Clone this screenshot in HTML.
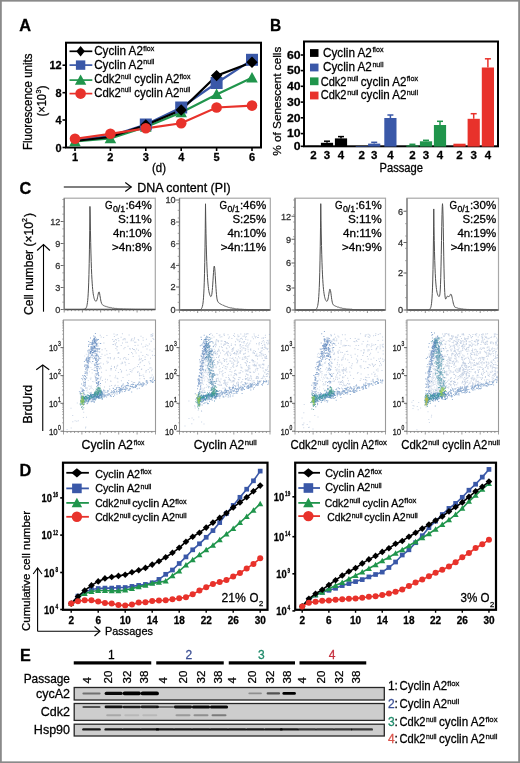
<!DOCTYPE html>
<html><head><meta charset="utf-8"><style>
html,body{margin:0;padding:0;background:#fff;width:520px;height:763px;overflow:hidden}
svg{display:block;filter:blur(0.3px);font-family:"Liberation Sans",sans-serif}
text{stroke-width:0.28px}
</style></head><body>
<svg width="520" height="763" viewBox="0 0 520 763">
<rect x="0" y="0" width="520" height="763" fill="#fff"/>
<text x="19.2" y="31.2" font-size="16.5" font-weight="bold" textLength="11.8" lengthAdjust="spacingAndGlyphs" stroke="#000">A</text>
<rect x="66" y="42.7" width="195" height="104.8" fill="none" stroke="#000" stroke-width="2" />
<line x1="62.5" y1="147.5" x2="66" y2="147.5" stroke="#000" stroke-width="1.6" />
<text x="61.7" y="151.5" font-size="11" font-weight="bold" text-anchor="end" stroke="#000">0</text>
<line x1="62.5" y1="120" x2="66" y2="120" stroke="#000" stroke-width="1.6" />
<text x="61.7" y="124" font-size="11" font-weight="bold" text-anchor="end" stroke="#000">4</text>
<line x1="62.5" y1="92.7" x2="66" y2="92.7" stroke="#000" stroke-width="1.6" />
<text x="61.7" y="96.7" font-size="11" font-weight="bold" text-anchor="end" stroke="#000">8</text>
<line x1="62.5" y1="65.2" x2="66" y2="65.2" stroke="#000" stroke-width="1.6" />
<text x="61.7" y="69.2" font-size="11" font-weight="bold" text-anchor="end" stroke="#000">12</text>
<line x1="75" y1="147.5" x2="75" y2="151" stroke="#000" stroke-width="1.6" />
<text x="75" y="160.8" font-size="11" font-weight="bold" text-anchor="middle" stroke="#000">1</text>
<line x1="110.4" y1="147.5" x2="110.4" y2="151" stroke="#000" stroke-width="1.6" />
<text x="110.4" y="160.8" font-size="11" font-weight="bold" text-anchor="middle" stroke="#000">2</text>
<line x1="145.8" y1="147.5" x2="145.8" y2="151" stroke="#000" stroke-width="1.6" />
<text x="145.8" y="160.8" font-size="11" font-weight="bold" text-anchor="middle" stroke="#000">3</text>
<line x1="181.2" y1="147.5" x2="181.2" y2="151" stroke="#000" stroke-width="1.6" />
<text x="181.2" y="160.8" font-size="11" font-weight="bold" text-anchor="middle" stroke="#000">4</text>
<line x1="216.6" y1="147.5" x2="216.6" y2="151" stroke="#000" stroke-width="1.6" />
<text x="216.6" y="160.8" font-size="11" font-weight="bold" text-anchor="middle" stroke="#000">5</text>
<line x1="252" y1="147.5" x2="252" y2="151" stroke="#000" stroke-width="1.6" />
<text x="252" y="160.8" font-size="11" font-weight="bold" text-anchor="middle" stroke="#000">6</text>
<text x="159" y="172" font-size="12" text-anchor="middle" textLength="14" lengthAdjust="spacingAndGlyphs" stroke="#000">(d)</text>
<text x="31.8" y="150" font-size="12.2" textLength="96.5" lengthAdjust="spacingAndGlyphs" stroke="#000" transform="rotate(-90 31.8 150)">Fluorescence units</text>
<text x="45.8" y="116.5" font-size="12" textLength="22.5" lengthAdjust="spacingAndGlyphs" stroke="#000" transform="rotate(-90 45.8 116.5)">(×10</text>
<text x="40.6" y="93.6" font-size="7.2" stroke="#000" transform="rotate(-90 40.6 93.6)">3</text>
<text x="45.8" y="89.5" font-size="12" stroke="#000" transform="rotate(-90 45.8 89.5)">)</text>
<polyline points="75,140 110.4,136 145.8,124.5 181.2,107.5 216.6,83 252,59.8" stroke="#3a58a8" stroke-width="2.2" fill="none" />
<polyline points="75,141.5 110.4,138.5 145.8,127 181.2,112.5 216.6,94.4 252,77.8" stroke="#20954c" stroke-width="2.2" fill="none" />
<polyline points="75,141 110.4,137 145.8,125 181.2,110 216.6,75.6 252,62.3" stroke="#000000" stroke-width="2.2" fill="none" />
<polyline points="75,138.8 110.4,133.8 145.8,128.3 181.2,123.3 216.6,107.5 252,105.6" stroke="#e8322b" stroke-width="2.2" fill="none" />
<rect x="139.8" y="118.5" width="12" height="12" fill="#3a58a8" />
<rect x="175.2" y="101.5" width="12" height="12" fill="#3a58a8" />
<rect x="210.6" y="77" width="12" height="12" fill="#3a58a8" />
<rect x="246" y="53.8" width="12" height="12" fill="#3a58a8" />
<polygon points="75,135.72 80.78,146.18 69.22,146.18" fill="#20954c" />
<polygon points="110.4,132.72 116.18,143.18 104.62,143.18" fill="#20954c" />
<polygon points="145.8,121.22 151.58,131.68 140.03,131.68" fill="#20954c" />
<polygon points="181.2,106.72 186.97,117.17 175.42,117.17" fill="#20954c" />
<polygon points="216.6,88.62 222.38,99.08 210.82,99.08" fill="#20954c" />
<polygon points="252,72.02 257.77,82.47 246.22,82.47" fill="#20954c" />
<polygon points="145.8,119.3 151.5,125 145.8,130.7 140.1,125" fill="#000000" />
<polygon points="181.2,104.3 186.9,110 181.2,115.7 175.5,110" fill="#000000" />
<polygon points="216.6,69.9 222.3,75.6 216.6,81.3 210.9,75.6" fill="#000000" />
<polygon points="252,56.6 257.7,62.3 252,68 246.3,62.3" fill="#000000" />
<circle cx="75" cy="138.8" r="5.3" fill="#e8322b" />
<circle cx="110.4" cy="133.8" r="5.3" fill="#e8322b" />
<circle cx="145.8" cy="128.3" r="5.3" fill="#e8322b" />
<circle cx="181.2" cy="123.3" r="5.3" fill="#e8322b" />
<circle cx="216.6" cy="107.5" r="5.3" fill="#e8322b" />
<circle cx="252" cy="105.6" r="5.3" fill="#e8322b" />
<line x1="69.5" y1="51.3" x2="92.3" y2="51.3" stroke="#000000" stroke-width="1.7" />
<polygon points="80.6,46 84.9,51.3 80.6,56.6 76.3,51.3" fill="#000000" />
<text x="94.2" y="55.1" font-size="12.4" textLength="48.7" lengthAdjust="spacingAndGlyphs" stroke="#000">Cyclin A2</text>
<text x="143.3" y="50.5" font-size="7.6" textLength="11" lengthAdjust="spacingAndGlyphs" stroke="#000">flox</text>
<line x1="69.5" y1="65.1" x2="92.3" y2="65.1" stroke="#3a58a8" stroke-width="1.7" />
<rect x="75.9" y="60.4" width="9.4" height="9.4" fill="#3a58a8" />
<text x="94.2" y="68.9" font-size="12.4" textLength="48.7" lengthAdjust="spacingAndGlyphs" stroke="#000">Cyclin A2</text>
<text x="143.3" y="64.3" font-size="7.6" textLength="11" lengthAdjust="spacingAndGlyphs" stroke="#000">null</text>
<line x1="69.5" y1="80.1" x2="92.3" y2="80.1" stroke="#20954c" stroke-width="1.7" />
<polygon points="80.6,74.43 86.27,84.69 74.93,84.69" fill="#20954c" />
<text x="94.2" y="83.3" font-size="12.4" textLength="26.6" lengthAdjust="spacingAndGlyphs" stroke="#000">Cdk2</text>
<text x="121.1" y="78.7" font-size="7.6" textLength="10" lengthAdjust="spacingAndGlyphs" stroke="#000">null</text>
<text x="134.2" y="83.3" font-size="12.4" textLength="45.2" lengthAdjust="spacingAndGlyphs" stroke="#000">cyclin A2</text>
<text x="179.6" y="78.7" font-size="7.6" textLength="10.8" lengthAdjust="spacingAndGlyphs" stroke="#000">flox</text>
<line x1="69.5" y1="93.6" x2="92.3" y2="93.6" stroke="#e8322b" stroke-width="1.7" />
<circle cx="80.6" cy="93.6" r="5.3" fill="#e8322b" />
<text x="94.2" y="96.8" font-size="12.4" textLength="26.6" lengthAdjust="spacingAndGlyphs" stroke="#000">Cdk2</text>
<text x="121.1" y="92.2" font-size="7.6" textLength="10" lengthAdjust="spacingAndGlyphs" stroke="#000">null</text>
<text x="134.2" y="96.8" font-size="12.4" textLength="45.2" lengthAdjust="spacingAndGlyphs" stroke="#000">cyclin A2</text>
<text x="179.6" y="92.2" font-size="7.6" textLength="10.8" lengthAdjust="spacingAndGlyphs" stroke="#000">null</text>
<text x="270" y="31.3" font-size="16.5" font-weight="bold" textLength="11.2" lengthAdjust="spacingAndGlyphs" stroke="#000">B</text>
<rect x="304" y="41.5" width="194" height="104.8" fill="none" stroke="#000" stroke-width="2" />
<line x1="300.8" y1="146.3" x2="304" y2="146.3" stroke="#000" stroke-width="1.6" />
<text x="300.6" y="150.1" font-size="11" font-weight="bold" text-anchor="end" textLength="6.8" lengthAdjust="spacingAndGlyphs" stroke="#000">0</text>
<line x1="300.8" y1="133.6" x2="304" y2="133.6" stroke="#000" stroke-width="1.6" />
<text x="300.6" y="137.4" font-size="11" font-weight="bold" text-anchor="end" textLength="13.6" lengthAdjust="spacingAndGlyphs" stroke="#000">10</text>
<line x1="300.8" y1="117.8" x2="304" y2="117.8" stroke="#000" stroke-width="1.6" />
<text x="300.6" y="121.6" font-size="11" font-weight="bold" text-anchor="end" textLength="13.6" lengthAdjust="spacingAndGlyphs" stroke="#000">20</text>
<line x1="300.8" y1="102.1" x2="304" y2="102.1" stroke="#000" stroke-width="1.6" />
<text x="300.6" y="105.9" font-size="11" font-weight="bold" text-anchor="end" textLength="13.6" lengthAdjust="spacingAndGlyphs" stroke="#000">30</text>
<line x1="300.8" y1="86.3" x2="304" y2="86.3" stroke="#000" stroke-width="1.6" />
<text x="300.6" y="90.1" font-size="11" font-weight="bold" text-anchor="end" textLength="13.6" lengthAdjust="spacingAndGlyphs" stroke="#000">40</text>
<line x1="300.8" y1="70.6" x2="304" y2="70.6" stroke="#000" stroke-width="1.6" />
<text x="300.6" y="74.4" font-size="11" font-weight="bold" text-anchor="end" textLength="13.6" lengthAdjust="spacingAndGlyphs" stroke="#000">50</text>
<line x1="300.8" y1="55" x2="304" y2="55" stroke="#000" stroke-width="1.6" />
<text x="300.6" y="58.8" font-size="11" font-weight="bold" text-anchor="end" textLength="13.6" lengthAdjust="spacingAndGlyphs" stroke="#000">60</text>
<text x="281" y="155.7" font-size="11.5" textLength="109" lengthAdjust="spacingAndGlyphs" stroke="#000" transform="rotate(-90 281 155.7)">% of Senescent cells</text>
<rect x="307.4" y="145.8" width="12.2" height="0.8" fill="#000000" />
<rect x="320.9" y="142.8" width="12.2" height="3.8" fill="#000000" />
<line x1="327" y1="141.2" x2="327" y2="142.8" stroke="#000000" stroke-width="1.5" />
<line x1="324" y1="141.2" x2="330" y2="141.2" stroke="#000000" stroke-width="1.5" />
<rect x="334.9" y="138.4" width="12.2" height="8.2" fill="#000000" />
<line x1="341" y1="136.6" x2="341" y2="138.4" stroke="#000000" stroke-width="1.5" />
<line x1="338" y1="136.6" x2="344" y2="136.6" stroke="#000000" stroke-width="1.5" />
<text x="313.5" y="159.4" font-size="11.5" font-weight="bold" text-anchor="middle" stroke="#000">2</text>
<text x="327" y="159.4" font-size="11.5" font-weight="bold" text-anchor="middle" stroke="#000">3</text>
<text x="341" y="159.4" font-size="11.5" font-weight="bold" text-anchor="middle" stroke="#000">4</text>
<rect x="355.7" y="146" width="12.2" height="0.6" fill="#3a58a8" />
<rect x="368.1" y="143.6" width="12.2" height="3" fill="#3a58a8" />
<line x1="374.2" y1="142.3" x2="374.2" y2="143.6" stroke="#3a58a8" stroke-width="1.5" />
<line x1="371.2" y1="142.3" x2="377.2" y2="142.3" stroke="#3a58a8" stroke-width="1.5" />
<rect x="384.3" y="118" width="12.2" height="28.6" fill="#3a58a8" />
<line x1="390.4" y1="115" x2="390.4" y2="118" stroke="#3a58a8" stroke-width="1.5" />
<line x1="387.4" y1="115" x2="393.4" y2="115" stroke="#3a58a8" stroke-width="1.5" />
<text x="361.8" y="159.4" font-size="11.5" font-weight="bold" text-anchor="middle" stroke="#000">2</text>
<text x="374.2" y="159.4" font-size="11.5" font-weight="bold" text-anchor="middle" stroke="#000">3</text>
<text x="390.4" y="159.4" font-size="11.5" font-weight="bold" text-anchor="middle" stroke="#000">4</text>
<rect x="406.3" y="145.3" width="12.2" height="1.3" fill="#20954c" />
<line x1="412.4" y1="144.3" x2="412.4" y2="145.3" stroke="#20954c" stroke-width="1.5" />
<line x1="409.4" y1="144.3" x2="415.4" y2="144.3" stroke="#20954c" stroke-width="1.5" />
<rect x="419.9" y="141.3" width="12.2" height="5.3" fill="#20954c" />
<line x1="426" y1="140.3" x2="426" y2="141.3" stroke="#20954c" stroke-width="1.5" />
<line x1="423" y1="140.3" x2="429" y2="140.3" stroke="#20954c" stroke-width="1.5" />
<rect x="433.9" y="125" width="12.2" height="21.6" fill="#20954c" />
<line x1="440" y1="121.3" x2="440" y2="125" stroke="#20954c" stroke-width="1.5" />
<line x1="437" y1="121.3" x2="443" y2="121.3" stroke="#20954c" stroke-width="1.5" />
<text x="412.4" y="159.4" font-size="11.5" font-weight="bold" text-anchor="middle" stroke="#000">2</text>
<text x="426" y="159.4" font-size="11.5" font-weight="bold" text-anchor="middle" stroke="#000">3</text>
<text x="440" y="159.4" font-size="11.5" font-weight="bold" text-anchor="middle" stroke="#000">4</text>
<rect x="453.4" y="143.7" width="12.2" height="2.9" fill="#e8322b" />
<rect x="467.6" y="118.8" width="12.2" height="27.8" fill="#e8322b" />
<line x1="473.7" y1="113.7" x2="473.7" y2="118.8" stroke="#e8322b" stroke-width="1.5" />
<line x1="470.7" y1="113.7" x2="476.7" y2="113.7" stroke="#e8322b" stroke-width="1.5" />
<rect x="481.8" y="67.5" width="12.2" height="79.1" fill="#e8322b" />
<line x1="487.9" y1="58.8" x2="487.9" y2="67.5" stroke="#e8322b" stroke-width="1.5" />
<line x1="484.9" y1="58.8" x2="490.9" y2="58.8" stroke="#e8322b" stroke-width="1.5" />
<text x="459.5" y="159.4" font-size="11.5" font-weight="bold" text-anchor="middle" stroke="#000">2</text>
<text x="473.7" y="159.4" font-size="11.5" font-weight="bold" text-anchor="middle" stroke="#000">3</text>
<text x="487.9" y="159.4" font-size="11.5" font-weight="bold" text-anchor="middle" stroke="#000">4</text>
<text x="379.5" y="172.2" font-size="12.5" textLength="43.5" lengthAdjust="spacingAndGlyphs" stroke="#000">Passage</text>
<rect x="310" y="49.1" width="8.5" height="7.8" fill="#000000" />
<text x="323" y="56.7" font-size="12" textLength="48.9" lengthAdjust="spacingAndGlyphs" stroke="#000">Cyclin A2</text>
<text x="372.4" y="52.1" font-size="7.6" textLength="11.1" lengthAdjust="spacingAndGlyphs" stroke="#000">flox</text>
<rect x="310" y="63.6" width="8.5" height="7.8" fill="#3a58a8" />
<text x="323" y="71.2" font-size="12" textLength="48.9" lengthAdjust="spacingAndGlyphs" stroke="#000">Cyclin A2</text>
<text x="372.4" y="66.6" font-size="7.6" textLength="11.1" lengthAdjust="spacingAndGlyphs" stroke="#000">null</text>
<rect x="310" y="77.4" width="8.5" height="7.8" fill="#20954c" />
<text x="320.7" y="85.5" font-size="12" textLength="25.8" lengthAdjust="spacingAndGlyphs" stroke="#000">Cdk2</text>
<text x="347.2" y="80.9" font-size="7.6" textLength="11.3" lengthAdjust="spacingAndGlyphs" stroke="#000">null</text>
<text x="360.8" y="85.5" font-size="12" textLength="45.7" lengthAdjust="spacingAndGlyphs" stroke="#000">cyclin A2</text>
<text x="406.8" y="80.9" font-size="7.6" textLength="11.3" lengthAdjust="spacingAndGlyphs" stroke="#000">flox</text>
<rect x="310" y="91.6" width="8.5" height="7.8" fill="#e8322b" />
<text x="320.7" y="99.4" font-size="12" textLength="25.8" lengthAdjust="spacingAndGlyphs" stroke="#000">Cdk2</text>
<text x="347.2" y="94.8" font-size="7.6" textLength="11.3" lengthAdjust="spacingAndGlyphs" stroke="#000">null</text>
<text x="360.8" y="99.4" font-size="12" textLength="45.7" lengthAdjust="spacingAndGlyphs" stroke="#000">cyclin A2</text>
<text x="406.8" y="94.8" font-size="7.6" textLength="11.3" lengthAdjust="spacingAndGlyphs" stroke="#000">null</text>
<text x="19.5" y="193.7" font-size="16.5" font-weight="bold" textLength="11.8" lengthAdjust="spacingAndGlyphs" stroke="#000">C</text>
<line x1="63.8" y1="187" x2="131.3" y2="187" stroke="#000" stroke-width="1.1" />
<polyline points="125.3,182.5 131.3,187 125.3,191.5" stroke="#000" stroke-width="1.1" fill="none" />
<text x="137.2" y="191.6" font-size="12" textLength="93.5" lengthAdjust="spacingAndGlyphs" stroke="#000">DNA content (PI)</text>
<text x="33" y="315" font-size="12" textLength="93" lengthAdjust="spacingAndGlyphs" stroke="#000" transform="rotate(-90 33 315)">Cell number (×10</text>
<text x="27" y="222" font-size="7" stroke="#000" transform="rotate(-90 27 222)">2</text>
<text x="33" y="217" font-size="12" stroke="#000" transform="rotate(-90 33 217)">)</text>
<line x1="43.5" y1="311.7" x2="43.5" y2="244.5" stroke="#000" stroke-width="1.1" />
<polyline points="37.1,250.5 43.5,244.5 49.9,250.5" stroke="#000" stroke-width="1.1" fill="none" />
<text x="32.4" y="423.5" font-size="12.2" textLength="38.5" lengthAdjust="spacingAndGlyphs" stroke="#000" transform="rotate(-90 32.4 423.5)">BrdUrd</text>
<line x1="42.75" y1="431" x2="42.75" y2="365" stroke="#000" stroke-width="1.1" />
<polyline points="36.25,369.8 42.75,365 49.25,369.8" stroke="#000" stroke-width="1.1" fill="none" />
<rect x="64.2" y="198.2" width="91.1" height="111.3" fill="none" stroke="#a8a8a8" stroke-width="1.2" />
<line x1="64.2" y1="198.2" x2="64.2" y2="309.5" stroke="#777" stroke-width="1.2" />
<line x1="64.2" y1="309.5" x2="155.3" y2="309.5" stroke="#555" stroke-width="1.3" />
<line x1="60.7" y1="309.5" x2="64.2" y2="309.5" stroke="#666" stroke-width="1" />
<text x="60.4" y="312.8" font-size="9.2" text-anchor="end" fill="#333" stroke="#333">0</text>
<line x1="60.7" y1="287.5" x2="64.2" y2="287.5" stroke="#666" stroke-width="1" />
<text x="60.4" y="290.8" font-size="9.2" text-anchor="end" fill="#333" stroke="#333">3</text>
<line x1="60.7" y1="265.5" x2="64.2" y2="265.5" stroke="#666" stroke-width="1" />
<text x="60.4" y="268.8" font-size="9.2" text-anchor="end" fill="#333" stroke="#333">6</text>
<line x1="60.7" y1="243.5" x2="64.2" y2="243.5" stroke="#666" stroke-width="1" />
<text x="60.4" y="246.8" font-size="9.2" text-anchor="end" fill="#333" stroke="#333">9</text>
<line x1="60.7" y1="221.5" x2="64.2" y2="221.5" stroke="#666" stroke-width="1" />
<text x="60.4" y="224.8" font-size="9.2" text-anchor="end" fill="#333" stroke="#333">12</text>
<line x1="62.4" y1="309.5" x2="64.2" y2="309.5" stroke="#888" stroke-width="0.8" />
<line x1="62.4" y1="302.17" x2="64.2" y2="302.17" stroke="#888" stroke-width="0.8" />
<line x1="62.4" y1="294.83" x2="64.2" y2="294.83" stroke="#888" stroke-width="0.8" />
<line x1="62.4" y1="287.5" x2="64.2" y2="287.5" stroke="#888" stroke-width="0.8" />
<line x1="62.4" y1="280.17" x2="64.2" y2="280.17" stroke="#888" stroke-width="0.8" />
<line x1="62.4" y1="272.83" x2="64.2" y2="272.83" stroke="#888" stroke-width="0.8" />
<line x1="62.4" y1="265.5" x2="64.2" y2="265.5" stroke="#888" stroke-width="0.8" />
<line x1="62.4" y1="258.17" x2="64.2" y2="258.17" stroke="#888" stroke-width="0.8" />
<line x1="62.4" y1="250.83" x2="64.2" y2="250.83" stroke="#888" stroke-width="0.8" />
<line x1="62.4" y1="243.5" x2="64.2" y2="243.5" stroke="#888" stroke-width="0.8" />
<line x1="62.4" y1="236.17" x2="64.2" y2="236.17" stroke="#888" stroke-width="0.8" />
<line x1="62.4" y1="228.83" x2="64.2" y2="228.83" stroke="#888" stroke-width="0.8" />
<line x1="62.4" y1="221.5" x2="64.2" y2="221.5" stroke="#888" stroke-width="0.8" />
<line x1="62.4" y1="214.17" x2="64.2" y2="214.17" stroke="#888" stroke-width="0.8" />
<line x1="62.4" y1="206.83" x2="64.2" y2="206.83" stroke="#888" stroke-width="0.8" />
<line x1="62.4" y1="199.5" x2="64.2" y2="199.5" stroke="#888" stroke-width="0.8" />
<line x1="64.2" y1="309.5" x2="64.2" y2="312.5" stroke="#777" stroke-width="0.8" />
<line x1="67.84" y1="309.5" x2="67.84" y2="311.1" stroke="#777" stroke-width="0.8" />
<line x1="71.49" y1="309.5" x2="71.49" y2="311.1" stroke="#777" stroke-width="0.8" />
<line x1="75.13" y1="309.5" x2="75.13" y2="311.1" stroke="#777" stroke-width="0.8" />
<line x1="78.78" y1="309.5" x2="78.78" y2="311.1" stroke="#777" stroke-width="0.8" />
<line x1="82.42" y1="309.5" x2="82.42" y2="312.5" stroke="#777" stroke-width="0.8" />
<line x1="86.06" y1="309.5" x2="86.06" y2="311.1" stroke="#777" stroke-width="0.8" />
<line x1="89.71" y1="309.5" x2="89.71" y2="311.1" stroke="#777" stroke-width="0.8" />
<line x1="93.35" y1="309.5" x2="93.35" y2="311.1" stroke="#777" stroke-width="0.8" />
<line x1="97" y1="309.5" x2="97" y2="311.1" stroke="#777" stroke-width="0.8" />
<line x1="100.64" y1="309.5" x2="100.64" y2="312.5" stroke="#777" stroke-width="0.8" />
<line x1="104.28" y1="309.5" x2="104.28" y2="311.1" stroke="#777" stroke-width="0.8" />
<line x1="107.93" y1="309.5" x2="107.93" y2="311.1" stroke="#777" stroke-width="0.8" />
<line x1="111.57" y1="309.5" x2="111.57" y2="311.1" stroke="#777" stroke-width="0.8" />
<line x1="115.22" y1="309.5" x2="115.22" y2="311.1" stroke="#777" stroke-width="0.8" />
<line x1="118.86" y1="309.5" x2="118.86" y2="312.5" stroke="#777" stroke-width="0.8" />
<line x1="122.5" y1="309.5" x2="122.5" y2="311.1" stroke="#777" stroke-width="0.8" />
<line x1="126.15" y1="309.5" x2="126.15" y2="311.1" stroke="#777" stroke-width="0.8" />
<line x1="129.79" y1="309.5" x2="129.79" y2="311.1" stroke="#777" stroke-width="0.8" />
<line x1="133.44" y1="309.5" x2="133.44" y2="311.1" stroke="#777" stroke-width="0.8" />
<line x1="137.08" y1="309.5" x2="137.08" y2="312.5" stroke="#777" stroke-width="0.8" />
<line x1="140.72" y1="309.5" x2="140.72" y2="311.1" stroke="#777" stroke-width="0.8" />
<line x1="144.37" y1="309.5" x2="144.37" y2="311.1" stroke="#777" stroke-width="0.8" />
<line x1="148.01" y1="309.5" x2="148.01" y2="311.1" stroke="#777" stroke-width="0.8" />
<line x1="151.66" y1="309.5" x2="151.66" y2="311.1" stroke="#777" stroke-width="0.8" />
<polyline points="66.2,309.5 66.45,309.5 66.7,309.5 66.95,309.5 67.2,309.5 67.45,309.5 67.7,309.5 67.95,309.5 68.2,309.5 68.45,309.5 68.7,309.5 68.95,309.5 69.2,309.5 69.45,309.5 69.7,309.5 69.95,309.5 70.2,309.5 70.45,309.5 70.7,309.5 70.95,309.5 71.2,309.5 71.45,309.5 71.7,309.5 71.95,309.5 72.2,309.5 72.45,309.5 72.7,309.5 72.95,309.5 73.2,309.5 73.45,309.5 73.7,309.5 73.95,309.5 74.2,309.5 74.45,309.5 74.7,309.5 74.95,309.5 75.2,309.5 75.45,309.5 75.7,309.5 75.95,309.5 76.2,309.5 76.45,309.5 76.7,309.5 76.95,309.5 77.2,309.5 77.45,309.5 77.7,309.5 77.95,309.5 78.2,309.5 78.45,309.5 78.7,309.5 78.95,309.5 79.2,309.5 79.45,309.5 79.7,309.5 79.95,309.5 80.2,309.5 80.45,309.5 80.7,309.5 80.95,309.49 81.2,309.49 81.45,309.49 81.7,309.49 81.95,309.48 82.2,309.48 82.45,309.47 82.7,309.47 82.95,309.45 83.2,309.44 83.45,309.42 83.7,309.4 83.95,309.36 84.2,309.31 84.45,309.24 84.7,309.17 84.95,309.03 85.2,308.96 85.45,308.64 85.7,308.63 85.95,308.11 86.2,307.77 86.45,307.18 86.7,306.58 86.95,305.62 87.2,304.19 87.45,302.5 87.7,300.54 87.95,297.61 88.2,293.85 88.45,288.98 88.7,282.86 88.95,274.54 89.2,263.61 89.45,249.15 89.7,230.79 89.95,206.41 90.2,214.96 90.45,230.21 90.7,242.64 90.95,253.06 91.2,261.47 91.45,268.48 91.7,274.57 91.95,279.21 92.2,283.16 92.45,286.57 92.7,289.49 92.95,291.64 93.2,293.75 93.45,295.23 93.7,296.41 93.95,297.68 94.2,298.59 94.45,299.38 94.7,300.03 94.95,300.32 95.2,300.86 95.45,301.13 95.7,301.24 95.95,301.43 96.2,301.19 96.45,301.06 96.7,300.47 96.95,299.76 97.2,299.03 97.45,297.82 97.7,296.47 97.95,295.23 98.2,294.09 98.45,292.9 98.7,292.14 98.95,291.88 99.2,292 99.45,292.84 99.7,293.86 99.95,295.49 100.2,297.02 100.45,298.36 100.7,299.92 100.95,301.25 101.2,302.06 101.45,303.07 101.7,303.6 101.95,304.09 102.2,304.4 102.45,304.75 102.7,304.93 102.95,305.22 103.2,305.39 103.45,305.33 103.7,305.59 103.95,305.54 104.2,305.74 104.45,305.86 104.7,306.11 104.95,305.95 105.2,306.2 105.45,306.25 105.7,306.39 105.95,306.53 106.2,306.41 106.45,306.59 106.7,306.84 106.95,306.74 107.2,306.9 107.45,306.91 107.7,306.87 107.95,307.1 108.2,307 108.45,307.15 108.7,307.4 108.95,307.19 109.2,307.32 109.45,307.28 109.7,307.59 109.95,307.65 110.2,307.47 110.45,307.59 110.7,307.83 110.95,307.67 111.2,307.72 111.45,307.72 111.7,307.83 111.95,308.05 112.2,308.12 112.45,308.16 112.7,308.2 112.95,308.18 113.2,308.03 113.45,308.16 113.7,308.2 113.95,308.14 114.2,308.39 114.45,308.38 114.7,308.32 114.95,308.24 115.2,308.39 115.45,308.58 115.7,308.38 115.95,308.58 116.2,308.43 116.45,308.58 116.7,308.48 116.95,308.54 117.2,308.61 117.45,308.74 117.7,308.78 117.95,308.79 118.2,308.83 118.45,308.83 118.7,308.82 118.95,308.73 119.2,308.79 119.45,308.92 119.7,308.92 119.95,308.77 120.2,308.86 120.45,308.95 120.7,308.95 120.95,308.88 121.2,308.99 121.45,308.94 121.7,308.9 121.95,308.93 122.2,309.04 122.45,309.01 122.7,309.01 122.95,308.99 123.2,309.1 123.45,309.13 123.7,309.13 123.95,309.09 124.2,309.09 124.45,309.1 124.7,309.14 124.95,309.08 125.2,309.13 125.45,309.16 125.7,309.16 125.95,309.15 126.2,309.16 126.45,309.21 126.7,309.24 126.95,309.22 127.2,309.2 127.45,309.24 127.7,309.21 127.95,309.27 128.2,309.26 128.45,309.23 128.7,309.28 128.95,309.25 129.2,309.27 129.45,309.25 129.7,309.3 129.95,309.32 130.2,309.28 130.45,309.28 130.7,309.28 130.95,309.29 131.2,309.34 131.45,309.33 131.7,309.32 131.95,309.31 132.2,309.31 132.45,309.34 132.7,309.32 132.95,309.34 133.2,309.36 133.45,309.36 133.7,309.36 133.95,309.36 134.2,309.35 134.45,309.36 134.7,309.38 134.95,309.36 135.2,309.39 135.45,309.4 135.7,309.4 135.95,309.39 136.2,309.41 136.45,309.38 136.7,309.39 136.95,309.42 137.2,309.41 137.45,309.41 137.7,309.42 137.95,309.4 138.2,309.42 138.45,309.41 138.7,309.42 138.95,309.41 139.2,309.42 139.45,309.42 139.7,309.43 139.95,309.43 140.2,309.43 140.45,309.44 140.7,309.44 140.95,309.44 141.2,309.45 141.45,309.44 141.7,309.44 141.95,309.44 142.2,309.45 142.45,309.44 142.7,309.45 142.95,309.45 143.2,309.45 143.45,309.45 143.7,309.46 143.95,309.46 144.2,309.45 144.45,309.45 144.7,309.47 144.95,309.45 145.2,309.46 145.45,309.46 145.7,309.46 145.95,309.46 146.2,309.46 146.45,309.46 146.7,309.47 146.95,309.47 147.2,309.47 147.45,309.47 147.7,309.47 147.95,309.47 148.2,309.47 148.45,309.47 148.7,309.47 148.95,309.47 149.2,309.48 149.45,309.48 149.7,309.48 149.95,309.48 150.2,309.48 150.45,309.48 150.7,309.48 150.95,309.48 151.2,309.48 151.45,309.48 151.7,309.48 151.95,309.48 152.2,309.48 152.45,309.48 152.7,309.48 152.95,309.48 153.2,309.48 153.45,309.48 153.7,309.48 153.95,309.49 154.2,309.49" stroke="#505050" stroke-width="1" fill="none" />
<rect x="179.5" y="198.2" width="90.8" height="111.8" fill="none" stroke="#a8a8a8" stroke-width="1.2" />
<line x1="179.5" y1="198.2" x2="179.5" y2="310" stroke="#777" stroke-width="1.2" />
<line x1="179.5" y1="310" x2="270.3" y2="310" stroke="#555" stroke-width="1.3" />
<line x1="176" y1="310" x2="179.5" y2="310" stroke="#666" stroke-width="1" />
<text x="175.7" y="313.3" font-size="9.2" text-anchor="end" fill="#333" stroke="#333">0</text>
<line x1="176" y1="287" x2="179.5" y2="287" stroke="#666" stroke-width="1" />
<text x="175.7" y="290.3" font-size="9.2" text-anchor="end" fill="#333" stroke="#333">2</text>
<line x1="176" y1="265.5" x2="179.5" y2="265.5" stroke="#666" stroke-width="1" />
<text x="175.7" y="268.8" font-size="9.2" text-anchor="end" fill="#333" stroke="#333">4</text>
<line x1="176" y1="243.75" x2="179.5" y2="243.75" stroke="#666" stroke-width="1" />
<text x="175.7" y="247.05" font-size="9.2" text-anchor="end" fill="#333" stroke="#333">6</text>
<line x1="176" y1="222" x2="179.5" y2="222" stroke="#666" stroke-width="1" />
<text x="175.7" y="225.3" font-size="9.2" text-anchor="end" fill="#333" stroke="#333">8</text>
<line x1="176" y1="200" x2="179.5" y2="200" stroke="#666" stroke-width="1" />
<text x="175.7" y="203.3" font-size="9.2" text-anchor="end" fill="#333" stroke="#333">10</text>
<line x1="177.7" y1="310" x2="179.5" y2="310" stroke="#888" stroke-width="0.8" />
<line x1="177.7" y1="302.33" x2="179.5" y2="302.33" stroke="#888" stroke-width="0.8" />
<line x1="177.7" y1="294.67" x2="179.5" y2="294.67" stroke="#888" stroke-width="0.8" />
<line x1="177.7" y1="287" x2="179.5" y2="287" stroke="#888" stroke-width="0.8" />
<line x1="177.7" y1="279.33" x2="179.5" y2="279.33" stroke="#888" stroke-width="0.8" />
<line x1="177.7" y1="271.67" x2="179.5" y2="271.67" stroke="#888" stroke-width="0.8" />
<line x1="177.7" y1="264" x2="179.5" y2="264" stroke="#888" stroke-width="0.8" />
<line x1="177.7" y1="256.33" x2="179.5" y2="256.33" stroke="#888" stroke-width="0.8" />
<line x1="177.7" y1="248.67" x2="179.5" y2="248.67" stroke="#888" stroke-width="0.8" />
<line x1="177.7" y1="241" x2="179.5" y2="241" stroke="#888" stroke-width="0.8" />
<line x1="177.7" y1="233.33" x2="179.5" y2="233.33" stroke="#888" stroke-width="0.8" />
<line x1="177.7" y1="225.67" x2="179.5" y2="225.67" stroke="#888" stroke-width="0.8" />
<line x1="177.7" y1="218" x2="179.5" y2="218" stroke="#888" stroke-width="0.8" />
<line x1="177.7" y1="210.33" x2="179.5" y2="210.33" stroke="#888" stroke-width="0.8" />
<line x1="177.7" y1="202.67" x2="179.5" y2="202.67" stroke="#888" stroke-width="0.8" />
<line x1="179.5" y1="310" x2="179.5" y2="313" stroke="#777" stroke-width="0.8" />
<line x1="183.13" y1="310" x2="183.13" y2="311.6" stroke="#777" stroke-width="0.8" />
<line x1="186.76" y1="310" x2="186.76" y2="311.6" stroke="#777" stroke-width="0.8" />
<line x1="190.4" y1="310" x2="190.4" y2="311.6" stroke="#777" stroke-width="0.8" />
<line x1="194.03" y1="310" x2="194.03" y2="311.6" stroke="#777" stroke-width="0.8" />
<line x1="197.66" y1="310" x2="197.66" y2="313" stroke="#777" stroke-width="0.8" />
<line x1="201.29" y1="310" x2="201.29" y2="311.6" stroke="#777" stroke-width="0.8" />
<line x1="204.92" y1="310" x2="204.92" y2="311.6" stroke="#777" stroke-width="0.8" />
<line x1="208.56" y1="310" x2="208.56" y2="311.6" stroke="#777" stroke-width="0.8" />
<line x1="212.19" y1="310" x2="212.19" y2="311.6" stroke="#777" stroke-width="0.8" />
<line x1="215.82" y1="310" x2="215.82" y2="313" stroke="#777" stroke-width="0.8" />
<line x1="219.45" y1="310" x2="219.45" y2="311.6" stroke="#777" stroke-width="0.8" />
<line x1="223.08" y1="310" x2="223.08" y2="311.6" stroke="#777" stroke-width="0.8" />
<line x1="226.72" y1="310" x2="226.72" y2="311.6" stroke="#777" stroke-width="0.8" />
<line x1="230.35" y1="310" x2="230.35" y2="311.6" stroke="#777" stroke-width="0.8" />
<line x1="233.98" y1="310" x2="233.98" y2="313" stroke="#777" stroke-width="0.8" />
<line x1="237.61" y1="310" x2="237.61" y2="311.6" stroke="#777" stroke-width="0.8" />
<line x1="241.24" y1="310" x2="241.24" y2="311.6" stroke="#777" stroke-width="0.8" />
<line x1="244.88" y1="310" x2="244.88" y2="311.6" stroke="#777" stroke-width="0.8" />
<line x1="248.51" y1="310" x2="248.51" y2="311.6" stroke="#777" stroke-width="0.8" />
<line x1="252.14" y1="310" x2="252.14" y2="313" stroke="#777" stroke-width="0.8" />
<line x1="255.77" y1="310" x2="255.77" y2="311.6" stroke="#777" stroke-width="0.8" />
<line x1="259.4" y1="310" x2="259.4" y2="311.6" stroke="#777" stroke-width="0.8" />
<line x1="263.04" y1="310" x2="263.04" y2="311.6" stroke="#777" stroke-width="0.8" />
<line x1="266.67" y1="310" x2="266.67" y2="311.6" stroke="#777" stroke-width="0.8" />
<polyline points="181.5,310 181.75,310 182,310 182.25,310 182.5,310 182.75,310 183,310 183.25,310 183.5,310 183.75,310 184,310 184.25,310 184.5,310 184.75,310 185,310 185.25,310 185.5,310 185.75,310 186,310 186.25,310 186.5,310 186.75,310 187,310 187.25,310 187.5,310 187.75,310 188,310 188.25,310 188.5,310 188.75,310 189,310 189.25,310 189.5,310 189.75,310 190,310 190.25,310 190.5,310 190.75,310 191,310 191.25,310 191.5,310 191.75,310 192,310 192.25,310 192.5,310 192.75,310 193,310 193.25,310 193.5,310 193.75,310 194,310 194.25,310 194.5,310 194.75,310 195,310 195.25,310 195.5,310 195.75,310 196,310 196.25,310 196.5,309.99 196.75,309.99 197,309.99 197.25,309.99 197.5,309.98 197.75,309.98 198,309.97 198.25,309.96 198.5,309.95 198.75,309.93 199,309.92 199.25,309.89 199.5,309.84 199.75,309.81 200,309.75 200.25,309.64 200.5,309.54 200.75,309.46 201,309.2 201.25,309.05 201.5,308.54 201.75,308.08 202,307.62 202.25,306.76 202.5,306.01 202.75,304.58 203,303.01 203.25,300.66 203.5,297.82 203.75,293.95 204,288.76 204.25,282.26 204.5,273.66 204.75,262.37 205,247.66 205.25,228.54 205.5,203.79 205.75,220.13 206,233.71 206.25,244.84 206.5,254.05 206.75,261.52 207,267.87 207.25,273.22 207.5,277.39 207.75,280.92 208,284.06 208.25,286.44 208.5,288.68 208.75,290.34 209,291.82 209.25,293.01 209.5,293.89 209.75,294.77 210,295.3 210.25,295.93 210.5,296.43 210.75,296.54 211,296.39 211.25,296.24 211.5,295.72 211.75,294.57 212,292.98 212.25,290.44 212.5,287.54 212.75,284.09 213,280.24 213.25,276.13 213.5,272.48 213.75,269.23 214,266.94 214.25,266.04 214.5,266.7 214.75,268.4 215,271.69 215.25,275.61 215.5,280 215.75,284.37 216,288.37 216.25,291.76 216.5,294.69 216.75,297.07 217,298.89 217.25,299.9 217.5,300.94 217.75,301.47 218,302.08 218.25,302.23 218.5,302.58 218.75,302.77 219,302.99 219.25,303.2 219.5,303.31 219.75,303.36 220,303.78 220.25,303.87 220.5,304.11 220.75,304.05 221,304.22 221.25,304.49 221.5,304.57 221.75,304.64 222,304.77 222.25,305.04 222.5,304.95 222.75,305.11 223,305.42 223.25,305.31 223.5,305.46 223.75,305.56 224,305.74 224.25,305.94 224.5,305.84 224.75,306.03 225,306.2 225.25,306.32 225.5,306.22 225.75,306.46 226,306.51 226.25,306.58 226.5,306.6 226.75,306.74 227,306.95 227.25,306.9 227.5,307.01 227.75,307.07 228,307.09 228.25,307.3 228.5,307.39 228.75,307.48 229,307.49 229.25,307.64 229.5,307.51 229.75,307.67 230,307.76 230.25,307.85 230.5,307.85 230.75,307.92 231,307.96 231.25,307.95 231.5,307.98 231.75,307.94 232,307.95 232.25,308.27 232.5,308.27 232.75,308.19 233,308.38 233.25,308.21 233.5,308.44 233.75,308.33 234,308.39 234.25,308.39 234.5,308.65 234.75,308.63 235,308.53 235.25,308.75 235.5,308.8 235.75,308.73 236,308.69 236.25,308.89 236.5,308.91 236.75,308.95 237,308.87 237.25,308.82 237.5,308.99 237.75,308.81 238,308.97 238.25,308.94 238.5,309.07 238.75,309 239,308.92 239.25,309.09 239.5,309.18 239.75,309.14 240,309.16 240.25,309.16 240.5,309.18 240.75,309.31 241,309.3 241.25,309.25 241.5,309.22 241.75,309.22 242,309.24 242.25,309.31 242.5,309.24 242.75,309.38 243,309.37 243.25,309.33 243.5,309.33 243.75,309.43 244,309.37 244.25,309.45 244.5,309.42 244.75,309.55 245,309.55 245.25,309.43 245.5,309.56 245.75,309.49 246,309.56 246.25,309.58 246.5,309.57 246.75,309.51 247,309.57 247.25,309.53 247.5,309.57 247.75,309.6 248,309.61 248.25,309.66 248.5,309.69 248.75,309.65 249,309.64 249.25,309.62 249.5,309.65 249.75,309.64 250,309.64 250.25,309.65 250.5,309.67 250.75,309.74 251,309.73 251.25,309.75 251.5,309.7 251.75,309.71 252,309.75 252.25,309.74 252.5,309.73 252.75,309.74 253,309.79 253.25,309.76 253.5,309.76 253.75,309.81 254,309.81 254.25,309.8 254.5,309.82 254.75,309.78 255,309.8 255.25,309.8 255.5,309.8 255.75,309.83 256,309.84 256.25,309.82 256.5,309.84 256.75,309.82 257,309.84 257.25,309.85 257.5,309.84 257.75,309.86 258,309.87 258.25,309.85 258.5,309.87 258.75,309.88 259,309.86 259.25,309.86 259.5,309.89 259.75,309.87 260,309.87 260.25,309.9 260.5,309.88 260.75,309.89 261,309.91 261.25,309.9 261.5,309.91 261.75,309.91 262,309.92 262.25,309.92 262.5,309.91 262.75,309.91 263,309.92 263.25,309.91 263.5,309.93 263.75,309.93 264,309.92 264.25,309.92 264.5,309.92 264.75,309.92 265,309.93 265.25,309.94 265.5,309.93 265.75,309.94 266,309.94 266.25,309.94 266.5,309.93 266.75,309.94 267,309.93 267.25,309.94 267.5,309.94 267.75,309.94 268,309.94 268.25,309.94 268.5,309.94 268.75,309.95 269,309.95 269.25,309.96" stroke="#505050" stroke-width="1" fill="none" />
<rect x="295" y="198.2" width="90.5" height="111.8" fill="none" stroke="#a8a8a8" stroke-width="1.2" />
<line x1="295" y1="198.2" x2="295" y2="310" stroke="#777" stroke-width="1.2" />
<line x1="295" y1="310" x2="385.5" y2="310" stroke="#555" stroke-width="1.3" />
<line x1="291.5" y1="310" x2="295" y2="310" stroke="#666" stroke-width="1" />
<text x="291.2" y="313.3" font-size="9.2" text-anchor="end" fill="#333" stroke="#333">0</text>
<line x1="291.5" y1="288" x2="295" y2="288" stroke="#666" stroke-width="1" />
<text x="291.2" y="291.3" font-size="9.2" text-anchor="end" fill="#333" stroke="#333">3</text>
<line x1="291.5" y1="263" x2="295" y2="263" stroke="#666" stroke-width="1" />
<text x="291.2" y="266.3" font-size="9.2" text-anchor="end" fill="#333" stroke="#333">6</text>
<line x1="291.5" y1="239.25" x2="295" y2="239.25" stroke="#666" stroke-width="1" />
<text x="291.2" y="242.55" font-size="9.2" text-anchor="end" fill="#333" stroke="#333">9</text>
<line x1="291.5" y1="216.25" x2="295" y2="216.25" stroke="#666" stroke-width="1" />
<text x="291.2" y="219.55" font-size="9.2" text-anchor="end" fill="#333" stroke="#333">12</text>
<line x1="293.2" y1="310" x2="295" y2="310" stroke="#888" stroke-width="0.8" />
<line x1="293.2" y1="302.67" x2="295" y2="302.67" stroke="#888" stroke-width="0.8" />
<line x1="293.2" y1="295.33" x2="295" y2="295.33" stroke="#888" stroke-width="0.8" />
<line x1="293.2" y1="288" x2="295" y2="288" stroke="#888" stroke-width="0.8" />
<line x1="293.2" y1="280.67" x2="295" y2="280.67" stroke="#888" stroke-width="0.8" />
<line x1="293.2" y1="273.33" x2="295" y2="273.33" stroke="#888" stroke-width="0.8" />
<line x1="293.2" y1="266" x2="295" y2="266" stroke="#888" stroke-width="0.8" />
<line x1="293.2" y1="258.67" x2="295" y2="258.67" stroke="#888" stroke-width="0.8" />
<line x1="293.2" y1="251.33" x2="295" y2="251.33" stroke="#888" stroke-width="0.8" />
<line x1="293.2" y1="244" x2="295" y2="244" stroke="#888" stroke-width="0.8" />
<line x1="293.2" y1="236.67" x2="295" y2="236.67" stroke="#888" stroke-width="0.8" />
<line x1="293.2" y1="229.33" x2="295" y2="229.33" stroke="#888" stroke-width="0.8" />
<line x1="293.2" y1="222" x2="295" y2="222" stroke="#888" stroke-width="0.8" />
<line x1="293.2" y1="214.67" x2="295" y2="214.67" stroke="#888" stroke-width="0.8" />
<line x1="293.2" y1="207.33" x2="295" y2="207.33" stroke="#888" stroke-width="0.8" />
<line x1="293.2" y1="200" x2="295" y2="200" stroke="#888" stroke-width="0.8" />
<line x1="295" y1="310" x2="295" y2="313" stroke="#777" stroke-width="0.8" />
<line x1="298.62" y1="310" x2="298.62" y2="311.6" stroke="#777" stroke-width="0.8" />
<line x1="302.24" y1="310" x2="302.24" y2="311.6" stroke="#777" stroke-width="0.8" />
<line x1="305.86" y1="310" x2="305.86" y2="311.6" stroke="#777" stroke-width="0.8" />
<line x1="309.48" y1="310" x2="309.48" y2="311.6" stroke="#777" stroke-width="0.8" />
<line x1="313.1" y1="310" x2="313.1" y2="313" stroke="#777" stroke-width="0.8" />
<line x1="316.72" y1="310" x2="316.72" y2="311.6" stroke="#777" stroke-width="0.8" />
<line x1="320.34" y1="310" x2="320.34" y2="311.6" stroke="#777" stroke-width="0.8" />
<line x1="323.96" y1="310" x2="323.96" y2="311.6" stroke="#777" stroke-width="0.8" />
<line x1="327.58" y1="310" x2="327.58" y2="311.6" stroke="#777" stroke-width="0.8" />
<line x1="331.2" y1="310" x2="331.2" y2="313" stroke="#777" stroke-width="0.8" />
<line x1="334.82" y1="310" x2="334.82" y2="311.6" stroke="#777" stroke-width="0.8" />
<line x1="338.44" y1="310" x2="338.44" y2="311.6" stroke="#777" stroke-width="0.8" />
<line x1="342.06" y1="310" x2="342.06" y2="311.6" stroke="#777" stroke-width="0.8" />
<line x1="345.68" y1="310" x2="345.68" y2="311.6" stroke="#777" stroke-width="0.8" />
<line x1="349.3" y1="310" x2="349.3" y2="313" stroke="#777" stroke-width="0.8" />
<line x1="352.92" y1="310" x2="352.92" y2="311.6" stroke="#777" stroke-width="0.8" />
<line x1="356.54" y1="310" x2="356.54" y2="311.6" stroke="#777" stroke-width="0.8" />
<line x1="360.16" y1="310" x2="360.16" y2="311.6" stroke="#777" stroke-width="0.8" />
<line x1="363.78" y1="310" x2="363.78" y2="311.6" stroke="#777" stroke-width="0.8" />
<line x1="367.4" y1="310" x2="367.4" y2="313" stroke="#777" stroke-width="0.8" />
<line x1="371.02" y1="310" x2="371.02" y2="311.6" stroke="#777" stroke-width="0.8" />
<line x1="374.64" y1="310" x2="374.64" y2="311.6" stroke="#777" stroke-width="0.8" />
<line x1="378.26" y1="310" x2="378.26" y2="311.6" stroke="#777" stroke-width="0.8" />
<line x1="381.88" y1="310" x2="381.88" y2="311.6" stroke="#777" stroke-width="0.8" />
<polyline points="297,310 297.25,310 297.5,310 297.75,310 298,310 298.25,310 298.5,310 298.75,310 299,310 299.25,310 299.5,310 299.75,310 300,310 300.25,310 300.5,310 300.75,310 301,310 301.25,310 301.5,310 301.75,310 302,310 302.25,310 302.5,310 302.75,310 303,310 303.25,310 303.5,310 303.75,310 304,310 304.25,310 304.5,310 304.75,310 305,310 305.25,310 305.5,310 305.75,310 306,310 306.25,310 306.5,310 306.75,310 307,310 307.25,310 307.5,310 307.75,310 308,310 308.25,310 308.5,310 308.75,310 309,310 309.25,310 309.5,310 309.75,310 310,310 310.25,310 310.5,310 310.75,310 311,310 311.25,309.99 311.5,309.99 311.75,309.99 312,309.99 312.25,309.99 312.5,309.98 312.75,309.97 313,309.97 313.25,309.96 313.5,309.95 313.75,309.92 314,309.9 314.25,309.89 314.5,309.86 314.75,309.83 315,309.74 315.25,309.71 315.5,309.56 315.75,309.4 316,309.3 316.25,308.98 316.5,308.71 316.75,308.5 317,307.85 317.25,307.3 317.5,306.43 317.75,305.39 318,303.87 318.25,302.13 318.5,299.85 318.75,296.67 319,292.62 319.25,287.6 319.5,280.94 319.75,272.24 320,260.88 320.25,246.41 320.5,227.84 320.75,203.68 321,220.17 321.25,233.99 321.5,245.45 321.75,254.75 322,262.68 322.25,269.34 322.5,274.89 322.75,279.45 323,283.29 323.25,286.58 323.5,289.28 323.75,291.49 324,293.27 324.25,294.93 324.5,296.35 324.75,297.45 325,298.32 325.25,299.17 325.5,299.81 325.75,300.24 326,300.79 326.25,301 326.5,301.26 326.75,301.26 327,301.22 327.25,301.03 327.5,300.61 327.75,300.03 328,299 328.25,297.87 328.5,296.33 328.75,294.78 329,293.08 329.25,291.65 329.5,290.34 329.75,289.3 330,289.25 330.25,289.54 330.5,290.55 330.75,291.99 331,293.84 331.25,295.71 331.5,297.75 331.75,299.47 332,300.93 332.25,302.18 332.5,303.16 332.75,303.89 333,304.31 333.25,304.82 333.5,304.89 333.75,305.2 334,305.42 334.25,305.53 334.5,305.8 334.75,305.73 335,305.87 335.25,306.02 335.5,306.2 335.75,306.2 336,306.33 336.25,306.45 336.5,306.47 336.75,306.65 337,306.82 337.25,306.86 337.5,307.05 337.75,307.13 338,307.05 338.25,307.12 338.5,307.14 338.75,307.25 339,307.41 339.25,307.62 339.5,307.57 339.75,307.5 340,307.61 340.25,307.76 340.5,307.83 340.75,307.96 341,308.03 341.25,308.12 341.5,307.93 341.75,308.06 342,308.26 342.25,308.23 342.5,308.39 342.75,308.39 343,308.28 343.25,308.35 343.5,308.44 343.75,308.55 344,308.48 344.25,308.43 344.5,308.62 344.75,308.77 345,308.81 345.25,308.84 345.5,308.61 345.75,308.77 346,308.72 346.25,308.95 346.5,308.95 346.75,308.85 347,308.82 347.25,309.02 347.5,309.13 347.75,308.92 348,309.11 348.25,309.01 348.5,309.2 348.75,309.08 349,309.07 349.25,309.12 349.5,309.23 349.75,309.17 350,309.32 350.25,309.3 350.5,309.3 350.75,309.22 351,309.39 351.25,309.26 351.5,309.3 351.75,309.29 352,309.42 352.25,309.46 352.5,309.47 352.75,309.39 353,309.38 353.25,309.44 353.5,309.49 353.75,309.53 354,309.46 354.25,309.47 354.5,309.6 354.75,309.59 355,309.52 355.25,309.53 355.5,309.61 355.75,309.63 356,309.62 356.25,309.62 356.5,309.68 356.75,309.61 357,309.65 357.25,309.63 357.5,309.7 357.75,309.63 358,309.66 358.25,309.71 358.5,309.67 358.75,309.7 359,309.69 359.25,309.77 359.5,309.77 359.75,309.72 360,309.76 360.25,309.76 360.5,309.79 360.75,309.74 361,309.78 361.25,309.76 361.5,309.82 361.75,309.8 362,309.83 362.25,309.78 362.5,309.81 362.75,309.84 363,309.84 363.25,309.82 363.5,309.85 363.75,309.85 364,309.84 364.25,309.84 364.5,309.84 364.75,309.85 365,309.86 365.25,309.86 365.5,309.88 365.75,309.88 366,309.86 366.25,309.89 366.5,309.89 366.75,309.89 367,309.89 367.25,309.91 367.5,309.91 367.75,309.9 368,309.91 368.25,309.89 368.5,309.89 368.75,309.9 369,309.9 369.25,309.91 369.5,309.92 369.75,309.92 370,309.92 370.25,309.92 370.5,309.93 370.75,309.93 371,309.92 371.25,309.93 371.5,309.93 371.75,309.92 372,309.94 372.25,309.94 372.5,309.93 372.75,309.94 373,309.94 373.25,309.95 373.5,309.95 373.75,309.95 374,309.95 374.25,309.95 374.5,309.96 374.75,309.95 375,309.95 375.25,309.95 375.5,309.96 375.75,309.95 376,309.96 376.25,309.96 376.5,309.96 376.75,309.96 377,309.96 377.25,309.97 377.5,309.96 377.75,309.96 378,309.97 378.25,309.97 378.5,309.97 378.75,309.97 379,309.97 379.25,309.97 379.5,309.97 379.75,309.97 380,309.98 380.25,309.98 380.5,309.97 380.75,309.98 381,309.98 381.25,309.97 381.5,309.98 381.75,309.98 382,309.98 382.25,309.98 382.5,309.98 382.75,309.98 383,309.98 383.25,309.98 383.5,309.98 383.75,309.98 384,309.98 384.25,309.98" stroke="#505050" stroke-width="1" fill="none" />
<rect x="407" y="198.2" width="91.5" height="111.8" fill="none" stroke="#a8a8a8" stroke-width="1.2" />
<line x1="407" y1="198.2" x2="407" y2="310" stroke="#777" stroke-width="1.2" />
<line x1="407" y1="310" x2="498.5" y2="310" stroke="#555" stroke-width="1.3" />
<line x1="403.5" y1="310" x2="407" y2="310" stroke="#666" stroke-width="1" />
<text x="403.2" y="313.3" font-size="9.2" text-anchor="end" fill="#333" stroke="#333">0</text>
<line x1="403.5" y1="273" x2="407" y2="273" stroke="#666" stroke-width="1" />
<text x="403.2" y="276.3" font-size="9.2" text-anchor="end" fill="#333" stroke="#333">2</text>
<line x1="403.5" y1="242.5" x2="407" y2="242.5" stroke="#666" stroke-width="1" />
<text x="403.2" y="245.8" font-size="9.2" text-anchor="end" fill="#333" stroke="#333">4</text>
<line x1="403.5" y1="211.25" x2="407" y2="211.25" stroke="#666" stroke-width="1" />
<text x="403.2" y="214.55" font-size="9.2" text-anchor="end" fill="#333" stroke="#333">6</text>
<line x1="405.2" y1="310" x2="407" y2="310" stroke="#888" stroke-width="0.8" />
<line x1="405.2" y1="297.67" x2="407" y2="297.67" stroke="#888" stroke-width="0.8" />
<line x1="405.2" y1="285.33" x2="407" y2="285.33" stroke="#888" stroke-width="0.8" />
<line x1="405.2" y1="273" x2="407" y2="273" stroke="#888" stroke-width="0.8" />
<line x1="405.2" y1="260.67" x2="407" y2="260.67" stroke="#888" stroke-width="0.8" />
<line x1="405.2" y1="248.33" x2="407" y2="248.33" stroke="#888" stroke-width="0.8" />
<line x1="405.2" y1="236" x2="407" y2="236" stroke="#888" stroke-width="0.8" />
<line x1="405.2" y1="223.67" x2="407" y2="223.67" stroke="#888" stroke-width="0.8" />
<line x1="405.2" y1="211.33" x2="407" y2="211.33" stroke="#888" stroke-width="0.8" />
<line x1="407" y1="310" x2="407" y2="313" stroke="#777" stroke-width="0.8" />
<line x1="410.66" y1="310" x2="410.66" y2="311.6" stroke="#777" stroke-width="0.8" />
<line x1="414.32" y1="310" x2="414.32" y2="311.6" stroke="#777" stroke-width="0.8" />
<line x1="417.98" y1="310" x2="417.98" y2="311.6" stroke="#777" stroke-width="0.8" />
<line x1="421.64" y1="310" x2="421.64" y2="311.6" stroke="#777" stroke-width="0.8" />
<line x1="425.3" y1="310" x2="425.3" y2="313" stroke="#777" stroke-width="0.8" />
<line x1="428.96" y1="310" x2="428.96" y2="311.6" stroke="#777" stroke-width="0.8" />
<line x1="432.62" y1="310" x2="432.62" y2="311.6" stroke="#777" stroke-width="0.8" />
<line x1="436.28" y1="310" x2="436.28" y2="311.6" stroke="#777" stroke-width="0.8" />
<line x1="439.94" y1="310" x2="439.94" y2="311.6" stroke="#777" stroke-width="0.8" />
<line x1="443.6" y1="310" x2="443.6" y2="313" stroke="#777" stroke-width="0.8" />
<line x1="447.26" y1="310" x2="447.26" y2="311.6" stroke="#777" stroke-width="0.8" />
<line x1="450.92" y1="310" x2="450.92" y2="311.6" stroke="#777" stroke-width="0.8" />
<line x1="454.58" y1="310" x2="454.58" y2="311.6" stroke="#777" stroke-width="0.8" />
<line x1="458.24" y1="310" x2="458.24" y2="311.6" stroke="#777" stroke-width="0.8" />
<line x1="461.9" y1="310" x2="461.9" y2="313" stroke="#777" stroke-width="0.8" />
<line x1="465.56" y1="310" x2="465.56" y2="311.6" stroke="#777" stroke-width="0.8" />
<line x1="469.22" y1="310" x2="469.22" y2="311.6" stroke="#777" stroke-width="0.8" />
<line x1="472.88" y1="310" x2="472.88" y2="311.6" stroke="#777" stroke-width="0.8" />
<line x1="476.54" y1="310" x2="476.54" y2="311.6" stroke="#777" stroke-width="0.8" />
<line x1="480.2" y1="310" x2="480.2" y2="313" stroke="#777" stroke-width="0.8" />
<line x1="483.86" y1="310" x2="483.86" y2="311.6" stroke="#777" stroke-width="0.8" />
<line x1="487.52" y1="310" x2="487.52" y2="311.6" stroke="#777" stroke-width="0.8" />
<line x1="491.18" y1="310" x2="491.18" y2="311.6" stroke="#777" stroke-width="0.8" />
<line x1="494.84" y1="310" x2="494.84" y2="311.6" stroke="#777" stroke-width="0.8" />
<polyline points="409,310 409.25,310 409.5,310 409.75,310 410,310 410.25,310 410.5,310 410.75,310 411,310 411.25,310 411.5,310 411.75,310 412,310 412.25,310 412.5,310 412.75,310 413,310 413.25,310 413.5,310 413.75,310 414,310 414.25,310 414.5,310 414.75,310 415,310 415.25,310 415.5,310 415.75,310 416,310 416.25,310 416.5,310 416.75,310 417,310 417.25,310 417.5,310 417.75,310 418,310 418.25,310 418.5,310 418.75,310 419,310 419.25,310 419.5,310 419.75,310 420,310 420.25,310 420.5,310 420.75,310 421,310 421.25,310 421.5,310 421.75,310 422,310 422.25,310 422.5,310 422.75,310 423,310 423.25,310 423.5,310 423.75,310 424,310 424.25,310 424.5,310 424.75,310 425,310 425.25,310 425.5,310 425.75,310 426,309.99 426.25,309.99 426.5,309.99 426.75,309.98 427,309.97 427.25,309.97 427.5,309.95 427.75,309.94 428,309.91 428.25,309.9 428.5,309.83 428.75,309.82 429,309.74 429.25,309.62 429.5,309.43 429.75,309.34 430,308.91 430.25,308.51 430.5,308.26 430.75,307.45 431,306.71 431.25,305.34 431.5,303.73 431.75,301.13 432,298.12 432.25,293.66 432.5,287.87 432.75,279.93 433,269.43 433.25,254.99 433.5,235.27 433.75,208.95 434,226.39 434.25,240.51 434.5,251.67 434.75,260.49 435,267.79 435.25,273.67 435.5,278.3 435.75,281.93 436,284.96 436.25,287.37 436.5,289.42 436.75,290.94 437,292.31 437.25,293.29 437.5,294.09 437.75,294.95 438,295.43 438.25,295.83 438.5,296.12 438.75,296.49 439,296.51 439.25,296.4 439.5,295.91 439.75,295.09 440,293.12 440.25,289.98 440.5,284.71 440.75,277.25 441,266.88 441.25,254.55 441.5,240.48 441.75,226.68 442,214.55 442.25,206.56 442.5,203.7 442.75,206.75 443,215.09 443.25,227.39 443.5,241.74 443.75,256.19 444,268.87 444.25,279.44 444.5,287.12 444.75,292.46 445,295.97 445.25,297.85 445.5,298.89 445.75,298.95 446,298.85 446.25,298.24 446.5,297.74 446.75,297.03 447,296.74 447.25,296.36 447.5,296.01 447.75,296.07 448,296.2 448.25,296.34 448.5,296.67 448.75,296.71 449,296.79 449.25,296.48 449.5,296.2 449.75,295.86 450,295.25 450.25,294.58 450.5,294.34 450.75,294.18 451,294.15 451.25,294.51 451.5,295.05 451.75,295.97 452,297.09 452.25,298.25 452.5,299.51 452.75,300.63 453,301.81 453.25,303.02 453.5,304.14 453.75,304.77 454,305.47 454.25,305.97 454.5,306.54 454.75,306.97 455,307.06 455.25,307.41 455.5,307.37 455.75,307.49 456,307.71 456.25,307.64 456.5,307.95 456.75,307.79 457,308 457.25,307.97 457.5,308.04 457.75,308.03 458,308.09 458.25,308.42 458.5,308.48 458.75,308.37 459,308.58 459.25,308.44 459.5,308.52 459.75,308.53 460,308.64 460.25,308.73 460.5,308.57 460.75,308.67 461,308.93 461.25,308.94 461.5,308.82 461.75,308.95 462,308.95 462.25,308.87 462.5,309.03 462.75,308.9 463,308.99 463.25,309.07 463.5,309.19 463.75,309.16 464,309.1 464.25,309.07 464.5,309.31 464.75,309.32 465,309.21 465.25,309.21 465.5,309.39 465.75,309.26 466,309.29 466.25,309.33 466.5,309.42 466.75,309.42 467,309.45 467.25,309.39 467.5,309.49 467.75,309.5 468,309.43 468.25,309.45 468.5,309.46 468.75,309.5 469,309.61 469.25,309.62 469.5,309.57 469.75,309.55 470,309.56 470.25,309.6 470.5,309.58 470.75,309.68 471,309.68 471.25,309.68 471.5,309.7 471.75,309.7 472,309.73 472.25,309.71 472.5,309.75 472.75,309.72 473,309.69 473.25,309.74 473.5,309.74 473.75,309.74 474,309.73 474.25,309.75 474.5,309.75 474.75,309.79 475,309.76 475.25,309.81 475.5,309.81 475.75,309.79 476,309.82 476.25,309.8 476.5,309.81 476.75,309.85 477,309.85 477.25,309.86 477.5,309.83 477.75,309.86 478,309.86 478.25,309.87 478.5,309.88 478.75,309.87 479,309.88 479.25,309.87 479.5,309.89 479.75,309.88 480,309.87 480.25,309.89 480.5,309.88 480.75,309.91 481,309.9 481.25,309.9 481.5,309.89 481.75,309.9 482,309.91 482.25,309.91 482.5,309.91 482.75,309.91 483,309.91 483.25,309.91 483.5,309.93 483.75,309.93 484,309.94 484.25,309.93 484.5,309.93 484.75,309.94 485,309.94 485.25,309.95 485.5,309.95 485.75,309.95 486,309.95 486.25,309.95 486.5,309.96 486.75,309.95 487,309.95 487.25,309.95 487.5,309.95 487.75,309.96 488,309.96 488.25,309.96 488.5,309.96 488.75,309.97 489,309.96 489.25,309.96 489.5,309.96 489.75,309.97 490,309.96 490.25,309.97 490.5,309.97 490.75,309.97 491,309.97 491.25,309.98 491.5,309.97 491.75,309.97 492,309.98 492.25,309.98 492.5,309.98 492.75,309.98 493,309.98 493.25,309.98 493.5,309.98 493.75,309.98 494,309.98 494.25,309.98 494.5,309.98 494.75,309.98 495,309.98 495.25,309.98 495.5,309.98 495.75,309.98 496,309.98 496.25,309.99 496.5,309.99 496.75,309.99 497,309.99 497.25,309.99" stroke="#505050" stroke-width="1" fill="none" />
<text x="151.7" y="209" font-size="10.6" text-anchor="end" textLength="26.3" lengthAdjust="spacingAndGlyphs" stroke="#000">:64%</text>
<text x="125.1" y="211.6" font-size="8.2" text-anchor="end" textLength="12.2" lengthAdjust="spacingAndGlyphs" stroke="#000">0/1</text>
<text x="112.7" y="209" font-size="10.6" text-anchor="end" textLength="7.6" lengthAdjust="spacingAndGlyphs" stroke="#000">G</text>
<text x="151.7" y="222.8" font-size="10.6" text-anchor="end" textLength="33.8" lengthAdjust="spacingAndGlyphs" stroke="#000">S:11%</text>
<text x="151.7" y="236.7" font-size="10.6" text-anchor="end" textLength="38.8" lengthAdjust="spacingAndGlyphs" stroke="#000">4n:10%</text>
<text x="151.7" y="250.5" font-size="10.6" text-anchor="end" textLength="39.6" lengthAdjust="spacingAndGlyphs" stroke="#000">>4n:8%</text>
<text x="266.2" y="209" font-size="10.6" text-anchor="end" textLength="26.3" lengthAdjust="spacingAndGlyphs" stroke="#000">:46%</text>
<text x="239.6" y="211.6" font-size="8.2" text-anchor="end" textLength="12.2" lengthAdjust="spacingAndGlyphs" stroke="#000">0/1</text>
<text x="227.2" y="209" font-size="10.6" text-anchor="end" textLength="7.6" lengthAdjust="spacingAndGlyphs" stroke="#000">G</text>
<text x="266.2" y="222.8" font-size="10.6" text-anchor="end" textLength="33.8" lengthAdjust="spacingAndGlyphs" stroke="#000">S:25%</text>
<text x="266.2" y="236.7" font-size="10.6" text-anchor="end" textLength="38.8" lengthAdjust="spacingAndGlyphs" stroke="#000">4n:10%</text>
<text x="266.2" y="250.5" font-size="10.6" text-anchor="end" textLength="45.5" lengthAdjust="spacingAndGlyphs" stroke="#000">>4n:11%</text>
<text x="381.7" y="209" font-size="10.6" text-anchor="end" textLength="26.3" lengthAdjust="spacingAndGlyphs" stroke="#000">:61%</text>
<text x="355.1" y="211.6" font-size="8.2" text-anchor="end" textLength="12.2" lengthAdjust="spacingAndGlyphs" stroke="#000">0/1</text>
<text x="342.7" y="209" font-size="10.6" text-anchor="end" textLength="7.6" lengthAdjust="spacingAndGlyphs" stroke="#000">G</text>
<text x="381.7" y="222.8" font-size="10.6" text-anchor="end" textLength="33.8" lengthAdjust="spacingAndGlyphs" stroke="#000">S:11%</text>
<text x="381.7" y="236.7" font-size="10.6" text-anchor="end" textLength="38.8" lengthAdjust="spacingAndGlyphs" stroke="#000">4n:11%</text>
<text x="381.7" y="250.5" font-size="10.6" text-anchor="end" textLength="39.6" lengthAdjust="spacingAndGlyphs" stroke="#000">>4n:9%</text>
<text x="496.2" y="209" font-size="10.6" text-anchor="end" textLength="26.3" lengthAdjust="spacingAndGlyphs" stroke="#000">:30%</text>
<text x="469.6" y="211.6" font-size="8.2" text-anchor="end" textLength="12.2" lengthAdjust="spacingAndGlyphs" stroke="#000">0/1</text>
<text x="457.2" y="209" font-size="10.6" text-anchor="end" textLength="7.6" lengthAdjust="spacingAndGlyphs" stroke="#000">G</text>
<text x="496.2" y="222.8" font-size="10.6" text-anchor="end" textLength="33.8" lengthAdjust="spacingAndGlyphs" stroke="#000">S:25%</text>
<text x="496.2" y="236.7" font-size="10.6" text-anchor="end" textLength="38.8" lengthAdjust="spacingAndGlyphs" stroke="#000">4n:19%</text>
<text x="496.2" y="250.5" font-size="10.6" text-anchor="end" textLength="45.5" lengthAdjust="spacingAndGlyphs" stroke="#000">>4n:19%</text>
<rect x="63.5" y="320" width="92" height="111.5" fill="none" stroke="#9a9a9a" stroke-width="1.1" />
<line x1="60.5" y1="431.2" x2="63.5" y2="431.2" stroke="#555" stroke-width="0.9" />
<text x="57.7" y="434.6" font-size="9.8" text-anchor="end" textLength="8.8" lengthAdjust="spacingAndGlyphs" fill="#222" stroke="#222">10</text>
<text x="58" y="429.8" font-size="6.4" textLength="2.8" lengthAdjust="spacingAndGlyphs" fill="#222" stroke="#222">0</text>
<line x1="60.5" y1="403.3" x2="63.5" y2="403.3" stroke="#555" stroke-width="0.9" />
<text x="57.7" y="406.7" font-size="9.8" text-anchor="end" textLength="8.8" lengthAdjust="spacingAndGlyphs" fill="#222" stroke="#222">10</text>
<text x="58" y="401.9" font-size="6.4" textLength="2.8" lengthAdjust="spacingAndGlyphs" fill="#222" stroke="#222">1</text>
<line x1="60.5" y1="375.6" x2="63.5" y2="375.6" stroke="#555" stroke-width="0.9" />
<text x="57.7" y="379" font-size="9.8" text-anchor="end" textLength="8.8" lengthAdjust="spacingAndGlyphs" fill="#222" stroke="#222">10</text>
<text x="58" y="374.2" font-size="6.4" textLength="2.8" lengthAdjust="spacingAndGlyphs" fill="#222" stroke="#222">2</text>
<line x1="60.5" y1="347.6" x2="63.5" y2="347.6" stroke="#555" stroke-width="0.9" />
<text x="57.7" y="351" font-size="9.8" text-anchor="end" textLength="8.8" lengthAdjust="spacingAndGlyphs" fill="#222" stroke="#222">10</text>
<text x="58" y="346.2" font-size="6.4" textLength="2.8" lengthAdjust="spacingAndGlyphs" fill="#222" stroke="#222">3</text>
<line x1="62" y1="422.8" x2="63.5" y2="422.8" stroke="#888" stroke-width="0.6" />
<line x1="62" y1="417.89" x2="63.5" y2="417.89" stroke="#888" stroke-width="0.6" />
<line x1="62" y1="414.4" x2="63.5" y2="414.4" stroke="#888" stroke-width="0.6" />
<line x1="62" y1="411.7" x2="63.5" y2="411.7" stroke="#888" stroke-width="0.6" />
<line x1="62" y1="409.49" x2="63.5" y2="409.49" stroke="#888" stroke-width="0.6" />
<line x1="62" y1="407.62" x2="63.5" y2="407.62" stroke="#888" stroke-width="0.6" />
<line x1="62" y1="406" x2="63.5" y2="406" stroke="#888" stroke-width="0.6" />
<line x1="62" y1="404.58" x2="63.5" y2="404.58" stroke="#888" stroke-width="0.6" />
<line x1="62" y1="394.9" x2="63.5" y2="394.9" stroke="#888" stroke-width="0.6" />
<line x1="62" y1="389.99" x2="63.5" y2="389.99" stroke="#888" stroke-width="0.6" />
<line x1="62" y1="386.5" x2="63.5" y2="386.5" stroke="#888" stroke-width="0.6" />
<line x1="62" y1="383.8" x2="63.5" y2="383.8" stroke="#888" stroke-width="0.6" />
<line x1="62" y1="381.59" x2="63.5" y2="381.59" stroke="#888" stroke-width="0.6" />
<line x1="62" y1="379.72" x2="63.5" y2="379.72" stroke="#888" stroke-width="0.6" />
<line x1="62" y1="378.1" x2="63.5" y2="378.1" stroke="#888" stroke-width="0.6" />
<line x1="62" y1="376.68" x2="63.5" y2="376.68" stroke="#888" stroke-width="0.6" />
<line x1="62" y1="367" x2="63.5" y2="367" stroke="#888" stroke-width="0.6" />
<line x1="62" y1="362.09" x2="63.5" y2="362.09" stroke="#888" stroke-width="0.6" />
<line x1="62" y1="358.6" x2="63.5" y2="358.6" stroke="#888" stroke-width="0.6" />
<line x1="62" y1="355.9" x2="63.5" y2="355.9" stroke="#888" stroke-width="0.6" />
<line x1="62" y1="353.69" x2="63.5" y2="353.69" stroke="#888" stroke-width="0.6" />
<line x1="62" y1="351.82" x2="63.5" y2="351.82" stroke="#888" stroke-width="0.6" />
<line x1="62" y1="350.2" x2="63.5" y2="350.2" stroke="#888" stroke-width="0.6" />
<line x1="62" y1="348.78" x2="63.5" y2="348.78" stroke="#888" stroke-width="0.6" />
<line x1="62" y1="339.1" x2="63.5" y2="339.1" stroke="#888" stroke-width="0.6" />
<line x1="62" y1="334.19" x2="63.5" y2="334.19" stroke="#888" stroke-width="0.6" />
<line x1="62" y1="330.7" x2="63.5" y2="330.7" stroke="#888" stroke-width="0.6" />
<line x1="62" y1="328" x2="63.5" y2="328" stroke="#888" stroke-width="0.6" />
<line x1="62" y1="325.79" x2="63.5" y2="325.79" stroke="#888" stroke-width="0.6" />
<line x1="62" y1="323.92" x2="63.5" y2="323.92" stroke="#888" stroke-width="0.6" />
<line x1="62" y1="322.3" x2="63.5" y2="322.3" stroke="#888" stroke-width="0.6" />
<line x1="62" y1="320.88" x2="63.5" y2="320.88" stroke="#888" stroke-width="0.6" />
<line x1="63.5" y1="431.5" x2="63.5" y2="434.5" stroke="#777" stroke-width="0.7" />
<line x1="67.18" y1="431.5" x2="67.18" y2="433" stroke="#777" stroke-width="0.7" />
<line x1="70.86" y1="431.5" x2="70.86" y2="433" stroke="#777" stroke-width="0.7" />
<line x1="74.54" y1="431.5" x2="74.54" y2="433" stroke="#777" stroke-width="0.7" />
<line x1="78.22" y1="431.5" x2="78.22" y2="433" stroke="#777" stroke-width="0.7" />
<line x1="81.9" y1="431.5" x2="81.9" y2="434.5" stroke="#777" stroke-width="0.7" />
<line x1="85.58" y1="431.5" x2="85.58" y2="433" stroke="#777" stroke-width="0.7" />
<line x1="89.26" y1="431.5" x2="89.26" y2="433" stroke="#777" stroke-width="0.7" />
<line x1="92.94" y1="431.5" x2="92.94" y2="433" stroke="#777" stroke-width="0.7" />
<line x1="96.62" y1="431.5" x2="96.62" y2="433" stroke="#777" stroke-width="0.7" />
<line x1="100.3" y1="431.5" x2="100.3" y2="434.5" stroke="#777" stroke-width="0.7" />
<line x1="103.98" y1="431.5" x2="103.98" y2="433" stroke="#777" stroke-width="0.7" />
<line x1="107.66" y1="431.5" x2="107.66" y2="433" stroke="#777" stroke-width="0.7" />
<line x1="111.34" y1="431.5" x2="111.34" y2="433" stroke="#777" stroke-width="0.7" />
<line x1="115.02" y1="431.5" x2="115.02" y2="433" stroke="#777" stroke-width="0.7" />
<line x1="118.7" y1="431.5" x2="118.7" y2="434.5" stroke="#777" stroke-width="0.7" />
<line x1="122.38" y1="431.5" x2="122.38" y2="433" stroke="#777" stroke-width="0.7" />
<line x1="126.06" y1="431.5" x2="126.06" y2="433" stroke="#777" stroke-width="0.7" />
<line x1="129.74" y1="431.5" x2="129.74" y2="433" stroke="#777" stroke-width="0.7" />
<line x1="133.42" y1="431.5" x2="133.42" y2="433" stroke="#777" stroke-width="0.7" />
<line x1="137.1" y1="431.5" x2="137.1" y2="434.5" stroke="#777" stroke-width="0.7" />
<line x1="140.78" y1="431.5" x2="140.78" y2="433" stroke="#777" stroke-width="0.7" />
<line x1="144.46" y1="431.5" x2="144.46" y2="433" stroke="#777" stroke-width="0.7" />
<line x1="148.14" y1="431.5" x2="148.14" y2="433" stroke="#777" stroke-width="0.7" />
<line x1="151.82" y1="431.5" x2="151.82" y2="433" stroke="#777" stroke-width="0.7" />
<line x1="155.5" y1="431.5" x2="155.5" y2="434.5" stroke="#777" stroke-width="0.7" />
<path fill="#8aa2c8" fill-opacity="0.5" d="M107.0 379.2h1v1h-1zM97.7 342.5h1v1h-1zM123.4 348.3h1v1h-1zM138.6 359.6h1v1h-1zM120.9 380.3h1v1h-1zM124.7 339.3h1v1h-1zM97.3 351.6h1v1h-1zM124.8 362.3h1v1h-1zM151.1 370.3h1v1h-1zM145.9 338.8h1v1h-1zM138.9 374.5h1v1h-1zM102.9 363.6h1v1h-1zM148.4 361.4h1v1h-1zM146.2 353.9h1v1h-1zM106.2 350.3h1v1h-1zM133.2 382.0h1v1h-1zM97.8 387.7h1v1h-1zM103.4 342.6h1v1h-1zM114.9 344.6h1v1h-1zM105.7 369.7h1v1h-1zM140.5 375.1h1v1h-1zM144.0 378.3h1v1h-1zM116.6 349.6h1v1h-1zM115.1 344.5h1v1h-1zM103.1 337.0h1v1h-1zM101.5 353.7h1v1h-1zM137.9 363.9h1v1h-1zM131.3 381.0h1v1h-1zM99.8 334.8h1v1h-1zM124.4 337.9h1v1h-1zM119.9 368.9h1v1h-1zM145.7 369.9h1v1h-1zM138.2 339.8h1v1h-1zM131.5 338.3h1v1h-1zM128.6 334.5h1v1h-1zM151.6 368.7h1v1h-1zM153.7 348.4h1v1h-1zM116.2 346.3h1v1h-1zM110.5 369.6h1v1h-1zM142.7 339.7h1v1h-1zM100.3 362.5h1v1h-1zM117.7 338.0h1v1h-1zM100.7 336.6h1v1h-1zM115.1 369.8h1v1h-1zM100.7 376.5h1v1h-1zM113.4 358.4h1v1h-1zM142.3 355.1h1v1h-1zM149.0 371.6h1v1h-1zM142.5 337.2h1v1h-1zM129.1 348.3h1v1h-1zM132.3 382.8h1v1h-1zM117.5 385.2h1v1h-1zM106.4 335.1h1v1h-1zM121.9 333.2h1v1h-1zM139.0 375.2h1v1h-1zM100.2 357.9h1v1h-1zM97.8 374.9h1v1h-1zM141.2 368.4h1v1h-1zM114.0 357.6h1v1h-1zM137.2 372.0h1v1h-1zM139.1 366.2h1v1h-1zM150.6 333.9h1v1h-1zM119.8 358.6h1v1h-1zM117.4 381.5h1v1h-1zM143.3 375.9h1v1h-1zM140.9 369.0h1v1h-1zM134.4 367.2h1v1h-1zM143.6 377.9h1v1h-1zM133.8 349.0h1v1h-1zM152.0 354.7h1v1h-1zM115.9 367.7h1v1h-1zM139.3 378.2h1v1h-1zM151.6 350.7h1v1h-1zM116.0 342.3h1v1h-1zM132.0 348.0h1v1h-1zM117.8 357.1h1v1h-1zM123.3 338.4h1v1h-1zM100.9 367.6h1v1h-1zM97.7 382.3h1v1h-1zM140.6 351.8h1v1h-1zM122.8 385.6h1v1h-1zM132.7 356.1h1v1h-1zM139.4 362.5h1v1h-1zM120.8 386.7h1v1h-1zM117.9 372.1h1v1h-1zM106.4 360.8h1v1h-1zM142.6 374.5h1v1h-1zM144.8 359.0h1v1h-1zM139.1 372.7h1v1h-1zM147.3 345.2h1v1h-1zM134.1 337.2h1v1h-1zM136.9 366.0h1v1h-1zM107.8 361.8h1v1h-1zM141.0 358.3h1v1h-1zM115.9 339.5h1v1h-1zM122.0 384.4h1v1h-1zM115.1 339.1h1v1h-1zM129.5 386.2h1v1h-1zM134.7 350.5h1v1h-1zM129.9 348.5h1v1h-1zM115.0 384.7h1v1h-1zM109.2 385.8h1v1h-1zM145.5 371.5h1v1h-1zM114.1 385.5h1v1h-1zM122.0 342.6h1v1h-1zM101.9 380.1h1v1h-1zM114.0 367.0h1v1h-1zM101.6 349.3h1v1h-1zM116.5 365.8h1v1h-1zM137.7 339.0h1v1h-1zM153.0 376.6h1v1h-1zM132.8 368.3h1v1h-1zM112.2 338.9h1v1h-1zM134.6 345.1h1v1h-1zM132.9 349.0h1v1h-1zM144.4 359.1h1v1h-1zM127.5 345.7h1v1h-1zM149.4 349.4h1v1h-1zM120.7 363.3h1v1h-1zM113.2 341.1h1v1h-1zM126.7 374.4h1v1h-1zM150.0 357.8h1v1h-1zM138.5 355.4h1v1h-1zM125.2 364.5h1v1h-1zM125.4 341.7h1v1h-1zM134.2 382.0h1v1h-1zM122.5 339.3h1v1h-1zM128.5 363.1h1v1h-1zM150.6 340.7h1v1h-1zM145.3 371.4h1v1h-1zM104.0 386.6h1v1h-1zM117.8 352.1h1v1h-1zM149.4 367.4h1v1h-1zM114.8 384.8h1v1h-1zM150.5 367.3h1v1h-1zM110.4 381.0h1v1h-1zM120.9 371.4h1v1h-1zM152.2 335.0h1v1h-1zM131.1 352.0h1v1h-1zM127.8 358.8h1v1h-1zM109.8 356.9h1v1h-1zM137.9 349.8h1v1h-1zM126.8 341.8h1v1h-1zM125.9 369.8h1v1h-1zM104.5 354.7h1v1h-1zM105.0 381.5h1v1h-1zM150.4 335.4h1v1h-1zM152.5 338.1h1v1h-1zM117.3 378.3h1v1h-1zM99.3 358.2h1v1h-1zM128.7 373.7h1v1h-1zM139.2 357.8h1v1h-1zM134.1 341.7h1v1h-1zM99.7 385.2h1v1h-1zM110.1 368.3h1v1h-1zM137.5 344.8h1v1h-1zM99.8 365.8h1v1h-1zM145.6 344.5h1v1h-1zM153.9 355.1h1v1h-1zM110.9 365.7h1v1h-1zM99.7 366.6h1v1h-1zM153.3 338.9h1v1h-1zM141.0 343.6h1v1h-1zM122.9 358.2h1v1h-1zM124.3 361.4h1v1h-1zM149.6 380.1h1v1h-1zM117.2 364.7h1v1h-1zM99.7 377.6h1v1h-1zM132.1 353.3h1v1h-1zM114.7 343.3h1v1h-1zM136.1 348.4h1v1h-1zM151.5 334.4h1v1h-1zM117.5 353.0h1v1h-1zM110.9 368.0h1v1h-1zM99.7 379.3h1v1h-1zM144.8 345.9h1v1h-1zM101.1 371.8h1v1h-1zM151.7 374.4h1v1h-1zM137.5 371.0h1v1h-1zM143.8 364.9h1v1h-1zM107.6 357.4h1v1h-1zM106.8 362.5h1v1h-1zM152.3 333.3h1v1h-1zM113.5 333.4h1v1h-1zM142.4 360.1h1v1h-1zM106.5 353.7h1v1h-1zM113.9 340.4h1v1h-1zM135.6 352.5h1v1h-1zM111.0 368.3h1v1h-1zM140.1 361.8h1v1h-1zM147.5 354.8h1v1h-1zM115.1 375.4h1v1h-1zM113.9 335.9h1v1h-1zM98.2 381.7h1v1h-1zM121.1 370.4h1v1h-1zM100.4 356.1h1v1h-1zM129.9 371.0h1v1h-1zM129.5 369.0h1v1h-1zM131.6 369.8h1v1h-1zM131.3 371.6h1v1h-1zM127.3 381.9h1v1h-1zM146.5 348.4h1v1h-1zM117.0 334.2h1v1h-1zM104.7 348.3h1v1h-1zM109.4 353.0h1v1h-1zM142.5 346.6h1v1h-1zM109.9 358.2h1v1h-1zM148.9 343.4h1v1h-1zM128.1 354.0h1v1h-1zM104.9 378.8h1v1h-1zM132.7 340.2h1v1h-1zM118.6 352.4h1v1h-1zM149.2 363.3h1v1h-1zM109.5 375.3h1v1h-1zM110.2 380.4h1v1h-1zM124.5 347.1h1v1h-1zM125.2 385.4h1v1h-1zM107.5 356.9h1v1h-1zM118.3 340.2h1v1h-1zM135.3 341.7h1v1h-1zM123.8 357.1h1v1h-1zM100.1 377.7h1v1h-1zM120.6 336.8h1v1h-1zM120.7 345.0h1v1h-1zM122.5 377.1h1v1h-1zM98.0 378.3h1v1h-1zM112.5 344.0h1v1h-1zM151.6 336.1h1v1h-1zM147.7 369.0h1v1h-1zM151.1 376.7h1v1h-1zM140.5 335.7h1v1h-1zM121.7 361.7h1v1h-1zM150.9 340.8h1v1h-1zM114.0 366.0h1v1h-1zM130.9 339.2h1v1h-1zM130.6 340.2h1v1h-1zM122.1 362.7h1v1h-1zM111.1 385.1h1v1h-1zM115.7 334.6h1v1h-1zM133.8 338.5h1v1h-1zM113.0 344.1h1v1h-1zM116.6 377.8h1v1h-1zM117.1 346.2h1v1h-1zM115.4 348.0h1v1h-1zM144.6 356.6h1v1h-1zM128.2 380.1h1v1h-1zM97.7 348.4h1v1h-1zM139.5 358.9h1v1h-1zM125.7 359.1h1v1h-1zM141.7 360.5h1v1h-1zM125.2 357.5h1v1h-1zM114.6 377.3h1v1h-1z"/>
<path fill="#9ab0d0" fill-opacity="0.4" d="M86.8 389.6h1v1h-1zM91.1 392.2h1v1h-1zM85.8 353.8h1v1h-1zM96.2 362.6h1v1h-1zM89.9 358.2h1v1h-1zM98.0 393.0h1v1h-1zM93.3 381.3h1v1h-1zM86.9 391.7h1v1h-1zM96.9 394.3h1v1h-1zM88.1 385.6h1v1h-1zM92.9 389.3h1v1h-1zM94.7 392.3h1v1h-1zM85.4 377.4h1v1h-1zM86.6 386.9h1v1h-1zM90.0 393.9h1v1h-1zM89.0 371.2h1v1h-1zM88.4 359.8h1v1h-1zM87.8 379.9h1v1h-1zM89.0 352.5h1v1h-1zM97.7 363.9h1v1h-1zM90.4 367.0h1v1h-1zM90.4 386.2h1v1h-1zM87.5 351.1h1v1h-1zM86.7 364.5h1v1h-1zM87.6 363.8h1v1h-1zM96.4 379.8h1v1h-1zM96.4 389.4h1v1h-1zM86.4 371.6h1v1h-1zM89.6 388.0h1v1h-1zM92.1 369.0h1v1h-1zM91.7 372.6h1v1h-1zM86.8 364.4h1v1h-1zM84.9 358.8h1v1h-1zM95.2 390.1h1v1h-1zM85.8 377.1h1v1h-1zM89.6 362.1h1v1h-1zM94.7 374.2h1v1h-1zM93.6 368.2h1v1h-1zM89.7 351.7h1v1h-1zM95.2 381.4h1v1h-1zM97.9 389.1h1v1h-1zM90.7 377.4h1v1h-1zM96.4 356.6h1v1h-1zM91.3 368.9h1v1h-1zM89.4 359.2h1v1h-1zM97.9 357.7h1v1h-1zM94.8 363.2h1v1h-1zM85.9 390.3h1v1h-1zM91.6 387.9h1v1h-1zM89.3 385.7h1v1h-1zM90.9 391.8h1v1h-1zM94.6 354.9h1v1h-1zM88.7 359.9h1v1h-1zM92.4 352.0h1v1h-1zM87.3 350.2h1v1h-1zM90.2 378.9h1v1h-1zM96.4 368.4h1v1h-1zM94.3 375.4h1v1h-1zM89.1 389.1h1v1h-1zM87.9 362.9h1v1h-1zM92.4 361.0h1v1h-1zM90.7 387.0h1v1h-1zM97.8 351.1h1v1h-1zM88.1 391.7h1v1h-1zM96.9 365.6h1v1h-1zM87.3 351.5h1v1h-1zM95.2 359.8h1v1h-1zM96.1 353.6h1v1h-1zM86.6 388.0h1v1h-1zM90.2 352.5h1v1h-1zM94.0 352.4h1v1h-1zM89.8 377.7h1v1h-1zM85.5 359.4h1v1h-1zM94.7 365.1h1v1h-1zM90.8 385.4h1v1h-1zM86.6 369.1h1v1h-1zM84.7 382.8h1v1h-1zM91.3 362.7h1v1h-1zM88.1 355.9h1v1h-1zM95.4 353.1h1v1h-1zM86.2 387.7h1v1h-1zM84.2 355.5h1v1h-1zM96.7 353.5h1v1h-1zM89.8 357.1h1v1h-1zM96.0 373.5h1v1h-1zM92.0 381.0h1v1h-1z"/>
<path fill="#4a76b4" fill-opacity="0.6" d="M91.1 348.3h1v1h-1zM91.6 347.9h1v1h-1zM89.2 349.8h1v1h-1zM90.0 352.0h1v1h-1zM84.6 371.3h1v1h-1zM86.3 370.6h1v1h-1zM83.8 378.0h1v1h-1zM91.0 347.5h1v1h-1zM92.2 339.8h1v1h-1zM91.1 349.1h1v1h-1zM90.3 349.3h1v1h-1zM80.9 393.1h1v1h-1zM86.3 364.4h1v1h-1zM84.7 384.7h1v1h-1zM92.5 340.3h1v1h-1zM86.1 358.6h1v1h-1zM86.1 367.2h1v1h-1zM89.0 357.1h1v1h-1zM86.6 374.4h1v1h-1zM87.2 359.5h1v1h-1zM86.6 361.6h1v1h-1zM83.4 393.3h1v1h-1zM95.0 336.7h1v1h-1zM81.7 389.7h1v1h-1zM79.9 394.3h1v1h-1zM87.8 354.6h1v1h-1zM84.6 364.2h1v1h-1zM90.3 346.4h1v1h-1zM89.3 361.0h1v1h-1zM84.0 374.9h1v1h-1zM84.6 375.5h1v1h-1zM86.5 366.9h1v1h-1zM86.4 366.8h1v1h-1zM84.4 385.2h1v1h-1zM87.2 357.7h1v1h-1zM91.5 342.5h1v1h-1zM86.3 360.4h1v1h-1zM91.6 349.5h1v1h-1zM84.3 394.0h1v1h-1zM85.0 381.6h1v1h-1zM88.0 367.2h1v1h-1zM93.6 338.8h1v1h-1zM83.9 361.1h1v1h-1zM83.2 383.4h1v1h-1zM80.0 391.8h1v1h-1zM81.1 394.7h1v1h-1zM86.2 377.5h1v1h-1zM83.0 389.2h1v1h-1zM87.7 366.8h1v1h-1zM81.4 378.1h1v1h-1zM92.6 348.1h1v1h-1zM92.4 352.0h1v1h-1zM83.1 381.5h1v1h-1zM91.1 348.2h1v1h-1zM91.1 346.4h1v1h-1zM82.2 379.3h1v1h-1zM87.6 365.9h1v1h-1zM93.2 338.9h1v1h-1zM81.3 401.0h1v1h-1zM91.0 350.5h1v1h-1zM90.2 347.8h1v1h-1zM93.1 345.5h1v1h-1zM91.8 343.9h1v1h-1zM82.8 385.0h1v1h-1zM87.5 359.6h1v1h-1zM90.8 349.1h1v1h-1zM92.9 343.0h1v1h-1zM88.1 356.8h1v1h-1zM92.7 342.0h1v1h-1zM84.3 386.1h1v1h-1zM91.9 350.0h1v1h-1zM89.0 358.4h1v1h-1zM88.2 360.3h1v1h-1zM85.1 367.4h1v1h-1zM83.2 390.0h1v1h-1zM84.6 373.0h1v1h-1zM81.0 397.6h1v1h-1zM84.2 366.0h1v1h-1zM87.3 365.1h1v1h-1zM88.5 349.2h1v1h-1zM85.2 372.4h1v1h-1zM85.5 360.1h1v1h-1zM86.6 373.1h1v1h-1zM83.8 382.0h1v1h-1zM94.0 346.0h1v1h-1zM84.5 379.4h1v1h-1zM81.8 388.5h1v1h-1zM96.7 339.3h1v1h-1zM88.1 352.6h1v1h-1zM86.3 367.5h1v1h-1zM90.6 345.9h1v1h-1zM92.4 344.0h1v1h-1zM90.9 350.6h1v1h-1zM87.1 369.6h1v1h-1zM87.6 364.7h1v1h-1zM86.5 372.1h1v1h-1zM87.7 362.7h1v1h-1zM81.4 390.9h1v1h-1zM78.9 391.2h1v1h-1zM88.5 352.6h1v1h-1zM92.3 349.8h1v1h-1zM93.9 341.3h1v1h-1zM82.3 390.4h1v1h-1zM88.2 366.5h1v1h-1zM86.1 359.3h1v1h-1zM93.8 337.7h1v1h-1zM87.4 366.5h1v1h-1zM82.7 385.3h1v1h-1zM90.1 353.1h1v1h-1zM88.3 358.3h1v1h-1zM93.9 340.6h1v1h-1zM92.9 342.7h1v1h-1zM95.3 338.8h1v1h-1zM86.7 362.0h1v1h-1zM90.9 350.2h1v1h-1zM87.5 361.5h1v1h-1zM89.8 352.9h1v1h-1zM87.2 356.6h1v1h-1zM83.2 393.5h1v1h-1zM86.5 368.1h1v1h-1zM91.8 354.6h1v1h-1zM90.1 351.1h1v1h-1zM90.2 356.6h1v1h-1zM92.5 342.1h1v1h-1zM91.8 345.5h1v1h-1zM87.8 359.5h1v1h-1zM83.7 390.1h1v1h-1zM91.5 342.7h1v1h-1zM87.4 357.7h1v1h-1zM80.5 387.5h1v1h-1zM87.3 365.0h1v1h-1zM86.7 366.0h1v1h-1zM83.0 393.2h1v1h-1zM82.3 375.1h1v1h-1zM94.1 343.2h1v1h-1zM87.8 362.4h1v1h-1zM83.3 390.2h1v1h-1zM85.2 387.6h1v1h-1zM82.2 391.3h1v1h-1zM82.1 389.7h1v1h-1zM91.2 354.8h1v1h-1zM81.1 383.4h1v1h-1zM85.0 375.9h1v1h-1zM86.0 357.5h1v1h-1zM87.8 361.3h1v1h-1zM87.9 359.6h1v1h-1zM93.1 342.7h1v1h-1zM92.9 348.5h1v1h-1zM84.6 384.0h1v1h-1zM85.9 359.1h1v1h-1zM88.3 354.4h1v1h-1zM85.0 378.9h1v1h-1zM85.2 369.0h1v1h-1zM84.7 382.4h1v1h-1zM84.3 365.3h1v1h-1zM87.3 359.4h1v1h-1zM82.9 376.5h1v1h-1zM85.7 364.8h1v1h-1zM84.5 378.2h1v1h-1zM87.4 360.4h1v1h-1z"/>
<path fill="#3f70b0" fill-opacity="0.6" d="M95.2 348.3h1v1h-1zM93.7 346.2h1v1h-1zM93.9 340.8h1v1h-1zM93.6 339.5h1v1h-1zM89.7 341.9h1v1h-1zM94.3 351.0h1v1h-1zM96.0 343.6h1v1h-1zM91.9 347.2h1v1h-1zM95.7 350.8h1v1h-1zM96.7 349.3h1v1h-1zM93.5 346.2h1v1h-1zM88.1 344.5h1v1h-1zM95.5 345.6h1v1h-1zM92.7 352.3h1v1h-1zM99.2 348.0h1v1h-1zM94.9 332.9h1v1h-1zM92.0 342.6h1v1h-1zM96.9 339.5h1v1h-1zM95.6 357.5h1v1h-1zM94.2 336.5h1v1h-1zM91.8 352.1h1v1h-1zM94.8 348.6h1v1h-1zM91.9 340.7h1v1h-1zM92.4 352.5h1v1h-1zM91.6 352.5h1v1h-1zM95.0 342.4h1v1h-1zM97.5 347.9h1v1h-1zM88.2 341.0h1v1h-1zM93.3 351.6h1v1h-1zM92.1 346.7h1v1h-1zM90.7 343.9h1v1h-1zM89.3 343.7h1v1h-1zM90.7 354.6h1v1h-1zM91.7 356.8h1v1h-1zM95.4 342.6h1v1h-1zM93.9 363.7h1v1h-1zM88.4 358.2h1v1h-1zM88.0 345.9h1v1h-1zM87.6 350.3h1v1h-1zM93.5 340.8h1v1h-1zM91.8 349.2h1v1h-1zM91.7 343.3h1v1h-1zM97.1 354.6h1v1h-1zM89.6 351.2h1v1h-1zM97.9 356.3h1v1h-1zM95.5 355.7h1v1h-1zM93.5 347.2h1v1h-1zM99.8 343.1h1v1h-1zM94.0 346.8h1v1h-1zM100.2 342.9h1v1h-1zM91.8 354.4h1v1h-1zM92.2 360.9h1v1h-1zM93.8 345.4h1v1h-1zM96.0 354.6h1v1h-1zM90.7 350.9h1v1h-1zM98.0 339.0h1v1h-1zM93.9 349.7h1v1h-1zM96.5 343.6h1v1h-1zM98.7 349.1h1v1h-1zM97.4 345.4h1v1h-1zM95.1 355.2h1v1h-1zM91.4 352.2h1v1h-1zM96.2 345.5h1v1h-1zM91.4 342.2h1v1h-1zM95.7 338.6h1v1h-1zM94.1 342.1h1v1h-1zM90.0 337.5h1v1h-1zM93.8 338.6h1v1h-1zM96.5 344.1h1v1h-1zM99.2 351.4h1v1h-1z"/>
<path fill="#4a76b4" fill-opacity="0.65" d="M94.9 376.6h1v1h-1zM97.4 374.1h1v1h-1zM93.8 370.1h1v1h-1zM97.7 373.7h1v1h-1zM97.5 372.1h1v1h-1zM97.6 383.8h1v1h-1zM96.9 370.5h1v1h-1zM98.7 392.7h1v1h-1zM98.0 372.3h1v1h-1zM96.9 378.4h1v1h-1zM94.3 339.5h1v1h-1zM97.5 381.6h1v1h-1zM97.1 377.8h1v1h-1zM97.3 363.8h1v1h-1zM93.5 346.7h1v1h-1zM96.5 348.6h1v1h-1zM96.8 350.5h1v1h-1zM98.3 375.0h1v1h-1zM98.6 363.3h1v1h-1zM97.2 366.0h1v1h-1zM100.0 382.9h1v1h-1zM95.4 378.3h1v1h-1zM94.4 365.1h1v1h-1zM94.9 340.1h1v1h-1zM94.6 340.2h1v1h-1zM95.3 370.2h1v1h-1zM94.3 346.0h1v1h-1zM99.2 368.2h1v1h-1zM94.6 366.8h1v1h-1zM98.3 375.2h1v1h-1zM97.1 383.2h1v1h-1zM97.6 359.1h1v1h-1zM96.3 354.9h1v1h-1zM99.4 390.3h1v1h-1zM95.2 359.7h1v1h-1zM96.1 358.4h1v1h-1zM95.5 364.3h1v1h-1zM95.9 374.4h1v1h-1zM93.6 338.0h1v1h-1zM95.1 358.7h1v1h-1zM95.0 342.6h1v1h-1zM95.5 373.0h1v1h-1zM96.6 388.9h1v1h-1zM98.5 387.6h1v1h-1zM97.3 373.1h1v1h-1zM98.6 357.7h1v1h-1zM98.3 384.1h1v1h-1zM94.2 356.8h1v1h-1zM95.1 351.3h1v1h-1zM94.9 347.2h1v1h-1zM96.3 343.1h1v1h-1zM95.6 345.0h1v1h-1zM97.6 385.6h1v1h-1zM96.7 363.9h1v1h-1zM95.4 341.0h1v1h-1zM96.9 360.9h1v1h-1zM93.2 355.4h1v1h-1zM94.5 340.5h1v1h-1zM95.7 344.0h1v1h-1zM96.1 382.1h1v1h-1zM92.7 358.3h1v1h-1zM98.0 381.7h1v1h-1zM93.6 348.1h1v1h-1zM97.7 360.0h1v1h-1zM97.6 390.4h1v1h-1zM96.7 369.5h1v1h-1zM96.2 388.9h1v1h-1zM96.1 382.9h1v1h-1zM97.2 367.7h1v1h-1zM95.7 378.4h1v1h-1zM96.2 386.3h1v1h-1zM96.1 353.6h1v1h-1zM97.6 383.5h1v1h-1zM98.5 380.9h1v1h-1zM95.1 342.1h1v1h-1zM97.6 355.4h1v1h-1zM96.0 366.3h1v1h-1zM96.0 379.7h1v1h-1zM96.1 362.6h1v1h-1zM97.9 366.3h1v1h-1zM96.1 340.3h1v1h-1zM93.9 346.7h1v1h-1zM94.2 357.3h1v1h-1zM95.9 362.5h1v1h-1zM97.1 385.1h1v1h-1zM94.5 351.3h1v1h-1zM95.6 376.9h1v1h-1zM93.2 335.4h1v1h-1zM96.7 364.2h1v1h-1zM97.5 377.8h1v1h-1zM94.4 358.1h1v1h-1zM93.5 350.8h1v1h-1zM94.6 353.3h1v1h-1zM96.4 361.4h1v1h-1zM96.8 370.8h1v1h-1zM99.1 387.8h1v1h-1zM98.7 357.6h1v1h-1zM97.1 369.6h1v1h-1zM94.9 350.1h1v1h-1zM95.5 358.3h1v1h-1zM93.1 350.6h1v1h-1zM98.1 382.5h1v1h-1zM96.2 360.2h1v1h-1zM97.2 377.7h1v1h-1zM96.3 367.8h1v1h-1zM95.4 362.1h1v1h-1zM97.6 373.7h1v1h-1zM96.3 348.1h1v1h-1zM97.3 385.1h1v1h-1zM95.6 379.8h1v1h-1z"/>
<path fill="#4a7ab6" fill-opacity="0.6" d="M130.0 388.2h1v1h-1zM121.1 388.6h1v1h-1zM93.7 402.1h1v1h-1zM130.8 384.0h1v1h-1zM91.4 398.5h1v1h-1zM109.8 395.3h1v1h-1zM99.0 395.1h1v1h-1zM104.7 395.8h1v1h-1zM97.3 395.6h1v1h-1zM103.5 396.7h1v1h-1zM119.6 389.7h1v1h-1zM110.7 396.0h1v1h-1zM94.9 392.6h1v1h-1zM86.3 400.7h1v1h-1zM120.5 388.6h1v1h-1zM102.5 393.4h1v1h-1zM81.9 401.4h1v1h-1zM91.7 395.7h1v1h-1zM86.7 396.9h1v1h-1zM109.2 393.9h1v1h-1zM114.4 388.9h1v1h-1zM136.2 384.9h1v1h-1zM92.3 399.6h1v1h-1zM101.9 392.7h1v1h-1zM90.6 400.6h1v1h-1zM91.9 394.6h1v1h-1zM103.9 394.6h1v1h-1zM93.4 397.0h1v1h-1zM145.6 380.6h1v1h-1zM97.6 397.5h1v1h-1zM152.4 378.9h1v1h-1zM119.0 392.7h1v1h-1zM90.8 401.2h1v1h-1zM92.9 395.3h1v1h-1zM89.2 398.0h1v1h-1zM113.9 390.8h1v1h-1zM124.3 385.7h1v1h-1zM90.7 395.3h1v1h-1zM139.4 384.3h1v1h-1zM135.2 385.5h1v1h-1zM129.0 389.5h1v1h-1zM100.0 393.8h1v1h-1zM99.2 393.8h1v1h-1zM114.6 392.4h1v1h-1zM107.4 394.7h1v1h-1zM131.2 386.2h1v1h-1zM132.6 386.6h1v1h-1zM118.5 388.8h1v1h-1zM120.3 389.2h1v1h-1zM152.7 377.8h1v1h-1zM96.2 391.7h1v1h-1zM97.7 397.6h1v1h-1zM96.6 394.3h1v1h-1zM108.1 390.4h1v1h-1zM94.0 397.8h1v1h-1zM113.0 395.9h1v1h-1zM125.1 390.3h1v1h-1zM135.8 386.1h1v1h-1zM140.6 384.2h1v1h-1zM101.8 398.8h1v1h-1zM93.7 401.0h1v1h-1zM98.1 396.1h1v1h-1zM141.2 383.5h1v1h-1zM124.3 388.8h1v1h-1zM129.1 388.3h1v1h-1zM98.9 395.0h1v1h-1zM96.0 394.9h1v1h-1zM86.2 397.2h1v1h-1zM146.4 380.3h1v1h-1zM122.4 388.5h1v1h-1zM88.1 398.9h1v1h-1zM102.0 391.4h1v1h-1zM120.0 387.9h1v1h-1zM127.8 389.4h1v1h-1zM125.3 386.6h1v1h-1zM134.5 386.4h1v1h-1zM119.2 387.5h1v1h-1zM94.6 391.6h1v1h-1zM118.8 390.6h1v1h-1zM107.4 394.2h1v1h-1zM112.6 392.0h1v1h-1zM150.4 381.3h1v1h-1zM127.8 390.1h1v1h-1zM135.6 384.8h1v1h-1zM115.4 389.0h1v1h-1zM124.6 388.7h1v1h-1zM119.2 391.8h1v1h-1zM83.0 400.1h1v1h-1zM93.0 399.1h1v1h-1zM92.8 400.5h1v1h-1zM122.9 387.2h1v1h-1zM96.6 395.3h1v1h-1zM135.1 385.0h1v1h-1zM87.6 399.5h1v1h-1zM112.9 387.9h1v1h-1zM88.6 400.2h1v1h-1zM118.8 386.9h1v1h-1zM83.1 400.2h1v1h-1zM82.2 398.6h1v1h-1zM91.6 395.8h1v1h-1zM92.6 398.0h1v1h-1zM95.5 392.9h1v1h-1zM86.0 399.9h1v1h-1zM130.2 386.1h1v1h-1zM97.9 392.0h1v1h-1zM145.6 384.2h1v1h-1zM101.3 391.6h1v1h-1zM87.8 399.4h1v1h-1zM82.5 398.3h1v1h-1zM91.4 396.1h1v1h-1zM142.1 385.8h1v1h-1zM121.3 389.6h1v1h-1zM112.4 390.9h1v1h-1zM82.8 401.5h1v1h-1zM146.6 381.6h1v1h-1zM83.5 403.1h1v1h-1zM137.5 383.7h1v1h-1zM89.0 398.9h1v1h-1zM100.2 393.3h1v1h-1zM106.9 394.4h1v1h-1zM122.6 387.0h1v1h-1zM88.6 397.5h1v1h-1zM94.2 397.9h1v1h-1zM93.9 393.1h1v1h-1zM154.0 380.1h1v1h-1zM89.8 398.3h1v1h-1zM140.1 383.2h1v1h-1zM92.5 395.7h1v1h-1zM152.8 381.6h1v1h-1zM151.9 382.1h1v1h-1zM103.3 390.2h1v1h-1zM100.6 392.4h1v1h-1zM122.8 383.5h1v1h-1zM112.4 391.2h1v1h-1zM97.3 396.7h1v1h-1zM142.5 381.9h1v1h-1zM116.0 387.8h1v1h-1zM103.8 394.5h1v1h-1zM86.4 396.8h1v1h-1zM86.4 403.3h1v1h-1zM110.2 394.9h1v1h-1zM103.2 389.5h1v1h-1zM87.7 399.4h1v1h-1zM143.2 384.2h1v1h-1zM105.5 394.6h1v1h-1zM131.7 386.1h1v1h-1zM115.9 387.3h1v1h-1zM134.9 385.5h1v1h-1zM136.9 383.9h1v1h-1zM114.1 394.5h1v1h-1zM83.1 400.4h1v1h-1zM141.4 385.6h1v1h-1zM138.1 382.7h1v1h-1zM87.8 397.7h1v1h-1zM118.8 389.1h1v1h-1zM97.0 393.2h1v1h-1zM89.0 396.2h1v1h-1zM100.6 390.7h1v1h-1zM143.7 383.1h1v1h-1zM149.9 379.9h1v1h-1zM141.1 383.8h1v1h-1zM114.0 391.4h1v1h-1zM135.2 384.6h1v1h-1zM89.8 395.2h1v1h-1zM132.5 387.2h1v1h-1zM84.4 400.4h1v1h-1zM93.5 394.8h1v1h-1zM98.6 397.1h1v1h-1zM126.9 382.3h1v1h-1zM112.4 391.4h1v1h-1zM126.3 388.3h1v1h-1zM119.8 389.0h1v1h-1zM138.6 381.4h1v1h-1zM102.1 393.8h1v1h-1zM95.6 397.7h1v1h-1zM122.3 389.0h1v1h-1zM139.3 381.8h1v1h-1zM119.2 389.5h1v1h-1zM91.8 400.8h1v1h-1zM121.7 391.2h1v1h-1zM124.2 390.9h1v1h-1zM94.4 395.8h1v1h-1zM94.9 397.6h1v1h-1zM126.3 387.5h1v1h-1zM83.6 398.6h1v1h-1zM128.1 385.2h1v1h-1zM138.5 384.4h1v1h-1zM142.5 385.0h1v1h-1zM99.3 395.1h1v1h-1zM121.4 385.3h1v1h-1zM125.3 389.0h1v1h-1zM133.2 383.9h1v1h-1zM95.7 397.0h1v1h-1zM101.2 392.4h1v1h-1zM116.5 393.4h1v1h-1zM147.2 381.8h1v1h-1zM111.6 393.7h1v1h-1zM126.5 384.9h1v1h-1zM99.6 394.3h1v1h-1zM122.1 389.0h1v1h-1zM125.9 385.1h1v1h-1zM113.2 389.9h1v1h-1zM103.7 392.4h1v1h-1zM103.4 393.9h1v1h-1zM141.6 383.7h1v1h-1zM112.7 387.8h1v1h-1zM93.5 399.1h1v1h-1zM102.7 395.3h1v1h-1zM129.8 385.6h1v1h-1zM99.0 397.1h1v1h-1zM132.0 385.7h1v1h-1zM111.0 390.4h1v1h-1zM104.4 390.4h1v1h-1zM149.7 377.5h1v1h-1zM126.7 388.1h1v1h-1zM119.7 391.6h1v1h-1zM95.0 397.4h1v1h-1zM133.0 387.0h1v1h-1zM136.7 388.2h1v1h-1zM127.4 384.6h1v1h-1zM104.2 395.1h1v1h-1zM138.8 387.7h1v1h-1zM80.1 399.6h1v1h-1zM87.1 403.0h1v1h-1zM121.5 388.4h1v1h-1zM105.4 392.1h1v1h-1zM89.4 392.8h1v1h-1zM85.2 400.2h1v1h-1zM99.6 396.8h1v1h-1zM89.1 399.2h1v1h-1zM123.7 388.9h1v1h-1zM102.2 395.9h1v1h-1zM142.6 383.2h1v1h-1zM146.3 379.9h1v1h-1zM85.9 399.3h1v1h-1zM104.7 394.8h1v1h-1zM131.2 391.5h1v1h-1zM118.6 389.0h1v1h-1zM84.7 399.3h1v1h-1zM109.2 388.6h1v1h-1zM121.0 385.8h1v1h-1zM102.3 391.6h1v1h-1zM106.1 396.5h1v1h-1zM110.4 392.3h1v1h-1zM110.9 392.1h1v1h-1zM91.6 395.8h1v1h-1zM90.5 397.9h1v1h-1zM107.8 394.6h1v1h-1zM101.0 395.9h1v1h-1zM99.2 394.8h1v1h-1zM115.8 391.0h1v1h-1zM101.6 395.3h1v1h-1zM83.0 401.1h1v1h-1zM120.0 390.2h1v1h-1zM99.0 394.4h1v1h-1zM81.9 396.0h1v1h-1zM143.6 383.4h1v1h-1zM95.8 395.9h1v1h-1zM86.5 398.1h1v1h-1zM87.8 396.9h1v1h-1zM107.1 390.3h1v1h-1zM84.3 401.6h1v1h-1zM106.9 391.4h1v1h-1zM93.6 396.2h1v1h-1zM91.0 395.9h1v1h-1zM98.3 392.1h1v1h-1zM113.1 392.6h1v1h-1zM117.5 386.9h1v1h-1zM87.1 398.0h1v1h-1zM145.8 381.8h1v1h-1zM116.4 390.3h1v1h-1zM98.7 392.6h1v1h-1zM135.1 387.1h1v1h-1zM141.5 385.7h1v1h-1zM116.5 391.7h1v1h-1zM120.7 388.2h1v1h-1zM97.4 392.1h1v1h-1zM86.6 403.2h1v1h-1zM98.0 390.6h1v1h-1zM132.2 383.9h1v1h-1zM108.6 393.1h1v1h-1zM117.8 390.9h1v1h-1zM127.4 385.2h1v1h-1zM107.6 393.6h1v1h-1zM83.4 395.4h1v1h-1zM134.1 386.8h1v1h-1zM146.8 382.9h1v1h-1zM97.9 395.2h1v1h-1zM93.5 399.0h1v1h-1zM135.9 385.7h1v1h-1zM127.8 383.0h1v1h-1zM106.6 394.6h1v1h-1zM90.7 397.8h1v1h-1zM119.1 391.5h1v1h-1zM152.1 380.6h1v1h-1zM94.0 398.1h1v1h-1zM124.8 387.5h1v1h-1zM120.5 390.2h1v1h-1zM103.8 395.8h1v1h-1zM151.0 380.4h1v1h-1z"/>
<path fill="#2f78a8" fill-opacity="0.7" d="M93.2 397.4h1v1h-1zM83.0 398.4h1v1h-1zM95.6 392.7h1v1h-1zM99.3 395.5h1v1h-1zM100.4 394.0h1v1h-1zM94.3 392.2h1v1h-1zM85.1 395.9h1v1h-1zM94.9 394.7h1v1h-1zM85.2 398.9h1v1h-1zM100.5 389.6h1v1h-1zM82.1 398.1h1v1h-1zM94.9 395.2h1v1h-1zM94.8 399.4h1v1h-1zM94.9 395.5h1v1h-1zM88.9 397.0h1v1h-1zM94.1 395.1h1v1h-1zM88.8 397.2h1v1h-1zM95.9 395.9h1v1h-1zM82.4 397.8h1v1h-1zM94.5 396.0h1v1h-1zM98.1 397.8h1v1h-1zM83.3 397.5h1v1h-1zM94.0 396.4h1v1h-1zM95.3 398.6h1v1h-1zM101.4 391.7h1v1h-1zM92.5 395.5h1v1h-1zM85.8 396.1h1v1h-1zM88.6 398.3h1v1h-1zM97.7 396.4h1v1h-1zM96.9 395.3h1v1h-1zM97.2 394.3h1v1h-1zM92.3 395.5h1v1h-1zM91.2 396.3h1v1h-1zM96.0 396.9h1v1h-1zM101.2 394.1h1v1h-1zM87.9 399.9h1v1h-1zM99.7 397.7h1v1h-1zM96.5 394.0h1v1h-1zM93.7 398.7h1v1h-1zM89.5 399.1h1v1h-1zM94.9 395.0h1v1h-1zM98.4 389.5h1v1h-1zM82.6 396.4h1v1h-1zM94.8 396.6h1v1h-1zM90.3 392.6h1v1h-1zM97.1 397.1h1v1h-1zM92.6 393.9h1v1h-1zM101.3 393.8h1v1h-1zM94.4 393.8h1v1h-1zM94.2 394.4h1v1h-1zM97.2 394.8h1v1h-1zM100.8 391.0h1v1h-1zM96.4 394.1h1v1h-1zM100.8 392.3h1v1h-1zM101.2 394.8h1v1h-1zM87.7 394.9h1v1h-1zM88.1 400.9h1v1h-1zM87.5 400.4h1v1h-1zM98.7 391.5h1v1h-1zM97.8 391.7h1v1h-1zM84.7 396.6h1v1h-1zM92.8 396.2h1v1h-1zM90.9 397.2h1v1h-1zM91.7 397.1h1v1h-1zM100.1 395.3h1v1h-1zM98.4 393.9h1v1h-1zM90.0 394.0h1v1h-1zM91.9 393.9h1v1h-1zM90.6 395.3h1v1h-1zM89.4 394.9h1v1h-1zM87.5 401.7h1v1h-1zM95.1 394.1h1v1h-1zM96.0 397.2h1v1h-1zM93.1 397.0h1v1h-1zM86.8 395.5h1v1h-1zM100.8 390.8h1v1h-1zM86.1 396.7h1v1h-1zM83.5 398.7h1v1h-1zM82.9 397.5h1v1h-1zM100.7 395.6h1v1h-1zM98.5 392.8h1v1h-1zM100.1 392.4h1v1h-1zM99.8 394.3h1v1h-1zM101.6 397.2h1v1h-1zM97.3 396.0h1v1h-1zM98.9 397.7h1v1h-1zM90.0 395.5h1v1h-1zM86.2 399.6h1v1h-1zM100.8 394.5h1v1h-1zM101.6 398.3h1v1h-1zM82.6 397.7h1v1h-1zM83.2 398.8h1v1h-1zM93.1 394.0h1v1h-1zM88.0 394.8h1v1h-1zM98.1 395.9h1v1h-1zM93.9 396.6h1v1h-1zM101.3 391.7h1v1h-1zM88.6 398.9h1v1h-1zM94.3 395.3h1v1h-1zM84.7 398.1h1v1h-1zM94.4 399.3h1v1h-1zM98.7 396.0h1v1h-1zM92.1 398.4h1v1h-1zM100.8 397.0h1v1h-1zM93.4 396.6h1v1h-1zM101.5 393.2h1v1h-1zM82.5 401.8h1v1h-1zM86.4 401.2h1v1h-1zM90.9 393.7h1v1h-1zM84.0 396.7h1v1h-1zM95.4 393.8h1v1h-1zM100.0 392.6h1v1h-1zM82.0 401.6h1v1h-1zM88.8 396.6h1v1h-1zM84.0 398.0h1v1h-1zM90.6 397.2h1v1h-1zM89.5 398.2h1v1h-1zM101.7 393.8h1v1h-1zM85.4 398.9h1v1h-1zM97.7 392.1h1v1h-1zM100.4 394.3h1v1h-1zM88.7 395.6h1v1h-1zM88.5 397.2h1v1h-1zM98.1 397.3h1v1h-1zM99.2 395.1h1v1h-1zM87.7 397.3h1v1h-1zM83.8 401.1h1v1h-1zM84.7 401.8h1v1h-1zM96.7 396.2h1v1h-1zM91.1 395.1h1v1h-1z"/>
<path fill="#2a9a90" fill-opacity="0.7" d="M90.6 396.8h1v1h-1zM93.8 393.5h1v1h-1zM94.4 393.5h1v1h-1zM85.5 395.2h1v1h-1zM85.2 396.4h1v1h-1zM84.7 397.5h1v1h-1zM86.8 394.3h1v1h-1zM86.4 397.1h1v1h-1zM82.8 396.4h1v1h-1zM83.3 400.1h1v1h-1zM88.5 395.6h1v1h-1zM90.4 396.0h1v1h-1zM95.1 392.3h1v1h-1zM93.6 395.9h1v1h-1zM89.2 396.0h1v1h-1zM97.1 393.4h1v1h-1zM89.6 397.6h1v1h-1zM84.5 397.1h1v1h-1zM94.4 394.1h1v1h-1zM92.0 397.0h1v1h-1zM83.7 396.9h1v1h-1zM84.1 398.1h1v1h-1zM85.1 396.3h1v1h-1zM97.7 392.4h1v1h-1zM87.0 398.4h1v1h-1zM90.1 396.2h1v1h-1zM86.0 398.1h1v1h-1zM87.2 397.7h1v1h-1zM97.3 394.0h1v1h-1zM95.3 395.0h1v1h-1zM93.3 394.4h1v1h-1zM96.5 393.5h1v1h-1zM84.1 397.8h1v1h-1zM97.7 391.3h1v1h-1zM94.3 394.6h1v1h-1zM83.1 396.4h1v1h-1zM82.2 397.8h1v1h-1zM90.5 394.4h1v1h-1zM89.4 397.5h1v1h-1zM87.1 397.4h1v1h-1z"/>
<path fill="#3a8f8a" fill-opacity="0.7" d="M81.2 396.8h1v1h-1zM82.7 404.5h1v1h-1zM79.8 393.0h1v1h-1zM80.3 399.9h1v1h-1zM82.6 395.7h1v1h-1zM83.8 402.2h1v1h-1zM81.9 403.2h1v1h-1zM82.8 399.1h1v1h-1zM82.2 398.8h1v1h-1zM83.8 397.8h1v1h-1zM81.4 403.7h1v1h-1zM80.2 401.0h1v1h-1zM81.1 407.0h1v1h-1zM82.1 401.3h1v1h-1zM82.6 400.8h1v1h-1zM81.3 396.6h1v1h-1zM83.2 396.5h1v1h-1zM80.3 402.6h1v1h-1zM82.2 399.2h1v1h-1zM80.8 403.8h1v1h-1zM81.5 402.4h1v1h-1zM81.3 398.2h1v1h-1zM83.2 398.8h1v1h-1zM83.7 404.0h1v1h-1zM79.6 403.4h1v1h-1zM81.6 403.4h1v1h-1zM82.3 397.2h1v1h-1zM81.0 401.0h1v1h-1zM81.8 397.5h1v1h-1zM81.9 408.4h1v1h-1zM82.8 399.2h1v1h-1zM81.1 400.3h1v1h-1zM82.8 399.4h1v1h-1zM81.8 397.3h1v1h-1zM82.0 402.2h1v1h-1zM81.3 398.3h1v1h-1zM81.9 400.7h1v1h-1zM82.1 402.1h1v1h-1zM84.8 400.4h1v1h-1zM83.1 399.0h1v1h-1zM82.5 402.6h1v1h-1zM82.2 400.3h1v1h-1zM81.2 396.0h1v1h-1zM83.2 392.3h1v1h-1zM80.7 395.7h1v1h-1zM81.2 400.3h1v1h-1zM83.0 404.4h1v1h-1zM81.4 397.6h1v1h-1zM81.0 400.3h1v1h-1zM85.0 396.1h1v1h-1zM80.9 402.6h1v1h-1zM81.6 406.0h1v1h-1zM80.5 396.7h1v1h-1zM82.2 400.0h1v1h-1zM83.2 407.2h1v1h-1zM84.9 398.3h1v1h-1zM83.5 396.9h1v1h-1zM82.7 400.0h1v1h-1zM82.0 401.1h1v1h-1zM83.3 399.1h1v1h-1zM82.0 399.8h1v1h-1zM82.8 403.9h1v1h-1zM80.5 396.8h1v1h-1zM82.7 404.0h1v1h-1zM80.6 397.8h1v1h-1zM81.7 403.3h1v1h-1zM80.1 404.4h1v1h-1zM80.7 400.4h1v1h-1zM83.7 398.4h1v1h-1zM82.4 396.1h1v1h-1z"/>
<path fill="#8cc850" fill-opacity="0.85" d="M80.9 399.7h1v1h-1zM82.6 400.4h1v1h-1zM80.6 401.9h1v1h-1zM82.0 400.4h1v1h-1zM81.7 398.6h1v1h-1zM82.8 399.6h1v1h-1zM81.5 399.2h1v1h-1zM83.0 404.1h1v1h-1zM81.9 397.2h1v1h-1zM83.6 400.4h1v1h-1zM81.7 397.5h1v1h-1zM81.7 401.1h1v1h-1zM81.2 398.7h1v1h-1zM82.9 400.0h1v1h-1zM81.6 398.7h1v1h-1zM82.8 401.8h1v1h-1zM81.7 402.7h1v1h-1zM80.9 401.3h1v1h-1zM83.1 401.8h1v1h-1zM82.9 400.8h1v1h-1zM81.7 393.3h1v1h-1zM82.7 397.6h1v1h-1zM80.5 400.6h1v1h-1zM82.6 399.0h1v1h-1zM81.7 396.7h1v1h-1zM82.2 395.5h1v1h-1zM81.8 398.3h1v1h-1zM82.1 403.5h1v1h-1zM81.8 397.9h1v1h-1zM81.6 402.5h1v1h-1z"/>
<path fill="#3a9a80" fill-opacity="0.75" d="M96.9 389.3h1v1h-1zM99.1 391.1h1v1h-1zM98.6 389.0h1v1h-1zM96.7 392.2h1v1h-1zM96.9 390.7h1v1h-1zM97.0 387.8h1v1h-1zM98.7 390.8h1v1h-1zM95.7 388.6h1v1h-1zM97.8 388.0h1v1h-1zM97.0 390.3h1v1h-1zM100.3 390.1h1v1h-1zM96.2 392.4h1v1h-1zM98.4 387.5h1v1h-1zM98.2 387.1h1v1h-1zM99.9 392.2h1v1h-1zM99.3 390.2h1v1h-1zM95.8 390.5h1v1h-1zM100.3 390.3h1v1h-1zM97.4 387.3h1v1h-1zM98.6 388.1h1v1h-1zM94.6 391.5h1v1h-1zM100.0 391.1h1v1h-1zM98.1 390.4h1v1h-1zM98.1 392.6h1v1h-1zM97.3 394.2h1v1h-1zM99.6 390.6h1v1h-1zM93.9 392.4h1v1h-1zM97.7 393.2h1v1h-1zM96.6 390.7h1v1h-1zM97.7 390.5h1v1h-1zM99.9 388.4h1v1h-1zM96.5 393.3h1v1h-1zM97.6 391.9h1v1h-1zM96.1 391.2h1v1h-1zM98.9 389.5h1v1h-1zM97.7 393.2h1v1h-1zM99.5 387.4h1v1h-1zM100.4 392.5h1v1h-1zM94.7 393.4h1v1h-1zM95.2 390.8h1v1h-1z"/>
<path fill="#9ab0d0" fill-opacity="0.5" d="M72.2 414.9h1v1h-1zM72.3 421.2h1v1h-1zM74.6 420.3h1v1h-1zM86.0 416.7h1v1h-1zM70.5 407.8h1v1h-1zM82.6 409.0h1v1h-1zM83.2 411.8h1v1h-1zM66.6 428.9h1v1h-1zM77.8 420.2h1v1h-1zM76.3 420.8h1v1h-1zM81.5 406.6h1v1h-1zM70.7 427.4h1v1h-1zM76.8 402.5h1v1h-1zM85.0 427.5h1v1h-1zM85.3 426.4h1v1h-1zM82.9 417.0h1v1h-1z"/>
<rect x="179.5" y="320" width="90.5" height="111.5" fill="none" stroke="#9a9a9a" stroke-width="1.1" />
<line x1="176.5" y1="431.2" x2="179.5" y2="431.2" stroke="#555" stroke-width="0.9" />
<text x="173.7" y="434.6" font-size="9.8" text-anchor="end" textLength="8.8" lengthAdjust="spacingAndGlyphs" fill="#222" stroke="#222">10</text>
<text x="174" y="429.8" font-size="6.4" textLength="2.8" lengthAdjust="spacingAndGlyphs" fill="#222" stroke="#222">0</text>
<line x1="176.5" y1="403.3" x2="179.5" y2="403.3" stroke="#555" stroke-width="0.9" />
<text x="173.7" y="406.7" font-size="9.8" text-anchor="end" textLength="8.8" lengthAdjust="spacingAndGlyphs" fill="#222" stroke="#222">10</text>
<text x="174" y="401.9" font-size="6.4" textLength="2.8" lengthAdjust="spacingAndGlyphs" fill="#222" stroke="#222">1</text>
<line x1="176.5" y1="375.6" x2="179.5" y2="375.6" stroke="#555" stroke-width="0.9" />
<text x="173.7" y="379" font-size="9.8" text-anchor="end" textLength="8.8" lengthAdjust="spacingAndGlyphs" fill="#222" stroke="#222">10</text>
<text x="174" y="374.2" font-size="6.4" textLength="2.8" lengthAdjust="spacingAndGlyphs" fill="#222" stroke="#222">2</text>
<line x1="176.5" y1="347.6" x2="179.5" y2="347.6" stroke="#555" stroke-width="0.9" />
<text x="173.7" y="351" font-size="9.8" text-anchor="end" textLength="8.8" lengthAdjust="spacingAndGlyphs" fill="#222" stroke="#222">10</text>
<text x="174" y="346.2" font-size="6.4" textLength="2.8" lengthAdjust="spacingAndGlyphs" fill="#222" stroke="#222">3</text>
<line x1="178" y1="422.8" x2="179.5" y2="422.8" stroke="#888" stroke-width="0.6" />
<line x1="178" y1="417.89" x2="179.5" y2="417.89" stroke="#888" stroke-width="0.6" />
<line x1="178" y1="414.4" x2="179.5" y2="414.4" stroke="#888" stroke-width="0.6" />
<line x1="178" y1="411.7" x2="179.5" y2="411.7" stroke="#888" stroke-width="0.6" />
<line x1="178" y1="409.49" x2="179.5" y2="409.49" stroke="#888" stroke-width="0.6" />
<line x1="178" y1="407.62" x2="179.5" y2="407.62" stroke="#888" stroke-width="0.6" />
<line x1="178" y1="406" x2="179.5" y2="406" stroke="#888" stroke-width="0.6" />
<line x1="178" y1="404.58" x2="179.5" y2="404.58" stroke="#888" stroke-width="0.6" />
<line x1="178" y1="394.9" x2="179.5" y2="394.9" stroke="#888" stroke-width="0.6" />
<line x1="178" y1="389.99" x2="179.5" y2="389.99" stroke="#888" stroke-width="0.6" />
<line x1="178" y1="386.5" x2="179.5" y2="386.5" stroke="#888" stroke-width="0.6" />
<line x1="178" y1="383.8" x2="179.5" y2="383.8" stroke="#888" stroke-width="0.6" />
<line x1="178" y1="381.59" x2="179.5" y2="381.59" stroke="#888" stroke-width="0.6" />
<line x1="178" y1="379.72" x2="179.5" y2="379.72" stroke="#888" stroke-width="0.6" />
<line x1="178" y1="378.1" x2="179.5" y2="378.1" stroke="#888" stroke-width="0.6" />
<line x1="178" y1="376.68" x2="179.5" y2="376.68" stroke="#888" stroke-width="0.6" />
<line x1="178" y1="367" x2="179.5" y2="367" stroke="#888" stroke-width="0.6" />
<line x1="178" y1="362.09" x2="179.5" y2="362.09" stroke="#888" stroke-width="0.6" />
<line x1="178" y1="358.6" x2="179.5" y2="358.6" stroke="#888" stroke-width="0.6" />
<line x1="178" y1="355.9" x2="179.5" y2="355.9" stroke="#888" stroke-width="0.6" />
<line x1="178" y1="353.69" x2="179.5" y2="353.69" stroke="#888" stroke-width="0.6" />
<line x1="178" y1="351.82" x2="179.5" y2="351.82" stroke="#888" stroke-width="0.6" />
<line x1="178" y1="350.2" x2="179.5" y2="350.2" stroke="#888" stroke-width="0.6" />
<line x1="178" y1="348.78" x2="179.5" y2="348.78" stroke="#888" stroke-width="0.6" />
<line x1="178" y1="339.1" x2="179.5" y2="339.1" stroke="#888" stroke-width="0.6" />
<line x1="178" y1="334.19" x2="179.5" y2="334.19" stroke="#888" stroke-width="0.6" />
<line x1="178" y1="330.7" x2="179.5" y2="330.7" stroke="#888" stroke-width="0.6" />
<line x1="178" y1="328" x2="179.5" y2="328" stroke="#888" stroke-width="0.6" />
<line x1="178" y1="325.79" x2="179.5" y2="325.79" stroke="#888" stroke-width="0.6" />
<line x1="178" y1="323.92" x2="179.5" y2="323.92" stroke="#888" stroke-width="0.6" />
<line x1="178" y1="322.3" x2="179.5" y2="322.3" stroke="#888" stroke-width="0.6" />
<line x1="178" y1="320.88" x2="179.5" y2="320.88" stroke="#888" stroke-width="0.6" />
<line x1="179.5" y1="431.5" x2="179.5" y2="434.5" stroke="#777" stroke-width="0.7" />
<line x1="183.12" y1="431.5" x2="183.12" y2="433" stroke="#777" stroke-width="0.7" />
<line x1="186.74" y1="431.5" x2="186.74" y2="433" stroke="#777" stroke-width="0.7" />
<line x1="190.36" y1="431.5" x2="190.36" y2="433" stroke="#777" stroke-width="0.7" />
<line x1="193.98" y1="431.5" x2="193.98" y2="433" stroke="#777" stroke-width="0.7" />
<line x1="197.6" y1="431.5" x2="197.6" y2="434.5" stroke="#777" stroke-width="0.7" />
<line x1="201.22" y1="431.5" x2="201.22" y2="433" stroke="#777" stroke-width="0.7" />
<line x1="204.84" y1="431.5" x2="204.84" y2="433" stroke="#777" stroke-width="0.7" />
<line x1="208.46" y1="431.5" x2="208.46" y2="433" stroke="#777" stroke-width="0.7" />
<line x1="212.08" y1="431.5" x2="212.08" y2="433" stroke="#777" stroke-width="0.7" />
<line x1="215.7" y1="431.5" x2="215.7" y2="434.5" stroke="#777" stroke-width="0.7" />
<line x1="219.32" y1="431.5" x2="219.32" y2="433" stroke="#777" stroke-width="0.7" />
<line x1="222.94" y1="431.5" x2="222.94" y2="433" stroke="#777" stroke-width="0.7" />
<line x1="226.56" y1="431.5" x2="226.56" y2="433" stroke="#777" stroke-width="0.7" />
<line x1="230.18" y1="431.5" x2="230.18" y2="433" stroke="#777" stroke-width="0.7" />
<line x1="233.8" y1="431.5" x2="233.8" y2="434.5" stroke="#777" stroke-width="0.7" />
<line x1="237.42" y1="431.5" x2="237.42" y2="433" stroke="#777" stroke-width="0.7" />
<line x1="241.04" y1="431.5" x2="241.04" y2="433" stroke="#777" stroke-width="0.7" />
<line x1="244.66" y1="431.5" x2="244.66" y2="433" stroke="#777" stroke-width="0.7" />
<line x1="248.28" y1="431.5" x2="248.28" y2="433" stroke="#777" stroke-width="0.7" />
<line x1="251.9" y1="431.5" x2="251.9" y2="434.5" stroke="#777" stroke-width="0.7" />
<line x1="255.52" y1="431.5" x2="255.52" y2="433" stroke="#777" stroke-width="0.7" />
<line x1="259.14" y1="431.5" x2="259.14" y2="433" stroke="#777" stroke-width="0.7" />
<line x1="262.76" y1="431.5" x2="262.76" y2="433" stroke="#777" stroke-width="0.7" />
<line x1="266.38" y1="431.5" x2="266.38" y2="433" stroke="#777" stroke-width="0.7" />
<line x1="270" y1="431.5" x2="270" y2="434.5" stroke="#777" stroke-width="0.7" />
<path fill="#8aa2c8" fill-opacity="0.5" d="M218.1 379.4h1v1h-1zM253.4 379.9h1v1h-1zM224.7 380.3h1v1h-1zM240.9 337.7h1v1h-1zM209.7 352.6h1v1h-1zM264.1 344.5h1v1h-1zM210.8 370.0h1v1h-1zM217.1 363.6h1v1h-1zM225.9 347.6h1v1h-1zM245.3 339.0h1v1h-1zM265.6 358.0h1v1h-1zM260.1 366.7h1v1h-1zM208.9 371.2h1v1h-1zM240.2 386.8h1v1h-1zM242.0 338.8h1v1h-1zM238.0 356.2h1v1h-1zM255.0 383.3h1v1h-1zM218.5 361.7h1v1h-1zM254.8 370.5h1v1h-1zM210.1 379.7h1v1h-1zM216.9 361.0h1v1h-1zM215.8 378.4h1v1h-1zM227.5 344.9h1v1h-1zM249.2 371.8h1v1h-1zM237.2 351.3h1v1h-1zM257.9 377.2h1v1h-1zM226.2 352.2h1v1h-1zM252.9 371.4h1v1h-1zM251.1 378.4h1v1h-1zM228.5 379.3h1v1h-1zM228.9 346.6h1v1h-1zM246.4 333.2h1v1h-1zM266.0 355.4h1v1h-1zM255.0 351.1h1v1h-1zM233.3 364.1h1v1h-1zM236.0 373.9h1v1h-1zM232.9 352.9h1v1h-1zM268.7 343.2h1v1h-1zM219.5 334.5h1v1h-1zM266.7 340.1h1v1h-1zM234.0 351.9h1v1h-1zM234.3 373.0h1v1h-1zM236.7 358.4h1v1h-1zM231.3 371.6h1v1h-1zM236.8 364.9h1v1h-1zM210.9 351.8h1v1h-1zM213.9 359.8h1v1h-1zM252.9 360.3h1v1h-1zM247.1 342.4h1v1h-1zM210.5 360.9h1v1h-1zM226.9 383.8h1v1h-1zM222.1 366.9h1v1h-1zM212.1 378.7h1v1h-1zM240.3 385.3h1v1h-1zM233.9 333.3h1v1h-1zM211.7 369.4h1v1h-1zM243.3 354.1h1v1h-1zM257.2 382.7h1v1h-1zM215.6 366.5h1v1h-1zM225.5 353.1h1v1h-1zM247.4 339.5h1v1h-1zM238.5 335.7h1v1h-1zM239.3 372.5h1v1h-1zM236.6 385.2h1v1h-1zM262.7 355.0h1v1h-1zM245.3 348.5h1v1h-1zM245.1 337.2h1v1h-1zM235.5 374.1h1v1h-1zM237.7 339.6h1v1h-1zM262.3 363.5h1v1h-1zM221.4 362.7h1v1h-1zM265.7 348.0h1v1h-1zM213.2 380.7h1v1h-1zM244.6 357.3h1v1h-1zM210.7 358.3h1v1h-1zM248.8 377.8h1v1h-1zM247.2 377.3h1v1h-1zM260.7 355.6h1v1h-1zM265.5 347.6h1v1h-1zM235.6 373.5h1v1h-1zM249.1 362.1h1v1h-1zM264.4 371.7h1v1h-1zM228.2 374.8h1v1h-1zM228.0 343.0h1v1h-1zM226.3 358.4h1v1h-1zM233.2 347.2h1v1h-1zM265.8 376.0h1v1h-1zM260.4 364.5h1v1h-1zM250.3 348.5h1v1h-1zM209.0 372.6h1v1h-1zM263.0 337.8h1v1h-1zM264.2 347.1h1v1h-1zM209.2 345.6h1v1h-1zM247.5 345.6h1v1h-1zM232.0 348.1h1v1h-1zM244.7 348.3h1v1h-1zM245.6 386.0h1v1h-1zM244.9 352.7h1v1h-1zM227.6 351.4h1v1h-1zM213.0 373.4h1v1h-1zM257.0 358.4h1v1h-1zM263.7 360.1h1v1h-1zM220.5 378.6h1v1h-1zM221.5 340.5h1v1h-1zM231.5 361.5h1v1h-1zM233.1 335.1h1v1h-1zM262.1 346.9h1v1h-1zM221.0 346.2h1v1h-1zM234.0 353.3h1v1h-1zM247.8 351.2h1v1h-1zM239.6 350.3h1v1h-1zM228.9 387.9h1v1h-1zM255.7 364.7h1v1h-1zM217.0 353.6h1v1h-1zM220.3 361.8h1v1h-1zM233.0 383.8h1v1h-1zM256.2 376.1h1v1h-1zM224.1 358.9h1v1h-1zM215.4 341.2h1v1h-1zM264.8 337.0h1v1h-1zM216.4 333.1h1v1h-1zM245.2 382.8h1v1h-1zM226.3 342.2h1v1h-1zM246.5 373.9h1v1h-1zM212.9 365.1h1v1h-1zM230.2 380.0h1v1h-1zM229.0 378.2h1v1h-1zM219.5 384.8h1v1h-1zM209.3 373.6h1v1h-1zM209.4 355.5h1v1h-1zM244.8 349.9h1v1h-1zM213.9 362.0h1v1h-1zM227.8 350.8h1v1h-1zM261.4 337.8h1v1h-1zM263.7 343.8h1v1h-1zM219.0 355.2h1v1h-1zM227.9 363.2h1v1h-1zM223.4 365.2h1v1h-1zM238.4 379.3h1v1h-1zM241.5 349.5h1v1h-1zM233.2 377.3h1v1h-1zM253.5 349.9h1v1h-1zM247.6 349.3h1v1h-1zM248.5 379.4h1v1h-1zM217.8 340.7h1v1h-1zM247.4 370.8h1v1h-1zM226.8 363.9h1v1h-1zM231.4 349.3h1v1h-1zM268.3 370.8h1v1h-1zM229.5 379.4h1v1h-1zM229.5 371.1h1v1h-1zM245.7 378.5h1v1h-1zM246.0 365.1h1v1h-1zM209.6 353.5h1v1h-1zM243.4 358.7h1v1h-1zM255.6 354.8h1v1h-1zM266.0 369.7h1v1h-1zM215.8 379.5h1v1h-1zM223.6 344.1h1v1h-1zM234.0 360.5h1v1h-1zM246.8 383.0h1v1h-1zM214.5 388.0h1v1h-1zM232.3 385.5h1v1h-1zM228.2 337.7h1v1h-1zM267.3 348.1h1v1h-1zM267.1 372.9h1v1h-1zM253.6 333.4h1v1h-1zM240.0 372.3h1v1h-1zM218.7 334.7h1v1h-1zM266.0 342.2h1v1h-1zM264.3 372.2h1v1h-1zM211.9 334.8h1v1h-1zM255.5 336.1h1v1h-1zM215.2 364.6h1v1h-1zM263.3 363.7h1v1h-1zM244.2 381.9h1v1h-1zM234.6 373.2h1v1h-1zM246.7 370.3h1v1h-1zM255.5 377.8h1v1h-1zM224.4 379.6h1v1h-1zM247.3 374.5h1v1h-1zM258.6 344.3h1v1h-1zM240.2 364.3h1v1h-1zM234.4 352.8h1v1h-1zM240.8 367.2h1v1h-1zM269.0 377.0h1v1h-1zM249.2 384.0h1v1h-1zM256.3 353.6h1v1h-1zM267.9 365.2h1v1h-1zM217.3 340.2h1v1h-1zM210.4 333.0h1v1h-1zM253.7 371.9h1v1h-1zM245.9 343.6h1v1h-1zM214.8 382.7h1v1h-1zM240.2 350.6h1v1h-1zM239.3 341.1h1v1h-1zM226.0 384.8h1v1h-1zM223.8 343.5h1v1h-1zM219.7 382.3h1v1h-1zM243.9 340.9h1v1h-1zM218.1 357.1h1v1h-1zM251.6 380.4h1v1h-1zM260.5 380.0h1v1h-1zM250.1 372.1h1v1h-1zM224.8 383.4h1v1h-1zM232.7 376.7h1v1h-1zM239.7 377.3h1v1h-1zM229.5 357.4h1v1h-1zM241.6 367.4h1v1h-1zM250.1 384.3h1v1h-1zM226.8 342.0h1v1h-1zM221.8 374.2h1v1h-1zM256.3 355.3h1v1h-1zM255.5 364.5h1v1h-1zM211.3 337.7h1v1h-1zM247.7 367.1h1v1h-1zM216.5 378.1h1v1h-1zM241.8 359.1h1v1h-1zM226.3 386.1h1v1h-1zM258.5 364.7h1v1h-1zM214.7 350.6h1v1h-1zM262.8 370.4h1v1h-1zM229.4 379.4h1v1h-1zM216.8 374.5h1v1h-1zM236.3 338.6h1v1h-1zM213.9 351.1h1v1h-1zM253.4 381.6h1v1h-1zM230.7 381.5h1v1h-1zM228.9 336.4h1v1h-1zM215.2 342.6h1v1h-1zM220.0 352.5h1v1h-1zM240.1 343.9h1v1h-1zM215.6 367.2h1v1h-1zM237.9 379.0h1v1h-1zM264.9 334.8h1v1h-1zM232.8 380.4h1v1h-1zM219.7 336.5h1v1h-1zM257.3 375.9h1v1h-1zM248.6 355.4h1v1h-1zM245.7 357.5h1v1h-1zM216.3 352.6h1v1h-1zM230.0 354.9h1v1h-1zM237.3 381.5h1v1h-1zM231.6 351.1h1v1h-1zM222.2 370.2h1v1h-1zM222.5 373.1h1v1h-1zM217.4 350.6h1v1h-1zM252.7 361.6h1v1h-1zM216.2 339.0h1v1h-1zM228.1 376.9h1v1h-1zM232.4 357.5h1v1h-1zM211.1 362.4h1v1h-1zM218.1 340.3h1v1h-1zM219.1 372.6h1v1h-1zM255.2 368.7h1v1h-1zM223.2 382.7h1v1h-1zM253.8 365.4h1v1h-1zM229.7 387.1h1v1h-1zM248.2 369.3h1v1h-1zM222.8 357.9h1v1h-1zM234.1 378.1h1v1h-1zM249.5 371.6h1v1h-1zM245.2 362.6h1v1h-1zM245.4 370.8h1v1h-1zM211.2 382.8h1v1h-1zM263.3 364.5h1v1h-1zM262.3 353.6h1v1h-1zM219.6 368.3h1v1h-1zM232.2 365.8h1v1h-1zM263.4 349.0h1v1h-1zM236.0 382.6h1v1h-1zM234.9 344.4h1v1h-1zM251.5 360.1h1v1h-1zM218.5 369.3h1v1h-1zM260.8 378.1h1v1h-1zM209.6 360.4h1v1h-1zM213.3 367.4h1v1h-1zM231.4 338.0h1v1h-1zM223.8 335.1h1v1h-1zM239.7 345.5h1v1h-1zM217.4 384.0h1v1h-1zM247.4 347.3h1v1h-1zM241.3 341.7h1v1h-1zM258.8 365.3h1v1h-1zM225.0 341.0h1v1h-1zM219.1 346.2h1v1h-1zM240.5 370.1h1v1h-1zM223.4 333.8h1v1h-1zM236.3 365.7h1v1h-1zM215.8 344.4h1v1h-1zM244.9 345.2h1v1h-1zM259.2 352.0h1v1h-1zM263.7 341.6h1v1h-1zM243.8 356.5h1v1h-1zM239.8 347.8h1v1h-1zM255.6 365.8h1v1h-1zM249.3 342.8h1v1h-1zM218.7 350.4h1v1h-1zM234.5 378.6h1v1h-1zM218.1 348.8h1v1h-1zM242.9 341.4h1v1h-1zM239.4 344.4h1v1h-1zM236.1 374.5h1v1h-1zM268.5 342.7h1v1h-1zM263.0 374.8h1v1h-1zM217.9 362.3h1v1h-1zM245.4 357.8h1v1h-1zM237.6 336.2h1v1h-1zM258.7 381.2h1v1h-1zM264.8 354.1h1v1h-1zM258.7 382.4h1v1h-1zM210.4 381.8h1v1h-1zM262.4 377.4h1v1h-1zM218.7 381.1h1v1h-1zM228.9 386.4h1v1h-1zM231.5 357.9h1v1h-1zM258.1 373.6h1v1h-1zM220.7 343.4h1v1h-1zM219.4 380.8h1v1h-1zM268.5 339.8h1v1h-1zM211.5 380.2h1v1h-1zM227.5 334.3h1v1h-1zM233.6 380.1h1v1h-1zM222.4 375.6h1v1h-1zM225.1 342.2h1v1h-1zM215.3 343.5h1v1h-1zM257.6 377.9h1v1h-1zM223.6 359.9h1v1h-1zM247.0 361.1h1v1h-1zM230.5 353.8h1v1h-1zM209.1 369.6h1v1h-1zM223.7 333.6h1v1h-1zM258.8 380.8h1v1h-1zM233.6 374.9h1v1h-1zM214.2 344.8h1v1h-1zM267.5 371.1h1v1h-1zM248.1 367.8h1v1h-1zM248.3 365.0h1v1h-1zM264.6 357.7h1v1h-1zM265.0 369.2h1v1h-1zM261.7 341.3h1v1h-1zM233.0 362.4h1v1h-1zM225.6 376.9h1v1h-1zM237.8 382.2h1v1h-1zM254.4 361.3h1v1h-1zM239.4 339.6h1v1h-1zM231.4 363.1h1v1h-1zM244.8 369.4h1v1h-1zM247.5 369.3h1v1h-1zM267.7 373.6h1v1h-1zM246.2 378.0h1v1h-1zM232.5 386.7h1v1h-1zM252.9 338.2h1v1h-1zM234.7 344.0h1v1h-1zM236.5 383.6h1v1h-1zM268.9 334.0h1v1h-1zM266.8 368.7h1v1h-1zM209.2 369.6h1v1h-1zM259.7 366.4h1v1h-1zM230.6 374.4h1v1h-1zM232.7 365.3h1v1h-1zM226.5 351.4h1v1h-1zM245.8 373.6h1v1h-1zM219.4 370.9h1v1h-1zM221.3 336.2h1v1h-1zM221.8 347.1h1v1h-1zM242.6 335.8h1v1h-1zM215.0 346.3h1v1h-1zM227.5 355.3h1v1h-1zM257.4 368.0h1v1h-1zM238.1 361.6h1v1h-1zM266.3 358.0h1v1h-1zM251.8 336.4h1v1h-1zM215.7 339.7h1v1h-1zM235.8 365.7h1v1h-1zM240.5 382.2h1v1h-1zM262.8 367.5h1v1h-1zM264.2 356.6h1v1h-1zM212.0 367.7h1v1h-1zM263.6 359.9h1v1h-1zM243.4 347.5h1v1h-1zM264.1 376.2h1v1h-1zM233.2 366.7h1v1h-1zM249.3 361.9h1v1h-1zM258.5 355.6h1v1h-1zM257.9 334.8h1v1h-1zM242.5 347.5h1v1h-1zM242.5 345.1h1v1h-1zM260.5 352.7h1v1h-1zM221.2 363.5h1v1h-1zM251.9 360.3h1v1h-1zM257.9 348.5h1v1h-1zM216.0 357.0h1v1h-1zM259.9 352.1h1v1h-1zM216.3 373.7h1v1h-1zM212.0 372.9h1v1h-1zM237.1 360.5h1v1h-1zM265.3 369.8h1v1h-1zM265.8 374.1h1v1h-1zM244.1 333.4h1v1h-1zM257.8 337.1h1v1h-1zM223.9 361.0h1v1h-1zM247.4 379.2h1v1h-1zM218.8 359.7h1v1h-1zM224.1 341.1h1v1h-1zM264.9 378.4h1v1h-1zM262.8 337.3h1v1h-1zM253.5 365.1h1v1h-1zM237.3 334.5h1v1h-1zM219.1 359.4h1v1h-1zM239.4 351.7h1v1h-1zM244.9 377.9h1v1h-1zM211.0 349.8h1v1h-1zM225.8 382.5h1v1h-1zM264.5 346.3h1v1h-1zM265.0 356.4h1v1h-1zM256.2 377.9h1v1h-1zM258.6 364.2h1v1h-1zM227.0 353.4h1v1h-1zM218.3 355.7h1v1h-1zM230.9 343.5h1v1h-1zM232.5 379.9h1v1h-1zM265.1 347.4h1v1h-1zM258.8 365.2h1v1h-1zM259.4 354.6h1v1h-1zM250.5 377.6h1v1h-1zM256.8 355.9h1v1h-1zM236.8 363.2h1v1h-1zM263.0 360.3h1v1h-1zM267.2 343.6h1v1h-1zM233.6 381.2h1v1h-1zM263.3 354.6h1v1h-1zM251.7 359.0h1v1h-1zM247.4 356.1h1v1h-1zM240.5 366.5h1v1h-1zM265.6 380.4h1v1h-1zM230.6 367.3h1v1h-1zM217.2 362.3h1v1h-1zM212.4 383.2h1v1h-1zM257.4 377.4h1v1h-1zM241.2 346.5h1v1h-1zM223.2 345.1h1v1h-1zM229.4 360.6h1v1h-1zM248.4 344.3h1v1h-1zM253.9 335.4h1v1h-1zM213.9 372.8h1v1h-1zM246.3 345.4h1v1h-1zM245.2 356.0h1v1h-1zM256.7 362.4h1v1h-1zM222.3 349.8h1v1h-1zM218.5 384.5h1v1h-1zM254.0 363.8h1v1h-1zM232.2 381.2h1v1h-1zM216.1 381.0h1v1h-1zM235.1 357.3h1v1h-1zM256.9 369.5h1v1h-1zM229.6 369.1h1v1h-1zM220.8 384.9h1v1h-1zM254.9 365.0h1v1h-1zM212.8 346.3h1v1h-1zM214.6 385.2h1v1h-1zM210.5 381.8h1v1h-1zM257.1 337.0h1v1h-1zM230.1 360.6h1v1h-1zM221.2 371.3h1v1h-1zM209.0 376.0h1v1h-1zM224.9 343.8h1v1h-1zM217.4 374.2h1v1h-1zM261.5 350.2h1v1h-1zM215.5 354.3h1v1h-1zM254.9 337.3h1v1h-1zM239.9 352.6h1v1h-1zM211.2 373.6h1v1h-1zM220.8 384.3h1v1h-1zM229.4 352.4h1v1h-1zM230.8 344.9h1v1h-1zM226.7 366.6h1v1h-1zM247.5 333.2h1v1h-1zM214.3 382.9h1v1h-1zM213.8 359.9h1v1h-1zM241.3 380.9h1v1h-1zM227.4 381.7h1v1h-1zM249.2 367.5h1v1h-1zM225.8 368.4h1v1h-1zM249.7 379.9h1v1h-1zM261.8 367.4h1v1h-1zM229.7 379.6h1v1h-1zM224.3 387.6h1v1h-1zM253.7 352.5h1v1h-1zM217.0 350.9h1v1h-1zM240.3 351.1h1v1h-1zM264.5 346.4h1v1h-1zM226.4 348.2h1v1h-1zM254.0 353.1h1v1h-1zM233.3 359.6h1v1h-1zM253.7 364.4h1v1h-1zM210.4 361.9h1v1h-1zM218.9 365.8h1v1h-1zM261.8 357.8h1v1h-1zM232.6 348.3h1v1h-1zM212.0 341.3h1v1h-1zM261.9 345.0h1v1h-1zM246.9 361.2h1v1h-1zM226.2 361.2h1v1h-1zM261.0 343.1h1v1h-1zM224.4 354.3h1v1h-1zM228.6 378.8h1v1h-1zM242.2 378.9h1v1h-1zM245.0 375.7h1v1h-1zM237.1 339.6h1v1h-1zM256.4 367.7h1v1h-1zM241.4 381.2h1v1h-1zM248.7 382.8h1v1h-1zM213.5 357.2h1v1h-1zM263.3 380.4h1v1h-1zM213.7 348.7h1v1h-1zM250.3 349.7h1v1h-1zM246.0 363.4h1v1h-1zM224.2 381.2h1v1h-1zM269.0 376.3h1v1h-1zM260.5 350.8h1v1h-1zM237.4 362.1h1v1h-1zM233.1 359.2h1v1h-1zM235.0 341.3h1v1h-1zM250.2 340.5h1v1h-1zM224.7 367.7h1v1h-1zM235.4 360.4h1v1h-1zM249.2 365.5h1v1h-1zM223.4 351.1h1v1h-1zM235.7 354.3h1v1h-1zM214.6 359.0h1v1h-1zM266.0 380.3h1v1h-1zM245.7 336.1h1v1h-1zM217.2 361.0h1v1h-1zM242.3 371.2h1v1h-1zM213.3 381.1h1v1h-1zM235.8 353.1h1v1h-1zM259.1 342.2h1v1h-1zM247.7 374.6h1v1h-1zM232.7 384.6h1v1h-1zM247.6 366.2h1v1h-1zM264.6 344.5h1v1h-1zM222.5 387.7h1v1h-1zM262.8 375.9h1v1h-1zM224.2 382.4h1v1h-1zM246.2 360.3h1v1h-1zM217.7 377.7h1v1h-1zM238.5 372.6h1v1h-1zM265.9 356.5h1v1h-1zM235.9 350.5h1v1h-1zM252.7 351.4h1v1h-1zM237.6 353.4h1v1h-1zM212.2 374.1h1v1h-1zM237.7 349.6h1v1h-1zM224.7 372.0h1v1h-1zM267.3 366.8h1v1h-1zM256.2 376.8h1v1h-1zM262.0 377.5h1v1h-1zM243.6 342.4h1v1h-1zM267.7 341.6h1v1h-1zM262.8 339.9h1v1h-1zM236.6 351.7h1v1h-1zM244.6 362.1h1v1h-1zM226.6 343.0h1v1h-1zM234.1 336.0h1v1h-1zM211.6 377.5h1v1h-1zM252.5 352.4h1v1h-1zM229.5 371.0h1v1h-1zM235.2 369.7h1v1h-1zM232.7 349.5h1v1h-1zM260.7 347.4h1v1h-1zM225.5 359.3h1v1h-1zM245.6 333.7h1v1h-1zM222.0 349.8h1v1h-1zM227.2 354.3h1v1h-1zM253.0 359.9h1v1h-1zM240.3 338.0h1v1h-1zM234.0 373.3h1v1h-1zM224.7 382.2h1v1h-1zM212.7 387.5h1v1h-1zM210.7 362.6h1v1h-1zM258.4 342.7h1v1h-1zM250.2 375.3h1v1h-1zM254.9 355.2h1v1h-1zM246.0 373.4h1v1h-1zM212.2 341.5h1v1h-1zM249.5 368.2h1v1h-1zM217.9 341.3h1v1h-1zM266.9 375.8h1v1h-1zM266.1 373.5h1v1h-1zM266.8 349.1h1v1h-1zM235.0 369.8h1v1h-1zM247.6 380.1h1v1h-1zM213.5 336.6h1v1h-1zM262.2 364.1h1v1h-1zM252.5 364.4h1v1h-1zM228.2 387.3h1v1h-1zM239.3 357.6h1v1h-1zM220.6 340.4h1v1h-1zM246.7 382.4h1v1h-1zM268.3 351.3h1v1h-1zM225.2 366.0h1v1h-1zM212.2 384.5h1v1h-1zM214.5 350.9h1v1h-1zM238.5 377.0h1v1h-1zM262.1 377.7h1v1h-1zM211.8 383.5h1v1h-1zM238.8 341.2h1v1h-1zM234.0 370.5h1v1h-1zM249.9 348.7h1v1h-1zM246.1 369.7h1v1h-1zM245.0 379.1h1v1h-1zM239.5 352.7h1v1h-1zM240.3 333.4h1v1h-1zM214.6 344.1h1v1h-1zM236.8 351.1h1v1h-1zM224.9 384.4h1v1h-1zM232.1 349.6h1v1h-1zM243.5 353.1h1v1h-1zM256.0 343.3h1v1h-1zM250.5 376.0h1v1h-1zM223.4 379.9h1v1h-1zM261.0 353.5h1v1h-1zM241.9 357.4h1v1h-1zM218.4 349.4h1v1h-1zM247.1 358.5h1v1h-1zM261.8 348.1h1v1h-1zM244.1 335.4h1v1h-1z"/>
<path fill="#9ab0d0" fill-opacity="0.4" d="M208.0 382.0h1v1h-1zM203.9 380.2h1v1h-1zM202.4 365.5h1v1h-1zM207.6 378.8h1v1h-1zM204.6 356.9h1v1h-1zM200.7 371.4h1v1h-1zM211.5 350.1h1v1h-1zM208.4 373.2h1v1h-1zM205.2 364.3h1v1h-1zM207.0 365.3h1v1h-1zM201.8 367.9h1v1h-1zM210.7 354.4h1v1h-1zM203.8 387.7h1v1h-1zM200.9 375.5h1v1h-1zM201.5 387.7h1v1h-1zM203.6 351.3h1v1h-1zM200.3 368.5h1v1h-1zM210.8 379.1h1v1h-1zM201.3 388.4h1v1h-1zM202.1 353.3h1v1h-1zM209.8 351.6h1v1h-1zM209.6 378.8h1v1h-1zM208.6 360.5h1v1h-1zM209.6 370.3h1v1h-1zM209.3 382.3h1v1h-1zM211.7 391.7h1v1h-1zM209.0 390.4h1v1h-1zM204.2 353.3h1v1h-1zM204.3 372.1h1v1h-1zM200.8 353.7h1v1h-1zM205.6 370.6h1v1h-1zM203.5 371.8h1v1h-1zM206.7 364.8h1v1h-1zM207.4 358.4h1v1h-1zM200.4 371.1h1v1h-1zM204.3 357.9h1v1h-1zM210.1 372.0h1v1h-1zM209.1 383.0h1v1h-1zM202.6 393.7h1v1h-1zM210.9 360.6h1v1h-1zM212.9 360.1h1v1h-1zM205.2 369.3h1v1h-1zM202.7 357.4h1v1h-1zM205.6 356.9h1v1h-1zM201.4 363.1h1v1h-1zM213.4 385.4h1v1h-1zM209.1 362.4h1v1h-1zM205.3 361.2h1v1h-1zM210.4 394.9h1v1h-1zM210.4 389.1h1v1h-1zM208.4 378.9h1v1h-1zM211.7 380.4h1v1h-1zM208.1 374.7h1v1h-1zM206.3 372.1h1v1h-1zM211.5 363.5h1v1h-1zM202.5 362.3h1v1h-1zM210.9 394.4h1v1h-1zM207.5 390.3h1v1h-1zM210.7 394.0h1v1h-1zM200.9 358.0h1v1h-1zM202.8 384.1h1v1h-1zM206.5 350.4h1v1h-1zM205.1 360.4h1v1h-1zM204.1 387.2h1v1h-1zM209.6 364.4h1v1h-1zM208.7 366.1h1v1h-1zM200.7 355.5h1v1h-1zM204.7 359.3h1v1h-1zM208.2 387.5h1v1h-1zM212.3 392.0h1v1h-1zM202.7 393.8h1v1h-1zM204.2 390.3h1v1h-1zM211.5 358.9h1v1h-1zM207.7 369.2h1v1h-1zM209.1 361.7h1v1h-1zM210.0 381.2h1v1h-1zM210.8 383.2h1v1h-1zM205.4 375.9h1v1h-1zM207.1 367.7h1v1h-1zM204.4 362.2h1v1h-1zM200.4 386.8h1v1h-1zM209.3 355.8h1v1h-1zM203.3 354.9h1v1h-1zM210.1 355.9h1v1h-1zM208.6 359.3h1v1h-1zM205.4 369.2h1v1h-1zM202.8 353.4h1v1h-1zM201.6 381.5h1v1h-1zM202.6 362.5h1v1h-1zM200.7 384.4h1v1h-1zM208.1 365.6h1v1h-1zM209.9 364.5h1v1h-1zM212.3 375.1h1v1h-1zM213.0 353.4h1v1h-1zM208.1 361.1h1v1h-1zM202.0 377.0h1v1h-1zM211.5 360.7h1v1h-1zM207.0 373.5h1v1h-1zM205.3 372.5h1v1h-1zM208.2 375.1h1v1h-1zM209.6 353.5h1v1h-1zM205.8 367.7h1v1h-1zM212.8 383.3h1v1h-1zM200.9 378.5h1v1h-1zM210.7 372.5h1v1h-1zM212.2 351.1h1v1h-1zM210.9 393.8h1v1h-1zM203.0 370.1h1v1h-1zM202.1 378.3h1v1h-1zM213.1 355.3h1v1h-1zM208.7 383.4h1v1h-1zM200.9 370.6h1v1h-1zM200.7 394.2h1v1h-1zM208.0 380.6h1v1h-1zM204.9 370.9h1v1h-1zM205.1 357.3h1v1h-1zM203.2 388.4h1v1h-1zM202.6 378.1h1v1h-1zM207.7 362.8h1v1h-1zM213.1 390.3h1v1h-1zM201.6 394.7h1v1h-1zM207.7 356.9h1v1h-1zM204.0 390.6h1v1h-1zM212.9 375.6h1v1h-1zM213.0 360.0h1v1h-1zM213.3 352.8h1v1h-1zM202.2 382.7h1v1h-1zM203.5 350.6h1v1h-1zM204.5 391.2h1v1h-1zM204.7 354.9h1v1h-1zM206.9 377.5h1v1h-1zM209.6 363.9h1v1h-1zM207.5 385.6h1v1h-1zM212.0 363.8h1v1h-1zM209.5 353.6h1v1h-1zM204.9 356.8h1v1h-1zM205.7 394.3h1v1h-1zM213.0 393.8h1v1h-1zM213.0 369.9h1v1h-1zM210.8 380.7h1v1h-1zM206.8 380.7h1v1h-1zM202.1 352.5h1v1h-1zM210.3 387.1h1v1h-1zM209.2 369.5h1v1h-1zM201.6 364.3h1v1h-1zM210.7 381.1h1v1h-1zM211.2 389.8h1v1h-1zM202.4 391.9h1v1h-1zM213.2 370.9h1v1h-1zM210.5 357.1h1v1h-1zM206.7 385.6h1v1h-1zM201.4 360.8h1v1h-1zM207.5 370.0h1v1h-1zM205.8 386.9h1v1h-1zM205.1 365.3h1v1h-1zM212.0 360.2h1v1h-1zM210.4 350.5h1v1h-1zM202.5 363.4h1v1h-1zM201.3 377.4h1v1h-1zM204.7 394.0h1v1h-1zM210.8 353.2h1v1h-1zM200.9 364.2h1v1h-1zM202.9 370.4h1v1h-1zM202.4 391.5h1v1h-1zM209.0 386.0h1v1h-1zM203.6 376.8h1v1h-1zM206.8 374.3h1v1h-1zM204.3 359.8h1v1h-1zM204.1 356.1h1v1h-1zM206.4 361.0h1v1h-1zM201.9 394.9h1v1h-1zM212.5 361.5h1v1h-1zM204.8 354.8h1v1h-1zM207.2 377.7h1v1h-1zM203.4 375.1h1v1h-1zM204.0 371.7h1v1h-1zM202.2 361.3h1v1h-1zM203.1 351.0h1v1h-1zM205.6 376.3h1v1h-1zM212.1 379.4h1v1h-1zM203.7 364.5h1v1h-1zM201.0 359.0h1v1h-1zM201.2 366.6h1v1h-1zM207.8 356.4h1v1h-1zM207.6 393.0h1v1h-1zM213.0 376.2h1v1h-1zM204.3 378.4h1v1h-1zM212.8 363.4h1v1h-1zM202.0 390.4h1v1h-1zM212.8 374.7h1v1h-1zM202.7 391.9h1v1h-1zM201.5 367.0h1v1h-1zM212.2 376.1h1v1h-1zM210.9 361.9h1v1h-1zM207.6 361.5h1v1h-1zM201.1 360.6h1v1h-1zM203.7 351.4h1v1h-1zM210.9 367.5h1v1h-1zM202.1 380.6h1v1h-1zM212.7 351.3h1v1h-1zM203.1 373.5h1v1h-1zM200.4 370.5h1v1h-1zM200.1 365.5h1v1h-1zM211.8 354.2h1v1h-1zM212.8 354.7h1v1h-1zM205.7 364.8h1v1h-1zM201.7 389.7h1v1h-1zM203.2 389.8h1v1h-1zM212.5 373.0h1v1h-1zM210.2 350.6h1v1h-1zM207.0 359.8h1v1h-1zM210.8 368.3h1v1h-1zM201.6 358.1h1v1h-1zM200.7 392.2h1v1h-1zM206.0 384.1h1v1h-1zM212.3 364.3h1v1h-1z"/>
<path fill="#4a76b4" fill-opacity="0.6" d="M200.0 376.8h1v1h-1zM200.2 376.6h1v1h-1zM200.6 355.2h1v1h-1zM198.2 383.9h1v1h-1zM204.6 343.8h1v1h-1zM198.7 382.2h1v1h-1zM205.6 349.0h1v1h-1zM200.4 368.1h1v1h-1zM198.2 375.4h1v1h-1zM197.7 380.6h1v1h-1zM205.8 337.6h1v1h-1zM203.0 355.7h1v1h-1zM200.1 376.8h1v1h-1zM199.7 366.0h1v1h-1zM206.7 344.3h1v1h-1zM195.3 398.8h1v1h-1zM204.6 338.9h1v1h-1zM202.4 356.5h1v1h-1zM204.4 349.9h1v1h-1zM201.3 382.6h1v1h-1zM197.3 378.8h1v1h-1zM199.1 359.3h1v1h-1zM197.9 392.2h1v1h-1zM198.4 392.1h1v1h-1zM202.4 362.3h1v1h-1zM202.3 369.3h1v1h-1zM198.8 376.3h1v1h-1zM202.7 351.4h1v1h-1zM200.3 366.4h1v1h-1zM203.5 346.1h1v1h-1zM199.7 372.7h1v1h-1zM205.2 345.4h1v1h-1zM202.9 350.5h1v1h-1zM202.4 354.1h1v1h-1zM201.8 359.9h1v1h-1zM201.9 351.5h1v1h-1zM204.6 340.7h1v1h-1zM197.1 396.3h1v1h-1zM204.8 351.4h1v1h-1zM204.7 350.0h1v1h-1zM194.8 393.2h1v1h-1zM198.9 383.5h1v1h-1zM200.2 376.7h1v1h-1zM203.2 357.6h1v1h-1zM203.2 369.3h1v1h-1zM202.0 352.9h1v1h-1zM201.6 356.4h1v1h-1zM201.6 372.0h1v1h-1zM199.2 380.1h1v1h-1zM199.0 374.9h1v1h-1zM208.9 339.2h1v1h-1zM204.3 345.8h1v1h-1zM204.1 345.9h1v1h-1zM198.1 381.9h1v1h-1zM202.6 357.6h1v1h-1zM199.8 388.9h1v1h-1zM204.9 337.6h1v1h-1zM199.4 379.5h1v1h-1zM199.9 387.7h1v1h-1zM205.7 339.6h1v1h-1zM205.1 356.9h1v1h-1zM206.3 339.0h1v1h-1zM204.1 348.5h1v1h-1zM198.9 376.3h1v1h-1zM200.3 370.1h1v1h-1zM203.4 347.2h1v1h-1zM201.2 374.3h1v1h-1zM198.0 394.0h1v1h-1zM205.7 343.4h1v1h-1zM201.4 373.2h1v1h-1zM198.2 384.1h1v1h-1zM202.8 360.0h1v1h-1zM208.2 343.0h1v1h-1zM198.3 379.2h1v1h-1zM200.8 373.0h1v1h-1zM201.5 365.7h1v1h-1zM197.4 385.0h1v1h-1zM201.8 369.1h1v1h-1zM200.2 365.4h1v1h-1zM202.1 368.6h1v1h-1zM203.3 362.6h1v1h-1zM201.8 365.4h1v1h-1zM205.4 344.6h1v1h-1zM198.5 393.3h1v1h-1zM198.0 379.8h1v1h-1zM204.7 348.1h1v1h-1zM198.3 397.7h1v1h-1zM204.1 353.2h1v1h-1zM201.7 353.1h1v1h-1zM201.2 362.7h1v1h-1zM199.0 380.5h1v1h-1zM199.0 379.9h1v1h-1zM205.1 340.4h1v1h-1zM202.2 366.4h1v1h-1zM202.5 375.5h1v1h-1zM204.6 347.5h1v1h-1zM202.1 348.1h1v1h-1zM204.3 343.1h1v1h-1zM203.8 345.7h1v1h-1zM201.9 366.4h1v1h-1zM200.1 382.3h1v1h-1zM201.3 359.7h1v1h-1zM204.6 347.1h1v1h-1zM199.3 382.5h1v1h-1zM201.6 362.2h1v1h-1zM198.0 378.2h1v1h-1zM203.1 346.3h1v1h-1zM202.8 361.4h1v1h-1zM200.9 373.9h1v1h-1zM203.7 349.4h1v1h-1zM205.9 342.3h1v1h-1zM201.6 360.3h1v1h-1zM199.1 382.5h1v1h-1zM202.3 368.3h1v1h-1zM200.2 385.2h1v1h-1zM200.0 369.9h1v1h-1zM204.3 357.7h1v1h-1zM206.5 344.6h1v1h-1zM199.8 360.9h1v1h-1zM198.9 375.3h1v1h-1zM202.9 365.7h1v1h-1zM197.6 386.0h1v1h-1zM200.3 365.6h1v1h-1zM203.3 357.6h1v1h-1zM196.3 397.4h1v1h-1zM201.2 369.6h1v1h-1zM200.9 356.1h1v1h-1zM197.0 388.3h1v1h-1zM196.5 398.0h1v1h-1zM203.3 354.0h1v1h-1zM199.2 390.9h1v1h-1zM205.4 348.0h1v1h-1zM206.1 341.0h1v1h-1zM201.0 391.4h1v1h-1zM201.7 363.5h1v1h-1zM204.5 341.6h1v1h-1zM199.6 398.2h1v1h-1zM199.9 386.3h1v1h-1zM207.5 338.8h1v1h-1zM201.4 379.8h1v1h-1zM197.6 385.7h1v1h-1zM201.8 365.5h1v1h-1zM199.4 372.1h1v1h-1zM205.8 342.1h1v1h-1zM202.8 354.2h1v1h-1zM207.2 336.8h1v1h-1zM204.6 348.2h1v1h-1zM201.2 377.1h1v1h-1zM199.5 383.4h1v1h-1zM203.2 355.5h1v1h-1zM203.0 357.6h1v1h-1zM197.2 398.5h1v1h-1zM198.9 369.0h1v1h-1zM198.6 378.5h1v1h-1zM200.8 364.7h1v1h-1zM199.3 369.2h1v1h-1zM199.3 389.5h1v1h-1zM200.1 397.4h1v1h-1zM206.0 338.8h1v1h-1zM205.8 343.3h1v1h-1zM199.8 368.5h1v1h-1zM198.9 381.0h1v1h-1zM207.6 336.8h1v1h-1zM203.4 349.0h1v1h-1zM201.9 365.9h1v1h-1zM204.6 348.6h1v1h-1zM202.2 358.2h1v1h-1zM199.7 365.4h1v1h-1zM204.6 344.6h1v1h-1zM198.0 383.0h1v1h-1z"/>
<path fill="#3f70b0" fill-opacity="0.6" d="M204.4 354.0h1v1h-1zM209.2 334.0h1v1h-1zM205.8 346.3h1v1h-1zM206.4 352.7h1v1h-1zM207.9 345.3h1v1h-1zM205.3 352.3h1v1h-1zM204.2 346.0h1v1h-1zM199.8 345.2h1v1h-1zM211.1 350.9h1v1h-1zM203.1 341.7h1v1h-1zM208.4 349.6h1v1h-1zM208.4 350.6h1v1h-1zM206.9 346.9h1v1h-1zM205.3 358.2h1v1h-1zM214.9 352.7h1v1h-1zM206.9 344.8h1v1h-1zM209.0 351.4h1v1h-1zM208.7 342.0h1v1h-1zM200.9 344.6h1v1h-1zM205.7 345.8h1v1h-1zM205.5 343.3h1v1h-1zM203.7 358.9h1v1h-1zM212.9 345.7h1v1h-1zM211.8 349.9h1v1h-1zM208.7 347.8h1v1h-1zM209.7 350.9h1v1h-1zM206.8 345.2h1v1h-1zM206.3 352.0h1v1h-1zM204.6 338.9h1v1h-1zM211.2 341.0h1v1h-1zM206.0 355.7h1v1h-1zM208.7 345.2h1v1h-1zM202.3 344.4h1v1h-1zM203.8 342.8h1v1h-1zM207.8 354.0h1v1h-1zM208.7 345.8h1v1h-1zM210.2 356.7h1v1h-1zM201.0 339.1h1v1h-1zM203.2 340.6h1v1h-1zM204.3 350.8h1v1h-1zM210.6 350.7h1v1h-1zM208.0 356.4h1v1h-1zM203.5 353.2h1v1h-1zM208.6 347.4h1v1h-1zM205.0 348.0h1v1h-1zM201.8 350.1h1v1h-1zM203.7 334.8h1v1h-1zM202.9 346.3h1v1h-1zM205.3 350.8h1v1h-1zM206.0 351.3h1v1h-1zM202.4 342.7h1v1h-1zM206.2 335.7h1v1h-1zM211.9 354.6h1v1h-1zM204.3 345.5h1v1h-1zM208.7 353.2h1v1h-1zM203.0 353.4h1v1h-1zM209.4 341.2h1v1h-1zM207.5 345.6h1v1h-1zM200.6 336.8h1v1h-1zM199.7 362.2h1v1h-1zM207.0 350.3h1v1h-1zM204.6 347.1h1v1h-1zM204.1 348.7h1v1h-1zM206.6 352.8h1v1h-1zM202.4 351.4h1v1h-1zM207.9 344.1h1v1h-1zM207.0 347.3h1v1h-1zM210.0 341.6h1v1h-1zM205.6 349.8h1v1h-1zM211.5 348.8h1v1h-1z"/>
<path fill="#3f7fa8" fill-opacity="0.65" d="M205.4 345.0h1v1h-1zM211.6 388.9h1v1h-1zM208.6 347.0h1v1h-1zM209.2 360.3h1v1h-1zM208.3 355.8h1v1h-1zM206.8 357.0h1v1h-1zM208.2 342.5h1v1h-1zM211.7 389.5h1v1h-1zM209.8 366.0h1v1h-1zM205.2 349.9h1v1h-1zM216.2 380.4h1v1h-1zM205.4 352.7h1v1h-1zM211.2 381.2h1v1h-1zM212.8 390.5h1v1h-1zM203.8 339.2h1v1h-1zM208.8 353.7h1v1h-1zM207.1 346.7h1v1h-1zM209.9 372.1h1v1h-1zM208.8 355.1h1v1h-1zM210.4 364.6h1v1h-1zM213.0 390.8h1v1h-1zM204.9 369.8h1v1h-1zM210.6 369.6h1v1h-1zM207.3 356.5h1v1h-1zM206.2 347.1h1v1h-1zM206.6 348.3h1v1h-1zM209.6 371.5h1v1h-1zM206.0 346.2h1v1h-1zM209.1 375.5h1v1h-1zM212.7 385.2h1v1h-1zM212.8 360.5h1v1h-1zM208.6 353.0h1v1h-1zM209.0 374.0h1v1h-1zM212.6 374.2h1v1h-1zM212.6 366.1h1v1h-1zM211.4 392.5h1v1h-1zM206.6 341.1h1v1h-1zM213.0 388.7h1v1h-1zM210.0 379.1h1v1h-1zM208.0 339.8h1v1h-1zM210.8 354.3h1v1h-1zM212.9 383.8h1v1h-1zM214.0 373.7h1v1h-1zM209.2 373.8h1v1h-1zM208.2 354.6h1v1h-1zM211.4 377.1h1v1h-1zM211.8 386.4h1v1h-1zM206.2 354.0h1v1h-1zM207.7 347.3h1v1h-1zM210.4 372.9h1v1h-1zM205.8 356.7h1v1h-1zM209.8 359.1h1v1h-1zM210.5 364.3h1v1h-1zM207.4 355.0h1v1h-1zM213.4 352.2h1v1h-1zM211.5 350.8h1v1h-1zM210.0 359.7h1v1h-1zM208.2 364.3h1v1h-1zM213.8 393.1h1v1h-1zM207.9 342.7h1v1h-1zM214.8 374.4h1v1h-1zM207.8 354.6h1v1h-1zM212.4 374.8h1v1h-1zM210.2 361.5h1v1h-1zM209.7 363.6h1v1h-1zM208.3 369.2h1v1h-1zM211.8 363.2h1v1h-1zM207.4 358.3h1v1h-1zM209.5 356.7h1v1h-1zM209.6 358.9h1v1h-1zM206.9 365.6h1v1h-1zM207.0 354.2h1v1h-1zM211.5 377.8h1v1h-1zM205.2 345.0h1v1h-1zM209.4 352.8h1v1h-1zM208.9 365.7h1v1h-1zM209.2 337.0h1v1h-1zM214.6 385.4h1v1h-1zM211.7 376.2h1v1h-1zM207.1 343.2h1v1h-1zM209.2 351.2h1v1h-1zM205.1 338.8h1v1h-1zM211.0 359.7h1v1h-1zM212.0 361.8h1v1h-1zM208.0 367.9h1v1h-1zM210.5 376.1h1v1h-1zM214.2 387.1h1v1h-1zM212.9 372.9h1v1h-1zM206.4 344.5h1v1h-1zM207.3 360.5h1v1h-1zM209.6 371.7h1v1h-1zM207.4 343.2h1v1h-1zM212.2 374.1h1v1h-1zM212.0 381.4h1v1h-1zM205.2 356.9h1v1h-1zM210.5 352.5h1v1h-1zM207.4 367.2h1v1h-1zM210.3 350.5h1v1h-1zM209.5 369.4h1v1h-1zM211.3 382.2h1v1h-1zM212.6 342.5h1v1h-1zM211.9 383.8h1v1h-1zM212.4 366.8h1v1h-1zM208.7 379.4h1v1h-1zM210.8 358.6h1v1h-1zM206.4 343.2h1v1h-1zM205.8 357.4h1v1h-1zM209.0 346.6h1v1h-1zM208.0 346.4h1v1h-1zM208.8 356.2h1v1h-1zM210.2 380.8h1v1h-1zM211.8 362.9h1v1h-1zM212.1 386.3h1v1h-1zM207.8 358.4h1v1h-1zM206.4 336.4h1v1h-1zM207.6 346.3h1v1h-1zM214.5 380.9h1v1h-1zM213.8 364.3h1v1h-1zM209.6 345.5h1v1h-1zM212.0 365.5h1v1h-1zM211.0 384.2h1v1h-1zM207.9 351.8h1v1h-1zM210.8 375.2h1v1h-1zM209.5 370.0h1v1h-1zM214.7 389.5h1v1h-1zM208.4 346.5h1v1h-1zM209.9 373.3h1v1h-1zM210.9 366.8h1v1h-1zM216.0 390.0h1v1h-1zM209.9 338.4h1v1h-1zM210.6 373.3h1v1h-1zM211.8 357.3h1v1h-1zM211.8 353.8h1v1h-1zM207.7 364.4h1v1h-1zM209.7 363.5h1v1h-1zM209.5 350.6h1v1h-1zM208.6 346.2h1v1h-1zM208.2 386.6h1v1h-1zM209.2 361.6h1v1h-1zM210.0 371.9h1v1h-1zM205.4 349.1h1v1h-1zM210.9 387.2h1v1h-1zM207.8 371.7h1v1h-1zM212.4 375.4h1v1h-1zM206.9 356.2h1v1h-1zM212.0 375.4h1v1h-1zM208.9 367.9h1v1h-1zM206.0 356.1h1v1h-1zM212.5 376.8h1v1h-1zM211.1 381.0h1v1h-1zM212.7 361.5h1v1h-1zM208.4 344.5h1v1h-1zM207.9 363.3h1v1h-1zM211.5 383.2h1v1h-1zM210.0 383.1h1v1h-1zM208.9 381.8h1v1h-1zM212.2 373.4h1v1h-1zM208.0 359.5h1v1h-1zM208.7 349.0h1v1h-1zM215.2 382.8h1v1h-1zM210.4 366.9h1v1h-1zM210.5 357.3h1v1h-1zM212.1 387.2h1v1h-1zM206.5 351.1h1v1h-1zM209.3 377.2h1v1h-1zM205.9 342.7h1v1h-1zM209.1 355.3h1v1h-1zM208.1 352.3h1v1h-1zM211.3 370.3h1v1h-1zM212.0 362.6h1v1h-1zM209.9 371.7h1v1h-1zM210.5 358.8h1v1h-1zM213.3 381.7h1v1h-1zM210.5 381.9h1v1h-1zM205.4 345.1h1v1h-1zM214.4 385.2h1v1h-1zM208.3 357.5h1v1h-1zM212.8 370.4h1v1h-1zM213.9 375.1h1v1h-1zM210.2 372.1h1v1h-1zM207.0 346.9h1v1h-1zM208.3 362.5h1v1h-1zM210.7 388.3h1v1h-1zM212.4 370.5h1v1h-1zM213.0 385.2h1v1h-1zM212.9 376.3h1v1h-1zM208.6 368.8h1v1h-1zM210.2 361.1h1v1h-1zM212.2 378.7h1v1h-1zM213.6 380.9h1v1h-1zM209.6 356.9h1v1h-1zM209.5 356.9h1v1h-1zM208.4 358.0h1v1h-1zM211.3 389.7h1v1h-1zM214.8 386.3h1v1h-1zM214.7 389.1h1v1h-1zM207.9 352.0h1v1h-1zM212.0 363.8h1v1h-1zM205.8 359.3h1v1h-1zM210.4 348.2h1v1h-1z"/>
<path fill="#4a7ab6" fill-opacity="0.6" d="M211.9 397.1h1v1h-1zM225.8 393.9h1v1h-1zM258.0 383.3h1v1h-1zM217.3 394.7h1v1h-1zM267.4 383.9h1v1h-1zM208.1 394.9h1v1h-1zM230.9 391.2h1v1h-1zM227.1 393.6h1v1h-1zM256.0 384.4h1v1h-1zM242.4 387.8h1v1h-1zM211.7 395.1h1v1h-1zM221.7 393.4h1v1h-1zM233.8 390.0h1v1h-1zM199.8 398.1h1v1h-1zM216.2 390.8h1v1h-1zM209.0 400.7h1v1h-1zM229.6 391.8h1v1h-1zM203.6 397.4h1v1h-1zM200.4 398.9h1v1h-1zM206.3 395.6h1v1h-1zM263.0 382.6h1v1h-1zM219.1 395.2h1v1h-1zM237.8 388.6h1v1h-1zM217.5 396.1h1v1h-1zM232.3 390.3h1v1h-1zM258.8 380.7h1v1h-1zM209.0 395.9h1v1h-1zM234.4 384.9h1v1h-1zM232.0 388.2h1v1h-1zM206.3 397.5h1v1h-1zM233.0 387.4h1v1h-1zM211.4 392.5h1v1h-1zM225.0 392.1h1v1h-1zM203.4 399.5h1v1h-1zM210.8 395.4h1v1h-1zM238.2 389.0h1v1h-1zM211.6 395.9h1v1h-1zM245.0 382.4h1v1h-1zM211.4 398.3h1v1h-1zM217.7 395.1h1v1h-1zM251.2 385.5h1v1h-1zM244.2 385.4h1v1h-1zM201.6 404.6h1v1h-1zM225.0 388.4h1v1h-1zM229.8 389.0h1v1h-1zM219.8 392.3h1v1h-1zM265.8 380.7h1v1h-1zM233.9 388.6h1v1h-1zM212.4 394.3h1v1h-1zM246.1 387.2h1v1h-1zM233.1 386.5h1v1h-1zM208.2 395.6h1v1h-1zM222.9 392.2h1v1h-1zM225.3 395.4h1v1h-1zM199.4 404.1h1v1h-1zM251.3 386.6h1v1h-1zM237.9 385.2h1v1h-1zM264.1 380.9h1v1h-1zM231.1 392.6h1v1h-1zM201.8 398.6h1v1h-1zM199.1 399.6h1v1h-1zM221.4 391.3h1v1h-1zM232.4 395.4h1v1h-1zM253.7 382.3h1v1h-1zM207.5 399.3h1v1h-1zM242.8 384.5h1v1h-1zM207.0 399.2h1v1h-1zM218.3 394.0h1v1h-1zM225.1 390.3h1v1h-1zM202.9 396.5h1v1h-1zM254.2 384.1h1v1h-1zM211.8 395.7h1v1h-1zM236.3 389.5h1v1h-1zM266.2 380.7h1v1h-1zM210.5 395.4h1v1h-1zM216.1 393.1h1v1h-1zM231.1 389.3h1v1h-1zM243.9 386.0h1v1h-1zM217.4 390.6h1v1h-1zM252.7 384.3h1v1h-1zM218.2 391.1h1v1h-1zM225.7 391.0h1v1h-1zM228.8 393.3h1v1h-1zM219.6 392.7h1v1h-1zM232.7 393.3h1v1h-1zM201.9 400.5h1v1h-1zM253.7 386.9h1v1h-1zM219.3 389.9h1v1h-1zM203.2 395.2h1v1h-1zM262.1 383.3h1v1h-1zM224.4 393.2h1v1h-1zM203.4 396.6h1v1h-1zM248.6 387.1h1v1h-1zM231.8 387.3h1v1h-1zM219.3 395.9h1v1h-1zM238.2 386.5h1v1h-1zM261.3 383.9h1v1h-1zM214.8 394.3h1v1h-1zM264.3 381.1h1v1h-1zM249.7 387.3h1v1h-1zM247.0 386.6h1v1h-1zM209.2 398.4h1v1h-1zM241.2 388.3h1v1h-1zM231.1 389.4h1v1h-1zM235.1 386.3h1v1h-1zM251.0 385.2h1v1h-1zM204.5 394.9h1v1h-1zM236.3 391.7h1v1h-1zM236.2 389.2h1v1h-1zM235.7 391.7h1v1h-1zM240.5 389.2h1v1h-1zM209.5 395.5h1v1h-1zM204.2 398.1h1v1h-1zM232.3 386.9h1v1h-1zM216.9 395.9h1v1h-1zM228.6 392.5h1v1h-1zM228.5 391.5h1v1h-1zM213.1 394.4h1v1h-1zM205.3 395.7h1v1h-1zM257.2 385.0h1v1h-1zM248.2 384.7h1v1h-1zM213.7 393.9h1v1h-1zM251.1 384.3h1v1h-1zM222.6 395.7h1v1h-1zM242.4 387.4h1v1h-1zM224.8 389.5h1v1h-1zM245.8 383.5h1v1h-1zM229.3 388.4h1v1h-1zM244.5 383.8h1v1h-1zM265.7 381.2h1v1h-1zM229.7 396.3h1v1h-1zM242.5 387.1h1v1h-1zM241.7 387.3h1v1h-1zM207.9 393.3h1v1h-1zM263.2 381.4h1v1h-1zM205.1 395.0h1v1h-1zM213.7 395.4h1v1h-1zM247.3 388.0h1v1h-1zM248.0 387.2h1v1h-1zM257.0 380.5h1v1h-1zM250.9 384.1h1v1h-1zM210.2 390.0h1v1h-1zM209.2 398.3h1v1h-1zM234.9 387.9h1v1h-1zM265.4 381.6h1v1h-1zM209.2 396.2h1v1h-1zM215.2 397.3h1v1h-1zM199.7 401.3h1v1h-1zM255.1 385.2h1v1h-1zM241.5 390.0h1v1h-1zM211.0 393.1h1v1h-1zM267.8 380.6h1v1h-1zM207.7 393.9h1v1h-1zM233.4 391.1h1v1h-1zM215.3 398.6h1v1h-1zM222.7 396.5h1v1h-1zM265.9 380.6h1v1h-1zM209.6 396.6h1v1h-1zM218.8 393.3h1v1h-1zM215.5 396.5h1v1h-1zM205.1 399.1h1v1h-1zM205.2 394.7h1v1h-1zM204.0 396.7h1v1h-1zM207.4 403.3h1v1h-1zM257.7 384.4h1v1h-1zM225.5 391.5h1v1h-1zM223.4 396.4h1v1h-1zM250.2 385.4h1v1h-1zM256.0 384.0h1v1h-1zM210.8 393.7h1v1h-1zM227.7 396.4h1v1h-1zM222.4 392.3h1v1h-1zM208.6 397.8h1v1h-1zM202.4 392.3h1v1h-1zM219.2 397.6h1v1h-1zM267.9 382.4h1v1h-1zM211.7 399.8h1v1h-1zM237.9 383.8h1v1h-1zM238.0 389.7h1v1h-1zM242.9 388.4h1v1h-1zM258.3 381.6h1v1h-1zM226.0 391.7h1v1h-1zM209.2 394.1h1v1h-1zM263.2 381.5h1v1h-1zM202.8 397.7h1v1h-1zM260.1 381.3h1v1h-1zM226.8 393.7h1v1h-1zM252.5 384.8h1v1h-1zM252.3 383.7h1v1h-1zM208.9 398.7h1v1h-1zM236.4 393.1h1v1h-1zM222.0 393.2h1v1h-1zM216.5 396.0h1v1h-1zM203.3 397.2h1v1h-1zM250.2 384.9h1v1h-1zM233.4 390.2h1v1h-1zM203.9 396.1h1v1h-1zM240.0 386.8h1v1h-1zM210.3 393.1h1v1h-1zM237.6 389.3h1v1h-1zM206.5 401.7h1v1h-1zM199.2 398.7h1v1h-1zM223.7 392.0h1v1h-1zM250.1 384.6h1v1h-1zM221.9 392.3h1v1h-1zM206.7 395.4h1v1h-1zM210.5 395.5h1v1h-1zM213.8 398.1h1v1h-1zM215.6 390.8h1v1h-1zM223.8 392.8h1v1h-1zM212.3 394.2h1v1h-1zM229.6 391.7h1v1h-1zM202.3 401.0h1v1h-1zM236.5 390.9h1v1h-1zM246.8 385.8h1v1h-1zM223.6 391.3h1v1h-1zM250.3 389.6h1v1h-1zM229.2 387.2h1v1h-1zM198.7 400.3h1v1h-1zM214.4 396.9h1v1h-1zM227.2 390.1h1v1h-1zM248.3 385.2h1v1h-1zM216.2 395.0h1v1h-1zM263.0 380.6h1v1h-1zM201.8 401.5h1v1h-1zM257.1 382.5h1v1h-1zM249.8 386.0h1v1h-1zM241.6 389.3h1v1h-1zM250.2 383.1h1v1h-1zM226.4 392.1h1v1h-1zM248.1 388.0h1v1h-1zM220.9 391.8h1v1h-1zM235.5 388.1h1v1h-1zM234.6 388.5h1v1h-1zM239.3 388.1h1v1h-1zM208.7 398.5h1v1h-1zM226.3 391.2h1v1h-1zM224.0 389.7h1v1h-1zM238.8 387.3h1v1h-1zM211.2 398.0h1v1h-1zM234.4 393.1h1v1h-1zM244.0 389.1h1v1h-1zM220.9 390.4h1v1h-1zM226.2 392.0h1v1h-1zM214.6 395.9h1v1h-1zM241.4 386.3h1v1h-1zM253.0 388.5h1v1h-1zM237.0 391.0h1v1h-1zM221.6 394.2h1v1h-1zM225.9 390.3h1v1h-1zM242.7 387.4h1v1h-1zM199.5 400.9h1v1h-1zM227.9 394.7h1v1h-1zM206.7 395.2h1v1h-1zM228.1 390.2h1v1h-1zM242.4 383.9h1v1h-1zM204.0 397.5h1v1h-1zM237.4 390.9h1v1h-1zM208.4 397.3h1v1h-1zM198.6 404.1h1v1h-1zM250.6 386.3h1v1h-1zM229.9 394.5h1v1h-1zM247.9 387.3h1v1h-1zM261.9 384.8h1v1h-1zM237.2 387.9h1v1h-1zM235.4 390.9h1v1h-1zM203.9 397.6h1v1h-1zM251.7 386.2h1v1h-1zM241.6 393.1h1v1h-1zM242.7 388.6h1v1h-1zM202.4 398.4h1v1h-1zM236.0 388.9h1v1h-1zM251.7 382.7h1v1h-1zM214.3 393.6h1v1h-1zM232.5 390.5h1v1h-1zM196.7 398.1h1v1h-1zM209.1 391.9h1v1h-1zM212.0 393.3h1v1h-1zM263.2 381.5h1v1h-1zM221.0 393.6h1v1h-1zM225.2 392.2h1v1h-1zM217.6 393.1h1v1h-1zM215.9 390.1h1v1h-1zM207.6 395.6h1v1h-1zM256.9 383.5h1v1h-1zM248.0 386.6h1v1h-1zM201.2 400.7h1v1h-1zM203.4 403.0h1v1h-1zM214.6 397.5h1v1h-1zM203.9 399.0h1v1h-1zM198.9 399.7h1v1h-1zM220.1 394.8h1v1h-1zM219.2 393.4h1v1h-1zM248.4 386.3h1v1h-1zM247.4 385.2h1v1h-1zM230.0 390.5h1v1h-1zM219.5 395.9h1v1h-1zM230.5 391.9h1v1h-1zM226.3 389.7h1v1h-1z"/>
<path fill="#2f78a8" fill-opacity="0.7" d="M202.6 396.2h1v1h-1zM214.0 400.5h1v1h-1zM203.1 397.6h1v1h-1zM199.1 399.8h1v1h-1zM206.9 395.4h1v1h-1zM212.4 393.7h1v1h-1zM199.7 395.8h1v1h-1zM205.4 395.1h1v1h-1zM199.9 400.7h1v1h-1zM202.1 397.9h1v1h-1zM198.8 396.1h1v1h-1zM208.1 396.4h1v1h-1zM205.0 398.5h1v1h-1zM214.0 395.0h1v1h-1zM215.5 397.4h1v1h-1zM200.0 396.8h1v1h-1zM200.2 398.6h1v1h-1zM199.7 399.9h1v1h-1zM217.0 393.4h1v1h-1zM215.4 390.9h1v1h-1zM207.7 396.3h1v1h-1zM199.1 400.7h1v1h-1zM215.1 396.2h1v1h-1zM202.8 399.8h1v1h-1zM201.9 396.4h1v1h-1zM207.4 395.2h1v1h-1zM214.7 396.3h1v1h-1zM207.5 403.0h1v1h-1zM198.5 398.2h1v1h-1zM198.2 397.9h1v1h-1zM210.2 394.5h1v1h-1zM202.0 395.7h1v1h-1zM206.3 395.3h1v1h-1zM204.4 392.0h1v1h-1zM214.8 396.2h1v1h-1zM199.9 399.2h1v1h-1zM215.7 390.7h1v1h-1zM217.2 393.1h1v1h-1zM210.3 399.0h1v1h-1zM200.8 397.9h1v1h-1zM214.7 393.2h1v1h-1zM203.2 396.6h1v1h-1zM203.6 397.8h1v1h-1zM202.3 395.8h1v1h-1zM202.3 397.5h1v1h-1zM213.8 396.7h1v1h-1zM215.9 393.8h1v1h-1zM216.9 390.8h1v1h-1zM215.2 392.1h1v1h-1zM216.3 393.2h1v1h-1zM200.5 396.5h1v1h-1zM215.7 392.5h1v1h-1zM203.7 395.0h1v1h-1zM207.1 394.5h1v1h-1zM216.0 394.8h1v1h-1zM210.4 393.8h1v1h-1zM213.6 397.0h1v1h-1zM214.6 395.3h1v1h-1zM216.9 393.9h1v1h-1zM206.3 397.0h1v1h-1zM212.1 395.0h1v1h-1zM200.9 401.4h1v1h-1zM212.6 390.9h1v1h-1zM204.9 396.0h1v1h-1zM202.0 397.8h1v1h-1zM209.4 393.8h1v1h-1zM212.4 395.4h1v1h-1zM200.3 397.5h1v1h-1zM204.5 402.2h1v1h-1zM211.2 394.9h1v1h-1zM202.2 399.3h1v1h-1zM198.6 396.1h1v1h-1zM200.7 395.5h1v1h-1zM213.9 396.8h1v1h-1zM206.9 394.9h1v1h-1zM210.4 395.2h1v1h-1zM205.2 400.0h1v1h-1zM203.3 395.3h1v1h-1zM205.8 397.0h1v1h-1zM198.6 397.4h1v1h-1zM199.8 397.5h1v1h-1zM201.4 397.2h1v1h-1zM211.4 392.3h1v1h-1zM203.1 399.4h1v1h-1zM208.3 394.8h1v1h-1zM208.3 398.3h1v1h-1zM211.3 394.2h1v1h-1zM210.9 395.9h1v1h-1zM200.4 395.5h1v1h-1zM212.8 393.6h1v1h-1zM208.7 396.4h1v1h-1zM199.8 399.8h1v1h-1zM198.2 399.0h1v1h-1zM208.5 393.1h1v1h-1zM206.1 393.8h1v1h-1zM205.2 399.2h1v1h-1zM212.6 395.9h1v1h-1zM208.0 394.0h1v1h-1zM211.6 396.2h1v1h-1zM201.0 394.7h1v1h-1zM213.9 396.8h1v1h-1zM207.5 397.1h1v1h-1zM203.2 396.7h1v1h-1zM204.0 399.2h1v1h-1zM207.4 395.7h1v1h-1zM205.1 394.9h1v1h-1zM210.7 398.5h1v1h-1zM204.9 398.2h1v1h-1zM206.4 398.0h1v1h-1zM199.7 399.9h1v1h-1zM215.9 395.9h1v1h-1zM214.0 394.5h1v1h-1zM202.9 394.8h1v1h-1zM200.7 396.7h1v1h-1zM198.3 398.5h1v1h-1zM207.1 395.7h1v1h-1zM199.3 396.9h1v1h-1zM211.4 396.1h1v1h-1zM216.5 393.4h1v1h-1zM206.2 398.5h1v1h-1zM203.0 400.2h1v1h-1zM206.1 395.8h1v1h-1zM212.2 395.4h1v1h-1zM205.3 395.7h1v1h-1zM198.3 395.9h1v1h-1zM198.3 398.3h1v1h-1zM198.3 394.9h1v1h-1zM208.9 395.1h1v1h-1zM199.0 400.4h1v1h-1zM214.5 393.0h1v1h-1z"/>
<path fill="#2a9a90" fill-opacity="0.7" d="M203.1 397.2h1v1h-1zM202.1 396.3h1v1h-1zM206.1 397.8h1v1h-1zM206.1 397.0h1v1h-1zM203.3 397.1h1v1h-1zM198.4 399.3h1v1h-1zM211.7 393.8h1v1h-1zM202.3 397.1h1v1h-1zM202.3 397.0h1v1h-1zM206.2 396.5h1v1h-1zM200.4 397.5h1v1h-1zM200.5 394.8h1v1h-1zM209.3 394.8h1v1h-1zM213.0 392.7h1v1h-1zM209.9 394.6h1v1h-1zM211.7 393.1h1v1h-1zM211.6 394.1h1v1h-1zM206.3 395.5h1v1h-1zM207.0 392.2h1v1h-1zM208.0 393.7h1v1h-1zM211.6 394.8h1v1h-1zM211.0 395.5h1v1h-1zM201.0 397.1h1v1h-1zM199.5 396.7h1v1h-1zM201.9 396.7h1v1h-1zM201.9 397.0h1v1h-1zM211.4 397.1h1v1h-1zM200.4 396.7h1v1h-1zM206.4 398.0h1v1h-1zM203.5 395.5h1v1h-1zM201.0 397.6h1v1h-1zM207.4 393.8h1v1h-1zM207.4 394.1h1v1h-1zM213.2 393.6h1v1h-1zM211.2 393.7h1v1h-1zM213.0 394.8h1v1h-1zM201.0 399.4h1v1h-1zM202.1 396.4h1v1h-1zM209.9 396.2h1v1h-1zM203.6 396.8h1v1h-1z"/>
<path fill="#3a8f8a" fill-opacity="0.7" d="M197.9 398.0h1v1h-1zM197.5 394.8h1v1h-1zM198.1 393.6h1v1h-1zM197.9 402.5h1v1h-1zM198.3 400.1h1v1h-1zM199.4 403.8h1v1h-1zM198.2 394.3h1v1h-1zM197.7 396.3h1v1h-1zM199.4 405.2h1v1h-1zM198.1 408.2h1v1h-1zM197.0 399.5h1v1h-1zM199.1 400.1h1v1h-1zM199.0 393.4h1v1h-1zM199.3 392.8h1v1h-1zM198.2 402.0h1v1h-1zM196.8 397.2h1v1h-1zM197.2 402.1h1v1h-1zM198.0 400.1h1v1h-1zM197.3 396.8h1v1h-1zM198.4 398.9h1v1h-1zM199.9 399.9h1v1h-1zM198.9 402.6h1v1h-1zM196.9 401.1h1v1h-1zM197.7 405.0h1v1h-1zM198.4 405.1h1v1h-1zM196.7 400.3h1v1h-1zM198.4 398.7h1v1h-1zM198.5 400.4h1v1h-1zM197.7 396.2h1v1h-1zM196.5 400.3h1v1h-1zM199.4 391.4h1v1h-1zM197.3 406.4h1v1h-1zM200.0 397.1h1v1h-1zM196.9 398.3h1v1h-1zM198.2 398.7h1v1h-1zM198.7 399.6h1v1h-1zM197.7 398.1h1v1h-1zM197.6 403.7h1v1h-1zM197.6 404.0h1v1h-1zM197.3 396.9h1v1h-1zM198.1 404.5h1v1h-1zM198.7 401.0h1v1h-1zM199.4 393.0h1v1h-1zM197.4 400.7h1v1h-1zM198.9 403.4h1v1h-1zM195.2 401.3h1v1h-1zM196.6 402.3h1v1h-1zM198.2 398.5h1v1h-1zM198.0 401.9h1v1h-1zM198.3 394.0h1v1h-1zM197.6 403.4h1v1h-1zM197.8 403.6h1v1h-1zM196.8 398.6h1v1h-1zM197.9 394.6h1v1h-1zM197.9 394.5h1v1h-1zM196.9 400.7h1v1h-1zM199.9 400.5h1v1h-1zM197.7 403.1h1v1h-1zM196.3 401.9h1v1h-1zM198.9 398.9h1v1h-1zM198.8 405.8h1v1h-1zM199.9 397.8h1v1h-1zM198.9 401.7h1v1h-1zM198.5 396.6h1v1h-1zM197.9 400.8h1v1h-1zM197.6 398.2h1v1h-1zM197.4 405.4h1v1h-1zM197.3 403.3h1v1h-1zM196.8 397.0h1v1h-1zM197.7 401.9h1v1h-1z"/>
<path fill="#8cc850" fill-opacity="0.85" d="M198.1 401.4h1v1h-1zM197.8 401.5h1v1h-1zM197.4 399.3h1v1h-1zM198.8 397.2h1v1h-1zM197.3 400.2h1v1h-1zM198.9 402.8h1v1h-1zM198.7 395.7h1v1h-1zM197.4 399.5h1v1h-1zM196.5 397.0h1v1h-1zM198.0 401.4h1v1h-1zM199.3 398.6h1v1h-1zM199.7 400.0h1v1h-1zM198.7 402.9h1v1h-1zM198.2 401.4h1v1h-1zM197.3 398.4h1v1h-1zM198.7 401.0h1v1h-1zM199.8 396.8h1v1h-1zM198.3 402.2h1v1h-1zM198.3 402.6h1v1h-1zM198.3 398.0h1v1h-1zM198.3 400.0h1v1h-1zM198.6 405.1h1v1h-1zM197.6 398.3h1v1h-1zM198.5 398.4h1v1h-1zM197.5 397.9h1v1h-1zM199.2 397.4h1v1h-1zM198.4 399.7h1v1h-1zM196.4 394.6h1v1h-1zM198.9 399.9h1v1h-1zM198.1 400.6h1v1h-1z"/>
<path fill="#3a9a80" fill-opacity="0.75" d="M215.7 394.3h1v1h-1zM212.2 388.6h1v1h-1zM214.0 394.8h1v1h-1zM214.4 392.5h1v1h-1zM212.7 387.7h1v1h-1zM213.7 389.7h1v1h-1zM214.3 391.7h1v1h-1zM213.9 388.2h1v1h-1zM215.6 390.4h1v1h-1zM214.4 385.8h1v1h-1zM212.8 394.4h1v1h-1zM212.0 391.9h1v1h-1zM211.4 391.8h1v1h-1zM214.0 392.9h1v1h-1zM215.2 389.1h1v1h-1zM211.8 393.2h1v1h-1zM213.5 387.4h1v1h-1zM213.9 389.0h1v1h-1zM213.7 390.2h1v1h-1zM213.2 392.3h1v1h-1zM216.6 390.5h1v1h-1zM213.9 389.1h1v1h-1zM216.1 386.7h1v1h-1zM213.0 390.2h1v1h-1zM213.9 387.9h1v1h-1zM211.3 389.4h1v1h-1zM211.6 393.1h1v1h-1zM212.1 391.2h1v1h-1zM212.4 392.0h1v1h-1zM215.2 392.8h1v1h-1zM213.3 393.4h1v1h-1zM213.8 391.2h1v1h-1zM214.0 389.5h1v1h-1zM213.5 387.9h1v1h-1zM213.5 392.4h1v1h-1zM213.3 391.5h1v1h-1zM211.1 388.5h1v1h-1zM212.8 392.7h1v1h-1zM212.8 392.4h1v1h-1zM213.9 390.6h1v1h-1z"/>
<path fill="#9ab0d0" fill-opacity="0.5" d="M198.3 416.5h1v1h-1zM203.5 423.5h1v1h-1zM194.7 407.4h1v1h-1zM201.1 421.6h1v1h-1zM193.2 419.2h1v1h-1zM191.3 423.2h1v1h-1zM194.5 405.7h1v1h-1zM197.7 409.8h1v1h-1zM188.4 400.6h1v1h-1zM201.1 411.1h1v1h-1zM199.9 403.1h1v1h-1zM194.0 405.2h1v1h-1zM188.5 418.1h1v1h-1zM201.0 410.2h1v1h-1zM184.5 425.5h1v1h-1zM191.6 417.4h1v1h-1z"/>
<rect x="295" y="320" width="90.5" height="111.5" fill="none" stroke="#9a9a9a" stroke-width="1.1" />
<line x1="292" y1="431.2" x2="295" y2="431.2" stroke="#555" stroke-width="0.9" />
<text x="289.2" y="434.6" font-size="9.8" text-anchor="end" textLength="8.8" lengthAdjust="spacingAndGlyphs" fill="#222" stroke="#222">10</text>
<text x="289.5" y="429.8" font-size="6.4" textLength="2.8" lengthAdjust="spacingAndGlyphs" fill="#222" stroke="#222">0</text>
<line x1="292" y1="403.3" x2="295" y2="403.3" stroke="#555" stroke-width="0.9" />
<text x="289.2" y="406.7" font-size="9.8" text-anchor="end" textLength="8.8" lengthAdjust="spacingAndGlyphs" fill="#222" stroke="#222">10</text>
<text x="289.5" y="401.9" font-size="6.4" textLength="2.8" lengthAdjust="spacingAndGlyphs" fill="#222" stroke="#222">1</text>
<line x1="292" y1="375.6" x2="295" y2="375.6" stroke="#555" stroke-width="0.9" />
<text x="289.2" y="379" font-size="9.8" text-anchor="end" textLength="8.8" lengthAdjust="spacingAndGlyphs" fill="#222" stroke="#222">10</text>
<text x="289.5" y="374.2" font-size="6.4" textLength="2.8" lengthAdjust="spacingAndGlyphs" fill="#222" stroke="#222">2</text>
<line x1="292" y1="347.6" x2="295" y2="347.6" stroke="#555" stroke-width="0.9" />
<text x="289.2" y="351" font-size="9.8" text-anchor="end" textLength="8.8" lengthAdjust="spacingAndGlyphs" fill="#222" stroke="#222">10</text>
<text x="289.5" y="346.2" font-size="6.4" textLength="2.8" lengthAdjust="spacingAndGlyphs" fill="#222" stroke="#222">3</text>
<line x1="293.5" y1="422.8" x2="295" y2="422.8" stroke="#888" stroke-width="0.6" />
<line x1="293.5" y1="417.89" x2="295" y2="417.89" stroke="#888" stroke-width="0.6" />
<line x1="293.5" y1="414.4" x2="295" y2="414.4" stroke="#888" stroke-width="0.6" />
<line x1="293.5" y1="411.7" x2="295" y2="411.7" stroke="#888" stroke-width="0.6" />
<line x1="293.5" y1="409.49" x2="295" y2="409.49" stroke="#888" stroke-width="0.6" />
<line x1="293.5" y1="407.62" x2="295" y2="407.62" stroke="#888" stroke-width="0.6" />
<line x1="293.5" y1="406" x2="295" y2="406" stroke="#888" stroke-width="0.6" />
<line x1="293.5" y1="404.58" x2="295" y2="404.58" stroke="#888" stroke-width="0.6" />
<line x1="293.5" y1="394.9" x2="295" y2="394.9" stroke="#888" stroke-width="0.6" />
<line x1="293.5" y1="389.99" x2="295" y2="389.99" stroke="#888" stroke-width="0.6" />
<line x1="293.5" y1="386.5" x2="295" y2="386.5" stroke="#888" stroke-width="0.6" />
<line x1="293.5" y1="383.8" x2="295" y2="383.8" stroke="#888" stroke-width="0.6" />
<line x1="293.5" y1="381.59" x2="295" y2="381.59" stroke="#888" stroke-width="0.6" />
<line x1="293.5" y1="379.72" x2="295" y2="379.72" stroke="#888" stroke-width="0.6" />
<line x1="293.5" y1="378.1" x2="295" y2="378.1" stroke="#888" stroke-width="0.6" />
<line x1="293.5" y1="376.68" x2="295" y2="376.68" stroke="#888" stroke-width="0.6" />
<line x1="293.5" y1="367" x2="295" y2="367" stroke="#888" stroke-width="0.6" />
<line x1="293.5" y1="362.09" x2="295" y2="362.09" stroke="#888" stroke-width="0.6" />
<line x1="293.5" y1="358.6" x2="295" y2="358.6" stroke="#888" stroke-width="0.6" />
<line x1="293.5" y1="355.9" x2="295" y2="355.9" stroke="#888" stroke-width="0.6" />
<line x1="293.5" y1="353.69" x2="295" y2="353.69" stroke="#888" stroke-width="0.6" />
<line x1="293.5" y1="351.82" x2="295" y2="351.82" stroke="#888" stroke-width="0.6" />
<line x1="293.5" y1="350.2" x2="295" y2="350.2" stroke="#888" stroke-width="0.6" />
<line x1="293.5" y1="348.78" x2="295" y2="348.78" stroke="#888" stroke-width="0.6" />
<line x1="293.5" y1="339.1" x2="295" y2="339.1" stroke="#888" stroke-width="0.6" />
<line x1="293.5" y1="334.19" x2="295" y2="334.19" stroke="#888" stroke-width="0.6" />
<line x1="293.5" y1="330.7" x2="295" y2="330.7" stroke="#888" stroke-width="0.6" />
<line x1="293.5" y1="328" x2="295" y2="328" stroke="#888" stroke-width="0.6" />
<line x1="293.5" y1="325.79" x2="295" y2="325.79" stroke="#888" stroke-width="0.6" />
<line x1="293.5" y1="323.92" x2="295" y2="323.92" stroke="#888" stroke-width="0.6" />
<line x1="293.5" y1="322.3" x2="295" y2="322.3" stroke="#888" stroke-width="0.6" />
<line x1="293.5" y1="320.88" x2="295" y2="320.88" stroke="#888" stroke-width="0.6" />
<line x1="295" y1="431.5" x2="295" y2="434.5" stroke="#777" stroke-width="0.7" />
<line x1="298.62" y1="431.5" x2="298.62" y2="433" stroke="#777" stroke-width="0.7" />
<line x1="302.24" y1="431.5" x2="302.24" y2="433" stroke="#777" stroke-width="0.7" />
<line x1="305.86" y1="431.5" x2="305.86" y2="433" stroke="#777" stroke-width="0.7" />
<line x1="309.48" y1="431.5" x2="309.48" y2="433" stroke="#777" stroke-width="0.7" />
<line x1="313.1" y1="431.5" x2="313.1" y2="434.5" stroke="#777" stroke-width="0.7" />
<line x1="316.72" y1="431.5" x2="316.72" y2="433" stroke="#777" stroke-width="0.7" />
<line x1="320.34" y1="431.5" x2="320.34" y2="433" stroke="#777" stroke-width="0.7" />
<line x1="323.96" y1="431.5" x2="323.96" y2="433" stroke="#777" stroke-width="0.7" />
<line x1="327.58" y1="431.5" x2="327.58" y2="433" stroke="#777" stroke-width="0.7" />
<line x1="331.2" y1="431.5" x2="331.2" y2="434.5" stroke="#777" stroke-width="0.7" />
<line x1="334.82" y1="431.5" x2="334.82" y2="433" stroke="#777" stroke-width="0.7" />
<line x1="338.44" y1="431.5" x2="338.44" y2="433" stroke="#777" stroke-width="0.7" />
<line x1="342.06" y1="431.5" x2="342.06" y2="433" stroke="#777" stroke-width="0.7" />
<line x1="345.68" y1="431.5" x2="345.68" y2="433" stroke="#777" stroke-width="0.7" />
<line x1="349.3" y1="431.5" x2="349.3" y2="434.5" stroke="#777" stroke-width="0.7" />
<line x1="352.92" y1="431.5" x2="352.92" y2="433" stroke="#777" stroke-width="0.7" />
<line x1="356.54" y1="431.5" x2="356.54" y2="433" stroke="#777" stroke-width="0.7" />
<line x1="360.16" y1="431.5" x2="360.16" y2="433" stroke="#777" stroke-width="0.7" />
<line x1="363.78" y1="431.5" x2="363.78" y2="433" stroke="#777" stroke-width="0.7" />
<line x1="367.4" y1="431.5" x2="367.4" y2="434.5" stroke="#777" stroke-width="0.7" />
<line x1="371.02" y1="431.5" x2="371.02" y2="433" stroke="#777" stroke-width="0.7" />
<line x1="374.64" y1="431.5" x2="374.64" y2="433" stroke="#777" stroke-width="0.7" />
<line x1="378.26" y1="431.5" x2="378.26" y2="433" stroke="#777" stroke-width="0.7" />
<line x1="381.88" y1="431.5" x2="381.88" y2="433" stroke="#777" stroke-width="0.7" />
<line x1="385.5" y1="431.5" x2="385.5" y2="434.5" stroke="#777" stroke-width="0.7" />
<path fill="#8aa2c8" fill-opacity="0.5" d="M372.3 380.6h1v1h-1zM342.6 358.4h1v1h-1zM374.8 363.9h1v1h-1zM382.6 350.2h1v1h-1zM383.0 346.4h1v1h-1zM354.4 348.2h1v1h-1zM363.0 352.8h1v1h-1zM372.2 364.3h1v1h-1zM364.8 334.7h1v1h-1zM369.2 354.2h1v1h-1zM331.4 351.8h1v1h-1zM345.9 367.6h1v1h-1zM332.7 380.8h1v1h-1zM376.6 375.5h1v1h-1zM350.0 387.5h1v1h-1zM366.9 355.9h1v1h-1zM343.6 344.8h1v1h-1zM348.6 383.7h1v1h-1zM330.0 377.8h1v1h-1zM349.2 383.3h1v1h-1zM381.7 344.6h1v1h-1zM341.5 358.8h1v1h-1zM347.1 350.8h1v1h-1zM380.0 357.8h1v1h-1zM331.3 373.0h1v1h-1zM333.1 372.9h1v1h-1zM364.1 368.0h1v1h-1zM377.6 351.7h1v1h-1zM330.0 345.3h1v1h-1zM370.6 358.7h1v1h-1zM374.2 374.2h1v1h-1zM333.7 343.1h1v1h-1zM365.6 334.3h1v1h-1zM357.5 338.8h1v1h-1zM355.9 340.1h1v1h-1zM382.1 358.5h1v1h-1zM329.5 352.6h1v1h-1zM343.1 383.6h1v1h-1zM368.7 344.4h1v1h-1zM347.4 353.9h1v1h-1zM344.7 334.2h1v1h-1zM367.7 336.3h1v1h-1zM380.0 379.1h1v1h-1zM342.9 371.6h1v1h-1zM354.7 338.1h1v1h-1zM343.4 376.5h1v1h-1zM350.4 354.8h1v1h-1zM362.7 341.0h1v1h-1zM333.2 339.5h1v1h-1zM367.2 340.8h1v1h-1zM359.7 380.0h1v1h-1zM337.1 373.0h1v1h-1zM334.9 336.8h1v1h-1zM343.0 367.2h1v1h-1zM337.8 356.8h1v1h-1zM366.9 367.0h1v1h-1zM342.6 369.3h1v1h-1zM360.8 359.1h1v1h-1zM360.1 333.3h1v1h-1zM333.5 354.1h1v1h-1zM375.7 349.3h1v1h-1zM351.8 363.2h1v1h-1zM337.5 359.4h1v1h-1zM340.0 381.9h1v1h-1zM356.5 341.1h1v1h-1zM368.7 336.9h1v1h-1zM383.7 359.4h1v1h-1zM377.6 339.9h1v1h-1zM356.9 372.7h1v1h-1zM335.4 344.9h1v1h-1zM379.7 346.4h1v1h-1zM349.6 366.7h1v1h-1zM342.0 376.4h1v1h-1zM377.5 370.5h1v1h-1zM337.0 362.3h1v1h-1zM342.5 357.1h1v1h-1zM360.5 367.3h1v1h-1zM354.4 341.2h1v1h-1zM336.6 376.7h1v1h-1zM371.3 373.5h1v1h-1zM340.6 341.5h1v1h-1zM339.2 383.8h1v1h-1zM353.5 387.7h1v1h-1zM348.2 344.9h1v1h-1zM382.7 343.7h1v1h-1zM337.4 335.6h1v1h-1zM376.0 359.9h1v1h-1zM366.3 377.0h1v1h-1zM335.5 369.2h1v1h-1zM334.4 340.3h1v1h-1zM340.2 351.7h1v1h-1zM334.0 359.3h1v1h-1zM344.3 353.8h1v1h-1zM365.3 361.2h1v1h-1zM359.6 365.4h1v1h-1zM367.8 367.2h1v1h-1zM382.5 380.2h1v1h-1zM344.8 385.3h1v1h-1zM342.3 377.3h1v1h-1zM376.0 381.1h1v1h-1zM341.8 352.0h1v1h-1zM367.4 350.5h1v1h-1zM337.9 381.5h1v1h-1zM340.7 383.9h1v1h-1zM333.2 353.9h1v1h-1zM370.7 346.3h1v1h-1zM339.4 347.0h1v1h-1zM336.3 370.3h1v1h-1zM341.9 370.5h1v1h-1zM344.9 375.1h1v1h-1zM331.4 358.7h1v1h-1zM343.5 370.0h1v1h-1zM366.3 380.3h1v1h-1zM371.3 343.5h1v1h-1zM341.9 334.3h1v1h-1zM363.2 379.0h1v1h-1zM379.7 348.3h1v1h-1zM350.1 374.7h1v1h-1zM330.2 357.1h1v1h-1zM375.1 335.1h1v1h-1zM374.4 375.9h1v1h-1zM333.9 352.6h1v1h-1zM338.9 364.3h1v1h-1zM360.5 365.5h1v1h-1zM348.7 361.9h1v1h-1zM337.5 351.0h1v1h-1zM334.9 367.0h1v1h-1zM368.6 364.0h1v1h-1zM381.8 380.5h1v1h-1zM370.6 380.7h1v1h-1zM350.0 387.2h1v1h-1zM371.2 349.0h1v1h-1zM333.4 343.0h1v1h-1zM363.7 350.3h1v1h-1zM369.1 334.4h1v1h-1zM331.8 345.0h1v1h-1zM351.2 365.2h1v1h-1zM338.4 370.8h1v1h-1zM344.7 368.6h1v1h-1zM342.0 380.0h1v1h-1zM346.3 371.6h1v1h-1zM337.0 378.7h1v1h-1zM367.7 333.8h1v1h-1zM332.4 339.3h1v1h-1zM361.5 343.4h1v1h-1zM339.4 381.4h1v1h-1zM357.4 349.1h1v1h-1zM345.0 344.9h1v1h-1zM349.9 337.9h1v1h-1zM357.2 359.7h1v1h-1zM336.2 340.2h1v1h-1zM336.7 368.6h1v1h-1zM375.9 347.9h1v1h-1zM351.1 367.7h1v1h-1zM338.8 377.7h1v1h-1zM373.6 364.9h1v1h-1zM379.6 333.3h1v1h-1zM375.1 344.1h1v1h-1zM368.8 349.5h1v1h-1zM335.0 378.8h1v1h-1zM379.7 344.5h1v1h-1zM379.0 361.0h1v1h-1zM360.5 378.3h1v1h-1zM330.0 357.2h1v1h-1zM336.8 364.2h1v1h-1zM367.6 349.2h1v1h-1zM347.9 380.2h1v1h-1zM339.4 371.8h1v1h-1zM337.2 372.3h1v1h-1zM366.3 346.3h1v1h-1zM346.2 345.1h1v1h-1zM363.3 352.0h1v1h-1zM381.0 364.6h1v1h-1zM340.7 340.0h1v1h-1zM336.1 374.6h1v1h-1zM351.1 356.8h1v1h-1zM367.7 374.3h1v1h-1zM381.5 370.1h1v1h-1zM338.5 387.9h1v1h-1zM354.7 353.7h1v1h-1zM344.8 338.5h1v1h-1zM340.8 381.0h1v1h-1zM346.5 340.3h1v1h-1zM373.3 357.4h1v1h-1zM334.6 358.5h1v1h-1zM377.3 346.3h1v1h-1zM367.0 383.2h1v1h-1zM345.8 369.2h1v1h-1zM338.6 369.3h1v1h-1zM380.0 362.8h1v1h-1zM333.4 347.0h1v1h-1zM355.6 345.0h1v1h-1zM349.3 371.6h1v1h-1zM338.3 336.4h1v1h-1zM382.7 361.1h1v1h-1zM341.5 382.0h1v1h-1zM368.6 376.9h1v1h-1zM377.8 334.0h1v1h-1zM366.3 344.7h1v1h-1zM337.4 351.8h1v1h-1zM373.1 335.2h1v1h-1zM341.4 364.4h1v1h-1zM382.1 336.4h1v1h-1zM334.1 333.8h1v1h-1zM364.8 336.1h1v1h-1zM363.2 360.8h1v1h-1zM355.9 358.5h1v1h-1zM338.6 349.8h1v1h-1zM343.4 368.9h1v1h-1zM369.7 335.6h1v1h-1zM382.2 339.7h1v1h-1zM370.1 352.7h1v1h-1zM342.4 345.5h1v1h-1zM371.5 345.0h1v1h-1zM345.9 384.4h1v1h-1zM345.0 358.4h1v1h-1zM371.7 363.3h1v1h-1zM367.2 343.9h1v1h-1zM344.5 345.6h1v1h-1zM338.5 366.3h1v1h-1zM335.2 376.6h1v1h-1zM356.4 362.2h1v1h-1zM375.3 333.2h1v1h-1zM347.3 359.6h1v1h-1zM362.3 354.9h1v1h-1zM339.5 374.5h1v1h-1zM347.2 377.8h1v1h-1zM367.7 358.4h1v1h-1zM357.1 355.6h1v1h-1zM377.4 368.6h1v1h-1zM345.9 351.0h1v1h-1zM331.1 366.4h1v1h-1zM364.9 376.8h1v1h-1zM377.3 377.7h1v1h-1zM376.3 347.6h1v1h-1zM330.3 361.0h1v1h-1zM337.8 352.7h1v1h-1zM339.5 375.1h1v1h-1zM345.0 370.3h1v1h-1zM347.0 383.1h1v1h-1zM334.0 380.5h1v1h-1zM349.6 345.5h1v1h-1zM379.2 365.2h1v1h-1zM336.2 338.6h1v1h-1zM372.5 378.8h1v1h-1zM332.6 350.4h1v1h-1zM333.0 378.3h1v1h-1zM353.1 377.9h1v1h-1zM382.7 353.6h1v1h-1zM341.4 369.4h1v1h-1zM331.9 362.7h1v1h-1zM378.3 358.5h1v1h-1zM360.6 373.5h1v1h-1zM374.7 373.6h1v1h-1zM356.0 384.1h1v1h-1zM343.3 355.4h1v1h-1zM375.9 369.5h1v1h-1zM348.3 383.5h1v1h-1zM369.7 364.7h1v1h-1zM382.0 346.3h1v1h-1zM379.8 333.3h1v1h-1zM357.5 371.9h1v1h-1zM342.7 381.4h1v1h-1zM373.0 366.1h1v1h-1zM332.0 374.5h1v1h-1zM360.6 350.3h1v1h-1zM330.4 333.9h1v1h-1zM358.1 344.9h1v1h-1zM356.7 362.3h1v1h-1zM341.2 359.8h1v1h-1zM363.5 348.9h1v1h-1zM329.6 386.0h1v1h-1zM342.4 385.2h1v1h-1zM358.5 338.8h1v1h-1zM340.5 343.5h1v1h-1zM342.9 373.0h1v1h-1zM353.5 341.1h1v1h-1zM332.6 380.8h1v1h-1zM341.0 387.6h1v1h-1zM333.6 353.2h1v1h-1zM373.4 344.6h1v1h-1zM357.1 360.7h1v1h-1zM343.9 384.8h1v1h-1zM373.3 371.8h1v1h-1zM338.0 342.8h1v1h-1z"/>
<path fill="#9ab0d0" fill-opacity="0.4" d="M329.0 362.0h1v1h-1zM317.5 365.8h1v1h-1zM317.0 353.7h1v1h-1zM323.9 377.7h1v1h-1zM324.5 384.3h1v1h-1zM316.1 385.5h1v1h-1zM316.6 383.0h1v1h-1zM318.2 352.8h1v1h-1zM321.4 374.6h1v1h-1zM322.3 351.7h1v1h-1zM326.2 390.0h1v1h-1zM328.3 371.9h1v1h-1zM319.2 386.5h1v1h-1zM322.2 363.7h1v1h-1zM322.0 381.0h1v1h-1zM315.3 391.3h1v1h-1zM319.2 365.2h1v1h-1zM315.9 364.1h1v1h-1zM323.0 376.7h1v1h-1zM320.6 350.5h1v1h-1zM327.3 378.3h1v1h-1zM326.6 367.7h1v1h-1zM323.2 394.8h1v1h-1zM327.5 351.8h1v1h-1zM320.1 351.4h1v1h-1zM315.1 379.6h1v1h-1zM320.2 356.7h1v1h-1zM324.9 380.9h1v1h-1zM319.9 371.9h1v1h-1zM328.6 365.5h1v1h-1zM320.9 371.3h1v1h-1zM326.6 353.3h1v1h-1zM317.8 361.0h1v1h-1zM318.6 373.3h1v1h-1zM317.2 383.7h1v1h-1zM325.3 361.2h1v1h-1zM326.2 371.4h1v1h-1zM326.8 386.3h1v1h-1zM330.0 393.5h1v1h-1zM322.4 378.8h1v1h-1zM325.2 376.5h1v1h-1zM321.5 372.9h1v1h-1zM318.7 369.0h1v1h-1zM324.9 382.0h1v1h-1zM319.1 357.0h1v1h-1zM325.2 390.3h1v1h-1zM328.8 387.7h1v1h-1zM325.2 368.7h1v1h-1zM317.0 388.0h1v1h-1zM319.1 353.7h1v1h-1zM328.6 386.3h1v1h-1zM325.9 381.0h1v1h-1zM329.3 359.6h1v1h-1zM325.2 383.5h1v1h-1zM322.1 365.4h1v1h-1zM318.2 366.5h1v1h-1zM322.5 356.3h1v1h-1zM316.9 388.6h1v1h-1zM328.9 383.2h1v1h-1zM316.8 356.6h1v1h-1zM319.8 379.7h1v1h-1zM319.1 370.7h1v1h-1zM320.0 370.7h1v1h-1zM317.9 360.6h1v1h-1zM318.7 378.5h1v1h-1zM316.6 375.9h1v1h-1zM328.5 378.3h1v1h-1zM317.2 355.7h1v1h-1zM317.6 365.3h1v1h-1zM324.3 375.1h1v1h-1zM321.0 376.7h1v1h-1zM326.4 390.9h1v1h-1zM323.1 388.3h1v1h-1zM316.6 366.2h1v1h-1zM318.0 353.0h1v1h-1zM318.4 375.0h1v1h-1zM318.1 367.2h1v1h-1zM322.5 384.2h1v1h-1zM319.4 369.3h1v1h-1zM324.1 374.3h1v1h-1zM326.1 367.1h1v1h-1zM318.8 389.5h1v1h-1zM323.4 384.5h1v1h-1zM328.5 390.7h1v1h-1zM315.9 363.5h1v1h-1zM315.5 383.9h1v1h-1zM321.3 353.4h1v1h-1zM319.1 361.9h1v1h-1zM318.6 373.2h1v1h-1zM318.8 393.6h1v1h-1zM324.6 389.3h1v1h-1zM315.9 385.4h1v1h-1zM322.9 384.5h1v1h-1zM329.2 352.6h1v1h-1zM321.6 371.1h1v1h-1zM316.9 361.3h1v1h-1zM329.2 391.8h1v1h-1zM323.0 383.1h1v1h-1zM318.9 373.8h1v1h-1zM318.1 376.2h1v1h-1z"/>
<path fill="#4a76b4" fill-opacity="0.6" d="M321.4 352.5h1v1h-1zM323.1 356.6h1v1h-1zM311.8 397.1h1v1h-1zM315.7 390.8h1v1h-1zM315.2 388.8h1v1h-1zM318.4 365.1h1v1h-1zM313.6 384.3h1v1h-1zM323.6 344.6h1v1h-1zM322.6 345.6h1v1h-1zM319.2 362.9h1v1h-1zM315.3 378.1h1v1h-1zM316.4 369.6h1v1h-1zM318.7 363.4h1v1h-1zM329.4 339.7h1v1h-1zM313.8 384.6h1v1h-1zM316.8 366.0h1v1h-1zM321.9 355.6h1v1h-1zM316.6 373.8h1v1h-1zM313.9 382.0h1v1h-1zM324.4 341.1h1v1h-1zM328.8 338.1h1v1h-1zM317.8 366.2h1v1h-1zM316.7 382.9h1v1h-1zM314.5 391.2h1v1h-1zM316.9 372.1h1v1h-1zM314.9 398.1h1v1h-1zM321.9 358.2h1v1h-1zM323.5 350.1h1v1h-1zM326.8 339.4h1v1h-1zM323.1 345.5h1v1h-1zM314.2 382.9h1v1h-1zM313.3 387.9h1v1h-1zM322.6 348.4h1v1h-1zM325.3 339.2h1v1h-1zM326.4 337.4h1v1h-1zM322.4 358.6h1v1h-1zM316.6 381.2h1v1h-1zM318.3 365.6h1v1h-1zM323.4 351.9h1v1h-1zM320.7 356.0h1v1h-1zM313.6 382.6h1v1h-1zM315.5 384.6h1v1h-1zM322.3 353.0h1v1h-1zM318.5 365.3h1v1h-1zM317.7 366.3h1v1h-1zM322.4 346.1h1v1h-1zM316.6 368.6h1v1h-1zM317.9 369.2h1v1h-1zM321.9 353.3h1v1h-1zM316.1 372.3h1v1h-1zM316.5 361.9h1v1h-1zM320.9 361.0h1v1h-1zM320.6 349.0h1v1h-1zM322.4 354.4h1v1h-1zM322.9 345.1h1v1h-1zM318.3 365.4h1v1h-1zM314.3 386.7h1v1h-1zM329.9 342.1h1v1h-1zM322.2 355.5h1v1h-1zM327.6 337.4h1v1h-1zM312.6 395.1h1v1h-1zM320.0 357.8h1v1h-1zM314.2 394.4h1v1h-1zM326.7 341.8h1v1h-1zM315.1 377.0h1v1h-1zM312.6 382.4h1v1h-1zM317.7 366.6h1v1h-1zM321.3 352.6h1v1h-1zM313.8 398.5h1v1h-1zM321.4 359.1h1v1h-1zM313.8 382.2h1v1h-1zM311.6 391.9h1v1h-1zM323.9 348.9h1v1h-1zM314.9 394.9h1v1h-1zM325.2 343.9h1v1h-1zM323.3 346.1h1v1h-1zM317.8 373.7h1v1h-1zM314.9 367.3h1v1h-1zM318.1 373.3h1v1h-1zM325.1 343.1h1v1h-1zM324.4 343.5h1v1h-1zM318.9 361.3h1v1h-1zM317.7 361.8h1v1h-1zM328.3 340.0h1v1h-1zM314.1 379.6h1v1h-1zM323.9 354.9h1v1h-1zM324.9 347.3h1v1h-1zM315.5 382.5h1v1h-1zM320.7 364.7h1v1h-1zM323.8 348.4h1v1h-1zM318.4 369.6h1v1h-1zM311.6 394.5h1v1h-1zM314.8 378.3h1v1h-1zM327.1 340.6h1v1h-1zM318.9 361.2h1v1h-1zM325.4 349.4h1v1h-1zM320.1 367.9h1v1h-1zM315.3 383.7h1v1h-1zM322.1 357.0h1v1h-1zM324.3 338.6h1v1h-1zM324.4 341.6h1v1h-1zM323.6 356.2h1v1h-1zM314.1 387.0h1v1h-1zM318.5 363.9h1v1h-1zM319.2 360.2h1v1h-1zM314.5 391.2h1v1h-1zM315.3 380.0h1v1h-1zM319.8 363.6h1v1h-1zM314.3 394.9h1v1h-1zM324.8 346.4h1v1h-1zM315.9 371.9h1v1h-1zM326.7 342.7h1v1h-1zM315.5 378.3h1v1h-1zM317.4 380.2h1v1h-1zM319.5 361.6h1v1h-1zM315.1 387.1h1v1h-1zM322.2 354.7h1v1h-1zM312.5 397.2h1v1h-1zM323.2 346.4h1v1h-1zM312.5 391.0h1v1h-1zM326.5 340.9h1v1h-1zM318.5 369.7h1v1h-1zM318.2 361.4h1v1h-1zM320.6 360.1h1v1h-1zM311.5 390.3h1v1h-1zM315.1 382.3h1v1h-1zM324.8 348.1h1v1h-1zM312.5 392.9h1v1h-1zM317.9 369.0h1v1h-1zM317.3 367.7h1v1h-1zM313.5 388.7h1v1h-1zM313.1 386.6h1v1h-1zM323.3 347.6h1v1h-1zM321.1 354.2h1v1h-1zM316.2 373.9h1v1h-1zM314.2 387.7h1v1h-1zM325.8 344.5h1v1h-1zM323.0 356.4h1v1h-1zM314.0 391.4h1v1h-1zM323.4 343.5h1v1h-1zM318.5 357.1h1v1h-1zM314.9 385.0h1v1h-1zM314.9 379.3h1v1h-1zM313.8 394.9h1v1h-1zM323.2 348.0h1v1h-1zM312.6 399.5h1v1h-1zM319.2 364.2h1v1h-1zM327.6 338.7h1v1h-1zM311.3 384.7h1v1h-1zM314.5 376.9h1v1h-1zM315.6 393.2h1v1h-1zM327.2 342.0h1v1h-1zM324.2 344.2h1v1h-1zM313.6 393.6h1v1h-1zM324.7 347.5h1v1h-1zM313.3 374.9h1v1h-1zM321.1 350.9h1v1h-1zM315.0 374.0h1v1h-1zM316.9 373.8h1v1h-1zM319.5 364.1h1v1h-1zM326.3 340.1h1v1h-1zM321.4 355.5h1v1h-1zM321.2 353.1h1v1h-1zM319.5 363.6h1v1h-1zM323.4 343.3h1v1h-1zM319.8 364.8h1v1h-1zM326.3 344.2h1v1h-1zM322.0 351.1h1v1h-1zM319.9 355.8h1v1h-1zM314.5 375.7h1v1h-1z"/>
<path fill="#3f70b0" fill-opacity="0.6" d="M334.3 343.4h1v1h-1zM327.7 347.1h1v1h-1zM327.7 353.7h1v1h-1zM323.2 353.5h1v1h-1zM323.9 330.9h1v1h-1zM331.8 347.6h1v1h-1zM329.6 351.3h1v1h-1zM323.8 348.0h1v1h-1zM324.5 352.7h1v1h-1zM320.4 353.0h1v1h-1zM326.3 348.1h1v1h-1zM328.3 352.9h1v1h-1zM324.5 347.9h1v1h-1zM327.5 340.7h1v1h-1zM331.3 340.7h1v1h-1zM325.9 341.2h1v1h-1zM329.3 353.9h1v1h-1zM330.7 335.2h1v1h-1zM328.5 349.2h1v1h-1zM323.6 339.5h1v1h-1zM330.5 342.5h1v1h-1zM332.9 342.8h1v1h-1zM327.7 355.9h1v1h-1zM329.4 340.7h1v1h-1zM323.9 351.3h1v1h-1zM327.5 353.4h1v1h-1zM323.5 344.6h1v1h-1zM329.8 350.4h1v1h-1zM325.9 347.6h1v1h-1zM326.5 343.7h1v1h-1zM325.6 345.9h1v1h-1zM324.4 362.6h1v1h-1zM323.4 335.9h1v1h-1zM329.3 348.4h1v1h-1zM324.8 352.9h1v1h-1zM331.8 343.5h1v1h-1zM329.2 348.0h1v1h-1zM326.6 355.1h1v1h-1zM324.4 356.5h1v1h-1zM322.1 345.1h1v1h-1zM325.1 349.7h1v1h-1zM325.6 344.8h1v1h-1zM325.1 344.5h1v1h-1zM324.5 344.9h1v1h-1zM323.9 346.2h1v1h-1zM332.3 349.6h1v1h-1zM324.5 346.3h1v1h-1zM325.8 350.0h1v1h-1zM324.9 358.7h1v1h-1zM325.1 344.6h1v1h-1zM323.7 338.6h1v1h-1zM328.1 341.4h1v1h-1zM326.4 348.8h1v1h-1zM325.8 352.5h1v1h-1zM326.4 357.9h1v1h-1zM321.2 333.3h1v1h-1zM321.6 347.9h1v1h-1zM324.2 340.5h1v1h-1zM321.4 352.3h1v1h-1zM329.0 344.0h1v1h-1zM320.7 342.5h1v1h-1zM319.7 348.5h1v1h-1zM326.7 352.4h1v1h-1zM325.2 346.2h1v1h-1zM324.1 340.1h1v1h-1zM333.5 338.5h1v1h-1zM324.1 338.7h1v1h-1zM332.9 346.9h1v1h-1zM324.4 346.1h1v1h-1zM326.1 344.6h1v1h-1z"/>
<path fill="#4a76b4" fill-opacity="0.65" d="M329.0 359.3h1v1h-1zM330.0 355.8h1v1h-1zM327.8 356.1h1v1h-1zM327.1 341.6h1v1h-1zM326.1 347.8h1v1h-1zM326.5 355.0h1v1h-1zM327.6 355.8h1v1h-1zM326.5 344.3h1v1h-1zM329.2 351.2h1v1h-1zM328.2 362.9h1v1h-1zM328.9 359.6h1v1h-1zM325.6 374.2h1v1h-1zM327.9 347.8h1v1h-1zM329.1 380.7h1v1h-1zM331.2 375.9h1v1h-1zM330.5 375.2h1v1h-1zM330.0 374.0h1v1h-1zM330.3 389.9h1v1h-1zM329.5 382.3h1v1h-1zM328.8 345.2h1v1h-1zM329.4 396.8h1v1h-1zM328.3 381.1h1v1h-1zM330.2 356.5h1v1h-1zM329.5 368.6h1v1h-1zM330.8 375.2h1v1h-1zM328.6 358.9h1v1h-1zM327.9 348.2h1v1h-1zM326.0 345.1h1v1h-1zM330.3 369.1h1v1h-1zM331.5 376.0h1v1h-1zM329.3 356.4h1v1h-1zM327.5 343.3h1v1h-1zM328.2 350.6h1v1h-1zM327.7 349.3h1v1h-1zM327.2 382.0h1v1h-1zM330.9 362.5h1v1h-1zM328.1 368.4h1v1h-1zM326.3 356.0h1v1h-1zM329.5 369.9h1v1h-1zM327.3 385.1h1v1h-1zM328.5 354.8h1v1h-1zM327.9 348.5h1v1h-1zM327.7 388.0h1v1h-1zM330.0 386.2h1v1h-1zM327.9 350.2h1v1h-1zM327.5 369.8h1v1h-1zM329.2 364.4h1v1h-1zM328.9 373.5h1v1h-1zM329.2 373.6h1v1h-1zM328.8 391.0h1v1h-1zM328.8 367.6h1v1h-1zM328.6 364.2h1v1h-1zM328.1 354.8h1v1h-1zM327.1 388.1h1v1h-1zM330.2 380.9h1v1h-1zM328.1 347.2h1v1h-1zM330.2 382.2h1v1h-1zM330.4 365.5h1v1h-1zM326.6 377.4h1v1h-1zM326.3 355.1h1v1h-1z"/>
<path fill="#4a7ab6" fill-opacity="0.6" d="M356.3 391.0h1v1h-1zM316.1 398.0h1v1h-1zM367.7 383.8h1v1h-1zM355.2 390.3h1v1h-1zM324.7 393.9h1v1h-1zM347.2 390.7h1v1h-1zM316.6 397.5h1v1h-1zM348.6 390.7h1v1h-1zM368.9 383.8h1v1h-1zM371.1 382.9h1v1h-1zM338.7 392.2h1v1h-1zM321.1 393.0h1v1h-1zM323.4 399.6h1v1h-1zM364.6 385.3h1v1h-1zM321.2 400.6h1v1h-1zM346.4 389.5h1v1h-1zM325.7 395.4h1v1h-1zM356.4 389.8h1v1h-1zM350.3 391.1h1v1h-1zM340.3 393.3h1v1h-1zM327.3 400.2h1v1h-1zM358.8 387.1h1v1h-1zM340.3 393.5h1v1h-1zM321.6 396.9h1v1h-1zM382.1 379.4h1v1h-1zM381.5 382.6h1v1h-1zM353.9 388.2h1v1h-1zM314.1 401.0h1v1h-1zM352.9 388.8h1v1h-1zM345.5 392.0h1v1h-1zM314.9 399.1h1v1h-1zM325.0 397.2h1v1h-1zM333.8 394.0h1v1h-1zM365.2 385.5h1v1h-1zM314.9 400.9h1v1h-1zM327.6 394.7h1v1h-1zM361.2 387.2h1v1h-1zM318.1 396.5h1v1h-1zM326.3 395.3h1v1h-1zM365.5 382.6h1v1h-1zM363.8 384.7h1v1h-1zM345.4 389.2h1v1h-1zM357.0 387.7h1v1h-1zM345.1 393.1h1v1h-1zM339.8 394.7h1v1h-1zM378.0 383.1h1v1h-1zM352.9 389.5h1v1h-1zM349.8 394.0h1v1h-1zM333.8 394.0h1v1h-1zM320.1 396.6h1v1h-1zM336.7 394.1h1v1h-1zM336.4 392.2h1v1h-1zM375.3 384.0h1v1h-1zM376.7 381.1h1v1h-1zM355.6 385.0h1v1h-1zM322.4 399.6h1v1h-1zM318.8 394.5h1v1h-1zM356.2 385.5h1v1h-1zM336.7 395.4h1v1h-1zM334.3 393.7h1v1h-1zM354.3 392.1h1v1h-1zM358.3 387.7h1v1h-1zM356.8 387.1h1v1h-1zM328.1 394.2h1v1h-1zM325.7 394.5h1v1h-1zM332.7 397.8h1v1h-1zM362.3 386.7h1v1h-1zM314.1 399.3h1v1h-1zM380.2 381.8h1v1h-1zM354.5 386.6h1v1h-1zM341.4 391.3h1v1h-1zM317.5 400.8h1v1h-1zM353.1 391.3h1v1h-1zM333.7 395.0h1v1h-1zM339.6 394.3h1v1h-1zM365.4 388.1h1v1h-1zM368.6 383.6h1v1h-1zM315.8 396.8h1v1h-1zM338.6 391.1h1v1h-1zM326.6 394.5h1v1h-1zM340.4 397.1h1v1h-1zM325.1 396.3h1v1h-1zM336.7 390.9h1v1h-1zM327.6 394.6h1v1h-1zM353.7 392.0h1v1h-1zM338.8 391.0h1v1h-1zM340.9 392.4h1v1h-1zM337.5 392.8h1v1h-1zM317.9 397.1h1v1h-1zM313.0 401.1h1v1h-1zM340.8 393.7h1v1h-1zM313.0 400.9h1v1h-1zM320.3 397.9h1v1h-1zM314.3 396.0h1v1h-1zM343.2 390.2h1v1h-1zM319.0 398.2h1v1h-1zM326.7 394.5h1v1h-1zM323.8 395.4h1v1h-1zM377.0 381.8h1v1h-1zM323.2 394.5h1v1h-1zM365.0 386.4h1v1h-1zM346.7 393.6h1v1h-1zM331.2 397.9h1v1h-1zM333.7 394.7h1v1h-1zM349.3 390.8h1v1h-1zM343.2 390.4h1v1h-1zM336.1 388.4h1v1h-1zM326.0 397.0h1v1h-1zM334.7 395.1h1v1h-1zM359.3 389.9h1v1h-1zM337.0 392.5h1v1h-1zM337.5 393.4h1v1h-1zM353.6 389.4h1v1h-1zM315.9 398.5h1v1h-1zM318.7 396.5h1v1h-1zM316.0 400.1h1v1h-1zM353.3 386.3h1v1h-1zM332.0 393.4h1v1h-1zM333.2 393.2h1v1h-1zM368.5 383.0h1v1h-1zM327.5 391.8h1v1h-1zM349.2 387.8h1v1h-1zM372.8 381.2h1v1h-1zM344.5 392.2h1v1h-1zM330.0 396.8h1v1h-1zM361.5 387.2h1v1h-1zM342.3 391.7h1v1h-1zM325.6 392.3h1v1h-1zM320.8 393.6h1v1h-1zM336.8 392.9h1v1h-1zM351.4 388.1h1v1h-1zM372.5 379.5h1v1h-1zM325.3 396.9h1v1h-1zM377.8 379.5h1v1h-1zM330.2 391.0h1v1h-1zM319.9 392.2h1v1h-1zM335.7 399.7h1v1h-1zM345.4 388.8h1v1h-1zM330.7 396.2h1v1h-1zM345.5 387.7h1v1h-1zM326.8 401.6h1v1h-1zM350.0 390.6h1v1h-1zM363.1 387.5h1v1h-1zM332.5 395.5h1v1h-1zM314.8 399.1h1v1h-1zM343.7 390.1h1v1h-1zM365.2 379.3h1v1h-1zM318.9 398.7h1v1h-1zM353.1 392.1h1v1h-1zM333.9 392.8h1v1h-1zM320.2 393.8h1v1h-1zM346.1 389.0h1v1h-1zM319.6 397.6h1v1h-1zM357.2 387.1h1v1h-1zM350.6 387.2h1v1h-1zM366.1 384.9h1v1h-1zM352.8 390.1h1v1h-1zM314.5 394.5h1v1h-1zM319.8 397.2h1v1h-1zM330.2 392.4h1v1h-1zM342.3 390.7h1v1h-1zM352.8 389.8h1v1h-1zM312.8 402.1h1v1h-1zM364.9 382.4h1v1h-1zM322.4 397.7h1v1h-1zM330.8 393.2h1v1h-1zM364.9 385.8h1v1h-1zM366.1 387.8h1v1h-1zM335.5 388.9h1v1h-1zM317.6 392.3h1v1h-1zM328.7 396.3h1v1h-1zM333.7 392.4h1v1h-1zM351.2 388.5h1v1h-1zM319.4 398.9h1v1h-1zM344.3 390.3h1v1h-1zM327.5 393.7h1v1h-1zM317.1 404.2h1v1h-1zM351.1 387.7h1v1h-1zM373.6 382.0h1v1h-1zM323.8 396.4h1v1h-1zM321.5 396.5h1v1h-1zM380.1 380.1h1v1h-1zM330.0 397.6h1v1h-1zM372.5 384.7h1v1h-1zM356.2 388.4h1v1h-1zM336.6 390.6h1v1h-1zM361.7 386.0h1v1h-1zM365.1 384.5h1v1h-1zM349.8 386.3h1v1h-1zM357.8 386.5h1v1h-1zM318.6 400.6h1v1h-1zM356.5 388.0h1v1h-1zM344.2 388.1h1v1h-1zM342.2 388.6h1v1h-1zM345.9 392.2h1v1h-1zM375.4 381.0h1v1h-1zM336.5 393.2h1v1h-1zM358.2 386.4h1v1h-1zM318.2 400.5h1v1h-1zM351.9 390.8h1v1h-1zM321.7 397.8h1v1h-1zM377.1 382.9h1v1h-1zM373.7 382.6h1v1h-1zM344.1 391.2h1v1h-1zM338.8 393.4h1v1h-1zM330.3 395.0h1v1h-1zM368.3 386.3h1v1h-1zM377.5 383.1h1v1h-1zM343.3 391.3h1v1h-1zM337.0 393.4h1v1h-1zM347.3 392.3h1v1h-1zM317.1 402.8h1v1h-1zM320.0 397.3h1v1h-1zM334.9 395.1h1v1h-1zM347.6 389.5h1v1h-1zM337.6 391.8h1v1h-1zM330.0 395.2h1v1h-1zM339.2 391.3h1v1h-1zM332.9 392.3h1v1h-1zM371.3 383.8h1v1h-1zM349.9 390.2h1v1h-1zM316.6 399.7h1v1h-1zM368.5 385.1h1v1h-1zM337.7 390.8h1v1h-1zM337.7 387.2h1v1h-1zM334.3 395.0h1v1h-1zM362.9 388.6h1v1h-1zM339.3 392.0h1v1h-1zM328.5 395.2h1v1h-1zM353.4 390.9h1v1h-1zM342.5 390.0h1v1h-1zM324.2 396.5h1v1h-1zM324.5 398.8h1v1h-1zM320.8 402.0h1v1h-1zM319.2 397.0h1v1h-1zM363.2 383.7h1v1h-1zM372.3 384.8h1v1h-1zM325.9 400.1h1v1h-1zM352.3 390.3h1v1h-1zM363.0 385.5h1v1h-1zM322.2 398.9h1v1h-1zM331.6 392.0h1v1h-1zM369.8 383.6h1v1h-1zM333.8 397.8h1v1h-1zM348.6 389.5h1v1h-1zM354.6 389.9h1v1h-1zM335.0 396.9h1v1h-1zM315.1 392.5h1v1h-1zM381.5 380.6h1v1h-1zM314.0 395.3h1v1h-1zM339.6 392.5h1v1h-1zM358.6 386.5h1v1h-1zM317.1 403.8h1v1h-1zM378.1 382.0h1v1h-1zM378.0 383.1h1v1h-1zM331.8 392.5h1v1h-1zM339.1 388.2h1v1h-1zM327.3 393.9h1v1h-1zM332.3 396.7h1v1h-1zM321.9 394.7h1v1h-1zM357.3 387.1h1v1h-1zM354.4 391.6h1v1h-1zM326.4 397.0h1v1h-1zM327.0 396.2h1v1h-1zM345.2 388.2h1v1h-1zM316.2 398.1h1v1h-1zM347.3 386.8h1v1h-1zM320.3 399.6h1v1h-1zM342.2 392.9h1v1h-1zM375.0 382.2h1v1h-1zM324.4 400.6h1v1h-1zM313.2 398.6h1v1h-1zM333.8 392.8h1v1h-1zM344.4 390.6h1v1h-1zM329.2 396.5h1v1h-1zM346.6 391.9h1v1h-1zM341.0 392.4h1v1h-1zM345.8 388.1h1v1h-1zM334.2 392.5h1v1h-1zM334.7 391.3h1v1h-1zM347.6 386.9h1v1h-1zM325.9 396.1h1v1h-1zM323.8 398.0h1v1h-1zM314.5 401.7h1v1h-1zM358.8 386.8h1v1h-1zM365.2 387.6h1v1h-1zM346.7 387.4h1v1h-1zM337.0 394.2h1v1h-1zM359.2 387.7h1v1h-1zM318.4 400.4h1v1h-1zM327.2 394.6h1v1h-1zM329.3 391.3h1v1h-1zM323.2 398.8h1v1h-1zM330.6 396.1h1v1h-1zM376.7 378.4h1v1h-1zM362.3 388.7h1v1h-1zM343.3 393.9h1v1h-1zM313.7 400.8h1v1h-1zM350.5 390.9h1v1h-1z"/>
<path fill="#2f78a8" fill-opacity="0.7" d="M333.6 394.1h1v1h-1zM325.0 393.7h1v1h-1zM329.8 395.5h1v1h-1zM324.5 393.2h1v1h-1zM334.0 391.2h1v1h-1zM321.5 394.4h1v1h-1zM327.5 393.8h1v1h-1zM325.3 393.7h1v1h-1zM325.3 393.1h1v1h-1zM313.6 399.8h1v1h-1zM333.4 394.7h1v1h-1zM331.3 390.4h1v1h-1zM319.0 396.0h1v1h-1zM330.5 394.7h1v1h-1zM331.9 395.2h1v1h-1zM314.5 403.4h1v1h-1zM321.9 399.9h1v1h-1zM326.1 395.1h1v1h-1zM332.8 392.8h1v1h-1zM331.5 395.2h1v1h-1zM313.1 400.1h1v1h-1zM315.6 395.4h1v1h-1zM315.5 399.2h1v1h-1zM329.4 397.3h1v1h-1zM317.3 397.7h1v1h-1zM317.1 395.8h1v1h-1zM316.7 394.7h1v1h-1zM321.3 395.7h1v1h-1zM329.4 396.9h1v1h-1zM324.5 394.2h1v1h-1zM319.7 395.4h1v1h-1zM326.1 395.7h1v1h-1zM324.5 397.3h1v1h-1zM314.8 396.4h1v1h-1zM327.5 392.5h1v1h-1zM329.3 392.2h1v1h-1zM326.8 392.7h1v1h-1zM323.3 395.3h1v1h-1zM326.8 392.6h1v1h-1zM328.6 396.0h1v1h-1zM328.4 392.1h1v1h-1zM331.7 392.7h1v1h-1zM316.9 396.2h1v1h-1zM325.3 394.8h1v1h-1zM315.8 400.4h1v1h-1zM332.6 389.8h1v1h-1zM314.5 401.2h1v1h-1zM328.4 392.1h1v1h-1zM324.6 397.8h1v1h-1zM314.1 394.4h1v1h-1zM330.7 395.2h1v1h-1zM324.3 390.2h1v1h-1zM321.2 394.7h1v1h-1zM328.2 394.3h1v1h-1zM319.7 394.8h1v1h-1zM322.3 394.2h1v1h-1zM315.2 400.1h1v1h-1zM329.8 394.2h1v1h-1zM321.2 394.8h1v1h-1zM322.2 395.0h1v1h-1zM324.1 395.0h1v1h-1zM325.7 393.9h1v1h-1zM317.8 397.2h1v1h-1zM326.0 391.5h1v1h-1zM319.3 394.2h1v1h-1zM316.8 399.0h1v1h-1zM330.6 391.9h1v1h-1zM328.3 393.3h1v1h-1zM318.1 394.4h1v1h-1zM314.1 394.7h1v1h-1zM325.2 397.7h1v1h-1zM323.1 395.6h1v1h-1zM320.5 396.7h1v1h-1zM313.1 401.4h1v1h-1zM321.6 394.7h1v1h-1zM327.2 393.2h1v1h-1zM314.6 396.2h1v1h-1zM313.4 400.0h1v1h-1zM319.6 397.5h1v1h-1zM330.3 391.3h1v1h-1zM318.7 395.9h1v1h-1zM331.9 394.7h1v1h-1zM327.4 389.3h1v1h-1zM313.7 396.9h1v1h-1zM332.7 396.0h1v1h-1zM321.9 397.6h1v1h-1zM326.7 395.3h1v1h-1zM313.7 396.5h1v1h-1zM330.4 394.3h1v1h-1zM322.6 395.8h1v1h-1zM319.9 393.7h1v1h-1zM328.7 395.0h1v1h-1zM313.1 399.1h1v1h-1zM313.4 398.8h1v1h-1zM331.0 393.1h1v1h-1zM330.6 396.5h1v1h-1zM323.6 396.2h1v1h-1zM320.7 395.6h1v1h-1zM322.9 394.7h1v1h-1zM328.1 396.9h1v1h-1zM330.8 391.4h1v1h-1zM317.3 400.8h1v1h-1zM325.4 394.6h1v1h-1zM331.3 394.9h1v1h-1zM319.4 397.6h1v1h-1zM316.5 395.7h1v1h-1zM326.4 392.5h1v1h-1zM322.2 396.0h1v1h-1zM315.4 399.0h1v1h-1zM320.2 399.8h1v1h-1zM328.6 395.0h1v1h-1zM322.5 395.5h1v1h-1zM315.8 401.5h1v1h-1zM317.4 397.7h1v1h-1zM332.8 393.7h1v1h-1zM327.1 396.4h1v1h-1zM317.0 399.7h1v1h-1zM316.7 399.0h1v1h-1zM319.4 396.6h1v1h-1zM317.3 398.2h1v1h-1zM321.5 396.2h1v1h-1zM326.6 394.3h1v1h-1zM330.7 394.0h1v1h-1zM319.7 395.9h1v1h-1zM323.2 393.5h1v1h-1zM317.3 400.7h1v1h-1zM328.7 395.3h1v1h-1zM326.5 395.0h1v1h-1zM321.0 398.1h1v1h-1zM325.0 395.4h1v1h-1z"/>
<path fill="#2a9a90" fill-opacity="0.7" d="M319.4 395.7h1v1h-1zM315.4 395.6h1v1h-1zM329.2 394.9h1v1h-1zM317.6 398.0h1v1h-1zM323.0 395.2h1v1h-1zM325.3 394.0h1v1h-1zM319.3 394.9h1v1h-1zM314.5 398.4h1v1h-1zM321.5 396.6h1v1h-1zM315.6 393.9h1v1h-1zM316.4 395.3h1v1h-1zM320.6 396.1h1v1h-1zM322.3 397.4h1v1h-1zM314.4 396.0h1v1h-1zM324.7 396.2h1v1h-1zM321.2 397.8h1v1h-1zM319.1 399.1h1v1h-1zM313.0 398.0h1v1h-1zM323.7 396.9h1v1h-1zM316.6 395.5h1v1h-1zM316.3 397.6h1v1h-1zM322.9 394.3h1v1h-1zM316.0 396.9h1v1h-1zM315.6 397.8h1v1h-1zM324.6 394.1h1v1h-1zM317.6 398.0h1v1h-1zM329.5 393.8h1v1h-1zM318.8 397.2h1v1h-1zM319.3 396.3h1v1h-1zM327.7 394.5h1v1h-1zM318.3 398.4h1v1h-1zM324.9 394.9h1v1h-1zM324.4 394.1h1v1h-1zM313.6 399.4h1v1h-1zM329.2 392.6h1v1h-1zM325.9 394.9h1v1h-1zM317.7 397.7h1v1h-1zM317.8 397.4h1v1h-1zM315.9 397.8h1v1h-1zM322.1 395.3h1v1h-1z"/>
<path fill="#3a8f8a" fill-opacity="0.7" d="M313.3 396.0h1v1h-1zM312.7 405.2h1v1h-1zM312.7 403.9h1v1h-1zM314.2 395.1h1v1h-1zM311.9 397.4h1v1h-1zM314.5 400.8h1v1h-1zM313.1 400.1h1v1h-1zM314.9 404.1h1v1h-1zM311.1 401.1h1v1h-1zM311.4 408.4h1v1h-1zM312.9 399.5h1v1h-1zM313.6 398.6h1v1h-1zM312.3 399.9h1v1h-1zM312.4 400.2h1v1h-1zM312.2 398.9h1v1h-1zM314.3 395.9h1v1h-1zM312.0 394.4h1v1h-1zM310.2 402.0h1v1h-1zM312.4 400.8h1v1h-1zM312.8 395.4h1v1h-1zM313.6 400.6h1v1h-1zM313.1 409.0h1v1h-1zM312.9 406.1h1v1h-1zM312.4 398.3h1v1h-1zM313.3 401.8h1v1h-1zM312.6 400.1h1v1h-1zM311.7 400.3h1v1h-1zM312.7 396.3h1v1h-1zM312.8 398.6h1v1h-1zM315.2 406.2h1v1h-1zM314.0 404.3h1v1h-1zM313.5 395.4h1v1h-1zM312.6 404.3h1v1h-1zM313.9 400.1h1v1h-1zM313.6 400.8h1v1h-1zM312.1 399.9h1v1h-1zM312.7 393.1h1v1h-1zM314.0 401.0h1v1h-1zM311.6 402.3h1v1h-1zM311.4 401.9h1v1h-1zM311.1 393.6h1v1h-1zM314.5 403.8h1v1h-1zM312.2 396.8h1v1h-1zM312.8 400.1h1v1h-1zM312.7 396.9h1v1h-1zM314.2 397.7h1v1h-1zM312.7 397.0h1v1h-1zM313.4 401.9h1v1h-1zM314.9 401.5h1v1h-1zM313.3 395.9h1v1h-1zM315.3 397.0h1v1h-1zM314.0 402.1h1v1h-1zM312.2 395.1h1v1h-1zM312.4 397.5h1v1h-1zM313.3 400.1h1v1h-1zM311.4 401.1h1v1h-1zM311.5 397.7h1v1h-1zM313.9 400.5h1v1h-1zM312.7 399.9h1v1h-1zM312.9 404.4h1v1h-1zM313.9 403.7h1v1h-1zM313.3 400.7h1v1h-1zM313.7 398.1h1v1h-1zM315.3 399.2h1v1h-1zM312.3 398.6h1v1h-1zM315.4 398.4h1v1h-1zM313.4 404.7h1v1h-1zM313.1 401.1h1v1h-1zM312.8 401.8h1v1h-1zM313.9 404.9h1v1h-1z"/>
<path fill="#8cc850" fill-opacity="0.85" d="M312.6 399.2h1v1h-1zM313.1 401.0h1v1h-1zM312.3 401.3h1v1h-1zM313.8 400.8h1v1h-1zM312.3 400.8h1v1h-1zM313.3 399.4h1v1h-1zM312.5 398.2h1v1h-1zM312.5 398.4h1v1h-1zM313.2 397.1h1v1h-1zM313.8 397.1h1v1h-1zM314.0 403.2h1v1h-1zM313.0 402.4h1v1h-1zM313.6 399.0h1v1h-1zM311.7 400.7h1v1h-1zM313.6 398.2h1v1h-1zM313.0 401.7h1v1h-1zM312.9 399.5h1v1h-1zM313.3 396.1h1v1h-1zM312.0 398.2h1v1h-1zM313.0 400.6h1v1h-1zM311.4 396.8h1v1h-1zM312.8 399.9h1v1h-1zM311.8 400.4h1v1h-1zM313.3 400.3h1v1h-1zM312.9 400.1h1v1h-1zM311.6 396.9h1v1h-1zM312.5 399.6h1v1h-1zM312.7 398.8h1v1h-1zM312.9 402.7h1v1h-1zM313.1 404.1h1v1h-1z"/>
<path fill="#3a9a80" fill-opacity="0.75" d="M330.8 392.5h1v1h-1zM329.4 390.0h1v1h-1zM330.5 387.1h1v1h-1zM330.6 390.2h1v1h-1zM329.6 387.0h1v1h-1zM330.9 389.4h1v1h-1zM332.6 390.4h1v1h-1zM331.0 388.9h1v1h-1zM331.9 392.8h1v1h-1zM331.1 387.6h1v1h-1zM329.7 390.5h1v1h-1zM333.3 391.1h1v1h-1zM328.6 391.7h1v1h-1zM331.0 390.6h1v1h-1zM329.8 394.8h1v1h-1zM328.9 389.8h1v1h-1zM328.3 393.2h1v1h-1zM327.5 389.1h1v1h-1zM330.6 392.3h1v1h-1zM330.2 391.6h1v1h-1zM328.5 392.9h1v1h-1zM331.7 391.1h1v1h-1zM329.6 389.7h1v1h-1zM330.3 391.3h1v1h-1zM330.5 390.2h1v1h-1zM329.7 390.9h1v1h-1zM329.2 390.8h1v1h-1zM330.9 391.1h1v1h-1zM332.8 392.7h1v1h-1zM330.1 390.1h1v1h-1zM331.3 388.7h1v1h-1zM330.0 390.0h1v1h-1zM328.7 393.9h1v1h-1zM331.5 391.1h1v1h-1zM330.4 388.6h1v1h-1zM330.4 390.0h1v1h-1zM331.3 391.4h1v1h-1zM329.2 393.3h1v1h-1zM329.8 391.5h1v1h-1zM329.5 393.0h1v1h-1z"/>
<path fill="#9ab0d0" fill-opacity="0.5" d="M303.2 427.3h1v1h-1zM314.3 415.1h1v1h-1zM303.7 404.0h1v1h-1zM309.4 421.2h1v1h-1zM303.3 412.2h1v1h-1zM301.6 417.5h1v1h-1zM317.5 416.6h1v1h-1zM303.4 422.4h1v1h-1zM308.0 427.0h1v1h-1zM308.8 426.7h1v1h-1zM312.5 428.4h1v1h-1zM301.9 424.3h1v1h-1zM315.3 406.3h1v1h-1zM306.7 424.1h1v1h-1zM316.3 400.5h1v1h-1zM302.8 424.2h1v1h-1z"/>
<rect x="407" y="320" width="91.5" height="111.5" fill="none" stroke="#9a9a9a" stroke-width="1.1" />
<line x1="404" y1="431.2" x2="407" y2="431.2" stroke="#555" stroke-width="0.9" />
<text x="401.2" y="434.6" font-size="9.8" text-anchor="end" textLength="8.8" lengthAdjust="spacingAndGlyphs" fill="#222" stroke="#222">10</text>
<text x="401.5" y="429.8" font-size="6.4" textLength="2.8" lengthAdjust="spacingAndGlyphs" fill="#222" stroke="#222">0</text>
<line x1="404" y1="403.3" x2="407" y2="403.3" stroke="#555" stroke-width="0.9" />
<text x="401.2" y="406.7" font-size="9.8" text-anchor="end" textLength="8.8" lengthAdjust="spacingAndGlyphs" fill="#222" stroke="#222">10</text>
<text x="401.5" y="401.9" font-size="6.4" textLength="2.8" lengthAdjust="spacingAndGlyphs" fill="#222" stroke="#222">1</text>
<line x1="404" y1="375.6" x2="407" y2="375.6" stroke="#555" stroke-width="0.9" />
<text x="401.2" y="379" font-size="9.8" text-anchor="end" textLength="8.8" lengthAdjust="spacingAndGlyphs" fill="#222" stroke="#222">10</text>
<text x="401.5" y="374.2" font-size="6.4" textLength="2.8" lengthAdjust="spacingAndGlyphs" fill="#222" stroke="#222">2</text>
<line x1="404" y1="347.6" x2="407" y2="347.6" stroke="#555" stroke-width="0.9" />
<text x="401.2" y="351" font-size="9.8" text-anchor="end" textLength="8.8" lengthAdjust="spacingAndGlyphs" fill="#222" stroke="#222">10</text>
<text x="401.5" y="346.2" font-size="6.4" textLength="2.8" lengthAdjust="spacingAndGlyphs" fill="#222" stroke="#222">3</text>
<line x1="405.5" y1="422.8" x2="407" y2="422.8" stroke="#888" stroke-width="0.6" />
<line x1="405.5" y1="417.89" x2="407" y2="417.89" stroke="#888" stroke-width="0.6" />
<line x1="405.5" y1="414.4" x2="407" y2="414.4" stroke="#888" stroke-width="0.6" />
<line x1="405.5" y1="411.7" x2="407" y2="411.7" stroke="#888" stroke-width="0.6" />
<line x1="405.5" y1="409.49" x2="407" y2="409.49" stroke="#888" stroke-width="0.6" />
<line x1="405.5" y1="407.62" x2="407" y2="407.62" stroke="#888" stroke-width="0.6" />
<line x1="405.5" y1="406" x2="407" y2="406" stroke="#888" stroke-width="0.6" />
<line x1="405.5" y1="404.58" x2="407" y2="404.58" stroke="#888" stroke-width="0.6" />
<line x1="405.5" y1="394.9" x2="407" y2="394.9" stroke="#888" stroke-width="0.6" />
<line x1="405.5" y1="389.99" x2="407" y2="389.99" stroke="#888" stroke-width="0.6" />
<line x1="405.5" y1="386.5" x2="407" y2="386.5" stroke="#888" stroke-width="0.6" />
<line x1="405.5" y1="383.8" x2="407" y2="383.8" stroke="#888" stroke-width="0.6" />
<line x1="405.5" y1="381.59" x2="407" y2="381.59" stroke="#888" stroke-width="0.6" />
<line x1="405.5" y1="379.72" x2="407" y2="379.72" stroke="#888" stroke-width="0.6" />
<line x1="405.5" y1="378.1" x2="407" y2="378.1" stroke="#888" stroke-width="0.6" />
<line x1="405.5" y1="376.68" x2="407" y2="376.68" stroke="#888" stroke-width="0.6" />
<line x1="405.5" y1="367" x2="407" y2="367" stroke="#888" stroke-width="0.6" />
<line x1="405.5" y1="362.09" x2="407" y2="362.09" stroke="#888" stroke-width="0.6" />
<line x1="405.5" y1="358.6" x2="407" y2="358.6" stroke="#888" stroke-width="0.6" />
<line x1="405.5" y1="355.9" x2="407" y2="355.9" stroke="#888" stroke-width="0.6" />
<line x1="405.5" y1="353.69" x2="407" y2="353.69" stroke="#888" stroke-width="0.6" />
<line x1="405.5" y1="351.82" x2="407" y2="351.82" stroke="#888" stroke-width="0.6" />
<line x1="405.5" y1="350.2" x2="407" y2="350.2" stroke="#888" stroke-width="0.6" />
<line x1="405.5" y1="348.78" x2="407" y2="348.78" stroke="#888" stroke-width="0.6" />
<line x1="405.5" y1="339.1" x2="407" y2="339.1" stroke="#888" stroke-width="0.6" />
<line x1="405.5" y1="334.19" x2="407" y2="334.19" stroke="#888" stroke-width="0.6" />
<line x1="405.5" y1="330.7" x2="407" y2="330.7" stroke="#888" stroke-width="0.6" />
<line x1="405.5" y1="328" x2="407" y2="328" stroke="#888" stroke-width="0.6" />
<line x1="405.5" y1="325.79" x2="407" y2="325.79" stroke="#888" stroke-width="0.6" />
<line x1="405.5" y1="323.92" x2="407" y2="323.92" stroke="#888" stroke-width="0.6" />
<line x1="405.5" y1="322.3" x2="407" y2="322.3" stroke="#888" stroke-width="0.6" />
<line x1="405.5" y1="320.88" x2="407" y2="320.88" stroke="#888" stroke-width="0.6" />
<line x1="407" y1="431.5" x2="407" y2="434.5" stroke="#777" stroke-width="0.7" />
<line x1="410.66" y1="431.5" x2="410.66" y2="433" stroke="#777" stroke-width="0.7" />
<line x1="414.32" y1="431.5" x2="414.32" y2="433" stroke="#777" stroke-width="0.7" />
<line x1="417.98" y1="431.5" x2="417.98" y2="433" stroke="#777" stroke-width="0.7" />
<line x1="421.64" y1="431.5" x2="421.64" y2="433" stroke="#777" stroke-width="0.7" />
<line x1="425.3" y1="431.5" x2="425.3" y2="434.5" stroke="#777" stroke-width="0.7" />
<line x1="428.96" y1="431.5" x2="428.96" y2="433" stroke="#777" stroke-width="0.7" />
<line x1="432.62" y1="431.5" x2="432.62" y2="433" stroke="#777" stroke-width="0.7" />
<line x1="436.28" y1="431.5" x2="436.28" y2="433" stroke="#777" stroke-width="0.7" />
<line x1="439.94" y1="431.5" x2="439.94" y2="433" stroke="#777" stroke-width="0.7" />
<line x1="443.6" y1="431.5" x2="443.6" y2="434.5" stroke="#777" stroke-width="0.7" />
<line x1="447.26" y1="431.5" x2="447.26" y2="433" stroke="#777" stroke-width="0.7" />
<line x1="450.92" y1="431.5" x2="450.92" y2="433" stroke="#777" stroke-width="0.7" />
<line x1="454.58" y1="431.5" x2="454.58" y2="433" stroke="#777" stroke-width="0.7" />
<line x1="458.24" y1="431.5" x2="458.24" y2="433" stroke="#777" stroke-width="0.7" />
<line x1="461.9" y1="431.5" x2="461.9" y2="434.5" stroke="#777" stroke-width="0.7" />
<line x1="465.56" y1="431.5" x2="465.56" y2="433" stroke="#777" stroke-width="0.7" />
<line x1="469.22" y1="431.5" x2="469.22" y2="433" stroke="#777" stroke-width="0.7" />
<line x1="472.88" y1="431.5" x2="472.88" y2="433" stroke="#777" stroke-width="0.7" />
<line x1="476.54" y1="431.5" x2="476.54" y2="433" stroke="#777" stroke-width="0.7" />
<line x1="480.2" y1="431.5" x2="480.2" y2="434.5" stroke="#777" stroke-width="0.7" />
<line x1="483.86" y1="431.5" x2="483.86" y2="433" stroke="#777" stroke-width="0.7" />
<line x1="487.52" y1="431.5" x2="487.52" y2="433" stroke="#777" stroke-width="0.7" />
<line x1="491.18" y1="431.5" x2="491.18" y2="433" stroke="#777" stroke-width="0.7" />
<line x1="494.84" y1="431.5" x2="494.84" y2="433" stroke="#777" stroke-width="0.7" />
<line x1="498.5" y1="431.5" x2="498.5" y2="434.5" stroke="#777" stroke-width="0.7" />
<path fill="#8aa2c8" fill-opacity="0.5" d="M468.4 350.4h1v1h-1zM483.9 362.5h1v1h-1zM489.8 371.5h1v1h-1zM438.2 360.9h1v1h-1zM456.2 371.4h1v1h-1zM495.0 342.2h1v1h-1zM468.4 375.1h1v1h-1zM456.7 354.1h1v1h-1zM450.9 381.1h1v1h-1zM485.9 370.5h1v1h-1zM458.2 356.1h1v1h-1zM469.9 344.5h1v1h-1zM438.1 362.8h1v1h-1zM478.0 340.3h1v1h-1zM450.3 359.9h1v1h-1zM493.5 336.6h1v1h-1zM460.1 343.1h1v1h-1zM482.7 347.5h1v1h-1zM483.3 342.2h1v1h-1zM489.8 365.1h1v1h-1zM444.3 377.1h1v1h-1zM455.6 360.9h1v1h-1zM466.1 373.8h1v1h-1zM477.9 358.2h1v1h-1zM453.1 360.7h1v1h-1zM479.6 352.8h1v1h-1zM477.0 340.7h1v1h-1zM448.6 370.2h1v1h-1zM457.0 342.1h1v1h-1zM490.8 381.3h1v1h-1zM442.7 340.0h1v1h-1zM482.3 358.5h1v1h-1zM441.4 350.4h1v1h-1zM481.4 336.3h1v1h-1zM482.1 377.2h1v1h-1zM462.1 345.3h1v1h-1zM497.0 354.5h1v1h-1zM464.7 383.4h1v1h-1zM449.1 340.7h1v1h-1zM458.7 347.4h1v1h-1zM480.4 343.9h1v1h-1zM459.1 374.9h1v1h-1zM440.8 381.0h1v1h-1zM456.6 369.6h1v1h-1zM454.9 354.1h1v1h-1zM465.3 349.5h1v1h-1zM481.7 361.3h1v1h-1zM494.1 349.8h1v1h-1zM448.2 357.6h1v1h-1zM450.4 377.4h1v1h-1zM445.6 386.0h1v1h-1zM450.2 370.3h1v1h-1zM497.2 372.2h1v1h-1zM452.4 345.5h1v1h-1zM444.3 343.5h1v1h-1zM467.7 336.1h1v1h-1zM465.0 363.1h1v1h-1zM481.6 337.4h1v1h-1zM474.8 344.8h1v1h-1zM474.8 334.0h1v1h-1zM446.7 365.3h1v1h-1zM469.9 354.7h1v1h-1zM444.9 346.4h1v1h-1zM446.9 380.8h1v1h-1zM464.6 382.4h1v1h-1zM463.4 355.5h1v1h-1zM481.6 364.5h1v1h-1zM442.1 344.3h1v1h-1zM454.4 387.9h1v1h-1zM447.6 333.8h1v1h-1zM468.1 358.0h1v1h-1zM472.3 382.9h1v1h-1zM475.9 362.7h1v1h-1zM450.5 383.9h1v1h-1zM462.7 374.5h1v1h-1zM465.6 357.4h1v1h-1zM442.7 382.2h1v1h-1zM471.8 362.5h1v1h-1zM451.4 336.3h1v1h-1zM439.8 371.8h1v1h-1zM495.4 342.1h1v1h-1zM442.2 369.9h1v1h-1zM481.4 356.7h1v1h-1zM467.8 337.4h1v1h-1zM443.2 377.2h1v1h-1zM469.0 375.8h1v1h-1zM463.7 355.5h1v1h-1zM470.5 367.2h1v1h-1zM493.6 374.0h1v1h-1zM497.2 357.1h1v1h-1zM477.3 374.9h1v1h-1zM458.9 353.0h1v1h-1zM464.0 338.7h1v1h-1zM484.1 371.9h1v1h-1zM475.3 333.7h1v1h-1zM443.6 367.9h1v1h-1zM476.7 344.5h1v1h-1zM495.6 367.6h1v1h-1zM451.9 361.5h1v1h-1zM461.2 364.8h1v1h-1zM442.6 339.6h1v1h-1zM486.9 358.4h1v1h-1zM455.0 382.1h1v1h-1zM447.5 360.9h1v1h-1zM447.5 374.6h1v1h-1zM454.3 357.9h1v1h-1zM438.1 345.9h1v1h-1zM482.5 339.8h1v1h-1zM488.8 352.7h1v1h-1zM493.1 355.2h1v1h-1zM455.8 357.5h1v1h-1zM466.1 373.2h1v1h-1zM482.0 369.0h1v1h-1zM476.6 355.0h1v1h-1zM453.7 367.1h1v1h-1zM461.0 345.8h1v1h-1zM491.8 371.3h1v1h-1zM481.4 366.9h1v1h-1zM442.3 358.6h1v1h-1zM450.0 380.9h1v1h-1zM462.4 340.1h1v1h-1zM449.9 357.4h1v1h-1zM458.4 368.6h1v1h-1zM462.3 354.6h1v1h-1zM482.9 357.1h1v1h-1zM445.7 373.7h1v1h-1zM488.8 375.7h1v1h-1zM460.4 352.5h1v1h-1zM466.2 375.1h1v1h-1zM445.5 355.9h1v1h-1zM454.0 350.2h1v1h-1zM494.3 367.1h1v1h-1zM466.1 366.2h1v1h-1zM446.8 362.7h1v1h-1zM470.7 357.0h1v1h-1zM474.8 364.9h1v1h-1zM488.5 379.4h1v1h-1zM463.3 334.6h1v1h-1zM495.0 355.8h1v1h-1zM449.4 347.2h1v1h-1zM468.6 341.3h1v1h-1zM461.7 375.2h1v1h-1zM454.4 351.1h1v1h-1zM473.8 352.6h1v1h-1zM442.5 384.5h1v1h-1zM467.3 385.5h1v1h-1zM466.0 340.3h1v1h-1zM481.7 377.7h1v1h-1zM455.2 376.4h1v1h-1zM450.7 349.9h1v1h-1zM450.0 378.3h1v1h-1zM496.4 377.2h1v1h-1zM464.8 386.9h1v1h-1zM495.0 370.5h1v1h-1zM464.1 377.0h1v1h-1zM462.2 348.6h1v1h-1zM477.2 369.6h1v1h-1zM493.6 348.0h1v1h-1zM485.8 365.8h1v1h-1zM466.1 347.7h1v1h-1zM467.2 338.6h1v1h-1zM453.0 381.0h1v1h-1zM474.0 364.6h1v1h-1zM441.5 368.6h1v1h-1zM471.9 349.7h1v1h-1zM443.2 385.4h1v1h-1zM468.8 333.9h1v1h-1zM473.4 383.5h1v1h-1zM483.9 350.7h1v1h-1zM469.1 365.9h1v1h-1zM475.9 339.1h1v1h-1zM470.0 335.2h1v1h-1zM453.6 344.4h1v1h-1zM456.3 341.3h1v1h-1zM464.2 345.7h1v1h-1zM460.2 341.5h1v1h-1zM462.4 362.7h1v1h-1zM494.7 373.5h1v1h-1zM473.4 343.8h1v1h-1zM466.1 381.4h1v1h-1zM497.2 357.3h1v1h-1zM451.2 339.0h1v1h-1zM464.9 366.5h1v1h-1zM463.7 363.1h1v1h-1zM483.2 359.6h1v1h-1zM471.9 350.8h1v1h-1zM478.8 361.3h1v1h-1zM462.3 361.9h1v1h-1zM450.7 350.6h1v1h-1zM446.5 365.9h1v1h-1zM452.9 340.5h1v1h-1zM461.4 365.2h1v1h-1zM441.8 341.1h1v1h-1zM485.5 343.4h1v1h-1zM441.8 362.6h1v1h-1zM439.9 344.3h1v1h-1zM449.6 340.4h1v1h-1zM451.0 353.4h1v1h-1zM453.5 364.7h1v1h-1zM438.6 345.9h1v1h-1zM460.7 350.4h1v1h-1zM478.5 376.8h1v1h-1zM443.6 358.5h1v1h-1zM479.2 357.4h1v1h-1zM443.2 360.7h1v1h-1zM464.5 362.4h1v1h-1zM471.4 350.1h1v1h-1zM462.9 333.3h1v1h-1zM485.7 352.2h1v1h-1zM457.8 353.3h1v1h-1zM457.2 343.1h1v1h-1zM444.6 371.4h1v1h-1zM486.6 355.5h1v1h-1zM443.7 336.1h1v1h-1zM443.4 367.2h1v1h-1zM479.4 348.6h1v1h-1zM493.8 375.8h1v1h-1zM443.6 339.7h1v1h-1zM455.2 375.1h1v1h-1zM445.5 348.1h1v1h-1zM461.5 377.3h1v1h-1zM471.7 376.7h1v1h-1zM487.3 346.4h1v1h-1zM463.3 368.0h1v1h-1zM484.1 379.6h1v1h-1zM461.5 382.4h1v1h-1zM465.8 342.7h1v1h-1zM464.8 349.0h1v1h-1zM451.7 361.2h1v1h-1zM456.8 379.0h1v1h-1zM495.8 350.9h1v1h-1zM442.9 335.4h1v1h-1zM475.5 357.8h1v1h-1zM446.2 385.3h1v1h-1zM468.2 383.7h1v1h-1zM449.2 372.6h1v1h-1zM439.2 353.6h1v1h-1zM468.3 347.1h1v1h-1zM464.3 341.3h1v1h-1zM477.9 362.6h1v1h-1zM452.4 335.2h1v1h-1zM495.5 348.6h1v1h-1zM463.4 384.0h1v1h-1zM476.7 340.3h1v1h-1zM479.0 369.0h1v1h-1zM494.5 363.9h1v1h-1zM477.8 369.7h1v1h-1zM448.6 335.3h1v1h-1zM476.6 377.3h1v1h-1zM486.3 341.0h1v1h-1zM488.0 374.9h1v1h-1zM465.5 377.8h1v1h-1zM477.7 336.6h1v1h-1zM492.8 343.3h1v1h-1zM467.3 347.1h1v1h-1zM465.2 381.4h1v1h-1zM495.1 373.0h1v1h-1zM496.8 376.2h1v1h-1zM494.2 333.7h1v1h-1zM495.1 373.4h1v1h-1zM453.0 371.4h1v1h-1zM474.5 372.0h1v1h-1zM467.2 353.3h1v1h-1zM466.4 338.1h1v1h-1zM457.7 377.8h1v1h-1zM465.2 363.3h1v1h-1zM467.6 369.3h1v1h-1zM441.9 387.4h1v1h-1zM458.5 370.6h1v1h-1zM454.8 358.5h1v1h-1zM459.7 376.1h1v1h-1zM487.4 374.6h1v1h-1zM469.4 361.1h1v1h-1zM450.2 370.4h1v1h-1zM454.1 385.3h1v1h-1zM493.0 363.9h1v1h-1zM446.3 351.2h1v1h-1zM460.3 387.0h1v1h-1zM466.0 343.7h1v1h-1zM471.2 385.9h1v1h-1zM496.0 337.4h1v1h-1zM463.0 373.8h1v1h-1zM457.6 334.3h1v1h-1zM487.4 372.5h1v1h-1zM495.3 344.3h1v1h-1zM441.4 359.8h1v1h-1zM497.1 377.6h1v1h-1zM481.5 335.4h1v1h-1zM448.7 359.2h1v1h-1zM444.4 366.2h1v1h-1zM442.2 356.9h1v1h-1zM474.6 340.4h1v1h-1zM456.7 336.8h1v1h-1zM469.2 361.9h1v1h-1zM448.5 333.5h1v1h-1zM495.5 341.5h1v1h-1zM472.1 348.4h1v1h-1zM487.8 355.8h1v1h-1zM457.7 375.9h1v1h-1zM492.0 362.8h1v1h-1zM464.6 371.0h1v1h-1zM461.7 372.6h1v1h-1zM485.1 381.6h1v1h-1zM461.9 344.7h1v1h-1zM490.5 366.2h1v1h-1zM462.2 364.5h1v1h-1zM443.4 383.0h1v1h-1zM466.6 350.8h1v1h-1zM483.8 362.3h1v1h-1zM446.3 370.8h1v1h-1zM448.9 365.6h1v1h-1zM478.9 334.4h1v1h-1zM496.6 344.8h1v1h-1zM447.4 359.2h1v1h-1zM497.3 338.7h1v1h-1zM464.5 358.0h1v1h-1zM484.0 347.8h1v1h-1zM476.4 354.8h1v1h-1zM495.5 350.9h1v1h-1zM488.5 346.6h1v1h-1zM459.7 342.0h1v1h-1zM455.5 352.1h1v1h-1zM470.9 366.8h1v1h-1zM463.7 370.7h1v1h-1zM452.6 361.0h1v1h-1zM467.8 366.2h1v1h-1zM466.1 365.1h1v1h-1zM477.5 374.8h1v1h-1zM497.1 344.6h1v1h-1zM469.4 345.0h1v1h-1zM496.5 340.6h1v1h-1zM487.5 368.2h1v1h-1zM458.8 344.7h1v1h-1zM470.5 362.4h1v1h-1zM492.1 351.2h1v1h-1zM459.3 369.1h1v1h-1zM450.9 377.3h1v1h-1zM495.4 371.6h1v1h-1zM452.9 383.5h1v1h-1zM492.5 365.6h1v1h-1zM442.4 358.9h1v1h-1zM448.3 365.4h1v1h-1zM482.1 368.9h1v1h-1zM495.1 351.7h1v1h-1zM454.9 369.6h1v1h-1zM462.4 381.7h1v1h-1zM467.1 385.4h1v1h-1zM466.8 385.2h1v1h-1zM476.1 362.5h1v1h-1zM497.1 379.7h1v1h-1zM494.7 368.6h1v1h-1zM471.5 358.7h1v1h-1zM441.2 378.1h1v1h-1zM467.7 348.8h1v1h-1zM480.1 351.4h1v1h-1zM470.4 371.3h1v1h-1zM467.2 379.9h1v1h-1zM442.1 333.4h1v1h-1zM477.1 342.5h1v1h-1zM461.3 341.1h1v1h-1zM482.2 338.6h1v1h-1zM494.2 335.8h1v1h-1zM477.3 383.3h1v1h-1zM462.9 334.0h1v1h-1zM481.0 379.0h1v1h-1zM454.9 350.7h1v1h-1zM476.5 375.6h1v1h-1zM496.6 334.1h1v1h-1zM472.1 368.9h1v1h-1zM474.8 348.8h1v1h-1zM469.2 368.9h1v1h-1zM465.7 375.4h1v1h-1zM497.4 370.9h1v1h-1zM448.2 334.3h1v1h-1zM445.5 377.5h1v1h-1zM480.3 377.2h1v1h-1zM490.2 354.3h1v1h-1zM463.7 372.7h1v1h-1zM485.8 381.7h1v1h-1zM480.9 341.8h1v1h-1zM484.8 351.7h1v1h-1zM491.4 360.6h1v1h-1zM480.0 366.6h1v1h-1zM464.1 337.4h1v1h-1zM450.3 384.9h1v1h-1zM467.2 381.8h1v1h-1zM465.1 368.9h1v1h-1zM445.2 343.5h1v1h-1zM496.8 354.9h1v1h-1zM441.6 357.6h1v1h-1zM486.2 371.0h1v1h-1zM486.3 337.6h1v1h-1zM444.2 384.1h1v1h-1zM460.3 340.0h1v1h-1zM451.1 386.7h1v1h-1zM477.1 384.4h1v1h-1zM450.6 371.5h1v1h-1zM465.2 379.3h1v1h-1zM490.7 364.4h1v1h-1zM497.3 346.8h1v1h-1zM460.1 368.6h1v1h-1zM466.4 351.0h1v1h-1zM451.4 380.2h1v1h-1zM449.5 357.4h1v1h-1zM467.8 347.0h1v1h-1zM466.3 372.5h1v1h-1zM496.1 357.5h1v1h-1zM441.1 340.7h1v1h-1zM446.6 373.8h1v1h-1zM454.5 349.8h1v1h-1zM486.0 380.6h1v1h-1zM486.5 379.0h1v1h-1zM438.3 345.0h1v1h-1zM461.0 375.4h1v1h-1zM438.5 387.2h1v1h-1zM438.8 382.5h1v1h-1zM486.0 362.3h1v1h-1zM454.2 381.1h1v1h-1zM480.3 347.5h1v1h-1zM467.7 367.1h1v1h-1zM446.5 362.6h1v1h-1zM464.1 379.6h1v1h-1zM477.4 366.4h1v1h-1zM482.7 362.6h1v1h-1zM440.2 339.8h1v1h-1zM492.7 374.8h1v1h-1zM492.3 375.0h1v1h-1zM444.4 354.7h1v1h-1zM467.4 371.9h1v1h-1zM454.2 380.7h1v1h-1zM465.5 372.8h1v1h-1zM452.1 353.0h1v1h-1zM482.0 374.7h1v1h-1zM485.7 361.3h1v1h-1zM458.7 339.3h1v1h-1zM456.5 360.3h1v1h-1zM452.2 353.1h1v1h-1zM441.2 378.6h1v1h-1zM471.6 345.1h1v1h-1zM484.9 344.0h1v1h-1zM453.3 353.6h1v1h-1zM438.5 352.0h1v1h-1zM470.5 364.6h1v1h-1zM439.0 351.4h1v1h-1zM460.4 374.1h1v1h-1zM463.1 341.6h1v1h-1zM469.9 385.8h1v1h-1zM452.7 336.2h1v1h-1zM476.8 374.7h1v1h-1zM448.7 368.4h1v1h-1zM472.5 334.0h1v1h-1zM492.7 353.0h1v1h-1zM454.8 370.4h1v1h-1zM450.2 359.6h1v1h-1zM468.8 374.7h1v1h-1zM443.0 386.9h1v1h-1zM470.6 358.6h1v1h-1zM489.0 350.4h1v1h-1zM469.7 341.2h1v1h-1zM479.1 366.5h1v1h-1zM453.4 364.2h1v1h-1zM462.1 373.4h1v1h-1zM456.0 352.9h1v1h-1zM460.3 350.7h1v1h-1zM492.5 379.8h1v1h-1zM457.8 370.6h1v1h-1zM471.5 340.1h1v1h-1zM478.3 383.2h1v1h-1zM451.1 357.5h1v1h-1zM481.1 372.8h1v1h-1zM447.9 387.6h1v1h-1zM442.6 363.9h1v1h-1zM471.5 353.9h1v1h-1zM478.1 371.2h1v1h-1zM442.0 385.6h1v1h-1zM496.5 375.7h1v1h-1zM439.8 384.3h1v1h-1zM493.0 377.8h1v1h-1zM440.7 348.4h1v1h-1zM480.0 359.8h1v1h-1zM489.8 350.2h1v1h-1zM449.3 338.6h1v1h-1zM445.5 364.8h1v1h-1zM471.5 377.8h1v1h-1zM494.1 372.9h1v1h-1zM444.9 387.9h1v1h-1zM491.4 349.2h1v1h-1zM459.9 370.5h1v1h-1zM454.3 384.0h1v1h-1zM473.0 359.7h1v1h-1zM454.8 336.5h1v1h-1zM485.0 375.9h1v1h-1zM473.5 377.4h1v1h-1zM464.8 370.9h1v1h-1zM448.1 379.4h1v1h-1zM487.7 354.4h1v1h-1zM493.8 333.6h1v1h-1zM475.9 379.4h1v1h-1zM494.3 379.9h1v1h-1zM454.3 348.0h1v1h-1zM462.6 368.7h1v1h-1zM486.9 343.8h1v1h-1zM447.8 340.3h1v1h-1zM441.4 337.6h1v1h-1zM443.7 356.1h1v1h-1zM474.4 354.5h1v1h-1zM440.2 365.0h1v1h-1zM470.9 337.3h1v1h-1zM461.0 357.2h1v1h-1zM482.3 357.2h1v1h-1zM491.4 341.4h1v1h-1zM467.5 386.4h1v1h-1zM478.5 363.7h1v1h-1zM442.7 357.5h1v1h-1zM453.7 363.8h1v1h-1zM451.0 335.3h1v1h-1zM491.6 376.8h1v1h-1zM439.2 371.4h1v1h-1zM451.7 342.0h1v1h-1zM449.9 338.3h1v1h-1zM484.2 357.2h1v1h-1zM461.6 334.3h1v1h-1zM467.1 353.5h1v1h-1zM438.2 353.6h1v1h-1zM472.0 335.9h1v1h-1zM453.0 342.3h1v1h-1zM456.8 387.1h1v1h-1zM441.1 337.1h1v1h-1zM457.6 361.6h1v1h-1zM470.7 336.7h1v1h-1zM473.9 340.9h1v1h-1zM440.6 343.7h1v1h-1zM464.1 380.9h1v1h-1zM451.7 362.9h1v1h-1zM469.5 381.8h1v1h-1zM495.2 367.6h1v1h-1zM455.6 344.0h1v1h-1zM473.1 379.7h1v1h-1zM450.5 345.6h1v1h-1zM465.3 339.4h1v1h-1zM458.8 369.7h1v1h-1zM463.5 371.4h1v1h-1zM445.6 341.2h1v1h-1zM441.5 354.2h1v1h-1zM477.2 362.9h1v1h-1zM462.1 367.1h1v1h-1zM470.1 356.3h1v1h-1zM490.3 343.0h1v1h-1zM497.4 378.9h1v1h-1zM455.6 336.6h1v1h-1zM472.8 365.3h1v1h-1zM472.5 375.2h1v1h-1zM462.3 370.3h1v1h-1zM467.8 366.9h1v1h-1zM460.0 367.7h1v1h-1zM444.3 334.7h1v1h-1zM474.4 378.6h1v1h-1zM461.1 342.4h1v1h-1zM455.9 359.4h1v1h-1zM455.3 355.4h1v1h-1zM482.7 367.9h1v1h-1zM439.3 382.2h1v1h-1zM438.2 347.3h1v1h-1zM487.5 366.2h1v1h-1zM462.9 360.8h1v1h-1zM458.9 352.5h1v1h-1zM457.9 339.3h1v1h-1zM448.8 344.6h1v1h-1zM467.9 363.1h1v1h-1zM494.3 358.0h1v1h-1zM469.4 383.1h1v1h-1zM449.8 338.0h1v1h-1zM487.7 352.5h1v1h-1zM475.0 383.6h1v1h-1zM442.6 386.2h1v1h-1zM480.9 374.0h1v1h-1zM441.2 368.5h1v1h-1zM461.8 346.3h1v1h-1zM472.5 352.1h1v1h-1zM455.3 361.5h1v1h-1zM484.1 338.7h1v1h-1zM439.3 358.6h1v1h-1zM446.3 360.1h1v1h-1zM462.2 357.3h1v1h-1zM492.9 359.0h1v1h-1zM448.3 383.4h1v1h-1zM446.2 374.8h1v1h-1zM448.3 356.5h1v1h-1zM493.4 359.9h1v1h-1zM475.4 364.4h1v1h-1zM485.9 355.9h1v1h-1zM457.4 335.3h1v1h-1zM476.7 339.6h1v1h-1zM494.7 361.8h1v1h-1zM486.0 364.7h1v1h-1zM450.1 346.1h1v1h-1zM453.9 378.1h1v1h-1zM488.5 382.0h1v1h-1zM457.0 354.8h1v1h-1zM456.2 384.3h1v1h-1zM486.8 350.1h1v1h-1zM465.3 367.0h1v1h-1zM457.9 340.7h1v1h-1zM459.6 368.0h1v1h-1zM454.6 356.2h1v1h-1zM489.1 350.1h1v1h-1zM485.1 333.4h1v1h-1zM463.2 344.2h1v1h-1zM475.2 341.6h1v1h-1zM463.6 369.1h1v1h-1zM464.4 386.2h1v1h-1zM459.9 386.0h1v1h-1zM474.8 371.1h1v1h-1zM457.5 350.3h1v1h-1zM439.2 370.0h1v1h-1zM487.6 363.8h1v1h-1zM467.2 369.8h1v1h-1zM473.4 368.5h1v1h-1zM448.4 386.2h1v1h-1zM476.1 349.4h1v1h-1zM453.2 360.5h1v1h-1zM440.1 372.2h1v1h-1zM438.1 356.7h1v1h-1zM462.5 374.2h1v1h-1zM456.4 368.3h1v1h-1zM450.9 365.9h1v1h-1zM494.4 336.1h1v1h-1zM455.3 365.7h1v1h-1zM446.2 333.1h1v1h-1zM482.5 333.2h1v1h-1zM480.5 362.0h1v1h-1zM478.1 381.7h1v1h-1zM477.8 353.3h1v1h-1zM492.0 366.8h1v1h-1zM490.6 353.3h1v1h-1zM467.5 377.2h1v1h-1zM453.4 345.3h1v1h-1zM473.9 364.6h1v1h-1zM474.2 349.3h1v1h-1zM462.5 372.2h1v1h-1zM489.2 373.8h1v1h-1zM497.1 364.9h1v1h-1zM438.5 362.0h1v1h-1zM462.9 343.6h1v1h-1zM491.0 362.0h1v1h-1zM482.5 341.6h1v1h-1zM454.0 373.9h1v1h-1zM438.1 367.6h1v1h-1zM472.5 375.1h1v1h-1zM486.6 340.5h1v1h-1zM482.8 371.2h1v1h-1zM490.4 336.9h1v1h-1zM439.6 376.2h1v1h-1zM450.4 381.6h1v1h-1zM460.9 365.8h1v1h-1zM446.7 364.9h1v1h-1zM454.2 345.7h1v1h-1zM495.4 342.8h1v1h-1zM481.2 334.0h1v1h-1zM495.1 353.6h1v1h-1zM466.1 368.4h1v1h-1zM444.6 333.0h1v1h-1zM450.2 349.2h1v1h-1zM472.2 381.9h1v1h-1zM449.3 358.5h1v1h-1zM492.7 342.3h1v1h-1zM459.8 336.0h1v1h-1zM494.9 374.8h1v1h-1zM440.3 345.3h1v1h-1zM491.8 378.5h1v1h-1zM476.2 333.3h1v1h-1zM485.5 333.6h1v1h-1zM459.1 370.8h1v1h-1zM463.2 362.8h1v1h-1zM437.7 367.0h1v1h-1zM484.5 335.8h1v1h-1zM494.1 335.4h1v1h-1zM497.5 360.6h1v1h-1zM485.8 336.5h1v1h-1zM485.4 351.5h1v1h-1zM475.4 380.2h1v1h-1zM494.8 357.9h1v1h-1zM456.6 349.1h1v1h-1zM447.5 364.5h1v1h-1zM495.2 333.5h1v1h-1zM454.2 340.1h1v1h-1zM453.6 362.3h1v1h-1zM479.4 351.5h1v1h-1zM449.4 383.8h1v1h-1zM456.3 343.7h1v1h-1zM483.3 347.6h1v1h-1zM477.2 374.4h1v1h-1zM457.4 346.2h1v1h-1zM451.5 348.6h1v1h-1zM496.8 367.5h1v1h-1zM485.5 342.2h1v1h-1zM468.6 373.1h1v1h-1zM464.6 344.3h1v1h-1zM475.6 335.2h1v1h-1zM483.2 358.9h1v1h-1zM476.7 363.9h1v1h-1zM449.1 383.2h1v1h-1zM464.4 387.6h1v1h-1zM473.8 353.9h1v1h-1zM483.3 358.6h1v1h-1zM459.6 377.2h1v1h-1zM487.1 333.3h1v1h-1zM457.4 372.1h1v1h-1zM458.7 367.8h1v1h-1zM442.6 355.7h1v1h-1zM463.2 378.4h1v1h-1zM454.8 341.0h1v1h-1zM484.8 367.1h1v1h-1zM490.5 372.0h1v1h-1zM476.5 381.3h1v1h-1zM480.7 362.7h1v1h-1zM486.2 364.5h1v1h-1zM465.7 366.9h1v1h-1zM468.5 375.9h1v1h-1zM485.1 336.9h1v1h-1zM440.6 354.1h1v1h-1zM444.6 333.9h1v1h-1zM486.6 347.3h1v1h-1zM479.5 356.9h1v1h-1zM446.9 354.1h1v1h-1zM486.1 353.6h1v1h-1zM484.9 341.7h1v1h-1zM487.3 367.6h1v1h-1zM482.9 373.2h1v1h-1zM441.0 386.7h1v1h-1zM473.6 360.1h1v1h-1zM444.9 364.3h1v1h-1zM464.0 365.5h1v1h-1zM471.2 346.1h1v1h-1zM465.6 373.9h1v1h-1zM439.0 361.5h1v1h-1zM471.5 378.8h1v1h-1zM471.5 369.1h1v1h-1zM465.9 341.1h1v1h-1zM468.9 359.4h1v1h-1zM465.1 382.5h1v1h-1zM463.9 372.6h1v1h-1zM475.1 372.6h1v1h-1zM470.2 352.9h1v1h-1zM461.7 387.9h1v1h-1zM475.2 385.5h1v1h-1zM440.5 372.9h1v1h-1zM491.3 381.1h1v1h-1zM477.8 380.8h1v1h-1zM438.2 378.6h1v1h-1zM472.1 383.4h1v1h-1zM481.4 340.5h1v1h-1zM460.4 375.4h1v1h-1zM461.2 373.6h1v1h-1zM443.5 349.5h1v1h-1zM446.7 350.0h1v1h-1zM482.2 337.1h1v1h-1zM473.3 378.8h1v1h-1zM457.2 382.5h1v1h-1zM445.1 344.1h1v1h-1zM488.5 362.7h1v1h-1zM456.6 339.6h1v1h-1zM441.6 347.8h1v1h-1zM462.7 370.0h1v1h-1zM453.9 346.9h1v1h-1zM455.5 387.9h1v1h-1zM489.9 342.3h1v1h-1zM459.4 354.5h1v1h-1zM441.2 361.6h1v1h-1zM470.6 377.7h1v1h-1zM454.2 355.0h1v1h-1zM488.7 353.8h1v1h-1zM461.3 356.4h1v1h-1zM471.0 353.9h1v1h-1zM462.1 359.5h1v1h-1zM466.0 348.8h1v1h-1zM438.0 375.3h1v1h-1zM443.6 384.7h1v1h-1zM474.1 364.8h1v1h-1zM485.6 382.0h1v1h-1zM488.8 348.5h1v1h-1zM455.6 338.5h1v1h-1zM442.7 380.8h1v1h-1zM472.3 384.0h1v1h-1zM446.7 387.1h1v1h-1zM449.4 360.2h1v1h-1zM473.7 385.5h1v1h-1zM468.7 344.2h1v1h-1zM487.1 341.3h1v1h-1zM464.7 363.5h1v1h-1zM463.3 361.9h1v1h-1zM462.0 381.2h1v1h-1zM462.2 380.8h1v1h-1zM447.1 354.3h1v1h-1zM487.2 382.2h1v1h-1zM460.3 386.6h1v1h-1zM448.5 379.4h1v1h-1zM446.2 372.5h1v1h-1zM491.8 368.2h1v1h-1zM452.9 382.8h1v1h-1zM476.9 380.9h1v1h-1zM491.1 336.4h1v1h-1zM463.8 358.9h1v1h-1zM441.6 378.8h1v1h-1zM491.3 348.2h1v1h-1zM492.9 350.5h1v1h-1zM477.9 372.1h1v1h-1zM465.0 364.8h1v1h-1zM469.9 362.5h1v1h-1zM493.8 370.5h1v1h-1zM490.3 341.6h1v1h-1zM477.1 350.9h1v1h-1zM495.3 357.1h1v1h-1zM488.2 349.5h1v1h-1zM468.9 370.9h1v1h-1zM462.2 350.0h1v1h-1zM477.9 343.0h1v1h-1zM461.7 357.4h1v1h-1zM468.6 345.8h1v1h-1zM451.3 338.1h1v1h-1zM471.2 342.4h1v1h-1zM469.7 344.9h1v1h-1zM490.3 361.6h1v1h-1zM482.6 334.2h1v1h-1zM447.7 350.3h1v1h-1zM484.9 376.9h1v1h-1zM449.7 362.7h1v1h-1zM456.4 344.8h1v1h-1zM492.0 347.5h1v1h-1zM473.9 362.0h1v1h-1zM479.5 381.9h1v1h-1zM444.3 372.6h1v1h-1zM496.0 342.5h1v1h-1zM444.7 379.9h1v1h-1zM477.2 343.6h1v1h-1zM437.9 365.1h1v1h-1zM454.0 382.1h1v1h-1zM467.5 356.8h1v1h-1zM448.3 366.7h1v1h-1zM475.6 351.2h1v1h-1zM484.1 343.4h1v1h-1zM467.9 337.5h1v1h-1zM453.2 373.8h1v1h-1zM461.7 333.4h1v1h-1zM451.9 352.7h1v1h-1zM482.8 341.6h1v1h-1zM439.2 341.9h1v1h-1zM491.6 370.4h1v1h-1zM475.8 353.4h1v1h-1zM480.3 358.3h1v1h-1zM464.1 385.2h1v1h-1zM463.9 347.8h1v1h-1zM441.8 364.4h1v1h-1zM475.4 381.4h1v1h-1zM456.9 337.2h1v1h-1zM458.4 356.5h1v1h-1zM452.4 371.7h1v1h-1zM449.2 359.9h1v1h-1zM461.5 359.0h1v1h-1zM454.0 363.0h1v1h-1zM495.6 364.5h1v1h-1zM487.6 338.2h1v1h-1zM460.2 366.9h1v1h-1zM448.2 368.0h1v1h-1zM444.9 383.1h1v1h-1zM443.6 385.1h1v1h-1zM476.8 351.4h1v1h-1zM453.3 350.8h1v1h-1zM448.8 362.3h1v1h-1zM464.8 338.4h1v1h-1zM473.8 359.4h1v1h-1zM452.0 337.4h1v1h-1zM471.9 343.8h1v1h-1zM490.0 366.2h1v1h-1zM497.4 377.4h1v1h-1zM482.4 357.0h1v1h-1zM462.9 346.4h1v1h-1zM455.2 343.7h1v1h-1zM445.8 382.1h1v1h-1zM463.7 364.5h1v1h-1zM497.3 340.5h1v1h-1zM461.0 338.1h1v1h-1zM493.2 367.1h1v1h-1zM480.9 348.9h1v1h-1zM470.7 352.4h1v1h-1zM442.9 376.4h1v1h-1zM457.9 348.7h1v1h-1zM473.4 363.7h1v1h-1zM451.2 355.2h1v1h-1zM470.7 380.6h1v1h-1zM463.9 387.9h1v1h-1zM478.2 339.6h1v1h-1zM487.7 361.7h1v1h-1zM462.2 347.8h1v1h-1zM445.2 371.3h1v1h-1zM458.7 351.0h1v1h-1zM455.2 336.9h1v1h-1zM443.5 381.8h1v1h-1zM466.6 377.6h1v1h-1zM497.3 348.2h1v1h-1zM454.2 349.6h1v1h-1zM497.5 361.0h1v1h-1zM482.2 347.7h1v1h-1zM439.4 370.6h1v1h-1zM462.4 368.9h1v1h-1zM448.6 362.7h1v1h-1zM456.3 342.6h1v1h-1zM447.6 374.1h1v1h-1zM444.3 381.8h1v1h-1zM466.4 371.0h1v1h-1zM488.7 337.8h1v1h-1zM464.9 338.2h1v1h-1zM466.3 378.1h1v1h-1zM483.1 369.6h1v1h-1zM451.7 353.7h1v1h-1z"/>
<path fill="#9ab0d0" fill-opacity="0.4" d="M433.1 364.7h1v1h-1zM436.0 394.1h1v1h-1zM434.6 368.3h1v1h-1zM433.1 358.5h1v1h-1zM436.6 386.1h1v1h-1zM432.8 383.3h1v1h-1zM438.1 392.8h1v1h-1zM430.9 384.4h1v1h-1zM435.0 362.8h1v1h-1zM434.8 357.1h1v1h-1zM436.2 362.6h1v1h-1zM433.8 379.9h1v1h-1zM432.9 390.9h1v1h-1zM433.5 350.7h1v1h-1zM440.9 365.4h1v1h-1zM437.4 381.4h1v1h-1zM439.6 389.3h1v1h-1zM437.7 377.1h1v1h-1zM431.1 364.3h1v1h-1zM439.5 389.6h1v1h-1zM439.6 387.6h1v1h-1zM432.9 384.5h1v1h-1zM440.6 363.0h1v1h-1zM435.7 381.2h1v1h-1zM433.9 386.8h1v1h-1zM436.6 356.1h1v1h-1zM428.5 371.4h1v1h-1zM430.4 354.6h1v1h-1zM437.4 381.8h1v1h-1zM428.8 355.2h1v1h-1zM440.5 373.1h1v1h-1zM440.3 375.6h1v1h-1zM434.8 392.9h1v1h-1zM430.9 359.4h1v1h-1zM432.7 352.8h1v1h-1zM439.2 360.4h1v1h-1zM434.5 369.0h1v1h-1zM438.6 389.3h1v1h-1zM428.4 353.6h1v1h-1zM434.6 365.8h1v1h-1zM439.9 369.8h1v1h-1zM436.6 372.1h1v1h-1zM441.0 384.4h1v1h-1zM436.5 394.0h1v1h-1zM432.5 373.1h1v1h-1zM435.4 362.6h1v1h-1zM432.2 351.9h1v1h-1zM432.8 358.2h1v1h-1zM438.3 381.6h1v1h-1zM430.0 350.3h1v1h-1zM429.2 355.9h1v1h-1zM438.7 371.1h1v1h-1zM433.7 365.4h1v1h-1zM430.4 389.9h1v1h-1zM429.7 382.5h1v1h-1zM436.8 388.5h1v1h-1zM433.1 384.5h1v1h-1zM430.0 372.2h1v1h-1zM433.7 377.1h1v1h-1zM436.5 372.9h1v1h-1zM434.6 356.7h1v1h-1zM435.6 357.7h1v1h-1zM433.0 389.9h1v1h-1zM434.3 392.6h1v1h-1zM436.7 362.6h1v1h-1zM432.5 351.1h1v1h-1zM440.4 371.7h1v1h-1zM435.1 389.0h1v1h-1zM430.2 380.1h1v1h-1zM435.3 371.3h1v1h-1zM432.5 361.2h1v1h-1zM428.8 360.3h1v1h-1zM428.7 360.9h1v1h-1zM438.9 353.8h1v1h-1zM432.5 372.4h1v1h-1zM429.2 394.6h1v1h-1zM438.1 358.2h1v1h-1zM436.9 391.4h1v1h-1zM437.5 359.7h1v1h-1zM436.8 389.8h1v1h-1zM430.9 393.2h1v1h-1zM438.4 356.9h1v1h-1zM430.5 382.6h1v1h-1zM432.6 352.1h1v1h-1zM437.1 381.5h1v1h-1zM435.9 358.8h1v1h-1zM429.0 355.7h1v1h-1zM435.9 377.6h1v1h-1zM436.6 370.0h1v1h-1zM441.4 391.2h1v1h-1zM429.8 385.2h1v1h-1zM440.8 382.0h1v1h-1zM438.0 388.6h1v1h-1zM434.4 384.1h1v1h-1zM438.9 382.8h1v1h-1zM436.5 390.2h1v1h-1zM435.8 367.1h1v1h-1zM436.5 352.6h1v1h-1zM428.7 388.6h1v1h-1zM433.7 374.6h1v1h-1zM435.7 358.5h1v1h-1zM433.6 384.1h1v1h-1zM438.2 374.7h1v1h-1zM434.2 354.1h1v1h-1zM429.4 389.1h1v1h-1zM439.8 355.5h1v1h-1zM436.2 367.6h1v1h-1zM436.6 372.1h1v1h-1zM431.3 353.3h1v1h-1zM437.6 359.8h1v1h-1zM432.7 391.0h1v1h-1zM436.2 350.7h1v1h-1zM431.4 354.9h1v1h-1zM438.9 393.5h1v1h-1zM433.7 383.9h1v1h-1zM430.0 372.7h1v1h-1zM436.4 364.1h1v1h-1zM433.6 358.4h1v1h-1zM439.3 376.2h1v1h-1zM431.5 388.8h1v1h-1zM430.9 385.7h1v1h-1zM437.2 388.6h1v1h-1zM431.2 355.7h1v1h-1zM431.5 354.1h1v1h-1zM435.3 352.2h1v1h-1zM428.6 365.6h1v1h-1zM437.5 367.5h1v1h-1zM429.8 391.9h1v1h-1zM432.0 377.0h1v1h-1zM436.8 353.6h1v1h-1zM440.0 360.9h1v1h-1zM429.4 389.3h1v1h-1zM434.7 359.7h1v1h-1zM428.6 381.0h1v1h-1zM439.8 387.3h1v1h-1zM430.2 366.7h1v1h-1zM439.5 361.3h1v1h-1zM440.5 389.2h1v1h-1zM436.9 352.7h1v1h-1zM441.0 350.4h1v1h-1zM435.0 350.2h1v1h-1zM432.1 383.3h1v1h-1zM434.7 393.8h1v1h-1zM429.6 352.7h1v1h-1zM430.6 356.8h1v1h-1zM435.0 378.5h1v1h-1zM430.3 352.8h1v1h-1zM437.0 356.5h1v1h-1zM428.4 378.4h1v1h-1zM431.2 365.2h1v1h-1zM435.0 370.2h1v1h-1zM440.4 383.9h1v1h-1zM439.6 362.6h1v1h-1zM432.5 352.6h1v1h-1zM439.7 364.0h1v1h-1zM440.2 353.1h1v1h-1zM440.1 351.5h1v1h-1zM433.9 369.8h1v1h-1zM437.3 361.3h1v1h-1zM430.6 391.0h1v1h-1zM428.6 356.5h1v1h-1zM429.4 390.0h1v1h-1zM435.4 390.5h1v1h-1zM432.8 392.0h1v1h-1zM435.2 365.9h1v1h-1zM437.0 381.4h1v1h-1zM436.6 367.9h1v1h-1zM439.5 373.9h1v1h-1zM430.0 358.3h1v1h-1zM439.3 368.7h1v1h-1zM429.9 390.5h1v1h-1zM430.0 385.9h1v1h-1zM440.1 354.0h1v1h-1zM439.5 383.5h1v1h-1zM439.5 356.4h1v1h-1zM428.6 370.9h1v1h-1zM430.8 377.1h1v1h-1zM432.3 355.5h1v1h-1zM438.4 391.5h1v1h-1zM428.8 375.3h1v1h-1zM437.3 364.8h1v1h-1zM430.1 385.9h1v1h-1zM433.7 368.4h1v1h-1zM440.3 384.5h1v1h-1zM432.8 388.8h1v1h-1zM437.6 357.1h1v1h-1zM436.4 388.5h1v1h-1zM436.2 384.9h1v1h-1zM429.5 359.5h1v1h-1zM433.6 354.7h1v1h-1zM428.7 354.6h1v1h-1zM437.2 391.2h1v1h-1zM432.9 368.9h1v1h-1zM437.6 377.2h1v1h-1zM441.3 372.5h1v1h-1zM432.9 375.6h1v1h-1zM433.2 381.9h1v1h-1zM430.5 372.2h1v1h-1zM433.3 373.2h1v1h-1zM433.7 394.1h1v1h-1zM430.3 387.3h1v1h-1zM430.7 364.0h1v1h-1zM435.8 387.5h1v1h-1zM433.7 367.8h1v1h-1zM433.0 392.2h1v1h-1zM431.6 379.7h1v1h-1zM440.0 370.1h1v1h-1zM431.1 387.8h1v1h-1zM434.2 388.7h1v1h-1zM429.8 370.8h1v1h-1zM435.0 381.4h1v1h-1zM432.0 394.7h1v1h-1zM436.3 360.0h1v1h-1zM440.1 369.2h1v1h-1zM431.3 378.3h1v1h-1zM432.1 385.2h1v1h-1zM428.6 361.5h1v1h-1zM440.0 378.1h1v1h-1zM431.1 381.3h1v1h-1zM431.3 350.5h1v1h-1zM438.0 381.2h1v1h-1zM430.8 360.2h1v1h-1zM436.1 350.3h1v1h-1zM430.6 358.3h1v1h-1zM438.0 381.7h1v1h-1zM439.4 371.4h1v1h-1zM436.6 372.1h1v1h-1zM429.1 376.7h1v1h-1zM435.0 389.9h1v1h-1zM429.4 370.4h1v1h-1zM430.0 372.7h1v1h-1zM429.1 363.4h1v1h-1zM440.5 390.4h1v1h-1zM431.2 389.7h1v1h-1zM437.8 366.5h1v1h-1zM431.5 364.3h1v1h-1zM433.2 354.4h1v1h-1zM432.1 376.4h1v1h-1zM436.9 383.8h1v1h-1zM439.4 360.0h1v1h-1zM430.7 394.8h1v1h-1zM433.5 391.2h1v1h-1zM435.1 379.2h1v1h-1zM435.1 371.8h1v1h-1zM435.7 351.8h1v1h-1zM437.6 367.9h1v1h-1zM434.7 390.8h1v1h-1zM432.0 394.8h1v1h-1zM436.2 360.9h1v1h-1zM435.2 372.8h1v1h-1zM428.8 355.6h1v1h-1zM429.2 350.0h1v1h-1zM432.6 380.4h1v1h-1zM432.3 382.0h1v1h-1zM436.9 366.2h1v1h-1zM436.0 350.6h1v1h-1zM436.2 354.7h1v1h-1zM437.3 378.3h1v1h-1zM432.3 388.8h1v1h-1zM438.1 362.2h1v1h-1zM438.8 381.2h1v1h-1zM438.5 365.7h1v1h-1zM429.7 370.8h1v1h-1zM439.7 365.4h1v1h-1zM435.3 374.9h1v1h-1zM432.3 367.9h1v1h-1zM435.2 355.1h1v1h-1zM428.2 377.3h1v1h-1zM441.5 382.3h1v1h-1zM434.6 368.0h1v1h-1zM435.2 392.0h1v1h-1zM436.1 392.9h1v1h-1zM438.2 389.7h1v1h-1zM439.1 393.4h1v1h-1zM433.3 377.2h1v1h-1zM438.0 353.0h1v1h-1zM429.3 388.5h1v1h-1zM434.6 372.1h1v1h-1zM433.8 380.6h1v1h-1zM432.3 363.1h1v1h-1zM432.8 354.6h1v1h-1zM437.0 388.2h1v1h-1zM440.8 373.6h1v1h-1zM436.4 391.8h1v1h-1zM437.3 388.8h1v1h-1zM429.5 371.0h1v1h-1zM440.1 381.9h1v1h-1zM435.6 355.5h1v1h-1zM432.6 381.9h1v1h-1zM435.8 361.8h1v1h-1zM436.5 363.6h1v1h-1zM429.7 391.1h1v1h-1zM432.0 374.6h1v1h-1zM435.7 350.2h1v1h-1zM437.0 391.9h1v1h-1zM437.8 374.8h1v1h-1zM437.9 376.3h1v1h-1zM431.9 378.8h1v1h-1zM432.0 361.6h1v1h-1zM438.8 353.8h1v1h-1zM433.8 358.4h1v1h-1zM435.6 377.7h1v1h-1zM432.3 392.7h1v1h-1zM433.0 351.6h1v1h-1zM428.4 366.3h1v1h-1zM439.2 363.7h1v1h-1zM431.6 353.0h1v1h-1zM432.9 378.1h1v1h-1zM439.4 354.7h1v1h-1zM435.4 383.3h1v1h-1zM429.3 381.8h1v1h-1zM430.6 356.7h1v1h-1zM430.7 389.7h1v1h-1zM432.4 375.8h1v1h-1zM430.6 382.0h1v1h-1zM435.9 394.2h1v1h-1z"/>
<path fill="#4a76b4" fill-opacity="0.6" d="M427.9 377.1h1v1h-1zM433.4 343.3h1v1h-1zM436.7 337.8h1v1h-1zM428.4 386.1h1v1h-1zM432.9 356.1h1v1h-1zM432.6 352.7h1v1h-1zM429.8 368.9h1v1h-1zM431.3 356.0h1v1h-1zM431.2 363.2h1v1h-1zM431.1 350.7h1v1h-1zM433.4 344.6h1v1h-1zM433.6 344.9h1v1h-1zM426.2 395.4h1v1h-1zM429.7 376.1h1v1h-1zM433.7 351.8h1v1h-1zM432.7 357.9h1v1h-1zM428.9 366.3h1v1h-1zM425.1 394.9h1v1h-1zM433.9 357.5h1v1h-1zM428.7 375.2h1v1h-1zM425.3 378.2h1v1h-1zM429.1 369.3h1v1h-1zM434.0 344.8h1v1h-1zM432.4 353.8h1v1h-1zM430.6 358.7h1v1h-1zM429.1 381.0h1v1h-1zM431.7 351.2h1v1h-1zM435.0 341.3h1v1h-1zM433.3 345.9h1v1h-1zM436.2 346.9h1v1h-1zM434.5 346.7h1v1h-1zM432.6 352.8h1v1h-1zM429.8 367.6h1v1h-1zM429.3 368.1h1v1h-1zM428.6 391.0h1v1h-1zM433.6 349.2h1v1h-1zM435.5 336.8h1v1h-1zM429.3 368.0h1v1h-1zM428.3 390.0h1v1h-1zM431.3 356.4h1v1h-1zM433.2 345.0h1v1h-1zM428.1 374.6h1v1h-1zM431.8 357.3h1v1h-1zM425.6 378.7h1v1h-1zM435.8 340.4h1v1h-1zM429.2 373.9h1v1h-1zM425.7 395.6h1v1h-1zM432.8 346.1h1v1h-1zM430.6 364.5h1v1h-1zM434.9 342.7h1v1h-1zM427.6 376.1h1v1h-1zM430.2 366.9h1v1h-1zM431.1 371.1h1v1h-1zM430.6 360.9h1v1h-1zM433.3 343.2h1v1h-1zM428.6 371.6h1v1h-1zM431.7 348.2h1v1h-1zM433.6 349.1h1v1h-1zM429.3 369.8h1v1h-1zM431.4 359.7h1v1h-1zM431.2 358.0h1v1h-1zM428.5 385.4h1v1h-1zM435.1 349.6h1v1h-1zM430.7 355.0h1v1h-1zM430.3 362.9h1v1h-1zM428.1 369.8h1v1h-1zM425.3 392.8h1v1h-1zM431.6 359.9h1v1h-1zM433.4 355.5h1v1h-1zM427.5 383.6h1v1h-1zM434.4 347.3h1v1h-1zM435.0 341.9h1v1h-1zM433.3 348.2h1v1h-1zM427.1 383.6h1v1h-1zM426.1 384.3h1v1h-1zM429.6 367.3h1v1h-1zM429.0 369.1h1v1h-1zM428.4 368.5h1v1h-1zM435.6 339.9h1v1h-1zM435.8 342.5h1v1h-1zM432.5 354.3h1v1h-1zM431.1 356.4h1v1h-1zM428.7 382.6h1v1h-1zM430.9 356.1h1v1h-1zM432.1 354.3h1v1h-1zM426.1 386.2h1v1h-1zM429.5 371.0h1v1h-1zM428.2 370.9h1v1h-1zM430.4 357.2h1v1h-1zM427.1 378.3h1v1h-1zM431.2 360.1h1v1h-1zM434.0 342.0h1v1h-1zM434.8 346.1h1v1h-1zM428.8 386.1h1v1h-1zM431.4 342.4h1v1h-1zM430.8 361.5h1v1h-1zM427.5 385.6h1v1h-1zM435.1 346.1h1v1h-1zM425.2 372.6h1v1h-1zM434.4 348.5h1v1h-1zM431.2 381.1h1v1h-1zM431.2 350.3h1v1h-1zM428.6 362.8h1v1h-1zM430.0 359.1h1v1h-1zM426.6 366.3h1v1h-1zM431.9 345.7h1v1h-1zM434.1 345.2h1v1h-1zM430.7 360.1h1v1h-1zM428.5 370.4h1v1h-1zM429.3 368.9h1v1h-1zM431.1 357.1h1v1h-1zM429.2 380.7h1v1h-1zM432.5 359.9h1v1h-1zM434.5 338.1h1v1h-1zM436.3 341.8h1v1h-1zM433.1 348.9h1v1h-1zM434.4 347.5h1v1h-1zM430.7 351.4h1v1h-1zM434.0 343.1h1v1h-1zM431.4 352.8h1v1h-1zM432.3 356.7h1v1h-1zM427.3 381.7h1v1h-1zM431.3 361.3h1v1h-1zM427.4 372.6h1v1h-1zM430.2 354.7h1v1h-1zM429.9 368.4h1v1h-1zM431.0 353.8h1v1h-1zM430.8 359.4h1v1h-1zM425.1 394.6h1v1h-1zM425.2 396.8h1v1h-1zM431.9 337.6h1v1h-1zM427.2 377.0h1v1h-1zM427.4 371.3h1v1h-1zM432.3 353.3h1v1h-1zM432.5 348.4h1v1h-1zM427.5 387.3h1v1h-1zM431.1 362.3h1v1h-1zM430.3 353.7h1v1h-1zM434.5 341.8h1v1h-1zM435.5 345.6h1v1h-1zM433.4 351.2h1v1h-1zM428.2 387.1h1v1h-1zM425.4 386.9h1v1h-1zM429.2 366.8h1v1h-1zM432.9 346.2h1v1h-1zM437.1 337.3h1v1h-1zM432.5 356.3h1v1h-1zM432.6 365.4h1v1h-1zM433.6 344.2h1v1h-1zM431.6 363.7h1v1h-1zM432.2 355.7h1v1h-1zM429.9 361.0h1v1h-1zM429.6 376.0h1v1h-1zM426.3 380.7h1v1h-1zM428.4 370.3h1v1h-1zM429.5 363.7h1v1h-1zM427.9 384.0h1v1h-1zM428.6 375.4h1v1h-1zM433.3 341.9h1v1h-1zM432.0 347.2h1v1h-1zM426.1 395.8h1v1h-1zM434.7 346.5h1v1h-1zM428.1 392.3h1v1h-1zM429.9 374.0h1v1h-1zM430.0 366.3h1v1h-1zM429.0 372.5h1v1h-1zM427.6 402.1h1v1h-1zM432.6 347.8h1v1h-1zM425.5 394.8h1v1h-1zM429.9 368.4h1v1h-1zM427.1 401.0h1v1h-1zM429.2 369.6h1v1h-1zM431.7 355.9h1v1h-1zM428.0 380.4h1v1h-1zM432.8 353.7h1v1h-1zM428.8 366.5h1v1h-1zM429.0 356.4h1v1h-1zM429.3 363.9h1v1h-1zM435.5 339.9h1v1h-1zM425.3 383.5h1v1h-1zM433.9 350.3h1v1h-1zM427.8 373.2h1v1h-1zM430.1 364.7h1v1h-1zM425.7 401.7h1v1h-1zM430.4 366.7h1v1h-1zM433.8 341.1h1v1h-1zM425.6 390.0h1v1h-1zM432.4 350.8h1v1h-1zM426.3 390.5h1v1h-1zM427.3 363.9h1v1h-1zM432.7 353.7h1v1h-1zM433.2 348.6h1v1h-1zM435.8 339.8h1v1h-1zM429.4 361.0h1v1h-1zM436.3 341.5h1v1h-1zM428.2 379.7h1v1h-1zM433.0 350.2h1v1h-1zM427.2 379.6h1v1h-1zM426.8 383.4h1v1h-1zM428.8 385.4h1v1h-1z"/>
<path fill="#3f70b0" fill-opacity="0.6" d="M427.0 356.7h1v1h-1zM435.1 340.7h1v1h-1zM436.4 349.1h1v1h-1zM431.1 332.1h1v1h-1zM437.8 338.2h1v1h-1zM437.9 349.7h1v1h-1zM434.0 332.5h1v1h-1zM443.1 348.0h1v1h-1zM441.3 354.4h1v1h-1zM434.2 339.9h1v1h-1zM438.0 348.1h1v1h-1zM435.6 343.0h1v1h-1zM433.5 341.8h1v1h-1zM434.2 341.8h1v1h-1zM433.6 345.8h1v1h-1zM432.8 347.3h1v1h-1zM434.7 342.6h1v1h-1zM435.4 339.7h1v1h-1zM431.4 347.1h1v1h-1zM439.1 341.2h1v1h-1zM425.8 358.0h1v1h-1zM432.1 350.0h1v1h-1zM437.6 348.9h1v1h-1zM437.1 336.0h1v1h-1zM435.9 351.2h1v1h-1zM431.9 345.7h1v1h-1zM432.1 333.9h1v1h-1zM428.1 346.6h1v1h-1zM442.0 356.0h1v1h-1zM433.7 343.4h1v1h-1zM434.6 345.3h1v1h-1zM438.5 350.5h1v1h-1zM432.9 351.1h1v1h-1zM438.7 355.8h1v1h-1zM432.9 347.2h1v1h-1zM434.9 344.3h1v1h-1zM441.1 355.5h1v1h-1zM433.2 346.1h1v1h-1zM438.8 351.0h1v1h-1zM437.2 335.5h1v1h-1zM436.0 350.6h1v1h-1zM434.6 339.6h1v1h-1zM439.2 342.7h1v1h-1zM431.3 334.8h1v1h-1zM432.0 363.4h1v1h-1zM438.1 345.8h1v1h-1zM432.8 343.8h1v1h-1zM438.8 347.3h1v1h-1zM439.5 355.1h1v1h-1zM436.2 347.1h1v1h-1zM434.4 350.3h1v1h-1zM430.6 352.5h1v1h-1zM439.3 350.1h1v1h-1zM433.2 345.5h1v1h-1zM437.2 342.1h1v1h-1zM433.5 347.3h1v1h-1zM434.7 346.9h1v1h-1zM434.8 343.6h1v1h-1zM433.9 345.2h1v1h-1zM437.4 355.2h1v1h-1zM436.8 357.4h1v1h-1zM439.0 347.2h1v1h-1zM432.0 340.0h1v1h-1zM438.6 347.5h1v1h-1zM432.1 345.5h1v1h-1zM440.5 343.4h1v1h-1zM435.3 343.2h1v1h-1zM430.9 351.7h1v1h-1zM428.7 343.0h1v1h-1zM436.2 357.8h1v1h-1z"/>
<path fill="#3a8aa0" fill-opacity="0.65" d="M438.7 361.8h1v1h-1zM435.1 346.0h1v1h-1zM436.1 338.5h1v1h-1zM443.1 389.1h1v1h-1zM438.2 378.4h1v1h-1zM438.7 364.1h1v1h-1zM434.6 344.8h1v1h-1zM438.8 338.6h1v1h-1zM439.1 390.2h1v1h-1zM437.4 348.0h1v1h-1zM440.5 364.5h1v1h-1zM433.5 352.9h1v1h-1zM435.4 338.4h1v1h-1zM433.6 338.7h1v1h-1zM435.7 356.9h1v1h-1zM433.7 338.7h1v1h-1zM444.2 385.3h1v1h-1zM436.6 373.0h1v1h-1zM437.8 365.8h1v1h-1zM444.0 380.8h1v1h-1zM441.6 371.7h1v1h-1zM437.9 346.4h1v1h-1zM438.0 367.8h1v1h-1zM443.8 388.1h1v1h-1zM436.5 339.9h1v1h-1zM437.0 378.2h1v1h-1zM437.8 367.4h1v1h-1zM443.0 368.3h1v1h-1zM437.1 339.9h1v1h-1zM436.0 340.2h1v1h-1zM438.5 367.3h1v1h-1zM434.4 338.6h1v1h-1zM434.4 343.3h1v1h-1zM434.5 345.8h1v1h-1zM437.5 349.4h1v1h-1zM438.5 363.5h1v1h-1zM439.2 357.5h1v1h-1zM438.2 358.5h1v1h-1zM437.3 380.2h1v1h-1zM440.5 368.8h1v1h-1zM439.2 372.8h1v1h-1zM441.1 366.3h1v1h-1zM439.4 353.1h1v1h-1zM440.6 387.9h1v1h-1zM437.1 367.7h1v1h-1zM445.1 387.0h1v1h-1zM441.7 373.7h1v1h-1zM436.4 339.7h1v1h-1zM436.0 346.7h1v1h-1zM438.2 336.9h1v1h-1zM439.1 361.7h1v1h-1zM439.0 377.2h1v1h-1zM435.9 365.9h1v1h-1zM438.2 352.0h1v1h-1zM443.1 358.9h1v1h-1zM441.9 386.7h1v1h-1zM436.0 342.0h1v1h-1zM439.7 353.8h1v1h-1zM439.1 361.6h1v1h-1zM436.6 362.9h1v1h-1zM437.5 382.7h1v1h-1zM440.7 359.2h1v1h-1zM436.5 352.2h1v1h-1zM444.9 387.5h1v1h-1zM440.8 364.7h1v1h-1zM439.3 366.0h1v1h-1zM439.4 371.9h1v1h-1zM438.5 368.5h1v1h-1zM439.6 381.4h1v1h-1zM436.3 352.8h1v1h-1zM435.5 356.5h1v1h-1zM440.6 386.3h1v1h-1zM438.7 350.4h1v1h-1zM437.5 343.5h1v1h-1zM437.0 344.5h1v1h-1zM435.8 364.1h1v1h-1zM439.7 382.8h1v1h-1zM439.9 389.7h1v1h-1zM432.2 347.9h1v1h-1zM438.9 356.7h1v1h-1zM432.2 340.4h1v1h-1zM443.6 371.9h1v1h-1zM440.8 367.8h1v1h-1zM439.4 378.2h1v1h-1zM438.1 345.3h1v1h-1zM440.9 379.4h1v1h-1zM436.4 356.8h1v1h-1zM440.3 370.9h1v1h-1zM437.2 338.8h1v1h-1zM437.7 350.5h1v1h-1zM434.5 339.7h1v1h-1zM441.2 378.1h1v1h-1zM437.4 348.8h1v1h-1zM439.9 389.5h1v1h-1zM440.3 385.3h1v1h-1zM441.1 387.3h1v1h-1zM441.5 359.7h1v1h-1zM437.4 351.6h1v1h-1zM435.3 353.1h1v1h-1zM441.2 392.3h1v1h-1zM442.7 383.6h1v1h-1zM435.7 362.6h1v1h-1zM436.1 356.1h1v1h-1zM438.3 384.3h1v1h-1zM440.5 342.0h1v1h-1zM443.2 383.2h1v1h-1zM440.4 373.9h1v1h-1zM438.2 387.2h1v1h-1zM439.6 374.2h1v1h-1zM435.8 362.4h1v1h-1zM439.6 352.9h1v1h-1zM438.6 348.5h1v1h-1zM435.6 361.7h1v1h-1zM439.2 375.0h1v1h-1zM439.1 352.1h1v1h-1zM435.1 373.7h1v1h-1zM437.7 359.9h1v1h-1zM436.2 369.8h1v1h-1zM439.5 377.9h1v1h-1zM442.5 376.4h1v1h-1zM436.6 342.0h1v1h-1zM436.5 347.5h1v1h-1zM434.4 342.3h1v1h-1zM439.3 348.6h1v1h-1zM442.4 387.9h1v1h-1zM438.9 386.9h1v1h-1zM438.3 372.3h1v1h-1zM438.8 379.9h1v1h-1zM437.4 358.3h1v1h-1zM440.2 380.0h1v1h-1zM438.1 350.9h1v1h-1zM436.6 355.2h1v1h-1zM435.7 344.1h1v1h-1zM440.1 364.2h1v1h-1zM437.4 339.9h1v1h-1zM443.1 389.8h1v1h-1zM434.0 362.5h1v1h-1zM439.4 357.7h1v1h-1zM434.6 351.1h1v1h-1zM430.8 341.1h1v1h-1zM439.0 359.5h1v1h-1zM438.9 355.0h1v1h-1zM439.4 382.4h1v1h-1zM435.1 348.7h1v1h-1zM437.6 344.5h1v1h-1zM438.0 367.2h1v1h-1zM439.8 379.3h1v1h-1zM435.8 340.1h1v1h-1zM437.9 356.3h1v1h-1zM443.3 381.4h1v1h-1zM440.8 342.8h1v1h-1zM433.3 354.6h1v1h-1zM437.0 347.7h1v1h-1zM437.9 371.1h1v1h-1zM433.7 340.9h1v1h-1zM441.6 382.4h1v1h-1zM442.9 383.0h1v1h-1zM437.5 348.9h1v1h-1zM441.7 374.7h1v1h-1zM439.5 385.3h1v1h-1zM438.6 374.8h1v1h-1zM437.0 358.6h1v1h-1zM440.4 388.1h1v1h-1zM435.6 338.5h1v1h-1zM440.7 357.7h1v1h-1zM435.2 369.3h1v1h-1zM440.5 383.1h1v1h-1zM439.4 351.8h1v1h-1zM436.5 356.3h1v1h-1zM442.2 358.7h1v1h-1zM440.8 351.1h1v1h-1zM435.7 361.4h1v1h-1zM439.7 377.0h1v1h-1zM440.6 372.7h1v1h-1zM439.1 374.8h1v1h-1zM438.4 371.1h1v1h-1zM435.6 341.5h1v1h-1zM436.5 377.1h1v1h-1zM442.4 386.5h1v1h-1zM441.2 385.8h1v1h-1zM435.5 344.9h1v1h-1zM438.6 361.4h1v1h-1zM434.9 372.8h1v1h-1zM441.4 380.6h1v1h-1zM435.9 352.5h1v1h-1zM439.8 385.0h1v1h-1zM437.4 363.4h1v1h-1zM435.3 356.1h1v1h-1zM441.1 371.6h1v1h-1zM437.1 351.3h1v1h-1zM438.8 349.3h1v1h-1zM435.6 339.0h1v1h-1zM435.6 345.2h1v1h-1zM444.1 377.3h1v1h-1zM443.7 388.5h1v1h-1zM442.6 385.1h1v1h-1zM441.0 371.3h1v1h-1zM440.7 357.1h1v1h-1zM439.9 364.2h1v1h-1zM439.0 346.1h1v1h-1zM438.2 353.2h1v1h-1zM435.9 355.3h1v1h-1zM440.3 373.0h1v1h-1zM439.6 357.4h1v1h-1zM443.9 370.4h1v1h-1zM444.6 385.9h1v1h-1zM441.1 371.5h1v1h-1zM437.8 359.5h1v1h-1zM439.0 359.5h1v1h-1zM437.2 370.5h1v1h-1zM435.9 342.1h1v1h-1zM437.6 382.4h1v1h-1zM435.9 357.1h1v1h-1zM437.5 376.0h1v1h-1zM436.7 343.0h1v1h-1zM435.2 361.1h1v1h-1zM441.2 378.9h1v1h-1zM438.8 380.4h1v1h-1zM442.1 392.7h1v1h-1zM437.0 369.5h1v1h-1zM441.0 363.3h1v1h-1zM444.7 394.1h1v1h-1zM435.6 389.7h1v1h-1zM441.1 380.4h1v1h-1zM438.0 361.6h1v1h-1zM437.5 355.0h1v1h-1zM439.4 337.6h1v1h-1zM436.8 342.9h1v1h-1zM435.5 339.9h1v1h-1zM437.5 357.5h1v1h-1zM440.2 371.8h1v1h-1zM439.3 355.8h1v1h-1zM437.5 354.2h1v1h-1zM439.1 355.9h1v1h-1zM440.6 362.7h1v1h-1zM442.9 381.4h1v1h-1zM437.5 352.5h1v1h-1zM436.6 341.8h1v1h-1zM434.5 341.8h1v1h-1zM438.1 356.6h1v1h-1zM440.2 390.5h1v1h-1zM438.2 366.6h1v1h-1zM442.2 389.2h1v1h-1zM434.1 352.4h1v1h-1zM437.0 362.1h1v1h-1zM441.2 360.9h1v1h-1zM438.2 379.4h1v1h-1zM442.6 374.6h1v1h-1zM439.6 385.6h1v1h-1zM439.5 365.7h1v1h-1zM439.2 387.0h1v1h-1zM437.8 387.0h1v1h-1zM437.9 377.1h1v1h-1zM437.1 359.7h1v1h-1zM436.8 341.1h1v1h-1zM442.9 384.3h1v1h-1zM436.5 348.4h1v1h-1zM437.8 338.3h1v1h-1zM437.9 365.7h1v1h-1zM437.6 342.1h1v1h-1zM438.9 366.7h1v1h-1zM436.9 363.0h1v1h-1zM436.5 359.3h1v1h-1zM438.6 356.2h1v1h-1zM432.2 340.8h1v1h-1zM438.1 362.8h1v1h-1zM440.2 362.4h1v1h-1zM438.4 378.3h1v1h-1zM437.3 365.1h1v1h-1zM434.2 347.0h1v1h-1zM436.2 375.7h1v1h-1zM438.1 370.8h1v1h-1zM437.4 375.3h1v1h-1zM439.7 354.5h1v1h-1zM439.8 378.7h1v1h-1zM443.0 379.8h1v1h-1zM438.8 364.9h1v1h-1zM432.6 354.6h1v1h-1zM436.9 344.6h1v1h-1zM440.5 389.8h1v1h-1z"/>
<path fill="#4a7ab6" fill-opacity="0.6" d="M457.8 390.8h1v1h-1zM437.2 393.4h1v1h-1zM439.0 397.8h1v1h-1zM438.1 398.3h1v1h-1zM459.3 389.2h1v1h-1zM429.7 397.1h1v1h-1zM436.8 392.9h1v1h-1zM465.5 386.5h1v1h-1zM464.7 392.4h1v1h-1zM446.3 398.2h1v1h-1zM495.6 379.0h1v1h-1zM460.8 391.0h1v1h-1zM472.5 387.3h1v1h-1zM479.8 383.8h1v1h-1zM466.8 388.9h1v1h-1zM463.1 389.5h1v1h-1zM434.4 396.2h1v1h-1zM440.9 395.2h1v1h-1zM444.0 393.3h1v1h-1zM444.4 397.6h1v1h-1zM460.0 390.0h1v1h-1zM460.1 387.8h1v1h-1zM431.3 395.7h1v1h-1zM487.3 383.7h1v1h-1zM435.2 399.3h1v1h-1zM444.3 396.9h1v1h-1zM461.9 386.6h1v1h-1zM471.4 388.8h1v1h-1zM476.9 387.9h1v1h-1zM494.7 378.8h1v1h-1zM458.4 387.2h1v1h-1zM455.2 393.5h1v1h-1zM448.8 394.2h1v1h-1zM445.5 398.1h1v1h-1zM453.1 394.1h1v1h-1zM492.0 382.1h1v1h-1zM449.2 390.9h1v1h-1zM460.0 387.5h1v1h-1zM455.1 391.3h1v1h-1zM489.2 381.1h1v1h-1zM488.4 383.6h1v1h-1zM433.0 393.9h1v1h-1zM450.3 390.2h1v1h-1zM458.4 392.8h1v1h-1zM443.6 395.4h1v1h-1zM430.4 399.6h1v1h-1zM459.1 388.6h1v1h-1zM450.1 389.2h1v1h-1zM434.9 399.2h1v1h-1zM458.2 390.7h1v1h-1zM438.0 394.8h1v1h-1zM472.1 389.5h1v1h-1zM450.0 389.3h1v1h-1zM427.1 404.3h1v1h-1zM476.4 387.5h1v1h-1zM472.4 385.8h1v1h-1zM436.8 393.6h1v1h-1zM462.1 390.0h1v1h-1zM433.6 392.8h1v1h-1zM464.9 390.0h1v1h-1zM471.2 387.2h1v1h-1zM464.2 392.1h1v1h-1zM444.0 390.9h1v1h-1zM446.2 394.7h1v1h-1zM435.3 395.2h1v1h-1zM430.0 396.0h1v1h-1zM447.0 397.3h1v1h-1zM496.3 380.6h1v1h-1zM484.1 384.3h1v1h-1zM437.7 394.5h1v1h-1zM486.0 382.5h1v1h-1zM454.9 394.1h1v1h-1zM427.5 394.6h1v1h-1zM486.4 384.9h1v1h-1zM435.7 398.6h1v1h-1zM465.6 388.5h1v1h-1zM449.6 391.5h1v1h-1zM432.6 399.5h1v1h-1zM431.5 394.8h1v1h-1zM466.7 391.2h1v1h-1zM447.6 393.7h1v1h-1zM429.1 397.9h1v1h-1zM443.7 395.1h1v1h-1zM451.2 396.4h1v1h-1zM492.2 382.7h1v1h-1zM478.0 386.7h1v1h-1zM436.4 394.9h1v1h-1zM457.8 391.0h1v1h-1zM446.9 396.1h1v1h-1zM440.0 393.0h1v1h-1zM476.1 387.8h1v1h-1zM447.4 393.1h1v1h-1zM485.6 385.3h1v1h-1zM448.0 395.0h1v1h-1zM486.3 383.1h1v1h-1zM480.5 387.9h1v1h-1zM450.3 395.4h1v1h-1zM451.9 388.2h1v1h-1zM425.5 399.7h1v1h-1zM474.2 386.6h1v1h-1zM433.0 395.0h1v1h-1zM458.2 393.4h1v1h-1zM441.9 392.2h1v1h-1zM445.0 394.0h1v1h-1zM426.3 399.3h1v1h-1zM491.4 383.9h1v1h-1zM466.6 385.9h1v1h-1zM492.8 382.1h1v1h-1zM437.4 396.1h1v1h-1zM441.4 394.1h1v1h-1zM425.6 400.2h1v1h-1zM490.5 384.1h1v1h-1zM435.9 396.4h1v1h-1zM434.3 395.5h1v1h-1zM431.3 398.4h1v1h-1zM472.8 389.4h1v1h-1zM465.8 389.7h1v1h-1zM474.0 385.8h1v1h-1zM478.8 388.1h1v1h-1zM482.6 383.2h1v1h-1zM427.2 401.7h1v1h-1zM450.8 390.1h1v1h-1zM466.2 387.2h1v1h-1zM471.9 386.4h1v1h-1zM464.2 386.8h1v1h-1zM480.8 386.6h1v1h-1zM451.0 392.4h1v1h-1zM452.5 388.7h1v1h-1zM456.6 390.9h1v1h-1zM492.2 382.3h1v1h-1zM473.1 388.0h1v1h-1zM493.4 380.4h1v1h-1zM438.2 397.9h1v1h-1zM426.2 402.5h1v1h-1zM454.7 392.6h1v1h-1zM441.2 396.9h1v1h-1zM496.2 382.1h1v1h-1zM428.1 400.6h1v1h-1zM489.4 384.3h1v1h-1zM452.4 388.4h1v1h-1zM428.7 390.8h1v1h-1zM449.2 395.2h1v1h-1zM444.9 398.7h1v1h-1zM496.4 376.7h1v1h-1zM438.2 400.9h1v1h-1zM464.3 388.8h1v1h-1zM477.8 385.2h1v1h-1zM437.3 396.8h1v1h-1zM441.1 396.3h1v1h-1zM462.8 392.1h1v1h-1zM445.4 394.3h1v1h-1zM434.5 395.6h1v1h-1zM443.8 395.6h1v1h-1zM466.0 388.5h1v1h-1zM475.0 385.8h1v1h-1zM440.1 395.8h1v1h-1zM479.4 384.8h1v1h-1zM430.9 392.2h1v1h-1zM438.0 395.7h1v1h-1zM448.0 392.7h1v1h-1zM479.8 388.3h1v1h-1zM474.4 389.2h1v1h-1zM454.6 388.7h1v1h-1zM465.9 391.9h1v1h-1zM486.6 386.0h1v1h-1zM476.4 387.9h1v1h-1zM479.8 385.8h1v1h-1zM443.8 395.9h1v1h-1zM477.2 384.2h1v1h-1zM466.3 386.5h1v1h-1zM459.4 389.3h1v1h-1zM442.0 397.5h1v1h-1zM492.5 380.9h1v1h-1zM471.6 384.9h1v1h-1zM464.6 389.5h1v1h-1zM468.7 391.8h1v1h-1zM480.9 383.3h1v1h-1zM430.1 397.8h1v1h-1zM458.8 390.9h1v1h-1zM473.8 387.3h1v1h-1zM484.8 383.2h1v1h-1zM450.8 393.3h1v1h-1zM429.3 397.7h1v1h-1zM477.9 386.4h1v1h-1zM457.2 391.5h1v1h-1zM430.5 398.2h1v1h-1zM438.3 393.3h1v1h-1zM471.3 387.5h1v1h-1zM427.0 401.2h1v1h-1zM458.6 390.2h1v1h-1zM478.3 384.9h1v1h-1zM464.1 390.5h1v1h-1zM441.7 398.7h1v1h-1zM452.7 390.1h1v1h-1zM429.4 398.7h1v1h-1zM469.3 391.9h1v1h-1zM469.0 391.5h1v1h-1zM433.6 396.4h1v1h-1zM443.1 392.4h1v1h-1zM434.8 400.2h1v1h-1zM433.6 398.0h1v1h-1zM446.2 394.2h1v1h-1zM429.4 397.8h1v1h-1zM436.8 394.4h1v1h-1zM432.3 397.7h1v1h-1zM462.0 390.0h1v1h-1zM476.6 384.5h1v1h-1zM432.6 397.2h1v1h-1zM454.2 394.9h1v1h-1zM462.4 389.9h1v1h-1zM483.0 384.4h1v1h-1zM475.0 385.5h1v1h-1zM436.4 397.9h1v1h-1zM448.5 393.7h1v1h-1zM444.8 394.1h1v1h-1zM474.9 384.8h1v1h-1zM477.8 384.3h1v1h-1zM428.0 398.6h1v1h-1zM427.2 394.6h1v1h-1zM440.3 390.8h1v1h-1zM456.4 392.0h1v1h-1zM466.5 390.2h1v1h-1zM476.2 385.1h1v1h-1zM448.0 391.8h1v1h-1zM450.1 392.7h1v1h-1zM458.5 394.6h1v1h-1zM461.6 392.2h1v1h-1zM454.5 392.8h1v1h-1zM461.3 390.0h1v1h-1zM451.0 394.8h1v1h-1zM487.9 384.3h1v1h-1zM443.4 388.8h1v1h-1zM462.9 388.7h1v1h-1zM484.5 385.2h1v1h-1zM432.7 395.1h1v1h-1zM456.6 390.0h1v1h-1zM447.6 391.9h1v1h-1zM453.3 390.9h1v1h-1zM488.0 384.5h1v1h-1zM465.4 389.6h1v1h-1zM452.1 395.5h1v1h-1zM445.3 396.1h1v1h-1zM443.8 393.7h1v1h-1zM459.8 388.8h1v1h-1zM443.5 399.1h1v1h-1zM472.6 387.2h1v1h-1zM493.1 384.4h1v1h-1zM436.2 396.4h1v1h-1zM456.3 391.9h1v1h-1zM438.9 393.3h1v1h-1zM478.0 386.0h1v1h-1zM441.0 396.1h1v1h-1zM465.7 386.3h1v1h-1zM456.6 394.2h1v1h-1zM437.9 396.1h1v1h-1zM429.1 399.0h1v1h-1zM470.8 388.1h1v1h-1zM432.0 394.8h1v1h-1zM458.0 388.8h1v1h-1zM457.4 390.1h1v1h-1zM437.0 399.6h1v1h-1zM443.3 394.5h1v1h-1zM468.3 389.0h1v1h-1zM456.2 393.6h1v1h-1zM460.9 391.2h1v1h-1zM461.7 387.0h1v1h-1zM434.8 405.4h1v1h-1zM434.4 399.4h1v1h-1zM450.0 392.5h1v1h-1zM446.9 393.5h1v1h-1zM426.4 402.3h1v1h-1zM441.2 391.4h1v1h-1zM429.9 397.5h1v1h-1zM451.9 399.1h1v1h-1zM482.5 385.4h1v1h-1zM434.7 398.4h1v1h-1zM452.5 389.3h1v1h-1zM456.1 392.6h1v1h-1zM457.1 389.1h1v1h-1zM481.8 384.0h1v1h-1zM458.2 388.6h1v1h-1zM426.7 401.3h1v1h-1zM457.8 389.7h1v1h-1zM461.6 387.6h1v1h-1zM445.8 391.2h1v1h-1zM465.3 387.9h1v1h-1zM487.0 383.3h1v1h-1zM480.9 384.4h1v1h-1zM464.8 391.0h1v1h-1zM428.1 398.5h1v1h-1zM489.3 381.3h1v1h-1zM427.3 394.7h1v1h-1zM478.2 388.4h1v1h-1zM432.8 400.8h1v1h-1zM471.5 387.5h1v1h-1zM459.7 391.0h1v1h-1zM451.1 395.6h1v1h-1zM460.8 388.2h1v1h-1zM426.9 399.7h1v1h-1zM485.7 383.1h1v1h-1z"/>
<path fill="#2f78a8" fill-opacity="0.7" d="M443.3 391.6h1v1h-1zM441.9 394.0h1v1h-1zM434.9 397.1h1v1h-1zM444.0 392.0h1v1h-1zM433.1 394.6h1v1h-1zM432.7 395.9h1v1h-1zM436.8 396.7h1v1h-1zM429.3 396.7h1v1h-1zM441.9 392.3h1v1h-1zM427.9 399.0h1v1h-1zM441.9 396.7h1v1h-1zM439.4 393.7h1v1h-1zM428.6 398.3h1v1h-1zM426.9 397.4h1v1h-1zM427.9 397.1h1v1h-1zM429.8 398.3h1v1h-1zM439.1 393.2h1v1h-1zM431.6 395.3h1v1h-1zM441.5 396.5h1v1h-1zM435.6 392.2h1v1h-1zM435.3 393.7h1v1h-1zM434.1 394.9h1v1h-1zM438.4 392.5h1v1h-1zM436.5 398.0h1v1h-1zM443.4 393.4h1v1h-1zM442.4 395.7h1v1h-1zM440.3 394.6h1v1h-1zM432.6 397.6h1v1h-1zM426.3 395.9h1v1h-1zM432.5 394.6h1v1h-1zM437.3 396.5h1v1h-1zM441.5 397.5h1v1h-1zM431.6 395.8h1v1h-1zM432.8 396.3h1v1h-1zM432.8 395.1h1v1h-1zM432.7 398.5h1v1h-1zM432.9 393.1h1v1h-1zM438.1 394.5h1v1h-1zM442.6 393.2h1v1h-1zM444.7 393.8h1v1h-1zM434.9 396.6h1v1h-1zM431.0 395.5h1v1h-1zM443.9 391.7h1v1h-1zM441.5 395.4h1v1h-1zM432.5 397.4h1v1h-1zM440.9 393.3h1v1h-1zM427.2 392.9h1v1h-1zM434.2 392.9h1v1h-1zM426.9 398.0h1v1h-1zM443.0 393.9h1v1h-1zM444.7 395.3h1v1h-1zM444.3 393.0h1v1h-1zM437.1 399.0h1v1h-1zM437.8 396.6h1v1h-1zM427.8 399.8h1v1h-1zM436.9 393.9h1v1h-1zM428.9 392.9h1v1h-1zM445.0 390.1h1v1h-1zM434.3 397.7h1v1h-1zM429.9 393.6h1v1h-1zM436.2 395.3h1v1h-1zM444.8 398.9h1v1h-1zM442.6 395.0h1v1h-1zM440.2 396.4h1v1h-1zM444.4 396.6h1v1h-1zM430.5 396.0h1v1h-1zM445.3 393.5h1v1h-1zM426.7 399.2h1v1h-1zM439.8 391.0h1v1h-1zM435.2 397.2h1v1h-1zM428.5 399.5h1v1h-1zM438.2 396.1h1v1h-1zM428.6 396.6h1v1h-1zM445.3 391.1h1v1h-1zM431.7 394.4h1v1h-1zM433.0 398.5h1v1h-1zM429.6 401.1h1v1h-1zM439.6 396.0h1v1h-1zM441.1 394.5h1v1h-1zM432.8 396.3h1v1h-1zM438.5 397.3h1v1h-1zM432.2 395.8h1v1h-1zM435.6 392.3h1v1h-1zM434.9 393.2h1v1h-1zM436.7 396.6h1v1h-1zM435.6 397.9h1v1h-1zM428.5 400.9h1v1h-1zM433.1 396.5h1v1h-1zM434.0 396.1h1v1h-1zM441.4 393.3h1v1h-1zM429.8 402.7h1v1h-1zM441.7 392.8h1v1h-1zM434.0 397.7h1v1h-1zM440.3 395.9h1v1h-1zM440.4 393.1h1v1h-1zM433.5 395.2h1v1h-1zM430.8 397.2h1v1h-1zM439.3 391.4h1v1h-1zM436.2 397.5h1v1h-1zM441.2 397.9h1v1h-1zM429.2 399.5h1v1h-1zM435.2 398.7h1v1h-1zM435.8 398.3h1v1h-1zM429.9 395.1h1v1h-1zM426.6 399.4h1v1h-1zM434.9 396.2h1v1h-1zM435.6 398.0h1v1h-1zM443.8 393.0h1v1h-1zM437.1 392.4h1v1h-1zM433.0 398.1h1v1h-1zM431.4 397.2h1v1h-1zM437.8 395.7h1v1h-1zM430.9 398.4h1v1h-1zM437.0 397.3h1v1h-1zM444.0 391.1h1v1h-1zM438.0 396.3h1v1h-1zM431.7 394.1h1v1h-1zM434.4 395.9h1v1h-1zM431.9 400.0h1v1h-1zM436.5 394.9h1v1h-1zM428.7 398.1h1v1h-1zM441.3 394.4h1v1h-1zM437.6 396.1h1v1h-1zM426.5 398.1h1v1h-1zM441.3 397.1h1v1h-1zM442.9 392.1h1v1h-1zM445.0 393.8h1v1h-1zM434.2 394.8h1v1h-1zM432.7 399.3h1v1h-1zM445.5 394.4h1v1h-1z"/>
<path fill="#2a9a90" fill-opacity="0.7" d="M439.5 393.5h1v1h-1zM437.6 392.9h1v1h-1zM426.9 395.7h1v1h-1zM430.2 395.6h1v1h-1zM434.7 394.4h1v1h-1zM440.7 394.0h1v1h-1zM435.4 397.1h1v1h-1zM429.4 397.0h1v1h-1zM430.5 397.9h1v1h-1zM430.9 394.9h1v1h-1zM431.8 395.8h1v1h-1zM428.7 399.1h1v1h-1zM427.8 398.7h1v1h-1zM432.1 396.9h1v1h-1zM438.5 395.3h1v1h-1zM434.0 395.9h1v1h-1zM427.5 398.0h1v1h-1zM430.8 399.2h1v1h-1zM440.7 392.7h1v1h-1zM439.5 395.6h1v1h-1zM438.3 395.1h1v1h-1zM431.3 395.6h1v1h-1zM426.8 395.9h1v1h-1zM435.6 395.0h1v1h-1zM427.3 398.6h1v1h-1zM439.4 394.2h1v1h-1zM437.1 394.8h1v1h-1zM441.4 394.2h1v1h-1zM438.5 393.8h1v1h-1zM436.0 397.5h1v1h-1zM440.4 393.5h1v1h-1zM434.1 394.6h1v1h-1zM427.0 398.1h1v1h-1zM430.1 394.1h1v1h-1zM438.1 393.4h1v1h-1zM434.1 393.9h1v1h-1zM432.9 397.8h1v1h-1zM427.1 396.8h1v1h-1zM429.1 398.2h1v1h-1zM437.7 396.3h1v1h-1z"/>
<path fill="#3a8f8a" fill-opacity="0.7" d="M426.4 397.8h1v1h-1zM427.5 402.7h1v1h-1zM426.4 400.7h1v1h-1zM425.5 400.3h1v1h-1zM428.3 395.5h1v1h-1zM425.8 402.7h1v1h-1zM424.8 401.0h1v1h-1zM424.2 404.5h1v1h-1zM428.0 394.8h1v1h-1zM424.3 396.4h1v1h-1zM425.1 403.9h1v1h-1zM425.2 401.4h1v1h-1zM425.3 401.9h1v1h-1zM426.7 394.5h1v1h-1zM427.7 400.1h1v1h-1zM427.1 400.3h1v1h-1zM426.1 395.7h1v1h-1zM426.0 396.6h1v1h-1zM425.6 403.6h1v1h-1zM426.3 395.2h1v1h-1zM426.1 398.8h1v1h-1zM426.0 399.1h1v1h-1zM425.0 404.2h1v1h-1zM424.6 398.7h1v1h-1zM427.3 399.9h1v1h-1zM424.5 398.7h1v1h-1zM427.8 394.7h1v1h-1zM427.8 402.1h1v1h-1zM427.2 395.3h1v1h-1zM425.2 397.6h1v1h-1zM424.9 399.3h1v1h-1zM427.1 402.2h1v1h-1zM426.0 400.5h1v1h-1zM424.7 401.7h1v1h-1zM427.4 402.7h1v1h-1zM424.7 402.2h1v1h-1zM425.3 401.3h1v1h-1zM426.1 399.5h1v1h-1zM424.8 398.0h1v1h-1zM425.7 403.9h1v1h-1zM425.6 394.6h1v1h-1zM424.2 400.0h1v1h-1zM426.7 399.2h1v1h-1zM426.3 393.8h1v1h-1zM426.7 399.5h1v1h-1zM427.4 396.3h1v1h-1zM424.9 400.2h1v1h-1zM426.9 401.5h1v1h-1zM424.8 399.3h1v1h-1zM427.6 399.6h1v1h-1zM425.5 397.1h1v1h-1zM426.6 400.3h1v1h-1zM427.9 396.9h1v1h-1zM425.9 401.4h1v1h-1zM426.1 398.9h1v1h-1zM426.3 404.6h1v1h-1zM428.5 398.6h1v1h-1zM426.7 404.1h1v1h-1zM425.8 396.7h1v1h-1zM425.5 396.0h1v1h-1zM425.9 397.5h1v1h-1zM426.5 393.5h1v1h-1zM425.7 396.1h1v1h-1zM425.0 399.8h1v1h-1zM426.8 406.1h1v1h-1zM426.2 400.3h1v1h-1zM426.4 401.1h1v1h-1zM425.0 395.1h1v1h-1zM425.8 395.2h1v1h-1zM425.3 397.8h1v1h-1z"/>
<path fill="#c0c040" fill-opacity="0.85" d="M425.5 403.9h1v1h-1zM425.2 399.7h1v1h-1zM426.4 398.2h1v1h-1zM425.3 402.8h1v1h-1zM427.4 399.0h1v1h-1zM427.2 399.2h1v1h-1zM425.8 402.6h1v1h-1zM425.7 404.8h1v1h-1zM426.3 399.9h1v1h-1zM426.7 399.5h1v1h-1zM426.9 401.3h1v1h-1zM425.9 395.1h1v1h-1zM426.6 399.1h1v1h-1zM425.3 403.8h1v1h-1zM427.1 399.5h1v1h-1zM425.5 399.3h1v1h-1zM425.9 402.5h1v1h-1zM426.2 401.4h1v1h-1zM425.0 399.2h1v1h-1zM426.7 400.0h1v1h-1zM426.8 398.2h1v1h-1zM425.9 400.5h1v1h-1zM426.2 397.4h1v1h-1zM425.6 398.1h1v1h-1zM426.6 397.1h1v1h-1zM426.6 401.3h1v1h-1zM427.5 398.8h1v1h-1zM425.0 397.9h1v1h-1zM426.3 396.3h1v1h-1zM426.2 398.9h1v1h-1z"/>
<path fill="#9ad040" fill-opacity="0.75" d="M441.4 392.0h1v1h-1zM441.0 392.7h1v1h-1zM440.6 395.2h1v1h-1zM440.7 391.0h1v1h-1zM442.6 390.6h1v1h-1zM442.1 387.8h1v1h-1zM439.6 390.6h1v1h-1zM444.3 390.6h1v1h-1zM441.7 393.2h1v1h-1zM440.0 391.9h1v1h-1zM441.8 390.4h1v1h-1zM440.7 392.2h1v1h-1zM443.1 389.0h1v1h-1zM442.6 388.8h1v1h-1zM443.5 395.7h1v1h-1zM442.1 393.5h1v1h-1zM441.5 391.6h1v1h-1zM443.5 394.0h1v1h-1zM441.4 390.1h1v1h-1zM442.4 389.9h1v1h-1zM441.7 395.2h1v1h-1zM440.6 390.4h1v1h-1zM440.3 393.4h1v1h-1zM440.2 391.6h1v1h-1zM441.5 387.0h1v1h-1zM441.4 390.6h1v1h-1zM439.6 391.1h1v1h-1zM444.8 390.0h1v1h-1zM440.8 388.9h1v1h-1zM441.9 388.8h1v1h-1zM440.9 390.9h1v1h-1zM441.7 390.8h1v1h-1zM444.1 387.5h1v1h-1zM440.9 393.8h1v1h-1zM442.5 389.7h1v1h-1zM441.2 388.3h1v1h-1zM439.1 390.4h1v1h-1zM443.4 387.8h1v1h-1zM440.6 392.2h1v1h-1zM440.3 395.0h1v1h-1z"/>
<path fill="#9ab0d0" fill-opacity="0.5" d="M412.5 405.1h1v1h-1zM416.4 429.2h1v1h-1zM411.4 401.7h1v1h-1zM412.5 408.0h1v1h-1zM417.7 409.2h1v1h-1zM425.6 406.6h1v1h-1zM412.8 400.1h1v1h-1zM430.9 416.4h1v1h-1zM431.1 414.8h1v1h-1zM428.9 421.9h1v1h-1zM427.5 411.3h1v1h-1zM428.3 419.0h1v1h-1zM413.5 405.6h1v1h-1zM416.8 406.1h1v1h-1zM420.1 407.6h1v1h-1zM418.2 402.1h1v1h-1z"/>
<text x="81.5" y="448.8" font-size="12.4" textLength="51.5" lengthAdjust="spacingAndGlyphs" stroke="#000">Cyclin A2</text>
<text x="133.8" y="445" font-size="7.8" textLength="10.5" lengthAdjust="spacingAndGlyphs" stroke="#000">flox</text>
<text x="193.75" y="448.8" font-size="12.4" textLength="50.5" lengthAdjust="spacingAndGlyphs" stroke="#000">Cyclin A2</text>
<text x="244.8" y="445" font-size="7.8" textLength="12" lengthAdjust="spacingAndGlyphs" stroke="#000">null</text>
<text x="290.5" y="448.8" font-size="12.4" textLength="26.5" lengthAdjust="spacingAndGlyphs" stroke="#000">Cdk2</text>
<text x="317.5" y="445" font-size="7.8" textLength="11" lengthAdjust="spacingAndGlyphs" stroke="#000">null</text>
<text x="332" y="448.8" font-size="12.4" textLength="42.3" lengthAdjust="spacingAndGlyphs" stroke="#000">cyclin A2</text>
<text x="374.8" y="445" font-size="7.8" textLength="12" lengthAdjust="spacingAndGlyphs" stroke="#000">flox</text>
<text x="401.3" y="448.8" font-size="12.4" textLength="26.5" lengthAdjust="spacingAndGlyphs" stroke="#000">Cdk2</text>
<text x="428.3" y="445" font-size="7.8" textLength="11" lengthAdjust="spacingAndGlyphs" stroke="#000">null</text>
<text x="442.3" y="448.8" font-size="12.4" textLength="45" lengthAdjust="spacingAndGlyphs" stroke="#000">cyclin A2</text>
<text x="488" y="445" font-size="7.8" textLength="12" lengthAdjust="spacingAndGlyphs" stroke="#000">null</text>
<text x="19.5" y="476.3" font-size="16.5" font-weight="bold" textLength="11.8" lengthAdjust="spacingAndGlyphs" stroke="#000">D</text>
<text x="30" y="631" font-size="11.5" textLength="120" lengthAdjust="spacingAndGlyphs" stroke="#000" transform="rotate(-90 30 631)">Cumulative cell number</text>
<line x1="37.6" y1="631.25" x2="37.6" y2="568" stroke="#000" stroke-width="1.1" />
<polyline points="33.2,574 37.6,568 42,574" stroke="#000" stroke-width="1.1" fill="none" />
<line x1="37.6" y1="631.25" x2="100" y2="631.25" stroke="#000" stroke-width="1.1" />
<polyline points="94.5,626.5 100,631.25 94.5,636" stroke="#000" stroke-width="1.1" fill="none" />
<text x="105" y="635.2" font-size="11.5" textLength="48" lengthAdjust="spacingAndGlyphs" stroke="#000">Passages</text>
<rect x="63" y="462.7" width="204.5" height="147.1" fill="none" stroke="#000" stroke-width="2.2" />
<line x1="71.2" y1="609.8" x2="71.2" y2="612.8" stroke="#000" stroke-width="1.4" />
<text x="71.2" y="624.2" font-size="10" font-weight="bold" text-anchor="middle" stroke="#000">2</text>
<line x1="98.2" y1="609.8" x2="98.2" y2="612.8" stroke="#000" stroke-width="1.4" />
<text x="98.2" y="624.2" font-size="10" font-weight="bold" text-anchor="middle" stroke="#000">6</text>
<line x1="125.2" y1="609.8" x2="125.2" y2="612.8" stroke="#000" stroke-width="1.4" />
<text x="125.2" y="624.2" font-size="10" font-weight="bold" text-anchor="middle" stroke="#000">10</text>
<line x1="152.2" y1="609.8" x2="152.2" y2="612.8" stroke="#000" stroke-width="1.4" />
<text x="152.2" y="624.2" font-size="10" font-weight="bold" text-anchor="middle" stroke="#000">14</text>
<line x1="179.2" y1="609.8" x2="179.2" y2="612.8" stroke="#000" stroke-width="1.4" />
<text x="179.2" y="624.2" font-size="10" font-weight="bold" text-anchor="middle" stroke="#000">18</text>
<line x1="206.2" y1="609.8" x2="206.2" y2="612.8" stroke="#000" stroke-width="1.4" />
<text x="206.2" y="624.2" font-size="10" font-weight="bold" text-anchor="middle" stroke="#000">22</text>
<line x1="233.2" y1="609.8" x2="233.2" y2="612.8" stroke="#000" stroke-width="1.4" />
<text x="233.2" y="624.2" font-size="10" font-weight="bold" text-anchor="middle" stroke="#000">26</text>
<line x1="260.2" y1="609.8" x2="260.2" y2="612.8" stroke="#000" stroke-width="1.4" />
<text x="260.2" y="624.2" font-size="10" font-weight="bold" text-anchor="middle" stroke="#000">30</text>
<line x1="60.2" y1="497.9" x2="63" y2="497.9" stroke="#000" stroke-width="1.6" />
<text x="58" y="497.3" font-size="6.6" font-weight="bold" text-anchor="end" textLength="5.1" lengthAdjust="spacingAndGlyphs" stroke="#000">16</text>
<text x="51.9" y="501.9" font-size="10" font-weight="bold" text-anchor="end" textLength="10.4" lengthAdjust="spacingAndGlyphs" stroke="#000">10</text>
<line x1="60.2" y1="535.1" x2="63" y2="535.1" stroke="#000" stroke-width="1.6" />
<text x="58" y="534.5" font-size="6.6" font-weight="bold" text-anchor="end" textLength="5.1" lengthAdjust="spacingAndGlyphs" stroke="#000">12</text>
<text x="51.9" y="539.1" font-size="10" font-weight="bold" text-anchor="end" textLength="10.4" lengthAdjust="spacingAndGlyphs" stroke="#000">10</text>
<line x1="60.2" y1="572.5" x2="63" y2="572.5" stroke="#000" stroke-width="1.6" />
<text x="58" y="571.9" font-size="6.6" font-weight="bold" text-anchor="end" textLength="2.6" lengthAdjust="spacingAndGlyphs" stroke="#000">8</text>
<text x="54.4" y="576.5" font-size="10" font-weight="bold" text-anchor="end" textLength="10.4" lengthAdjust="spacingAndGlyphs" stroke="#000">10</text>
<line x1="60.2" y1="609.5" x2="63" y2="609.5" stroke="#000" stroke-width="1.6" />
<text x="58" y="608.9" font-size="6.6" font-weight="bold" text-anchor="end" textLength="2.6" lengthAdjust="spacingAndGlyphs" stroke="#000">4</text>
<text x="54.4" y="613.5" font-size="10" font-weight="bold" text-anchor="end" textLength="10.4" lengthAdjust="spacingAndGlyphs" stroke="#000">10</text>
<polyline points="71.2,603.6 77.95,596.1 84.7,592.1 91.45,589.5 98.2,588.5 104.95,588.1 111.7,588.1 118.45,587.5 125.2,587.5 131.95,586.4 138.7,585.4 145.45,584.4 152.2,582.8 158.95,579.4 165.7,574.3 172.45,570 179.2,563.5 185.95,556.9 192.7,549.8 199.45,543.8 206.2,537.3 212.95,530.6 219.7,522.6 226.45,513.5 233.2,505.4 239.95,497.3 246.7,489.2 253.45,480.8 260.2,471.1" stroke="#3a58a8" stroke-width="1.6" fill="none" />
<rect x="68.85" y="601.25" width="4.7" height="4.7" fill="#3a58a8" />
<rect x="75.6" y="593.75" width="4.7" height="4.7" fill="#3a58a8" />
<rect x="82.35" y="589.75" width="4.7" height="4.7" fill="#3a58a8" />
<rect x="89.1" y="587.15" width="4.7" height="4.7" fill="#3a58a8" />
<rect x="95.85" y="586.15" width="4.7" height="4.7" fill="#3a58a8" />
<rect x="102.6" y="585.75" width="4.7" height="4.7" fill="#3a58a8" />
<rect x="109.35" y="585.75" width="4.7" height="4.7" fill="#3a58a8" />
<rect x="116.1" y="585.15" width="4.7" height="4.7" fill="#3a58a8" />
<rect x="122.85" y="585.15" width="4.7" height="4.7" fill="#3a58a8" />
<rect x="129.6" y="584.05" width="4.7" height="4.7" fill="#3a58a8" />
<rect x="136.35" y="583.05" width="4.7" height="4.7" fill="#3a58a8" />
<rect x="143.1" y="582.05" width="4.7" height="4.7" fill="#3a58a8" />
<rect x="149.85" y="580.45" width="4.7" height="4.7" fill="#3a58a8" />
<rect x="156.6" y="577.05" width="4.7" height="4.7" fill="#3a58a8" />
<rect x="163.35" y="571.95" width="4.7" height="4.7" fill="#3a58a8" />
<rect x="170.1" y="567.65" width="4.7" height="4.7" fill="#3a58a8" />
<rect x="176.85" y="561.15" width="4.7" height="4.7" fill="#3a58a8" />
<rect x="183.6" y="554.55" width="4.7" height="4.7" fill="#3a58a8" />
<rect x="190.35" y="547.45" width="4.7" height="4.7" fill="#3a58a8" />
<rect x="197.1" y="541.45" width="4.7" height="4.7" fill="#3a58a8" />
<rect x="203.85" y="534.95" width="4.7" height="4.7" fill="#3a58a8" />
<rect x="210.6" y="528.25" width="4.7" height="4.7" fill="#3a58a8" />
<rect x="217.35" y="520.25" width="4.7" height="4.7" fill="#3a58a8" />
<rect x="224.1" y="511.15" width="4.7" height="4.7" fill="#3a58a8" />
<rect x="230.85" y="503.05" width="4.7" height="4.7" fill="#3a58a8" />
<rect x="237.6" y="494.95" width="4.7" height="4.7" fill="#3a58a8" />
<rect x="244.35" y="486.85" width="4.7" height="4.7" fill="#3a58a8" />
<rect x="251.1" y="478.45" width="4.7" height="4.7" fill="#3a58a8" />
<rect x="257.85" y="468.75" width="4.7" height="4.7" fill="#3a58a8" />
<polyline points="71.2,603.6 77.95,597.6 84.7,593.5 91.45,591.5 98.2,590.5 104.95,590.5 111.7,590.9 118.45,590.9 125.2,590.1 131.95,588.5 138.7,586.9 145.45,585.4 152.2,583.4 158.95,582.4 165.7,581.1 172.45,575.7 179.2,571 185.95,565 192.7,559.9 199.45,554.9 206.2,549.8 212.95,545.4 219.7,539.7 226.45,534.1 233.2,528.6 239.95,522.6 246.7,516.5 253.45,510.4 260.2,503.8" stroke="#20954c" stroke-width="1.6" fill="none" />
<polygon points="71.2,600.56 74.25,606.07 68.16,606.07" fill="#20954c" />
<polygon points="77.95,594.56 81,600.07 74.91,600.07" fill="#20954c" />
<polygon points="84.7,590.46 87.75,595.97 81.66,595.97" fill="#20954c" />
<polygon points="91.45,588.46 94.5,593.97 88.41,593.97" fill="#20954c" />
<polygon points="98.2,587.46 101.25,592.97 95.16,592.97" fill="#20954c" />
<polygon points="104.95,587.46 108,592.97 101.91,592.97" fill="#20954c" />
<polygon points="111.7,587.86 114.75,593.37 108.66,593.37" fill="#20954c" />
<polygon points="118.45,587.86 121.5,593.37 115.41,593.37" fill="#20954c" />
<polygon points="125.2,587.06 128.25,592.57 122.16,592.57" fill="#20954c" />
<polygon points="131.95,585.46 134.99,590.97 128.91,590.97" fill="#20954c" />
<polygon points="138.7,583.86 141.74,589.37 135.66,589.37" fill="#20954c" />
<polygon points="145.45,582.36 148.49,587.87 142.41,587.87" fill="#20954c" />
<polygon points="152.2,580.36 155.24,585.87 149.16,585.87" fill="#20954c" />
<polygon points="158.95,579.36 161.99,584.87 155.91,584.87" fill="#20954c" />
<polygon points="165.7,578.06 168.74,583.57 162.66,583.57" fill="#20954c" />
<polygon points="172.45,572.66 175.49,578.17 169.41,578.17" fill="#20954c" />
<polygon points="179.2,567.96 182.24,573.47 176.16,573.47" fill="#20954c" />
<polygon points="185.95,561.96 188.99,567.47 182.91,567.47" fill="#20954c" />
<polygon points="192.7,556.86 195.74,562.37 189.66,562.37" fill="#20954c" />
<polygon points="199.45,551.86 202.49,557.37 196.41,557.37" fill="#20954c" />
<polygon points="206.2,546.75 209.24,552.26 203.16,552.26" fill="#20954c" />
<polygon points="212.95,542.36 215.99,547.87 209.91,547.87" fill="#20954c" />
<polygon points="219.7,536.66 222.74,542.17 216.66,542.17" fill="#20954c" />
<polygon points="226.45,531.06 229.49,536.57 223.41,536.57" fill="#20954c" />
<polygon points="233.2,525.56 236.24,531.07 230.16,531.07" fill="#20954c" />
<polygon points="239.95,519.56 242.99,525.07 236.91,525.07" fill="#20954c" />
<polygon points="246.7,513.46 249.74,518.97 243.66,518.97" fill="#20954c" />
<polygon points="253.45,507.35 256.5,512.87 250.41,512.87" fill="#20954c" />
<polygon points="260.2,500.75 263.25,506.26 257.15,506.26" fill="#20954c" />
<polyline points="71.2,603.6 77.95,596.5 84.7,590.5 91.45,585.4 98.2,581.4 104.95,578.4 111.7,577 118.45,575.9 125.2,574.7 131.95,572.3 138.7,570.3 145.45,567.9 152.2,564.6 158.95,561.2 165.7,557.2 172.45,552.8 179.2,547.8 185.95,541.7 192.7,536.7 199.45,532.7 206.2,527.6 212.95,522.6 219.7,517.9 226.45,513.1 233.2,507.4 239.95,502.4 246.7,497.3 253.45,491.3 260.2,485.6" stroke="#000000" stroke-width="1.6" fill="none" />
<polygon points="71.2,600.3 74.5,603.6 71.2,606.9 67.9,603.6" fill="#000000" />
<polygon points="77.95,593.2 81.25,596.5 77.95,599.8 74.65,596.5" fill="#000000" />
<polygon points="84.7,587.2 88,590.5 84.7,593.8 81.4,590.5" fill="#000000" />
<polygon points="91.45,582.1 94.75,585.4 91.45,588.7 88.15,585.4" fill="#000000" />
<polygon points="98.2,578.1 101.5,581.4 98.2,584.7 94.9,581.4" fill="#000000" />
<polygon points="104.95,575.1 108.25,578.4 104.95,581.7 101.65,578.4" fill="#000000" />
<polygon points="111.7,573.7 115,577 111.7,580.3 108.4,577" fill="#000000" />
<polygon points="118.45,572.6 121.75,575.9 118.45,579.2 115.15,575.9" fill="#000000" />
<polygon points="125.2,571.4 128.5,574.7 125.2,578 121.9,574.7" fill="#000000" />
<polygon points="131.95,569 135.25,572.3 131.95,575.6 128.65,572.3" fill="#000000" />
<polygon points="138.7,567 142,570.3 138.7,573.6 135.4,570.3" fill="#000000" />
<polygon points="145.45,564.6 148.75,567.9 145.45,571.2 142.15,567.9" fill="#000000" />
<polygon points="152.2,561.3 155.5,564.6 152.2,567.9 148.9,564.6" fill="#000000" />
<polygon points="158.95,557.9 162.25,561.2 158.95,564.5 155.65,561.2" fill="#000000" />
<polygon points="165.7,553.9 169,557.2 165.7,560.5 162.4,557.2" fill="#000000" />
<polygon points="172.45,549.5 175.75,552.8 172.45,556.1 169.15,552.8" fill="#000000" />
<polygon points="179.2,544.5 182.5,547.8 179.2,551.1 175.9,547.8" fill="#000000" />
<polygon points="185.95,538.4 189.25,541.7 185.95,545 182.65,541.7" fill="#000000" />
<polygon points="192.7,533.4 196,536.7 192.7,540 189.4,536.7" fill="#000000" />
<polygon points="199.45,529.4 202.75,532.7 199.45,536 196.15,532.7" fill="#000000" />
<polygon points="206.2,524.3 209.5,527.6 206.2,530.9 202.9,527.6" fill="#000000" />
<polygon points="212.95,519.3 216.25,522.6 212.95,525.9 209.65,522.6" fill="#000000" />
<polygon points="219.7,514.6 223,517.9 219.7,521.2 216.4,517.9" fill="#000000" />
<polygon points="226.45,509.8 229.75,513.1 226.45,516.4 223.15,513.1" fill="#000000" />
<polygon points="233.2,504.1 236.5,507.4 233.2,510.7 229.9,507.4" fill="#000000" />
<polygon points="239.95,499.1 243.25,502.4 239.95,505.7 236.65,502.4" fill="#000000" />
<polygon points="246.7,494 250,497.3 246.7,500.6 243.4,497.3" fill="#000000" />
<polygon points="253.45,488 256.75,491.3 253.45,494.6 250.15,491.3" fill="#000000" />
<polygon points="260.2,482.3 263.5,485.6 260.2,488.9 256.9,485.6" fill="#000000" />
<polyline points="71.2,603.6 77.95,601.2 84.7,600.2 91.45,600.2 98.2,601.6 104.95,603 111.7,603.6 118.45,605 125.2,605.6 131.95,604.6 138.7,602.6 145.45,602.2 152.2,601 158.95,600.6 165.7,600.2 172.45,599.3 179.2,598.3 185.95,597.3 192.7,594.2 199.45,590.6 206.2,587.2 212.95,584.1 219.7,582.1 226.45,580.1 233.2,576.5 239.95,573 246.7,568.4 253.45,563.9 260.2,558.3" stroke="#e8322b" stroke-width="1.6" fill="none" />
<circle cx="71.2" cy="603.6" r="3" fill="#e8322b" />
<circle cx="77.95" cy="601.2" r="3" fill="#e8322b" />
<circle cx="84.7" cy="600.2" r="3" fill="#e8322b" />
<circle cx="91.45" cy="600.2" r="3" fill="#e8322b" />
<circle cx="98.2" cy="601.6" r="3" fill="#e8322b" />
<circle cx="104.95" cy="603" r="3" fill="#e8322b" />
<circle cx="111.7" cy="603.6" r="3" fill="#e8322b" />
<circle cx="118.45" cy="605" r="3" fill="#e8322b" />
<circle cx="125.2" cy="605.6" r="3" fill="#e8322b" />
<circle cx="131.95" cy="604.6" r="3" fill="#e8322b" />
<circle cx="138.7" cy="602.6" r="3" fill="#e8322b" />
<circle cx="145.45" cy="602.2" r="3" fill="#e8322b" />
<circle cx="152.2" cy="601" r="3" fill="#e8322b" />
<circle cx="158.95" cy="600.6" r="3" fill="#e8322b" />
<circle cx="165.7" cy="600.2" r="3" fill="#e8322b" />
<circle cx="172.45" cy="599.3" r="3" fill="#e8322b" />
<circle cx="179.2" cy="598.3" r="3" fill="#e8322b" />
<circle cx="185.95" cy="597.3" r="3" fill="#e8322b" />
<circle cx="192.7" cy="594.2" r="3" fill="#e8322b" />
<circle cx="199.45" cy="590.6" r="3" fill="#e8322b" />
<circle cx="206.2" cy="587.2" r="3" fill="#e8322b" />
<circle cx="212.95" cy="584.1" r="3" fill="#e8322b" />
<circle cx="219.7" cy="582.1" r="3" fill="#e8322b" />
<circle cx="226.45" cy="580.1" r="3" fill="#e8322b" />
<circle cx="233.2" cy="576.5" r="3" fill="#e8322b" />
<circle cx="239.95" cy="573" r="3" fill="#e8322b" />
<circle cx="246.7" cy="568.4" r="3" fill="#e8322b" />
<circle cx="253.45" cy="563.9" r="3" fill="#e8322b" />
<circle cx="260.2" cy="558.3" r="3" fill="#e8322b" />
<line x1="66.3" y1="472.8" x2="88.9" y2="472.8" stroke="#000000" stroke-width="1.8" />
<polygon points="76.9,468.2 82.5,472.8 76.9,477.4 71.3,472.8" fill="#000000" />
<text x="95.2" y="477.6" font-size="11" textLength="44.9" lengthAdjust="spacingAndGlyphs" stroke="#000">Cyclin A2</text>
<text x="140.5" y="474.2" font-size="7" textLength="10.9" lengthAdjust="spacingAndGlyphs" stroke="#000">flox</text>
<line x1="66.3" y1="488.4" x2="88.9" y2="488.4" stroke="#3a58a8" stroke-width="1.8" />
<rect x="72.1" y="483.6" width="9.6" height="9.6" fill="#3a58a8" />
<text x="95.2" y="492" font-size="11" textLength="44.9" lengthAdjust="spacingAndGlyphs" stroke="#000">Cyclin A2</text>
<text x="140.5" y="488.6" font-size="7" textLength="10.9" lengthAdjust="spacingAndGlyphs" stroke="#000">null</text>
<line x1="66.3" y1="502.9" x2="88.9" y2="502.9" stroke="#20954c" stroke-width="1.8" />
<polygon points="76.9,497.65 82.15,507.15 71.65,507.15" fill="#20954c" />
<text x="95.2" y="507.2" font-size="11" textLength="24" lengthAdjust="spacingAndGlyphs" stroke="#000">Cdk2</text>
<text x="119.7" y="503.8" font-size="7" textLength="10.8" lengthAdjust="spacingAndGlyphs" stroke="#000">null</text>
<text x="132.2" y="507.2" font-size="11" textLength="42.8" lengthAdjust="spacingAndGlyphs" stroke="#000">cyclin A2</text>
<text x="175.3" y="503.8" font-size="7" textLength="11.2" lengthAdjust="spacingAndGlyphs" stroke="#000">flox</text>
<line x1="66.3" y1="516.8" x2="88.9" y2="516.8" stroke="#e8322b" stroke-width="1.8" />
<circle cx="76.9" cy="516.8" r="5.2" fill="#e8322b" />
<text x="95.2" y="520.9" font-size="11" textLength="24" lengthAdjust="spacingAndGlyphs" stroke="#000">Cdk2</text>
<text x="119.7" y="517.5" font-size="7" textLength="10.8" lengthAdjust="spacingAndGlyphs" stroke="#000">null</text>
<text x="132.2" y="520.9" font-size="11" textLength="42.8" lengthAdjust="spacingAndGlyphs" stroke="#000">cyclin A2</text>
<text x="175.3" y="517.5" font-size="7" textLength="11.2" lengthAdjust="spacingAndGlyphs" stroke="#000">null</text>
<text x="221.5" y="601.8" font-size="12" textLength="24.3" lengthAdjust="spacingAndGlyphs" stroke="#000">21%</text>
<text x="249.6" y="601.8" font-size="12" textLength="9" lengthAdjust="spacingAndGlyphs" stroke="#000">O</text>
<text x="259" y="606.2" font-size="7.2" textLength="4.2" lengthAdjust="spacingAndGlyphs" stroke="#000">2</text>
<rect x="295.2" y="462.7" width="200.8" height="147.1" fill="none" stroke="#000" stroke-width="2.2" />
<line x1="302.2" y1="609.8" x2="302.2" y2="612.8" stroke="#000" stroke-width="1.4" />
<text x="302.2" y="624.2" font-size="10" font-weight="bold" text-anchor="middle" stroke="#000">2</text>
<line x1="328.88" y1="609.8" x2="328.88" y2="612.8" stroke="#000" stroke-width="1.4" />
<text x="328.88" y="624.2" font-size="10" font-weight="bold" text-anchor="middle" stroke="#000">6</text>
<line x1="355.56" y1="609.8" x2="355.56" y2="612.8" stroke="#000" stroke-width="1.4" />
<text x="355.56" y="624.2" font-size="10" font-weight="bold" text-anchor="middle" stroke="#000">10</text>
<line x1="382.24" y1="609.8" x2="382.24" y2="612.8" stroke="#000" stroke-width="1.4" />
<text x="382.24" y="624.2" font-size="10" font-weight="bold" text-anchor="middle" stroke="#000">14</text>
<line x1="408.92" y1="609.8" x2="408.92" y2="612.8" stroke="#000" stroke-width="1.4" />
<text x="408.92" y="624.2" font-size="10" font-weight="bold" text-anchor="middle" stroke="#000">18</text>
<line x1="435.6" y1="609.8" x2="435.6" y2="612.8" stroke="#000" stroke-width="1.4" />
<text x="435.6" y="624.2" font-size="10" font-weight="bold" text-anchor="middle" stroke="#000">22</text>
<line x1="462.28" y1="609.8" x2="462.28" y2="612.8" stroke="#000" stroke-width="1.4" />
<text x="462.28" y="624.2" font-size="10" font-weight="bold" text-anchor="middle" stroke="#000">26</text>
<line x1="488.96" y1="609.8" x2="488.96" y2="612.8" stroke="#000" stroke-width="1.4" />
<text x="488.96" y="624.2" font-size="10" font-weight="bold" text-anchor="middle" stroke="#000">30</text>
<line x1="292.4" y1="496.8" x2="295.2" y2="496.8" stroke="#000" stroke-width="1.6" />
<text x="290.2" y="496.2" font-size="6.6" font-weight="bold" text-anchor="end" textLength="5.1" lengthAdjust="spacingAndGlyphs" stroke="#000">19</text>
<text x="284.1" y="500.8" font-size="10" font-weight="bold" text-anchor="end" textLength="10.4" lengthAdjust="spacingAndGlyphs" stroke="#000">10</text>
<line x1="292.4" y1="536.7" x2="295.2" y2="536.7" stroke="#000" stroke-width="1.6" />
<text x="290.2" y="536.1" font-size="6.6" font-weight="bold" text-anchor="end" textLength="5.1" lengthAdjust="spacingAndGlyphs" stroke="#000">14</text>
<text x="284.1" y="540.7" font-size="10" font-weight="bold" text-anchor="end" textLength="10.4" lengthAdjust="spacingAndGlyphs" stroke="#000">10</text>
<line x1="292.4" y1="573.8" x2="295.2" y2="573.8" stroke="#000" stroke-width="1.6" />
<text x="290.2" y="573.2" font-size="6.6" font-weight="bold" text-anchor="end" textLength="2.6" lengthAdjust="spacingAndGlyphs" stroke="#000">9</text>
<text x="286.6" y="577.8" font-size="10" font-weight="bold" text-anchor="end" textLength="10.4" lengthAdjust="spacingAndGlyphs" stroke="#000">10</text>
<line x1="292.4" y1="610.9" x2="295.2" y2="610.9" stroke="#000" stroke-width="1.6" />
<text x="290.2" y="610.3" font-size="6.6" font-weight="bold" text-anchor="end" textLength="2.6" lengthAdjust="spacingAndGlyphs" stroke="#000">4</text>
<text x="286.6" y="614.9" font-size="10" font-weight="bold" text-anchor="end" textLength="10.4" lengthAdjust="spacingAndGlyphs" stroke="#000">10</text>
<polyline points="302.2,606.4 308.87,599.8 315.54,595.1 322.21,592.3 328.88,590.3 335.55,588.3 342.22,585.6 348.89,583.6 355.56,581.6 362.23,579.6 368.9,576.9 375.57,574.5 382.24,572.1 388.91,567.5 395.58,562 402.25,555 408.92,549.8 415.59,542.7 422.26,535.7 428.93,527.6 435.6,521.1 442.27,514.5 448.94,508.4 455.61,503.4 462.28,497.3 468.95,490.2 475.62,484.2 482.29,477.1 488.96,469.4" stroke="#3a58a8" stroke-width="1.6" fill="none" />
<rect x="299.85" y="604.05" width="4.7" height="4.7" fill="#3a58a8" />
<rect x="306.52" y="597.45" width="4.7" height="4.7" fill="#3a58a8" />
<rect x="313.19" y="592.75" width="4.7" height="4.7" fill="#3a58a8" />
<rect x="319.86" y="589.95" width="4.7" height="4.7" fill="#3a58a8" />
<rect x="326.53" y="587.95" width="4.7" height="4.7" fill="#3a58a8" />
<rect x="333.2" y="585.95" width="4.7" height="4.7" fill="#3a58a8" />
<rect x="339.87" y="583.25" width="4.7" height="4.7" fill="#3a58a8" />
<rect x="346.54" y="581.25" width="4.7" height="4.7" fill="#3a58a8" />
<rect x="353.21" y="579.25" width="4.7" height="4.7" fill="#3a58a8" />
<rect x="359.88" y="577.25" width="4.7" height="4.7" fill="#3a58a8" />
<rect x="366.55" y="574.55" width="4.7" height="4.7" fill="#3a58a8" />
<rect x="373.22" y="572.15" width="4.7" height="4.7" fill="#3a58a8" />
<rect x="379.89" y="569.75" width="4.7" height="4.7" fill="#3a58a8" />
<rect x="386.56" y="565.15" width="4.7" height="4.7" fill="#3a58a8" />
<rect x="393.23" y="559.65" width="4.7" height="4.7" fill="#3a58a8" />
<rect x="399.9" y="552.65" width="4.7" height="4.7" fill="#3a58a8" />
<rect x="406.57" y="547.45" width="4.7" height="4.7" fill="#3a58a8" />
<rect x="413.24" y="540.35" width="4.7" height="4.7" fill="#3a58a8" />
<rect x="419.91" y="533.35" width="4.7" height="4.7" fill="#3a58a8" />
<rect x="426.58" y="525.25" width="4.7" height="4.7" fill="#3a58a8" />
<rect x="433.25" y="518.75" width="4.7" height="4.7" fill="#3a58a8" />
<rect x="439.92" y="512.15" width="4.7" height="4.7" fill="#3a58a8" />
<rect x="446.59" y="506.05" width="4.7" height="4.7" fill="#3a58a8" />
<rect x="453.26" y="501.05" width="4.7" height="4.7" fill="#3a58a8" />
<rect x="459.93" y="494.95" width="4.7" height="4.7" fill="#3a58a8" />
<rect x="466.6" y="487.85" width="4.7" height="4.7" fill="#3a58a8" />
<rect x="473.27" y="481.85" width="4.7" height="4.7" fill="#3a58a8" />
<rect x="479.94" y="474.75" width="4.7" height="4.7" fill="#3a58a8" />
<rect x="486.61" y="467.05" width="4.7" height="4.7" fill="#3a58a8" />
<polyline points="302.2,606.4 308.87,599.8 315.54,594.7 322.21,592.3 328.88,588.7 335.55,585.6 342.22,582.6 348.89,579 355.56,575.5 362.23,572.1 368.9,568.5 375.57,564.8 382.24,560.8 388.91,557.4 395.58,553.3 402.25,549.8 408.92,545.8 415.59,541.7 422.26,537.7 428.93,533.7 435.6,529.2 442.27,524.6 448.94,519.9 455.61,514.5 462.28,508.4 468.95,501.3 475.62,495.3 482.29,489.2 488.96,483.6" stroke="#20954c" stroke-width="1.6" fill="none" />
<polygon points="302.2,603.36 305.25,608.87 299.15,608.87" fill="#20954c" />
<polygon points="308.87,596.75 311.92,602.26 305.82,602.26" fill="#20954c" />
<polygon points="315.54,591.66 318.58,597.17 312.49,597.17" fill="#20954c" />
<polygon points="322.21,589.25 325.25,594.76 319.16,594.76" fill="#20954c" />
<polygon points="328.88,585.66 331.93,591.17 325.83,591.17" fill="#20954c" />
<polygon points="335.55,582.56 338.6,588.07 332.5,588.07" fill="#20954c" />
<polygon points="342.22,579.56 345.26,585.07 339.17,585.07" fill="#20954c" />
<polygon points="348.89,575.96 351.94,581.47 345.84,581.47" fill="#20954c" />
<polygon points="355.56,572.46 358.61,577.97 352.51,577.97" fill="#20954c" />
<polygon points="362.23,569.06 365.28,574.57 359.19,574.57" fill="#20954c" />
<polygon points="368.9,565.46 371.94,570.97 365.85,570.97" fill="#20954c" />
<polygon points="375.57,561.75 378.62,567.26 372.52,567.26" fill="#20954c" />
<polygon points="382.24,557.75 385.29,563.26 379.19,563.26" fill="#20954c" />
<polygon points="388.91,554.36 391.95,559.87 385.86,559.87" fill="#20954c" />
<polygon points="395.58,550.25 398.62,555.76 392.53,555.76" fill="#20954c" />
<polygon points="402.25,546.75 405.3,552.26 399.2,552.26" fill="#20954c" />
<polygon points="408.92,542.75 411.96,548.26 405.87,548.26" fill="#20954c" />
<polygon points="415.59,538.66 418.63,544.17 412.54,544.17" fill="#20954c" />
<polygon points="422.26,534.66 425.31,540.17 419.21,540.17" fill="#20954c" />
<polygon points="428.93,530.66 431.98,536.17 425.88,536.17" fill="#20954c" />
<polygon points="435.6,526.16 438.65,531.67 432.56,531.67" fill="#20954c" />
<polygon points="442.27,521.56 445.31,527.07 439.22,527.07" fill="#20954c" />
<polygon points="448.94,516.86 451.99,522.37 445.89,522.37" fill="#20954c" />
<polygon points="455.61,511.45 458.66,516.97 452.56,516.97" fill="#20954c" />
<polygon points="462.28,505.35 465.32,510.86 459.23,510.86" fill="#20954c" />
<polygon points="468.95,498.25 472,503.76 465.9,503.76" fill="#20954c" />
<polygon points="475.62,492.25 478.67,497.76 472.57,497.76" fill="#20954c" />
<polygon points="482.29,486.15 485.33,491.66 479.24,491.66" fill="#20954c" />
<polygon points="488.96,480.56 492,486.06 485.91,486.06" fill="#20954c" />
<polyline points="302.2,606.4 308.87,598.8 315.54,593.7 322.21,589.7 328.88,585 335.55,580.2 342.22,575.5 348.89,571.5 355.56,568.1 362.23,563.4 368.9,559.4 375.57,555.9 382.24,551.9 388.91,548.3 395.58,543.8 402.25,541 408.92,536.7 415.59,532.7 422.26,528.6 428.93,524.6 435.6,520.5 442.27,516.5 448.94,511.4 455.61,507 462.28,502.4 468.95,496.9 475.62,491.3 482.29,486.8 488.96,481.6" stroke="#000000" stroke-width="1.6" fill="none" />
<polygon points="302.2,603.1 305.5,606.4 302.2,609.7 298.9,606.4" fill="#000000" />
<polygon points="308.87,595.5 312.17,598.8 308.87,602.1 305.57,598.8" fill="#000000" />
<polygon points="315.54,590.4 318.84,593.7 315.54,597 312.24,593.7" fill="#000000" />
<polygon points="322.21,586.4 325.51,589.7 322.21,593 318.91,589.7" fill="#000000" />
<polygon points="328.88,581.7 332.18,585 328.88,588.3 325.58,585" fill="#000000" />
<polygon points="335.55,576.9 338.85,580.2 335.55,583.5 332.25,580.2" fill="#000000" />
<polygon points="342.22,572.2 345.52,575.5 342.22,578.8 338.92,575.5" fill="#000000" />
<polygon points="348.89,568.2 352.19,571.5 348.89,574.8 345.59,571.5" fill="#000000" />
<polygon points="355.56,564.8 358.86,568.1 355.56,571.4 352.26,568.1" fill="#000000" />
<polygon points="362.23,560.1 365.53,563.4 362.23,566.7 358.93,563.4" fill="#000000" />
<polygon points="368.9,556.1 372.2,559.4 368.9,562.7 365.6,559.4" fill="#000000" />
<polygon points="375.57,552.6 378.87,555.9 375.57,559.2 372.27,555.9" fill="#000000" />
<polygon points="382.24,548.6 385.54,551.9 382.24,555.2 378.94,551.9" fill="#000000" />
<polygon points="388.91,545 392.21,548.3 388.91,551.6 385.61,548.3" fill="#000000" />
<polygon points="395.58,540.5 398.88,543.8 395.58,547.1 392.28,543.8" fill="#000000" />
<polygon points="402.25,537.7 405.55,541 402.25,544.3 398.95,541" fill="#000000" />
<polygon points="408.92,533.4 412.22,536.7 408.92,540 405.62,536.7" fill="#000000" />
<polygon points="415.59,529.4 418.89,532.7 415.59,536 412.29,532.7" fill="#000000" />
<polygon points="422.26,525.3 425.56,528.6 422.26,531.9 418.96,528.6" fill="#000000" />
<polygon points="428.93,521.3 432.23,524.6 428.93,527.9 425.63,524.6" fill="#000000" />
<polygon points="435.6,517.2 438.9,520.5 435.6,523.8 432.3,520.5" fill="#000000" />
<polygon points="442.27,513.2 445.57,516.5 442.27,519.8 438.97,516.5" fill="#000000" />
<polygon points="448.94,508.1 452.24,511.4 448.94,514.7 445.64,511.4" fill="#000000" />
<polygon points="455.61,503.7 458.91,507 455.61,510.3 452.31,507" fill="#000000" />
<polygon points="462.28,499.1 465.58,502.4 462.28,505.7 458.98,502.4" fill="#000000" />
<polygon points="468.95,493.6 472.25,496.9 468.95,500.2 465.65,496.9" fill="#000000" />
<polygon points="475.62,488 478.92,491.3 475.62,494.6 472.32,491.3" fill="#000000" />
<polygon points="482.29,483.5 485.59,486.8 482.29,490.1 478.99,486.8" fill="#000000" />
<polygon points="488.96,478.3 492.26,481.6 488.96,484.9 485.66,481.6" fill="#000000" />
<polyline points="302.2,606.4 308.87,602.8 315.54,601.8 322.21,600.8 328.88,600.4 335.55,599.8 342.22,599.2 348.89,598.8 355.56,598.4 362.23,597.7 368.9,596.7 375.57,596.3 382.24,595.1 388.91,593.5 395.58,591.8 402.25,589.5 408.92,585.9 415.59,582.6 422.26,579.6 428.93,576.2 435.6,572.7 442.27,569.7 448.94,566.5 455.61,562.3 462.28,557.2 468.95,553.1 475.62,548 482.29,544.3 488.96,539.7" stroke="#e8322b" stroke-width="1.6" fill="none" />
<circle cx="302.2" cy="606.4" r="3" fill="#e8322b" />
<circle cx="308.87" cy="602.8" r="3" fill="#e8322b" />
<circle cx="315.54" cy="601.8" r="3" fill="#e8322b" />
<circle cx="322.21" cy="600.8" r="3" fill="#e8322b" />
<circle cx="328.88" cy="600.4" r="3" fill="#e8322b" />
<circle cx="335.55" cy="599.8" r="3" fill="#e8322b" />
<circle cx="342.22" cy="599.2" r="3" fill="#e8322b" />
<circle cx="348.89" cy="598.8" r="3" fill="#e8322b" />
<circle cx="355.56" cy="598.4" r="3" fill="#e8322b" />
<circle cx="362.23" cy="597.7" r="3" fill="#e8322b" />
<circle cx="368.9" cy="596.7" r="3" fill="#e8322b" />
<circle cx="375.57" cy="596.3" r="3" fill="#e8322b" />
<circle cx="382.24" cy="595.1" r="3" fill="#e8322b" />
<circle cx="388.91" cy="593.5" r="3" fill="#e8322b" />
<circle cx="395.58" cy="591.8" r="3" fill="#e8322b" />
<circle cx="402.25" cy="589.5" r="3" fill="#e8322b" />
<circle cx="408.92" cy="585.9" r="3" fill="#e8322b" />
<circle cx="415.59" cy="582.6" r="3" fill="#e8322b" />
<circle cx="422.26" cy="579.6" r="3" fill="#e8322b" />
<circle cx="428.93" cy="576.2" r="3" fill="#e8322b" />
<circle cx="435.6" cy="572.7" r="3" fill="#e8322b" />
<circle cx="442.27" cy="569.7" r="3" fill="#e8322b" />
<circle cx="448.94" cy="566.5" r="3" fill="#e8322b" />
<circle cx="455.61" cy="562.3" r="3" fill="#e8322b" />
<circle cx="462.28" cy="557.2" r="3" fill="#e8322b" />
<circle cx="468.95" cy="553.1" r="3" fill="#e8322b" />
<circle cx="475.62" cy="548" r="3" fill="#e8322b" />
<circle cx="482.29" cy="544.3" r="3" fill="#e8322b" />
<circle cx="488.96" cy="539.7" r="3" fill="#e8322b" />
<line x1="298.3" y1="472.8" x2="320" y2="472.8" stroke="#000000" stroke-width="1.8" />
<polygon points="308.4,468.2 314,472.8 308.4,477.4 302.8,472.8" fill="#000000" />
<text x="325.3" y="476.9" font-size="11" textLength="45.1" lengthAdjust="spacingAndGlyphs" stroke="#000">Cyclin A2</text>
<text x="370.7" y="473.5" font-size="7" textLength="11" lengthAdjust="spacingAndGlyphs" stroke="#000">flox</text>
<line x1="298.3" y1="488" x2="320" y2="488" stroke="#3a58a8" stroke-width="1.8" />
<rect x="303.6" y="483.2" width="9.6" height="9.6" fill="#3a58a8" />
<text x="325.3" y="491.3" font-size="11" textLength="45.1" lengthAdjust="spacingAndGlyphs" stroke="#000">Cyclin A2</text>
<text x="370.7" y="487.9" font-size="7" textLength="11" lengthAdjust="spacingAndGlyphs" stroke="#000">null</text>
<line x1="298.3" y1="502.9" x2="320" y2="502.9" stroke="#20954c" stroke-width="1.8" />
<polygon points="308.4,497.65 313.65,507.15 303.15,507.15" fill="#20954c" />
<text x="324.8" y="506.5" font-size="11" textLength="24.2" lengthAdjust="spacingAndGlyphs" stroke="#000">Cdk2</text>
<text x="349.4" y="503.1" font-size="7" textLength="11" lengthAdjust="spacingAndGlyphs" stroke="#000">null</text>
<text x="362.5" y="506.5" font-size="11" textLength="41.5" lengthAdjust="spacingAndGlyphs" stroke="#000">cyclin A2</text>
<text x="404.3" y="503.1" font-size="7" textLength="12" lengthAdjust="spacingAndGlyphs" stroke="#000">flox</text>
<line x1="298.3" y1="516.1" x2="320" y2="516.1" stroke="#e8322b" stroke-width="1.8" />
<circle cx="308.4" cy="516.1" r="5.2" fill="#e8322b" />
<text x="327.2" y="520.9" font-size="11" textLength="24.2" lengthAdjust="spacingAndGlyphs" stroke="#000">Cdk2</text>
<text x="351.8" y="517.5" font-size="7" textLength="10.7" lengthAdjust="spacingAndGlyphs" stroke="#000">null</text>
<text x="364.2" y="520.9" font-size="11" textLength="41.5" lengthAdjust="spacingAndGlyphs" stroke="#000">cyclin A2</text>
<text x="406" y="517.5" font-size="7" textLength="11.8" lengthAdjust="spacingAndGlyphs" stroke="#000">null</text>
<text x="460.6" y="602.2" font-size="12" textLength="16.8" lengthAdjust="spacingAndGlyphs" stroke="#000">3%</text>
<text x="480.5" y="602.2" font-size="12" textLength="9" lengthAdjust="spacingAndGlyphs" stroke="#000">O</text>
<text x="490" y="606.6" font-size="7.2" textLength="4.2" lengthAdjust="spacingAndGlyphs" stroke="#000">2</text>
<text x="20" y="660.5" font-size="16.5" font-weight="bold" textLength="10.8" lengthAdjust="spacingAndGlyphs" stroke="#000">E</text>
<rect x="73.75" y="661.3" width="77.5" height="3.2" fill="#000" />
<text x="111.25" y="659" font-size="12" text-anchor="middle" fill="#000" stroke="#000">1</text>
<rect x="156.25" y="661.3" width="67.5" height="3.2" fill="#000" />
<text x="188.75" y="659" font-size="12" text-anchor="middle" fill="#3b4f94" stroke="#3b4f94">2</text>
<rect x="228.75" y="661.3" width="66.25" height="3.2" fill="#000" />
<text x="261.25" y="659" font-size="12" text-anchor="middle" fill="#1f8a6a" stroke="#1f8a6a">3</text>
<rect x="299.5" y="661.3" width="66.75" height="3.2" fill="#000" />
<text x="332" y="659" font-size="12" text-anchor="middle" fill="#c7313f" stroke="#c7313f">4</text>
<text x="70" y="682.5" font-size="12.5" text-anchor="end" textLength="46.3" lengthAdjust="spacingAndGlyphs" stroke="#000">Passage</text>
<text x="91.3" y="683.5" font-size="11.5" stroke="#000" transform="rotate(-90 91.3 683.5)">4</text>
<text x="111.9" y="683.5" font-size="11.5" stroke="#000" transform="rotate(-90 111.9 683.5)">20</text>
<text x="131.1" y="683.5" font-size="11.5" stroke="#000" transform="rotate(-90 131.1 683.5)">32</text>
<text x="148" y="683.5" font-size="11.5" stroke="#000" transform="rotate(-90 148 683.5)">38</text>
<text x="167.3" y="683.5" font-size="11.5" stroke="#000" transform="rotate(-90 167.3 683.5)">4</text>
<text x="186.8" y="683.5" font-size="11.5" stroke="#000" transform="rotate(-90 186.8 683.5)">20</text>
<text x="204.8" y="683.5" font-size="11.5" stroke="#000" transform="rotate(-90 204.8 683.5)">32</text>
<text x="221.8" y="683.5" font-size="11.5" stroke="#000" transform="rotate(-90 221.8 683.5)">38</text>
<text x="236" y="683.5" font-size="11.5" stroke="#000" transform="rotate(-90 236 683.5)">4</text>
<text x="255.5" y="683.5" font-size="11.5" stroke="#000" transform="rotate(-90 255.5 683.5)">20</text>
<text x="273.5" y="683.5" font-size="11.5" stroke="#000" transform="rotate(-90 273.5 683.5)">32</text>
<text x="290.5" y="683.5" font-size="11.5" stroke="#000" transform="rotate(-90 290.5 683.5)">38</text>
<text x="305.8" y="683.5" font-size="11.5" stroke="#000" transform="rotate(-90 305.8 683.5)">4</text>
<text x="325.3" y="683.5" font-size="11.5" stroke="#000" transform="rotate(-90 325.3 683.5)">20</text>
<text x="343.3" y="683.5" font-size="11.5" stroke="#000" transform="rotate(-90 343.3 683.5)">32</text>
<text x="360.3" y="683.5" font-size="11.5" stroke="#000" transform="rotate(-90 360.3 683.5)">38</text>
<rect x="74.2" y="687.5" width="310.1" height="12.5" fill="#cdcdcd" stroke="#262626" stroke-width="1.3" />
<text x="70" y="697.8" font-size="12.5" text-anchor="end" stroke="#000">cycA2</text>
<rect x="74.2" y="703.5" width="310.1" height="16.9" fill="#cdcdcd" stroke="#262626" stroke-width="1.3" />
<text x="70" y="716" font-size="12.5" text-anchor="end" stroke="#000">Cdk2</text>
<rect x="74.2" y="724.2" width="310.1" height="11.8" fill="#cdcdcd" stroke="#262626" stroke-width="1.3" />
<text x="70" y="734.4" font-size="12.5" text-anchor="end" stroke="#000">Hsp90</text>
<defs><filter id="bl" x="-20%" y="-300%" width="140%" height="700%"><feGaussianBlur stdDeviation="0.7"/></filter></defs>
<g filter="url(#bl)"><rect x="82.4" y="692.4" width="18.2" height="2.0" rx="1.0" fill="#000" fill-opacity="0.45"/><rect x="82.4" y="705.9" width="18.2" height="2.2" rx="1.1" fill="#000" fill-opacity="0.60"/><rect x="82.2" y="728.2" width="18.6" height="2.4" rx="1.2" fill="#000" fill-opacity="0.88"/><rect x="104.6" y="691.7" width="18.2" height="3.4" rx="1.7" fill="#000" fill-opacity="0.95"/><rect x="104.6" y="705.6" width="18.2" height="2.7" rx="1.4" fill="#000" fill-opacity="0.90"/><rect x="106.2" y="714.2" width="15.0" height="2.0" rx="1.0" fill="#000" fill-opacity="0.18"/><rect x="104.4" y="728.2" width="18.6" height="2.4" rx="1.2" fill="#000" fill-opacity="0.88"/><rect x="122.7" y="691.6" width="18.2" height="3.6" rx="1.8" fill="#000" fill-opacity="1.00"/><rect x="122.7" y="705.8" width="18.2" height="2.5" rx="1.2" fill="#000" fill-opacity="0.85"/><rect x="124.3" y="714.2" width="15.0" height="2.0" rx="1.0" fill="#000" fill-opacity="0.10"/><rect x="122.5" y="728.2" width="18.6" height="2.4" rx="1.2" fill="#000" fill-opacity="0.88"/><rect x="140.7" y="691.5" width="18.2" height="3.8" rx="1.9" fill="#000" fill-opacity="1.00"/><rect x="140.7" y="705.6" width="18.2" height="2.7" rx="1.4" fill="#000" fill-opacity="0.85"/><rect x="142.3" y="714.2" width="15.0" height="2.0" rx="1.0" fill="#000" fill-opacity="0.10"/><rect x="140.5" y="728.2" width="18.6" height="2.4" rx="1.2" fill="#000" fill-opacity="0.88"/><rect x="155.9" y="706.0" width="18.2" height="2.0" rx="1.0" fill="#000" fill-opacity="0.45"/><rect x="155.7" y="728.2" width="18.6" height="2.4" rx="1.2" fill="#000" fill-opacity="0.88"/><rect x="173.9" y="705.6" width="18.2" height="2.8" rx="1.4" fill="#000" fill-opacity="0.90"/><rect x="175.5" y="714.2" width="15.0" height="2.0" rx="1.0" fill="#000" fill-opacity="0.25"/><rect x="173.7" y="728.2" width="18.6" height="2.4" rx="1.2" fill="#000" fill-opacity="0.88"/><rect x="191.9" y="705.5" width="18.2" height="3.0" rx="1.5" fill="#000" fill-opacity="0.95"/><rect x="193.5" y="714.2" width="15.0" height="2.0" rx="1.0" fill="#000" fill-opacity="0.30"/><rect x="191.7" y="728.2" width="18.6" height="2.4" rx="1.2" fill="#000" fill-opacity="0.88"/><rect x="209.9" y="705.5" width="18.2" height="3.0" rx="1.5" fill="#000" fill-opacity="0.95"/><rect x="211.5" y="714.2" width="15.0" height="2.0" rx="1.0" fill="#000" fill-opacity="0.40"/><rect x="209.7" y="728.2" width="18.6" height="2.4" rx="1.2" fill="#000" fill-opacity="0.88"/><rect x="227.7" y="728.2" width="18.6" height="2.4" rx="1.2" fill="#000" fill-opacity="0.88"/><rect x="248.4" y="692.6" width="13.5" height="1.6" rx="0.8" fill="#000" fill-opacity="0.30"/><rect x="245.9" y="728.2" width="18.6" height="2.4" rx="1.2" fill="#000" fill-opacity="0.88"/><rect x="266.6" y="692.3" width="13.5" height="2.2" rx="1.1" fill="#000" fill-opacity="0.60"/><rect x="264.1" y="728.2" width="18.6" height="2.4" rx="1.2" fill="#000" fill-opacity="0.88"/><rect x="282.4" y="692.0" width="13.5" height="2.8" rx="1.4" fill="#000" fill-opacity="1.00"/><rect x="279.9" y="728.2" width="18.6" height="2.4" rx="1.2" fill="#000" fill-opacity="0.88"/><rect x="297.7" y="728.2" width="18.6" height="2.4" rx="1.2" fill="#000" fill-opacity="0.72"/><rect x="315.7" y="728.2" width="18.6" height="2.4" rx="1.2" fill="#000" fill-opacity="0.72"/><rect x="333.7" y="728.2" width="18.6" height="2.4" rx="1.2" fill="#000" fill-opacity="0.72"/><rect x="351.0" y="728.2" width="22.0" height="2.4" rx="1.2" fill="#000" fill-opacity="0.72"/></g>
<text x="388" y="690" font-size="12" fill="#000" stroke="#000">1</text>
<text x="394.6" y="690" font-size="12" stroke="#000">:</text>
<text x="399.5" y="690" font-size="12" textLength="47.5" lengthAdjust="spacingAndGlyphs" stroke="#000">Cyclin A2</text>
<text x="447.3" y="686.2" font-size="7.6" textLength="12" lengthAdjust="spacingAndGlyphs" stroke="#000">flox</text>
<text x="388" y="707.5" font-size="12" fill="#3b4f94" stroke="#3b4f94">2</text>
<text x="394.6" y="707.5" font-size="12" stroke="#000">:</text>
<text x="399.5" y="707.5" font-size="12" textLength="47.5" lengthAdjust="spacingAndGlyphs" stroke="#000">Cyclin A2</text>
<text x="447.3" y="703.7" font-size="7.6" textLength="12" lengthAdjust="spacingAndGlyphs" stroke="#000">null</text>
<text x="388" y="725.5" font-size="12" fill="#1f8a6a" stroke="#1f8a6a">3</text>
<text x="394.6" y="725.5" font-size="12" stroke="#000">:</text>
<text x="399.5" y="725.5" font-size="12" textLength="26" lengthAdjust="spacingAndGlyphs" stroke="#000">Cdk2</text>
<text x="426" y="721.7" font-size="7.6" textLength="10.5" lengthAdjust="spacingAndGlyphs" stroke="#000">null</text>
<text x="439" y="725.5" font-size="12" textLength="46" lengthAdjust="spacingAndGlyphs" stroke="#000">cyclin A2</text>
<text x="485.5" y="721.7" font-size="7.6" textLength="12" lengthAdjust="spacingAndGlyphs" stroke="#000">flox</text>
<text x="388" y="742.5" font-size="12" fill="#d9534a" stroke="#d9534a">4</text>
<text x="394.6" y="742.5" font-size="12" stroke="#000">:</text>
<text x="399.5" y="742.5" font-size="12" textLength="26" lengthAdjust="spacingAndGlyphs" stroke="#000">Cdk2</text>
<text x="426" y="738.7" font-size="7.6" textLength="10.5" lengthAdjust="spacingAndGlyphs" stroke="#000">null</text>
<text x="439" y="742.5" font-size="12" textLength="46" lengthAdjust="spacingAndGlyphs" stroke="#000">cyclin A2</text>
<text x="485.5" y="738.7" font-size="7.6" textLength="12" lengthAdjust="spacingAndGlyphs" stroke="#000">null</text>
<rect x="0.9" y="0.75" width="518.2" height="761.5" fill="none" stroke="#8a8a8a" stroke-width="1.8"/>
</svg></body></html>
